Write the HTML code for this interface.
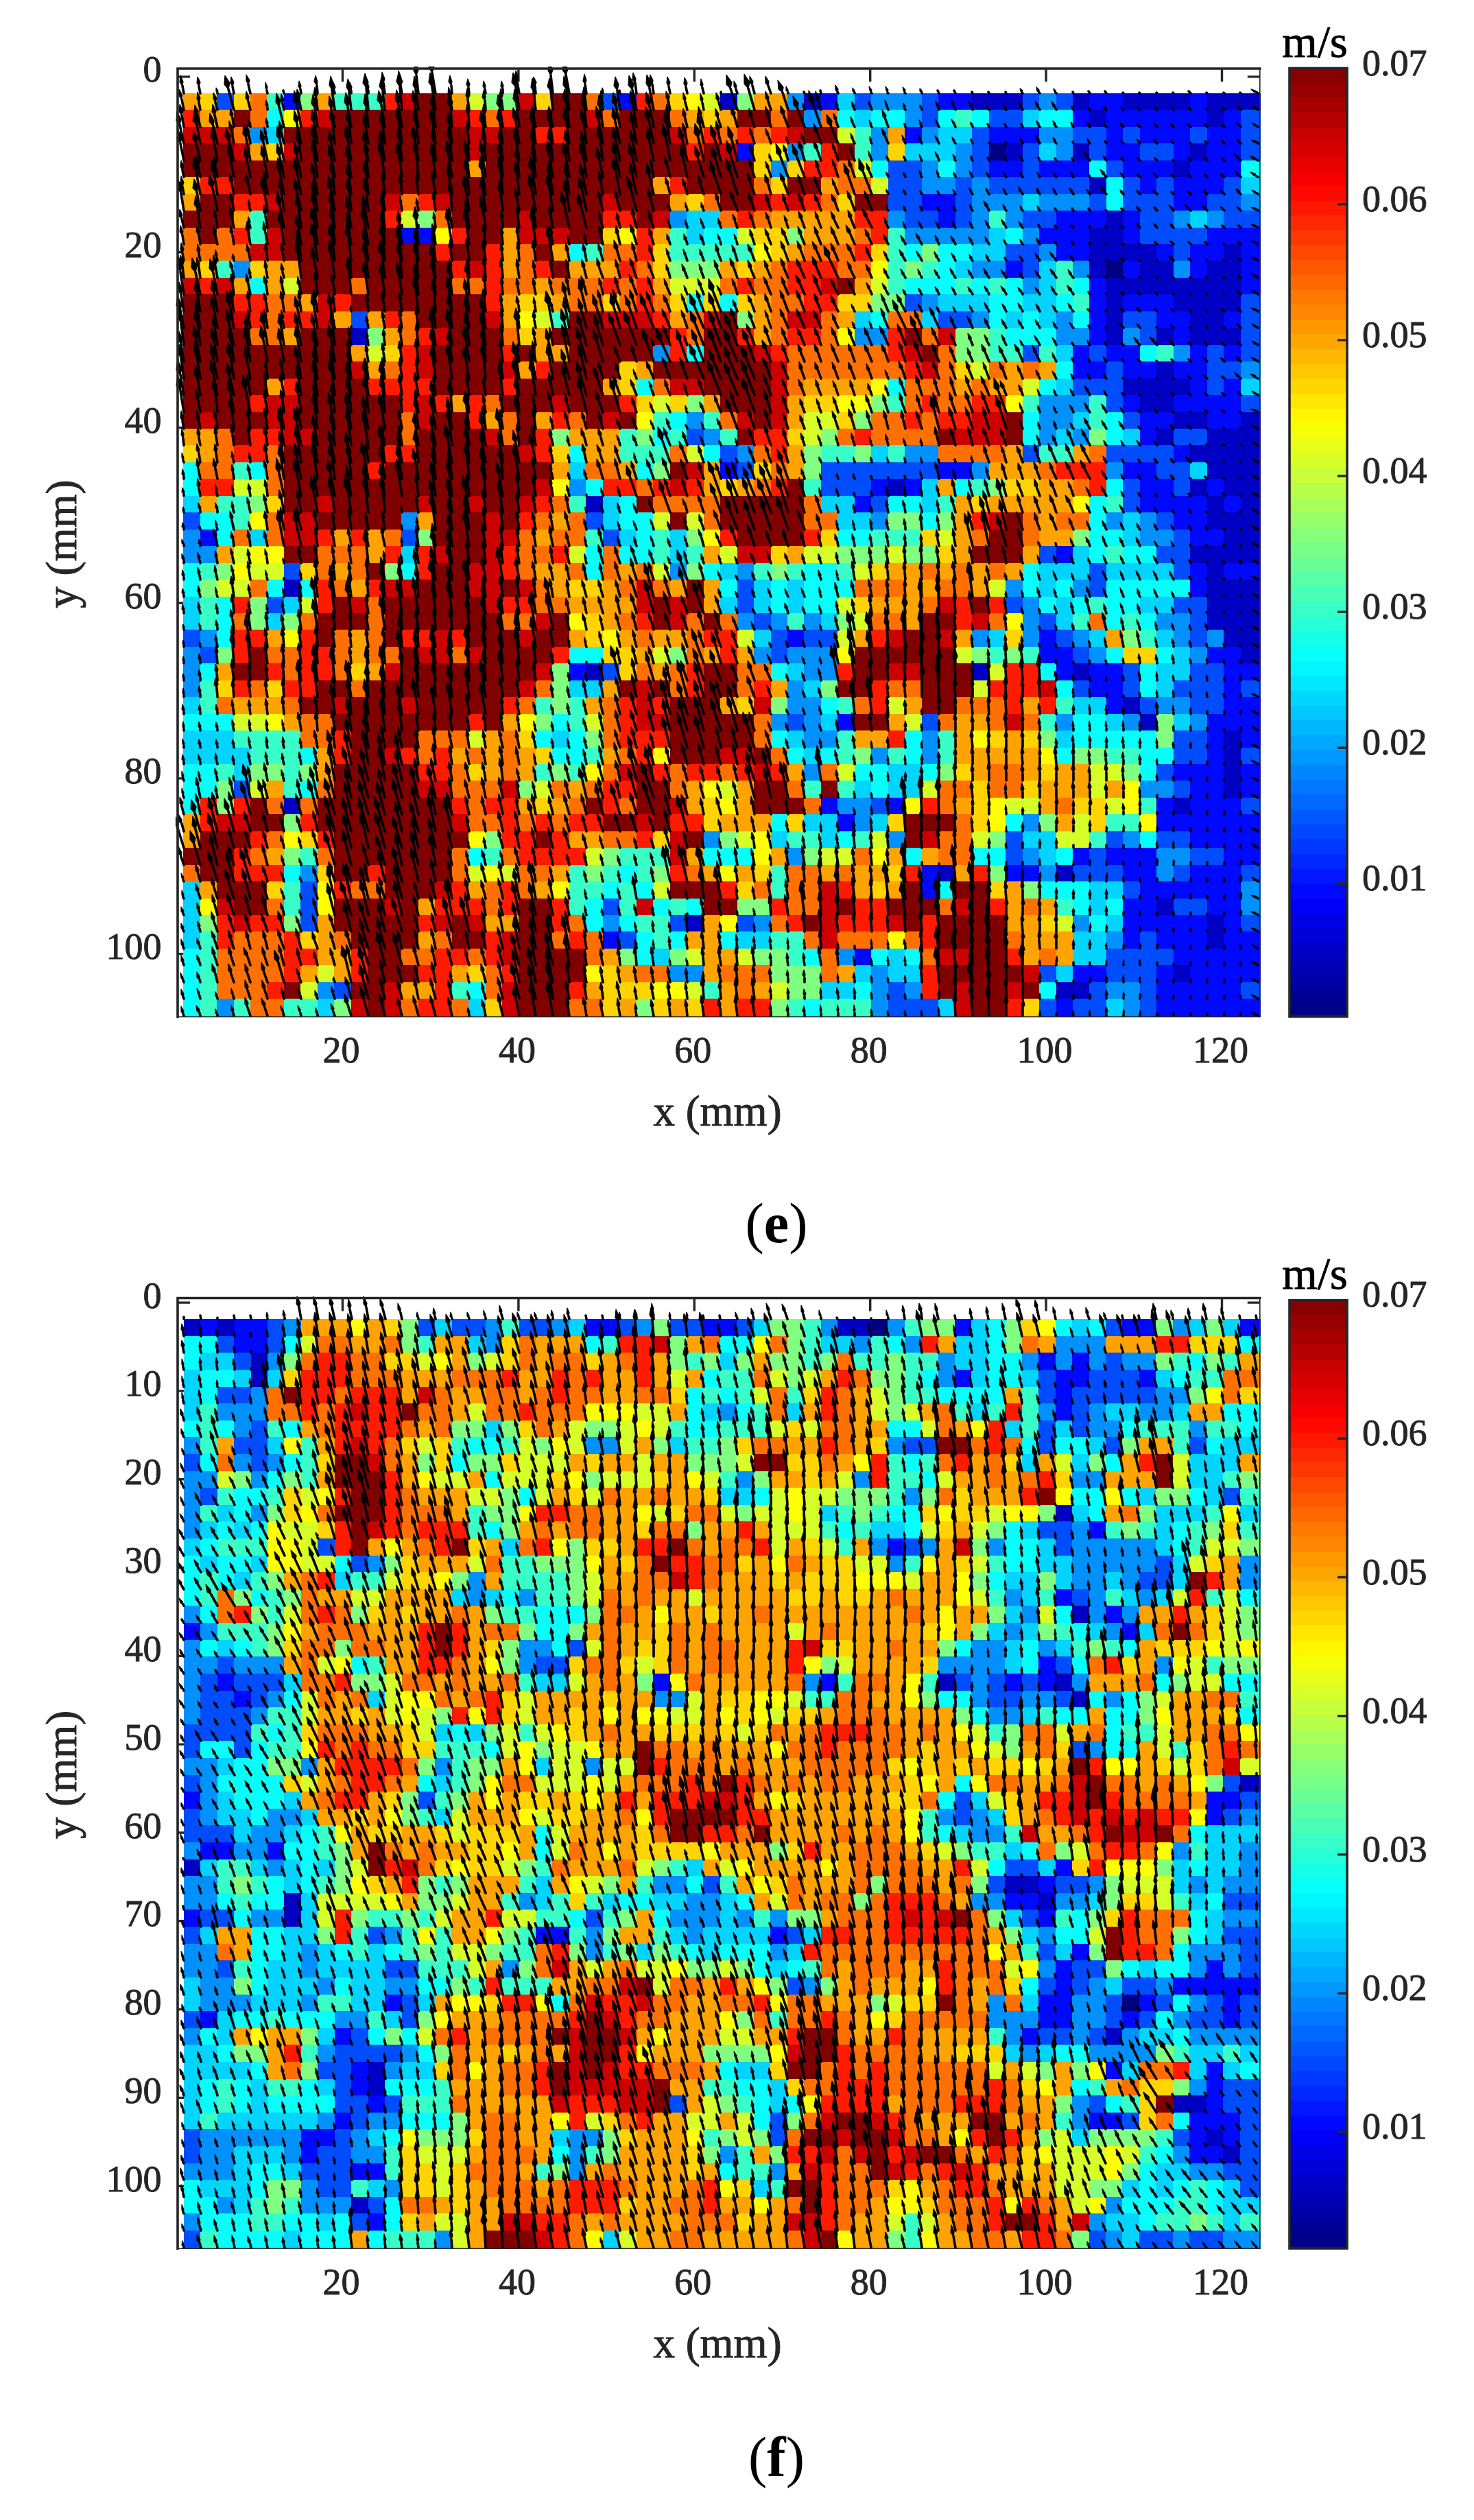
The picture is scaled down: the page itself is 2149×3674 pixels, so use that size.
<!DOCTYPE html>
<html><head><meta charset="utf-8"><title>Figure e f</title>
<style>
html,body{margin:0;padding:0;background:#fff}
svg{display:block}
text{font-family:"Liberation Serif","DejaVu Serif",serif;fill:#262626}
.t{font-size:54px;stroke:#262626;stroke-width:.9px}
.l{font-size:63px;stroke:#262626;stroke-width:.9px}
.m{font-size:66px;fill:#000;stroke:#000;stroke-width:.9px}
.c{font-size:82px;fill:#000}
</style></head><body>
<svg width="2149" height="3674" viewBox="0 0 2149 3674">
<defs><linearGradient id="jet" x1="0" y1="0" x2="0" y2="1"><stop offset="0.0000" stop-color="#870000"/><stop offset="0.0156" stop-color="#870000"/><stop offset="0.0156" stop-color="#970000"/><stop offset="0.0312" stop-color="#970000"/><stop offset="0.0312" stop-color="#a70000"/><stop offset="0.0469" stop-color="#a70000"/><stop offset="0.0469" stop-color="#b70000"/><stop offset="0.0625" stop-color="#b70000"/><stop offset="0.0625" stop-color="#c70000"/><stop offset="0.0781" stop-color="#c70000"/><stop offset="0.0781" stop-color="#d70000"/><stop offset="0.0938" stop-color="#d70000"/><stop offset="0.0938" stop-color="#e70000"/><stop offset="0.1094" stop-color="#e70000"/><stop offset="0.1094" stop-color="#f70000"/><stop offset="0.1250" stop-color="#f70000"/><stop offset="0.1250" stop-color="#ff0800"/><stop offset="0.1406" stop-color="#ff0800"/><stop offset="0.1406" stop-color="#ff1800"/><stop offset="0.1562" stop-color="#ff1800"/><stop offset="0.1562" stop-color="#ff2800"/><stop offset="0.1719" stop-color="#ff2800"/><stop offset="0.1719" stop-color="#ff3800"/><stop offset="0.1875" stop-color="#ff3800"/><stop offset="0.1875" stop-color="#ff4800"/><stop offset="0.2031" stop-color="#ff4800"/><stop offset="0.2031" stop-color="#ff5800"/><stop offset="0.2188" stop-color="#ff5800"/><stop offset="0.2188" stop-color="#ff6800"/><stop offset="0.2344" stop-color="#ff6800"/><stop offset="0.2344" stop-color="#ff7800"/><stop offset="0.2500" stop-color="#ff7800"/><stop offset="0.2500" stop-color="#ff8700"/><stop offset="0.2656" stop-color="#ff8700"/><stop offset="0.2656" stop-color="#ff9700"/><stop offset="0.2812" stop-color="#ff9700"/><stop offset="0.2812" stop-color="#ffa700"/><stop offset="0.2969" stop-color="#ffa700"/><stop offset="0.2969" stop-color="#ffb700"/><stop offset="0.3125" stop-color="#ffb700"/><stop offset="0.3125" stop-color="#ffc700"/><stop offset="0.3281" stop-color="#ffc700"/><stop offset="0.3281" stop-color="#ffd700"/><stop offset="0.3438" stop-color="#ffd700"/><stop offset="0.3438" stop-color="#ffe700"/><stop offset="0.3594" stop-color="#ffe700"/><stop offset="0.3594" stop-color="#fff700"/><stop offset="0.3750" stop-color="#fff700"/><stop offset="0.3750" stop-color="#f7ff08"/><stop offset="0.3906" stop-color="#f7ff08"/><stop offset="0.3906" stop-color="#e7ff18"/><stop offset="0.4062" stop-color="#e7ff18"/><stop offset="0.4062" stop-color="#d7ff28"/><stop offset="0.4219" stop-color="#d7ff28"/><stop offset="0.4219" stop-color="#c7ff38"/><stop offset="0.4375" stop-color="#c7ff38"/><stop offset="0.4375" stop-color="#b7ff48"/><stop offset="0.4531" stop-color="#b7ff48"/><stop offset="0.4531" stop-color="#a7ff58"/><stop offset="0.4688" stop-color="#a7ff58"/><stop offset="0.4688" stop-color="#97ff68"/><stop offset="0.4844" stop-color="#97ff68"/><stop offset="0.4844" stop-color="#87ff78"/><stop offset="0.5000" stop-color="#87ff78"/><stop offset="0.5000" stop-color="#78ff87"/><stop offset="0.5156" stop-color="#78ff87"/><stop offset="0.5156" stop-color="#68ff97"/><stop offset="0.5312" stop-color="#68ff97"/><stop offset="0.5312" stop-color="#58ffa7"/><stop offset="0.5469" stop-color="#58ffa7"/><stop offset="0.5469" stop-color="#48ffb7"/><stop offset="0.5625" stop-color="#48ffb7"/><stop offset="0.5625" stop-color="#38ffc7"/><stop offset="0.5781" stop-color="#38ffc7"/><stop offset="0.5781" stop-color="#28ffd7"/><stop offset="0.5938" stop-color="#28ffd7"/><stop offset="0.5938" stop-color="#18ffe7"/><stop offset="0.6094" stop-color="#18ffe7"/><stop offset="0.6094" stop-color="#08fff7"/><stop offset="0.6250" stop-color="#08fff7"/><stop offset="0.6250" stop-color="#00f7ff"/><stop offset="0.6406" stop-color="#00f7ff"/><stop offset="0.6406" stop-color="#00e7ff"/><stop offset="0.6562" stop-color="#00e7ff"/><stop offset="0.6562" stop-color="#00d7ff"/><stop offset="0.6719" stop-color="#00d7ff"/><stop offset="0.6719" stop-color="#00c7ff"/><stop offset="0.6875" stop-color="#00c7ff"/><stop offset="0.6875" stop-color="#00b7ff"/><stop offset="0.7031" stop-color="#00b7ff"/><stop offset="0.7031" stop-color="#00a7ff"/><stop offset="0.7188" stop-color="#00a7ff"/><stop offset="0.7188" stop-color="#0097ff"/><stop offset="0.7344" stop-color="#0097ff"/><stop offset="0.7344" stop-color="#0087ff"/><stop offset="0.7500" stop-color="#0087ff"/><stop offset="0.7500" stop-color="#0078ff"/><stop offset="0.7656" stop-color="#0078ff"/><stop offset="0.7656" stop-color="#0068ff"/><stop offset="0.7812" stop-color="#0068ff"/><stop offset="0.7812" stop-color="#0058ff"/><stop offset="0.7969" stop-color="#0058ff"/><stop offset="0.7969" stop-color="#0048ff"/><stop offset="0.8125" stop-color="#0048ff"/><stop offset="0.8125" stop-color="#0038ff"/><stop offset="0.8281" stop-color="#0038ff"/><stop offset="0.8281" stop-color="#0028ff"/><stop offset="0.8438" stop-color="#0028ff"/><stop offset="0.8438" stop-color="#0018ff"/><stop offset="0.8594" stop-color="#0018ff"/><stop offset="0.8594" stop-color="#0008ff"/><stop offset="0.8750" stop-color="#0008ff"/><stop offset="0.8750" stop-color="#0000f7"/><stop offset="0.8906" stop-color="#0000f7"/><stop offset="0.8906" stop-color="#0000e7"/><stop offset="0.9062" stop-color="#0000e7"/><stop offset="0.9062" stop-color="#0000d7"/><stop offset="0.9219" stop-color="#0000d7"/><stop offset="0.9219" stop-color="#0000c7"/><stop offset="0.9375" stop-color="#0000c7"/><stop offset="0.9375" stop-color="#0000b7"/><stop offset="0.9531" stop-color="#0000b7"/><stop offset="0.9531" stop-color="#0000a7"/><stop offset="0.9688" stop-color="#0000a7"/><stop offset="0.9688" stop-color="#000097"/><stop offset="0.9844" stop-color="#000097"/><stop offset="0.9844" stop-color="#000087"/><stop offset="1.0000" stop-color="#000087"/></linearGradient></defs>
<rect width="2149" height="3674" fill="#fff"/>
<path d="M499.5 100.0v19M499.5 1482.4v-19M755.9 100.0v19M755.9 1482.4v-19M1012.3 100.0v19M1012.3 1482.4v-19M1268.7 100.0v19M1268.7 1482.4v-19M1525.1 100.0v19M1525.1 1482.4v-19M1781.5 100.0v19M1781.5 1482.4v-19M259.0 111.9h18M1836.8 111.9h-18M259.0 367.7h18M1836.8 367.7h-18M259.0 623.4h18M1836.8 623.4h-18M259.0 879.2h18M1836.8 879.2h-18M259.0 1134.9h18M1836.8 1134.9h-18M259.0 1390.7h18M1836.8 1390.7h-18" stroke="#262626" stroke-width="3.4" fill="none"/>
<g shape-rendering="crispEdges">
<path fill="#000080" d="M1442 209h24v25h-24zM1613 380h24v25h-24z"/>
<path fill="#0000c4" d="M1050 136h25v24h-25zM1172 136h25v24h-25zM1417 136h74v24h-74zM1564 136h24v24h-24zM1637 136h98v24h-98zM1760 136h78v24h-78zM1588 160h25v25h-25zM1760 160h24v25h-24zM1466 209h25v25h-25zM1564 209h24v25h-24zM1735 209h25v25h-25zM1711 234h24v24h-24zM1588 258h25v25h-25zM1613 307h24v25h-24zM1588 332h49v24h-49zM1588 356h98v24h-98zM1784 356h25v24h-25zM1588 380h25v25h-25zM1662 380h49v25h-49zM1760 380h49v25h-49zM1613 405h196v24h-196zM1613 429h24v25h-24zM1711 429h98v25h-98zM1613 454h24v24h-24zM1735 454h49v24h-49zM512 478h24v25h-24zM1613 478h24v25h-24zM1686 478h25v25h-25zM1735 478h74v25h-74zM1686 527h25v25h-25zM1637 552h98v24h-98zM1662 576h49v25h-49zM1711 601h49v24h-49zM1809 601h29v24h-29zM1686 625h25v24h-25zM1760 625h78v24h-78zM1735 649h103v25h-103zM1760 674h78v24h-78zM1295 698h24v25h-24zM1735 698h25v25h-25zM1784 698h54v25h-54zM854 723h25v24h-25zM1760 723h24v24h-24zM1809 723h29v24h-29zM1760 747h78v25h-78zM1784 772h54v24h-54zM1735 796h103v25h-103zM1760 821h24v24h-24zM414 845h24v25h-24zM1760 845h78v25h-78zM1760 870h78v24h-78zM1760 894h78v24h-78zM1784 918h54v25h-54zM1809 943h29v24h-29zM854 967h25v25h-25zM1417 967h25v25h-25zM1564 967h24v25h-24zM1637 1016h25v25h-25zM1662 1041h24v24h-24zM1784 1065h25v25h-25zM1784 1090h25v24h-25zM1784 1114h25v24h-25zM1784 1138h25v25h-25zM414 1163h24v24h-24zM1711 1163h24v24h-24zM1368 1261h25v24h-25zM1540 1261h24v24h-24zM1686 1310h25v24h-25zM1001 1334h25v24h-25zM1760 1334h24v24h-24zM1760 1358h24v25h-24zM1711 1407h24v25h-24zM1540 1432h48v24h-48z"/>
<path fill="#0008ff" d="M414 136h24v24h-24zM903 136h25v24h-25zM1197 136h24v24h-24zM1368 136h49v24h-49zM1588 136h49v24h-49zM1735 136h25v24h-25zM1564 160h24v25h-24zM1613 160h147v25h-147zM1784 160h25v25h-25zM1319 185h25v24h-25zM1442 185h73v24h-73zM1613 185h24v24h-24zM1662 185h73v24h-73zM1760 185h49v24h-49zM1075 209h24v25h-24zM1613 209h49v25h-49zM1711 209h24v25h-24zM1760 209h49v25h-49zM1442 234h49v24h-49zM1515 234h73v24h-73zM1637 234h74v24h-74zM1735 234h74v24h-74zM1662 258h24v25h-24zM1711 258h73v25h-73zM1344 283h49v24h-49zM1711 283h49v24h-49zM1368 307h25v25h-25zM1540 307h73v25h-73zM1637 307h25v25h-25zM585 332h49v24h-49zM1515 332h73v24h-73zM1637 332h25v24h-25zM1760 332h78v24h-78zM1540 356h48v24h-48zM1686 356h25v24h-25zM1735 356h49v24h-49zM1809 356h29v24h-29zM1466 380h25v25h-25zM1637 380h25v25h-25zM1735 380h25v25h-25zM1809 380h29v25h-29zM1588 405h25v24h-25zM1809 405h29v24h-29zM1588 429h25v25h-25zM1637 429h74v25h-74zM1588 454h25v24h-25zM1686 454h49v24h-49zM1784 454h25v24h-25zM1588 478h25v25h-25zM1711 478h24v25h-24zM1564 503h24v24h-24zM1613 503h49v24h-49zM1735 503h25v24h-25zM1784 503h25v24h-25zM1564 527h49v25h-49zM1637 527h49v25h-49zM1711 527h49v25h-49zM1735 552h25v24h-25zM1784 552h25v24h-25zM1637 576h25v25h-25zM1711 576h98v25h-98zM1662 601h49v24h-49zM1760 601h49v24h-49zM1662 625h24v24h-24zM1711 649h24v25h-24zM1050 674h25v24h-25zM1368 674h49v24h-49zM1637 674h49v24h-49zM1270 698h25v25h-25zM1319 698h25v25h-25zM1662 698h49v25h-49zM1760 698h24v25h-24zM1246 723h24v24h-24zM1662 723h98v24h-98zM1784 723h25v24h-25zM1711 747h49v25h-49zM292 772h24v24h-24zM1735 772h49v24h-49zM1540 796h24v25h-24zM1735 821h25v24h-25zM1784 821h54v24h-54zM1735 845h25v25h-25zM1148 918h24v25h-24zM1515 918h25v25h-25zM1515 943h49v24h-49zM1760 943h49v24h-49zM830 967h24v25h-24zM1540 967h24v25h-24zM1588 967h49v25h-49zM1784 967h54v25h-54zM1588 992h49v24h-49zM1784 992h25v24h-25zM1613 1016h24v25h-24zM1784 1016h54v25h-54zM1221 1041h25v24h-25zM1760 1041h78v24h-78zM1760 1065h24v25h-24zM1809 1065h29v25h-29zM1760 1090h24v24h-24zM1711 1114h73v24h-73zM1809 1114h29v24h-29zM1735 1138h49v25h-49zM1809 1138h29v25h-29zM1197 1163h24v24h-24zM1295 1163h24v24h-24zM1686 1163h25v24h-25zM1735 1163h74v24h-74zM1221 1187h25v25h-25zM1686 1187h152v25h-152zM1735 1212h103v24h-103zM1564 1236h24v25h-24zM1613 1236h73v25h-73zM1784 1236h54v25h-54zM1344 1261h24v24h-24zM1466 1261h49v24h-49zM1637 1261h49v24h-49zM1735 1261h74v24h-74zM1344 1285h24v25h-24zM1662 1285h147v25h-147zM1637 1310h49v24h-49zM1760 1310h49v24h-49zM1637 1334h123v24h-123zM1784 1334h25v24h-25zM879 1358h24v25h-24zM1637 1358h25v25h-25zM1686 1358h74v25h-74zM1784 1358h54v25h-54zM1246 1383h24v24h-24zM1711 1383h127v24h-127zM1564 1407h49v25h-49zM1686 1407h25v25h-25zM1735 1407h103v25h-103zM1686 1432h123v24h-123zM1540 1456h24v27h-24zM1686 1456h152v27h-152z"/>
<path fill="#004dff" d="M316 136h25v24h-25zM879 136h24v24h-24zM1246 136h24v24h-24zM1344 136h24v24h-24zM1491 136h24v24h-24zM1540 136h24v24h-24zM1344 160h24v25h-24zM1442 160h49v25h-49zM1809 160h29v25h-29zM1417 185h25v24h-25zM1564 185h49v24h-49zM1637 185h25v24h-25zM1735 185h25v24h-25zM1809 185h29v24h-29zM1417 209h25v25h-25zM1491 209h24v25h-24zM1588 209h25v25h-25zM1662 209h49v25h-49zM1809 209h29v25h-29zM1295 234h49v24h-49zM1417 234h25v24h-25zM1491 234h24v24h-24zM1613 234h24v24h-24zM1295 258h49v25h-49zM1393 258h24v25h-24zM1442 258h146v25h-146zM1637 258h25v25h-25zM1686 258h25v25h-25zM1784 258h25v25h-25zM1295 283h49v24h-49zM1393 283h24v24h-24zM1588 283h25v24h-25zM1637 283h74v24h-74zM1760 283h49v24h-49zM1319 307h49v25h-49zM1393 307h24v25h-24zM1491 307h49v25h-49zM1662 307h49v25h-49zM1784 307h54v25h-54zM1662 332h98v24h-98zM1466 356h49v24h-49zM1711 356h24v24h-24zM1491 380h24v25h-24zM1319 429h25v25h-25zM1809 429h29v25h-29zM512 454h24v24h-24zM1368 454h49v24h-49zM1637 454h49v24h-49zM1809 454h29v24h-29zM1662 478h24v25h-24zM1809 478h29v25h-29zM1491 503h24v24h-24zM1588 503h25v24h-25zM1760 503h24v24h-24zM1809 503h29v24h-29zM1613 527h24v25h-24zM1760 527h49v25h-49zM1564 552h73v24h-73zM1760 552h24v24h-24zM1613 576h24v25h-24zM1809 576h29v25h-29zM1637 601h25v24h-25zM1001 625h25v24h-25zM1711 625h49v24h-49zM1050 649h25v25h-25zM1491 649h24v25h-24zM1613 649h98v25h-98zM1075 674h24v24h-24zM1197 674h171v24h-171zM1686 674h49v24h-49zM1197 698h73v25h-73zM1637 698h25v25h-25zM1711 698h24v25h-24zM1270 723h25v24h-25zM1637 723h25v24h-25zM267 747h25v25h-25zM854 747h25v25h-25zM1686 747h25v25h-25zM585 772h25v24h-25zM879 772h24v24h-24zM1711 772h24v24h-24zM1515 796h25v25h-25zM1686 796h49v25h-49zM414 821h24v24h-24zM1588 821h25v24h-25zM1711 821h24v24h-24zM1075 845h24v25h-24zM1588 845h25v25h-25zM389 870h25v24h-25zM1075 870h24v24h-24zM1466 870h25v24h-25zM1711 870h49v24h-49zM1099 894h25v24h-25zM1515 894h25v24h-25zM1735 894h25v24h-25zM267 918h25v25h-25zM1124 918h24v25h-24zM1172 918h49v25h-49zM1540 918h24v25h-24zM1735 918h25v25h-25zM292 943h24v24h-24zM1124 943h24v24h-24zM1564 943h24v24h-24zM879 967h24v25h-24zM1637 967h25v25h-25zM1735 967h49v25h-49zM1564 992h24v24h-24zM1637 992h25v24h-25zM1711 992h73v24h-73zM1809 992h29v24h-29zM1662 1016h24v25h-24zM1735 1016h49v25h-49zM1148 1041h24v24h-24zM1344 1041h24v24h-24zM1711 1065h49v25h-49zM1711 1090h49v24h-49zM1809 1090h29v24h-29zM1686 1114h25v24h-25zM341 1138h24v25h-24zM1711 1138h24v25h-24zM1270 1163h25v24h-25zM1809 1163h29v24h-29zM1466 1212h25v24h-25zM1613 1212h24v24h-24zM1686 1212h49v24h-49zM1466 1236h25v25h-25zM1588 1236h25v25h-25zM1735 1236h49v25h-49zM1564 1261h73v24h-73zM1711 1261h24v24h-24zM1809 1261h29v24h-29zM438 1285h25v25h-25zM1637 1285h25v25h-25zM438 1310h25v24h-25zM879 1310h24v24h-24zM1711 1310h49v24h-49zM438 1334h25v24h-25zM977 1334h24v24h-24zM1075 1334h24v24h-24zM1809 1334h29v24h-29zM903 1358h25v25h-25zM1662 1358h24v25h-24zM1613 1383h98v24h-98zM1515 1407h25v25h-25zM1613 1407h73v25h-73zM487 1432h25v24h-25zM1295 1432h24v24h-24zM1588 1432h25v24h-25zM1662 1432h24v24h-24zM1809 1432h29v24h-29zM1295 1456h73v27h-73zM1515 1456h25v27h-25zM1564 1456h49v27h-49zM1662 1456h24v27h-24z"/>
<path fill="#0091ff" d="M1148 136h24v24h-24zM1270 136h74v24h-74zM1515 136h25v24h-25zM1172 160h25v25h-25zM1319 160h25v25h-25zM365 185h24v24h-24zM1270 185h25v24h-25zM1344 185h24v24h-24zM1515 185h49v24h-49zM1148 209h24v25h-24zM1270 209h25v25h-25zM1393 209h24v25h-24zM1540 209h24v25h-24zM1124 234h24v24h-24zM1344 234h24v24h-24zM1393 234h24v24h-24zM1344 258h49v25h-49zM1417 258h25v25h-25zM1417 283h74v24h-74zM1515 283h73v24h-73zM1809 283h29v24h-29zM977 307h24v25h-24zM1295 307h24v25h-24zM1417 307h25v25h-25zM1466 307h25v25h-25zM1711 307h24v25h-24zM1760 307h24v25h-24zM1319 332h123v24h-123zM1491 332h24v24h-24zM1515 356h25v24h-25zM341 380h24v25h-24zM1417 380h49v25h-49zM1564 380h24v25h-24zM1711 380h24v25h-24zM1491 405h24v24h-24zM1344 429h24v25h-24zM1417 454h25v24h-25zM1540 454h24v24h-24zM1246 478h49v25h-49zM1540 478h48v25h-48zM1637 478h25v25h-25zM952 503h25v24h-25zM1711 503h24v24h-24zM1809 527h29v25h-29zM1515 576h73v25h-73zM1001 601h25v24h-25zM1515 601h49v24h-49zM1026 625h24v24h-24zM1515 625h25v24h-25zM1564 625h24v24h-24zM1075 649h24v25h-24zM1319 649h49v25h-49zM1417 674h25v24h-25zM1613 674h24v24h-24zM830 698h24v25h-24zM585 747h25v25h-25zM1270 747h25v25h-25zM1613 747h24v25h-24zM1662 747h24v25h-24zM267 772h25v24h-25zM1662 772h49v24h-49zM267 796h49v25h-49zM977 821h24v24h-24zM1075 821h24v24h-24zM1466 845h25v25h-25zM1564 845h24v25h-24zM1491 870h24v24h-24zM1075 894h24v24h-24zM1124 894h24v24h-24zM1172 894h25v24h-25zM1491 894h24v24h-24zM1686 894h49v24h-49zM292 918h24v25h-24zM1417 918h25v25h-25zM1491 918h24v25h-24zM1564 918h24v25h-24zM1711 918h24v25h-24zM1760 918h24v25h-24zM267 943h25v24h-25zM1099 943h25v24h-25zM1148 943h73v24h-73zM1588 943h25v24h-25zM1735 943h25v24h-25zM267 967h25v25h-25zM1172 967h49v25h-49zM267 992h25v24h-25zM1148 992h24v24h-24zM1148 1016h49v25h-49zM1686 1016h49v25h-49zM1124 1041h24v24h-24zM1172 1041h25v24h-25zM1540 1041h24v24h-24zM1637 1041h25v24h-25zM1735 1041h25v24h-25zM1172 1065h49v25h-49zM1344 1065h24v25h-24zM1270 1090h25v24h-25zM1344 1090h24v24h-24zM1172 1114h25v24h-25zM1662 1138h49v25h-49zM1221 1163h49v24h-49zM1246 1187h24v25h-24zM1491 1187h24v25h-24zM1026 1212h24v24h-24zM1295 1212h24v24h-24zM1637 1212h25v24h-25zM1148 1236h24v25h-24zM1491 1236h24v25h-24zM1686 1236h49v25h-49zM438 1261h25v24h-25zM1515 1261h25v24h-25zM1686 1261h25v24h-25zM1809 1285h29v25h-29zM1809 1310h29v24h-29zM879 1334h24v24h-24zM1099 1334h25v24h-25zM1564 1334h24v24h-24zM1613 1358h24v25h-24zM1221 1383h25v24h-25zM977 1407h49v25h-49zM1270 1407h25v25h-25zM463 1432h24v24h-24zM1270 1432h25v24h-25zM1319 1432h25v24h-25zM1613 1432h49v24h-49zM316 1456h25v27h-25zM1270 1456h25v27h-25zM1637 1456h25v27h-25z"/>
<path fill="#00d4ff" d="M1221 136h25v24h-25zM1246 160h24v25h-24zM1491 160h24v25h-24zM389 185h25v24h-25zM1368 185h49v24h-49zM1319 209h74v25h-74zM1515 209h25v25h-25zM1809 258h29v25h-29zM1491 283h24v24h-24zM1001 307h49v25h-49zM1735 307h25v25h-25zM1001 332h25v24h-25zM1442 332h24v24h-24zM1417 356h49v24h-49zM1393 380h24v25h-24zM1515 380h25v25h-25zM1515 405h25v24h-25zM1368 429h74v25h-74zM1491 429h49v25h-49zM1246 454h24v24h-24zM1344 454h24v24h-24zM1466 454h25v24h-25zM1515 454h25v24h-25zM1540 503h24v24h-24zM1540 552h24v24h-24zM1809 552h29v24h-29zM1564 601h24v24h-24zM1540 625h24v24h-24zM1637 625h25v24h-25zM1270 649h25v25h-25zM830 674h24v24h-24zM1735 674h25v24h-25zM1344 698h24v25h-24zM267 723h25v24h-25zM879 723h24v24h-24zM1197 723h49v24h-49zM1344 723h24v24h-24zM879 747h24v25h-24zM1221 747h49v25h-49zM1637 747h25v25h-25zM365 772h24v24h-24zM903 772h25v24h-25zM977 772h24v24h-24zM1637 772h25v24h-25zM585 796h25v25h-25zM977 796h24v25h-24zM1564 796h24v25h-24zM1050 821h25v24h-25zM1515 821h73v24h-73zM1613 821h98v24h-98zM1099 845h25v25h-25zM1148 845h24v25h-24zM1515 845h25v25h-25zM267 870h25v24h-25zM414 870h24v24h-24zM1050 870h25v24h-25zM1099 870h25v24h-25zM1148 870h24v24h-24zM1540 870h24v24h-24zM1662 870h49v24h-49zM267 894h25v24h-25zM389 894h25v24h-25zM1197 894h24v24h-24zM1540 894h24v24h-24zM1099 918h25v25h-25zM1442 918h24v25h-24zM1588 918h25v25h-25zM1686 918h25v25h-25zM1711 943h24v24h-24zM1148 967h24v25h-24zM1686 967h49v25h-49zM830 992h49v24h-49zM1172 992h25v24h-25zM1686 992h25v24h-25zM267 1016h25v25h-25zM1564 1016h49v25h-49zM1197 1041h24v24h-24zM1613 1041h24v24h-24zM1711 1041h24v24h-24zM267 1065h74v25h-74zM805 1065h25v25h-25zM1148 1065h24v25h-24zM1540 1065h24v25h-24zM267 1090h98v24h-98zM1172 1090h25v24h-25zM341 1114h24v24h-24zM1295 1114h49v24h-49zM1246 1138h24v25h-24zM1295 1138h49v25h-49zM1172 1187h49v25h-49zM1270 1187h25v25h-25zM1124 1212h24v24h-24zM1197 1212h24v24h-24zM1491 1212h49v24h-49zM1515 1236h25v25h-25zM267 1285h25v25h-25zM1588 1285h49v25h-49zM267 1310h25v24h-25zM1588 1310h25v24h-25zM267 1334h25v24h-25zM1613 1334h24v24h-24zM267 1358h25v25h-25zM1075 1358h49v25h-49zM1564 1358h49v25h-49zM952 1383h25v24h-25zM1295 1383h24v24h-24zM1564 1383h49v24h-49zM1246 1407h24v25h-24zM1295 1407h49v25h-49zM1540 1407h24v25h-24zM1197 1432h49v24h-49zM463 1456h24v27h-24zM683 1456h25v27h-25zM1368 1456h25v27h-25zM1613 1456h24v27h-24z"/>
<path fill="#05fffa" d="M389 160h25v25h-25zM1221 160h25v25h-25zM1270 160h49v25h-49zM1368 160h25v25h-25zM1417 160h25v25h-25zM1515 160h49v25h-49zM1270 234h25v24h-25zM1368 234h25v24h-25zM1588 234h25v24h-25zM1809 234h29v24h-29zM1613 258h24v25h-24zM1613 283h24v24h-24zM1026 332h49v24h-49zM1466 332h25v24h-25zM830 356h24v24h-24zM1319 356h25v24h-25zM1368 356h49v24h-49zM1368 380h25v25h-25zM365 405h24v24h-24zM1319 405h74v24h-74zM1417 405h25v24h-25zM1466 405h25v24h-25zM1564 405h24v24h-24zM1001 429h25v25h-25zM1050 429h25v25h-25zM1442 429h49v25h-49zM1540 429h24v25h-24zM1270 454h25v24h-25zM1442 454h24v24h-24zM1491 454h24v24h-24zM1564 454h24v24h-24zM1466 478h74v25h-74zM1001 503h25v24h-25zM1662 503h24v24h-24zM1540 527h24v25h-24zM928 552h24v24h-24zM1295 552h24v24h-24zM1515 552h25v24h-25zM977 601h24v24h-24zM1491 601h24v24h-24zM1613 601h24v24h-24zM952 625h25v24h-25zM1491 625h24v24h-24zM1613 625h24v24h-24zM830 649h24v25h-24zM1026 649h24v25h-24zM267 674h25v24h-25zM365 674h24v24h-24zM928 674h24v24h-24zM267 698h25v25h-25zM854 698h25v25h-25zM1393 698h24v25h-24zM1613 698h24v25h-24zM903 723h25v24h-25zM1295 723h49v24h-49zM1588 723h25v24h-25zM292 747h49v25h-49zM903 747h49v25h-49zM1344 747h24v25h-24zM1588 747h25v25h-25zM316 772h25v24h-25zM928 772h24v24h-24zM1221 772h49v24h-49zM1588 772h49v24h-49zM854 796h25v25h-25zM903 796h49v25h-49zM1588 796h25v25h-25zM1637 796h49v25h-49zM267 821h25v24h-25zM585 821h25v24h-25zM854 821h25v24h-25zM1026 821h24v24h-24zM1172 821h49v24h-49zM1491 821h24v24h-24zM267 845h25v25h-25zM389 845h25v25h-25zM438 845h25v25h-25zM1050 845h25v25h-25zM1124 845h24v25h-24zM1172 845h74v25h-74zM1491 845h24v25h-24zM1540 845h24v25h-24zM1613 845h122v25h-122zM316 870h25v24h-25zM1124 870h24v24h-24zM1172 870h49v24h-49zM1515 870h25v24h-25zM1564 870h24v24h-24zM1613 870h49v24h-49zM316 894h25v24h-25zM1613 894h24v24h-24zM1662 894h24v24h-24zM316 918h25v25h-25zM830 943h49v24h-49zM1613 943h24v24h-24zM1686 943h25v24h-25zM292 967h24v25h-24zM1124 967h24v25h-24zM1515 967h25v25h-25zM1662 967h24v25h-24zM1540 992h24v24h-24zM1662 992h24v24h-24zM1197 1016h24v25h-24zM267 1041h74v24h-74zM805 1041h25v24h-25zM1564 1041h49v24h-49zM781 1065h24v25h-24zM830 1065h24v25h-24zM1124 1065h24v25h-24zM1319 1065h25v25h-25zM1564 1065h122v25h-122zM438 1090h25v24h-25zM805 1090h49v24h-49zM1148 1090h24v24h-24zM1197 1090h24v24h-24zM1319 1090h25v24h-25zM1540 1090h24v24h-24zM1662 1090h49v24h-49zM267 1114h49v24h-49zM1246 1114h49v24h-49zM1344 1114h24v24h-24zM1662 1114h24v24h-24zM267 1138h49v25h-49zM438 1138h25v25h-25zM1270 1138h25v25h-25zM267 1163h25v24h-25zM1124 1187h24v25h-24zM1466 1187h25v25h-25zM1221 1212h25v24h-25zM1662 1212h24v24h-24zM683 1236h25v25h-25zM1026 1236h73v25h-73zM1319 1236h25v25h-25zM1417 1236h49v25h-49zM1540 1236h24v25h-24zM414 1261h24v24h-24zM903 1261h25v24h-25zM879 1285h24v25h-24zM928 1285h24v25h-24zM1368 1285h25v25h-25zM1515 1285h73v25h-73zM854 1310h25v24h-25zM952 1310h25v24h-25zM1001 1310h25v24h-25zM1564 1310h24v24h-24zM1613 1310h24v24h-24zM854 1334h25v24h-25zM903 1334h25v24h-25zM1588 1334h25v24h-25zM928 1358h24v25h-24zM977 1358h24v25h-24zM1050 1358h25v25h-25zM267 1383h25v24h-25zM928 1383h24v24h-24zM1172 1383h25v24h-25zM1270 1383h25v24h-25zM1319 1383h25v24h-25zM267 1407h25v25h-25zM267 1432h25v24h-25zM683 1432h25v24h-25zM1246 1432h24v24h-24zM1515 1432h25v24h-25zM267 1456h25v27h-25zM1172 1456h25v27h-25z"/>
<path fill="#38ffc7" d="M389 136h25v24h-25zM487 136h74v24h-74zM1393 160h24v25h-24zM1246 185h24v24h-24zM1172 209h25v25h-25zM1246 209h24v25h-24zM365 307h24v25h-24zM1442 307h24v25h-24zM365 332h24v24h-24zM977 332h24v24h-24zM1295 332h24v24h-24zM854 356h25v24h-25zM977 356h122v24h-122zM1295 356h24v24h-24zM316 380h25v25h-25zM1295 380h24v25h-24zM1344 380h24v25h-24zM1540 380h24v25h-24zM1295 405h24v24h-24zM1393 405h24v24h-24zM1442 405h24v24h-24zM1540 405h24v24h-24zM1564 429h24v25h-24zM805 454h25v24h-25zM1442 478h24v25h-24zM1442 503h49v24h-49zM1515 503h25v24h-25zM1686 503h25v24h-25zM1295 576h24v25h-24zM1491 576h24v25h-24zM1588 576h25v25h-25zM952 601h25v24h-25zM1026 601h24v24h-24zM1588 601h25v24h-25zM903 625h25v24h-25zM977 625h24v24h-24zM1050 625h25v24h-25zM903 649h74v25h-74zM1197 649h49v25h-49zM1295 649h24v25h-24zM1515 649h49v25h-49zM341 674h24v24h-24zM1172 698h25v25h-25zM1417 698h25v25h-25zM316 723h49v24h-49zM830 723h24v24h-24zM1368 723h25v24h-25zM1613 723h24v24h-24zM341 747h24v25h-24zM854 772h25v24h-25zM952 772h25v24h-25zM1270 772h74v24h-74zM952 796h25v25h-25zM1001 796h25v25h-25zM1613 796h24v25h-24zM292 821h24v24h-24zM1099 821h25v24h-25zM1148 821h24v24h-24zM1221 821h25v24h-25zM292 870h24v24h-24zM1588 870h25v24h-25zM292 894h24v24h-24zM1148 894h24v24h-24zM1564 894h24v24h-24zM1637 894h25v24h-25zM1662 918h24v25h-24zM1442 943h24v24h-24zM1491 943h24v24h-24zM292 992h24v24h-24zM292 1016h24v25h-24zM781 1016h24v25h-24zM830 1016h24v25h-24zM1221 1016h25v25h-25zM1540 1016h24v25h-24zM830 1041h24v24h-24zM1515 1041h25v24h-25zM341 1065h97v25h-97zM1221 1065h25v25h-25zM1368 1065h25v25h-25zM365 1090h73v24h-73zM854 1090h25v24h-25zM1221 1090h25v24h-25zM1295 1090h24v24h-24zM1368 1090h25v24h-25zM1613 1090h49v24h-49zM316 1114h25v24h-25zM414 1114h24v24h-24zM781 1114h24v24h-24zM830 1114h24v24h-24zM414 1138h24v25h-24zM1172 1138h25v25h-25zM1221 1138h25v25h-25zM1662 1163h24v24h-24zM1613 1187h49v25h-49zM1148 1212h49v24h-49zM1246 1212h24v24h-24zM1588 1212h25v24h-25zM438 1236h25v25h-25zM708 1236h24v25h-24zM903 1236h74v25h-74zM830 1261h24v24h-24zM879 1261h24v24h-24zM928 1261h24v24h-24zM1124 1261h24v24h-24zM414 1285h24v25h-24zM830 1285h49v25h-49zM903 1285h25v25h-25zM1124 1285h24v25h-24zM414 1310h24v24h-24zM830 1310h24v24h-24zM903 1310h25v24h-25zM977 1310h24v24h-24zM1540 1310h24v24h-24zM928 1334h49v24h-49zM292 1358h24v25h-24zM952 1358h25v25h-25zM1124 1358h48v25h-48zM292 1383h24v24h-24zM1148 1383h24v24h-24zM292 1407h24v25h-24zM292 1432h24v24h-24zM659 1432h24v24h-24zM1026 1432h24v24h-24zM292 1456h24v27h-24zM341 1456h24v27h-24zM414 1456h49v27h-49zM1148 1456h24v27h-24zM1197 1456h73v27h-73z"/>
<path fill="#80ff80" d="M438 136h25v24h-25zM708 136h48v24h-48zM1075 136h24v24h-24zM610 307h24v25h-24zM1148 332h24v24h-24zM1344 356h24v24h-24zM977 380h73v25h-73zM1319 380h25v25h-25zM1270 429h49v25h-49zM1075 454h24v24h-24zM536 478h25v25h-25zM1393 478h49v25h-49zM1393 503h49v24h-49zM1001 576h25v25h-25zM1270 576h25v25h-25zM1246 601h24v24h-24zM805 625h25v24h-25zM928 625h24v24h-24zM1197 625h24v24h-24zM1588 625h25v24h-25zM1172 649h25v25h-25zM1246 649h24v25h-24zM952 674h25v24h-25zM1172 674h25v24h-25zM1442 698h24v25h-24zM365 723h24v24h-24zM1295 747h49v25h-49zM1368 747h25v25h-25zM610 772h24v24h-24zM1001 772h25v24h-25zM1564 772h24v24h-24zM1221 796h74v25h-74zM1319 796h49v25h-49zM316 821h25v24h-25zM561 821h24v24h-24zM1001 821h25v24h-25zM1124 821h24v24h-24zM292 845h24v25h-24zM365 870h24v24h-24zM365 894h24v24h-24zM414 894h24v24h-24zM1221 894h25v24h-25zM1637 918h25v25h-25zM316 943h25v24h-25zM977 943h24v24h-24zM1417 943h25v24h-25zM1466 943h25v24h-25zM805 967h25v25h-25zM805 992h25v24h-25zM1197 992h24v24h-24zM805 1016h25v25h-25zM1124 1016h24v25h-24zM781 1041h24v24h-24zM1686 1041h25v24h-25zM854 1065h25v25h-25zM1515 1065h25v25h-25zM1686 1065h25v25h-25zM1246 1090h24v24h-24zM1564 1090h49v24h-49zM365 1114h49v24h-49zM438 1114h25v24h-25zM805 1114h25v24h-25zM1368 1114h25v24h-25zM1637 1114h25v24h-25zM316 1138h25v25h-25zM756 1138h25v25h-25zM316 1163h25v24h-25zM414 1187h24v25h-24zM1515 1187h25v25h-25zM708 1212h24v24h-24zM1050 1212h25v24h-25zM1442 1212h24v24h-24zM414 1236h24v25h-24zM879 1236h24v25h-24zM1172 1236h25v25h-25zM854 1261h25v24h-25zM952 1261h25v24h-25zM1442 1261h24v24h-24zM1491 1285h24v25h-24zM1075 1310h49v24h-49zM292 1334h24v24h-24zM414 1334h24v24h-24zM903 1383h25v24h-25zM977 1383h24v24h-24zM1099 1383h49v24h-49zM1124 1407h73v25h-73zM1148 1432h49v24h-49zM487 1456h25v27h-25zM928 1456h24v27h-24zM1124 1456h24v27h-24z"/>
<path fill="#d6ff29" d="M683 136h25v24h-25zM1026 136h24v24h-24zM1221 185h25v24h-25zM1246 234h24v24h-24zM1270 258h25v25h-25zM585 307h25v25h-25zM1075 332h24v24h-24zM414 405h24v24h-24zM977 405h73v24h-73zM1270 405h25v24h-25zM781 454h24v24h-24zM536 503h25v24h-25zM1417 527h25v25h-25zM1491 552h24v24h-24zM952 576h25v25h-25zM1172 601h49v24h-49zM1172 625h25v24h-25zM1001 649h25v25h-25zM341 698h48v25h-48zM952 747h25v25h-25zM1001 747h25v25h-25zM1368 772h25v24h-25zM341 796h24v25h-24zM830 796h24v25h-24zM1050 796h25v25h-25zM1172 796h49v25h-49zM1295 796h24v25h-24zM365 821h49v24h-49zM952 821h25v24h-25zM1246 821h24v24h-24zM316 845h49v25h-49zM1442 845h24v25h-24zM438 870h25v24h-25zM1221 870h25v24h-25zM1246 894h24v24h-24zM1075 918h24v25h-24zM1221 918h25v25h-25zM952 943h25v24h-25zM1393 943h24v24h-24zM1442 967h24v25h-24zM1417 992h25v24h-25zM1295 1016h24v25h-24zM341 1041h48v24h-48zM854 1041h25v24h-25zM1319 1041h25v24h-25zM683 1065h25v25h-25zM1221 1114h25v24h-25zM1588 1114h49v24h-49zM365 1138h24v25h-24zM781 1138h24v25h-24zM1050 1138h25v25h-25zM1344 1138h24v25h-24zM1588 1138h25v25h-25zM1466 1163h49v24h-49zM1613 1163h24v24h-24zM1564 1187h24v25h-24zM1075 1212h24v24h-24zM1270 1212h25v24h-25zM1417 1212h25v24h-25zM1540 1212h48v24h-48zM854 1236h25v25h-25zM1197 1236h49v25h-49zM683 1261h25v24h-25zM732 1261h24v24h-24zM952 1285h25v25h-25zM1540 1334h24v24h-24zM1001 1383h25v24h-25zM1075 1383h24v24h-24zM463 1407h24v25h-24zM438 1432h25v24h-25zM1001 1432h25v24h-25zM1124 1432h24v24h-24z"/>
<path fill="#ffff00" d="M1001 136h25v24h-25zM414 160h24v25h-24zM1124 209h24v25h-24zM634 332h25v24h-25zM903 332h25v24h-25zM1099 356h25v24h-25zM1270 380h25v25h-25zM756 454h25v24h-25zM1221 478h25v25h-25zM1270 552h25v24h-25zM1221 576h49v25h-49zM1466 576h25v25h-25zM928 601h24v24h-24zM805 698h25v25h-25zM1564 723h24v24h-24zM365 747h24v25h-24zM1026 772h24v24h-24zM365 796h49v25h-49zM341 821h24v24h-24zM830 894h24v24h-24zM1466 894h25v24h-25zM414 918h24v25h-24zM879 918h24v25h-24zM1221 943h25v24h-25zM389 1041h25v24h-25zM756 1041h25v24h-25zM1417 1065h25v25h-25zM952 1090h25v24h-25zM1515 1090h25v24h-25zM854 1114h25v24h-25zM1026 1138h24v25h-24zM1637 1138h25v25h-25zM1050 1163h25v24h-25zM1319 1163h25v24h-25zM1442 1163h24v24h-24zM1637 1163h25v24h-25zM1442 1187h24v25h-24zM1662 1187h24v25h-24zM414 1212h24v24h-24zM683 1212h25v24h-25zM1099 1212h25v24h-25zM1099 1236h25v25h-25zM1270 1236h25v25h-25zM708 1261h24v24h-24zM1050 1261h25v24h-25zM463 1285h24v25h-24zM805 1285h25v25h-25zM292 1310h24v24h-24zM463 1310h24v24h-24zM1050 1334h25v24h-25zM1295 1358h24v25h-24zM854 1407h25v25h-25zM952 1432h49v24h-49z"/>
<path fill="#ffd400" d="M292 136h24v24h-24zM341 136h24v24h-24zM781 136h24v24h-24zM977 136h24v24h-24zM1026 160h24v25h-24zM389 209h25v25h-25zM1099 209h25v25h-25zM1295 209h24v25h-24zM1099 234h25v24h-25zM1148 234h24v24h-24zM267 258h25v25h-25zM1124 258h24v25h-24zM1001 283h25v24h-25zM1221 283h25v24h-25zM879 332h24v24h-24zM1099 332h49v24h-49zM952 356h25v24h-25zM1124 356h24v24h-24zM1270 356h25v24h-25zM292 380h24v25h-24zM365 380h24v25h-24zM952 380h25v25h-25zM1075 380h24v25h-24zM756 429h49v25h-49zM879 429h24v25h-24zM977 429h24v25h-24zM1026 429h24v25h-24zM1075 429h24v25h-24zM1221 429h49v25h-49zM756 478h25v25h-25zM561 503h24v24h-24zM903 527h25v25h-25zM1393 527h24v25h-24zM903 552h25v24h-25zM928 576h24v25h-24zM977 576h24v25h-24zM1172 576h49v25h-49zM1221 601h25v24h-25zM1148 625h24v24h-24zM267 649h25v25h-25zM805 649h25v25h-25zM1099 674h25v24h-25zM1050 698h25v25h-25zM1466 698h49v25h-49zM389 723h25v24h-25zM1417 723h25v24h-25zM1197 772h24v24h-24zM1344 772h24v24h-24zM1124 796h24v25h-24zM1368 796h25v25h-25zM438 821h25v24h-25zM1270 821h25v24h-25zM830 845h49v25h-49zM1246 870h24v24h-24zM854 894h25v24h-25zM854 918h25v25h-25zM1466 918h25v25h-25zM879 943h49v24h-49zM1637 943h49v24h-49zM512 967h24v25h-24zM903 967h25v25h-25zM316 992h25v24h-25zM389 992h25v24h-25zM1075 1016h24v25h-24zM756 1065h25v25h-25zM1442 1065h24v25h-24zM1491 1065h24v25h-24zM781 1090h24v24h-24zM683 1114h25v24h-25zM1393 1114h24v24h-24zM1515 1114h25v24h-25zM1417 1138h25v25h-25zM1491 1138h24v25h-24zM781 1163h24v24h-24zM1026 1163h24v24h-24zM1417 1163h25v24h-25zM1564 1163h49v24h-49zM1026 1187h24v25h-24zM1148 1187h24v25h-24zM1295 1187h24v25h-24zM1417 1187h25v25h-25zM1588 1187h25v25h-25zM438 1212h25v24h-25zM952 1212h25v24h-25zM463 1261h24v24h-24zM1099 1261h25v24h-25zM1295 1261h24v24h-24zM389 1285h25v25h-25zM1075 1285h24v25h-24zM1270 1285h25v25h-25zM1442 1285h24v25h-24zM1515 1334h25v24h-25zM438 1358h25v25h-25zM683 1407h25v25h-25zM879 1407h24v25h-24zM879 1432h73v24h-73zM708 1456h24v27h-24zM879 1456h24v27h-24zM952 1456h25v27h-25zM1001 1456h25v27h-25zM1491 1456h24v27h-24z"/>
<path fill="#ffa300" d="M267 136h25v24h-25zM463 136h24v24h-24zM659 136h24v24h-24zM1099 136h49v24h-49zM292 160h49v25h-49zM1001 160h25v25h-25zM1050 160h25v25h-25zM1295 185h24v24h-24zM365 209h24v25h-24zM683 234h25v24h-25zM952 258h25v25h-25zM1197 258h24v25h-24zM267 283h25v24h-25zM977 283h24v24h-24zM341 307h24v25h-24zM1124 307h122v25h-122zM732 332h24v24h-24zM952 332h25v24h-25zM1172 332h74v24h-74zM732 356h24v24h-24zM805 356h25v24h-25zM1148 356h24v24h-24zM267 380h25v25h-25zM389 380h49v25h-49zM732 380h24v25h-24zM830 380h73v25h-73zM1050 380h25v25h-25zM1099 380h25v25h-25zM341 405h24v24h-24zM389 405h25v24h-25zM781 405h24v24h-24zM952 405h25v24h-25zM1246 405h24v24h-24zM438 429h25v25h-25zM732 429h24v25h-24zM805 429h25v25h-25zM1099 429h25v25h-25zM487 454h25v24h-25zM536 454h25v24h-25zM732 454h24v24h-24zM977 454h24v24h-24zM1099 454h25v24h-25zM1221 454h25v24h-25zM414 478h24v25h-24zM561 478h24v25h-24zM781 478h24v25h-24zM1099 478h25v25h-25zM512 503h24v24h-24zM781 503h49v24h-49zM536 527h25v25h-25zM756 527h25v25h-25zM928 527h24v25h-24zM1466 527h25v25h-25zM1515 527h25v25h-25zM389 552h25v24h-25zM879 552h24v24h-24zM1172 552h98v24h-98zM1393 552h24v24h-24zM1442 552h49v24h-49zM659 576h24v25h-24zM1026 576h24v25h-24zM1148 576h24v25h-24zM708 601h24v24h-24zM781 601h24v24h-24zM1148 601h24v24h-24zM267 625h49v24h-49zM830 625h73v24h-73zM292 649h24v25h-24zM854 649h49v25h-49zM1148 649h24v25h-24zM1466 649h25v25h-25zM1564 649h24v25h-24zM805 674h25v24h-25zM903 674h25v24h-25zM1026 674h24v24h-24zM1148 674h24v24h-24zM1442 674h73v24h-73zM1026 698h24v25h-24zM1075 698h24v25h-24zM1368 698h25v25h-25zM1515 698h49v25h-49zM292 723h24v24h-24zM1393 723h24v24h-24zM1442 723h122v24h-122zM610 747h24v25h-24zM805 747h25v25h-25zM1393 747h24v25h-24zM1515 747h25v25h-25zM487 772h25v24h-25zM536 772h25v24h-25zM781 772h24v24h-24zM1393 772h24v24h-24zM1515 772h49v24h-49zM316 796h25v25h-25zM536 796h25v25h-25zM1026 796h24v25h-24zM1148 796h24v25h-24zM1393 796h24v25h-24zM1491 796h24v25h-24zM487 821h25v24h-25zM781 821h49v24h-49zM903 821h25v24h-25zM1295 821h49v24h-49zM1368 821h25v24h-25zM1417 821h25v24h-25zM1466 821h25v24h-25zM512 845h24v25h-24zM805 845h25v25h-25zM879 845h24v25h-24zM977 845h24v25h-24zM1026 845h24v25h-24zM1319 845h49v25h-49zM1417 845h25v25h-25zM830 870h98v24h-98zM1026 870h24v24h-24zM1270 870h74v24h-74zM879 894h24v24h-24zM1319 894h25v24h-25zM389 918h25v25h-25zM512 918h24v25h-24zM830 918h24v25h-24zM903 918h25v25h-25zM952 918h49v25h-49zM1246 918h24v25h-24zM1393 918h24v25h-24zM1613 918h24v25h-24zM512 943h24v24h-24zM928 943h24v24h-24zM1026 943h24v24h-24zM1075 943h24v24h-24zM316 967h25v25h-25zM536 967h25v25h-25zM952 967h25v25h-25zM879 992h24v24h-24zM1124 992h24v24h-24zM341 1016h73v25h-73zM854 1016h25v25h-25zM1050 1016h25v25h-25zM1319 1016h25v25h-25zM1491 1016h24v25h-24zM414 1041h24v24h-24zM732 1041h24v24h-24zM1295 1041h24v24h-24zM1393 1041h49v24h-49zM708 1065h24v25h-24zM1246 1065h49v25h-49zM1393 1065h24v25h-24zM1466 1065h25v25h-25zM463 1090h24v24h-24zM659 1090h24v24h-24zM708 1090h24v24h-24zM756 1090h25v24h-25zM879 1090h24v24h-24zM1393 1090h122v24h-122zM463 1114h24v24h-24zM708 1114h24v24h-24zM756 1114h25v24h-25zM1148 1114h24v24h-24zM1417 1114h25v24h-25zM1491 1114h24v24h-24zM1540 1114h48v24h-48zM389 1138h25v25h-25zM830 1138h24v25h-24zM1001 1138h25v25h-25zM1075 1138h24v25h-24zM1515 1138h73v25h-73zM1613 1138h24v25h-24zM756 1163h25v24h-25zM805 1163h25v24h-25zM1001 1163h25v24h-25zM1075 1163h24v24h-24zM1393 1163h24v24h-24zM1515 1163h25v24h-25zM267 1187h25v25h-25zM1050 1187h74v25h-74zM1540 1187h24v25h-24zM267 1212h25v24h-25zM830 1212h49v24h-49zM389 1236h25v25h-25zM1001 1236h25v25h-25zM1124 1236h24v25h-24zM1295 1236h24v25h-24zM1344 1236h24v25h-24zM805 1261h25v24h-25zM1026 1261h24v24h-24zM1075 1261h24v24h-24zM1197 1261h24v24h-24zM1246 1261h49v24h-49zM1393 1261h24v24h-24zM292 1285h24v25h-24zM683 1285h25v25h-25zM781 1285h24v25h-24zM1246 1285h24v25h-24zM1295 1285h24v25h-24zM1466 1285h25v25h-25zM610 1310h24v24h-24zM1466 1310h25v24h-25zM1515 1310h25v24h-25zM463 1334h24v24h-24zM708 1334h48v24h-48zM1026 1334h24v24h-24zM1466 1334h49v24h-49zM463 1358h24v25h-24zM610 1358h24v25h-24zM1001 1358h49v25h-49zM1491 1358h73v25h-73zM463 1383h49v24h-49zM879 1383h24v24h-24zM1026 1383h49v24h-49zM1491 1383h24v24h-24zM1540 1383h24v24h-24zM438 1407h25v25h-25zM487 1407h25v25h-25zM659 1407h24v25h-24zM903 1407h25v25h-25zM1026 1407h24v25h-24zM1221 1407h25v25h-25zM585 1432h49v24h-49zM854 1432h25v24h-25zM1050 1432h25v24h-25zM1099 1432h25v24h-25zM903 1456h25v27h-25zM977 1456h24v27h-24zM1050 1456h25v27h-25z"/>
<path fill="#ff7000" d="M365 136h24v24h-24zM854 136h25v24h-25zM952 136h25v24h-25zM365 160h24v25h-24zM708 160h24v25h-24zM879 160h24v25h-24zM977 160h24v25h-24zM1124 160h24v25h-24zM1197 160h24v25h-24zM341 185h24v24h-24zM1001 185h25v24h-25zM1050 185h25v24h-25zM1099 185h25v24h-25zM1221 234h25v24h-25zM1099 258h25v25h-25zM1221 258h49v25h-49zM585 283h25v24h-25zM1026 283h24v24h-24zM1197 283h24v24h-24zM634 307h25v25h-25zM1050 307h25v25h-25zM1099 307h25v25h-25zM267 332h25v24h-25zM316 332h25v24h-25zM1246 332h24v24h-24zM267 356h98v24h-98zM756 356h25v24h-25zM879 356h49v24h-49zM1172 356h74v24h-74zM756 380h25v25h-25zM928 380h24v25h-24zM1124 380h24v25h-24zM1221 380h49v25h-49zM512 405h24v24h-24zM659 405h49v24h-49zM732 405h49v24h-49zM805 405h74v24h-74zM903 405h25v24h-25zM1050 405h25v24h-25zM1099 405h49v24h-49zM389 429h49v25h-49zM830 429h49v25h-49zM903 429h25v25h-25zM952 429h25v25h-25zM1124 429h48v25h-48zM389 454h25v24h-25zM585 454h25v24h-25zM1001 454h25v24h-25zM1124 454h24v24h-24zM1197 454h24v24h-24zM1295 454h49v24h-49zM365 478h49v25h-49zM585 478h25v25h-25zM732 478h24v25h-24zM1001 478h25v25h-25zM1124 478h24v25h-24zM1197 478h24v25h-24zM1344 478h24v25h-24zM1148 503h147v24h-147zM1368 503h25v24h-25zM561 527h24v25h-24zM1148 527h171v25h-171zM1368 527h25v25h-25zM1442 527h24v25h-24zM1491 527h24v25h-24zM952 552h25v24h-25zM1148 552h24v24h-24zM1319 552h74v24h-74zM1417 552h25v24h-25zM708 576h24v25h-24zM1319 576h25v25h-25zM1368 576h49v25h-49zM585 601h25v24h-25zM732 601h24v24h-24zM830 601h24v24h-24zM1050 601h25v24h-25zM1270 601h49v24h-49zM1344 601h24v24h-24zM316 625h25v24h-25zM585 625h25v24h-25zM732 625h24v24h-24zM1221 625h25v24h-25zM1270 625h98v24h-98zM316 649h25v25h-25zM389 649h25v25h-25zM977 649h24v25h-24zM1099 649h25v25h-25zM1368 649h98v25h-98zM1588 649h25v25h-25zM292 674h49v24h-49zM389 674h25v24h-25zM854 674h49v24h-49zM1124 674h24v24h-24zM1515 674h25v24h-25zM389 698h25v25h-25zM928 698h24v25h-24zM1099 698h25v25h-25zM1564 698h24v25h-24zM805 723h25v24h-25zM952 723h98v24h-98zM1172 723h25v24h-25zM389 747h25v25h-25zM781 747h24v25h-24zM830 747h24v25h-24zM1026 747h24v25h-24zM1172 747h49v25h-49zM1491 747h24v25h-24zM1540 747h48v25h-48zM341 772h24v24h-24zM389 772h25v24h-25zM561 772h24v24h-24zM756 772h25v24h-25zM805 772h49v24h-49zM1417 772h25v24h-25zM1491 772h24v24h-24zM463 796h73v25h-73zM756 796h49v25h-49zM879 796h24v25h-24zM463 821h24v24h-24zM512 821h24v24h-24zM756 821h25v24h-25zM830 821h24v24h-24zM879 821h24v24h-24zM928 821h24v24h-24zM1344 821h24v24h-24zM1393 821h24v24h-24zM1442 821h24v24h-24zM365 845h24v25h-24zM487 845h25v25h-25zM781 845h24v25h-24zM903 845h25v25h-25zM952 845h25v25h-25zM1246 845h73v25h-73zM1368 845h49v25h-49zM536 870h25v24h-25zM781 870h49v24h-49zM1344 870h24v24h-24zM341 894h24v24h-24zM438 894h25v24h-25zM536 894h25v24h-25zM732 894h49v24h-49zM903 894h25v24h-25zM1001 894h25v24h-25zM1050 894h25v24h-25zM1270 894h49v24h-49zM1442 894h24v24h-24zM1588 894h25v24h-25zM487 918h25v25h-25zM536 918h25v25h-25zM928 918h24v25h-24zM1001 918h25v25h-25zM389 943h49v24h-49zM487 943h25v24h-25zM536 943h49v24h-49zM659 943h24v24h-24zM1001 943h25v24h-25zM414 967h24v25h-24zM487 967h25v25h-25zM928 967h24v25h-24zM977 967h24v25h-24zM1075 967h49v25h-49zM365 992h24v24h-24zM512 992h24v24h-24zM781 992h24v24h-24zM977 992h24v24h-24zM1075 992h24v24h-24zM1295 992h49v24h-49zM316 1016h25v25h-25zM414 1016h24v25h-24zM756 1016h25v25h-25zM879 1016h24v25h-24zM1246 1016h24v25h-24zM1393 1016h73v25h-73zM438 1041h49v24h-49zM879 1041h24v24h-24zM1099 1041h25v24h-25zM1368 1041h25v24h-25zM1442 1041h24v24h-24zM1491 1041h24v24h-24zM438 1065h49v25h-49zM610 1065h73v25h-73zM732 1065h24v25h-24zM879 1065h24v25h-24zM1099 1065h25v25h-25zM610 1090h24v24h-24zM683 1090h25v24h-25zM732 1090h24v24h-24zM903 1090h25v24h-25zM1124 1090h24v24h-24zM659 1114h24v24h-24zM732 1114h24v24h-24zM879 1114h24v24h-24zM977 1114h24v24h-24zM1050 1114h25v24h-25zM1197 1114h24v24h-24zM1442 1114h49v24h-49zM463 1138h24v25h-24zM659 1138h73v25h-73zM805 1138h25v25h-25zM854 1138h25v25h-25zM977 1138h24v25h-24zM1148 1138h24v25h-24zM1368 1138h49v25h-49zM1442 1138h49v25h-49zM389 1163h25v24h-25zM438 1163h25v24h-25zM683 1163h25v24h-25zM830 1163h24v24h-24zM903 1163h25v24h-25zM1172 1163h25v24h-25zM1368 1163h25v24h-25zM1540 1163h24v24h-24zM683 1187h49v25h-49zM756 1187h25v25h-25zM805 1187h25v25h-25zM1393 1187h24v25h-24zM389 1212h25v24h-25zM879 1212h49v24h-49zM1368 1212h49v24h-49zM365 1236h24v25h-24zM463 1236h24v25h-24zM659 1236h24v25h-24zM732 1236h24v25h-24zM1246 1236h24v25h-24zM1368 1236h49v25h-49zM267 1261h25v24h-25zM659 1261h24v24h-24zM756 1261h49v24h-49zM1001 1261h25v24h-25zM1148 1261h49v24h-49zM1221 1261h25v24h-25zM512 1285h49v25h-49zM708 1285h24v25h-24zM756 1285h25v25h-25zM1099 1285h25v25h-25zM1148 1285h49v25h-49zM389 1310h25v24h-25zM708 1310h24v24h-24zM1148 1310h49v24h-49zM1368 1310h25v24h-25zM1491 1310h24v24h-24zM830 1334h24v24h-24zM1124 1334h24v24h-24zM341 1358h73v25h-73zM487 1358h25v25h-25zM634 1358h25v25h-25zM805 1358h25v25h-25zM854 1358h25v25h-25zM1172 1358h25v25h-25zM1221 1358h74v25h-74zM1319 1358h25v25h-25zM1466 1358h25v25h-25zM316 1383h98v24h-98zM585 1383h49v24h-49zM683 1383h25v24h-25zM854 1383h25v24h-25zM1197 1383h24v24h-24zM1344 1383h24v24h-24zM1515 1383h25v24h-25zM316 1407h98v25h-98zM708 1407h24v25h-24zM928 1407h49v25h-49zM1050 1407h74v25h-74zM1197 1407h24v25h-24zM316 1432h73v24h-73zM708 1432h24v24h-24zM1075 1432h24v24h-24zM365 1456h49v27h-49zM585 1456h25v27h-25zM659 1456h24v27h-24zM830 1456h49v27h-49z"/>
<path fill="#ff1a00" d="M561 136h24v24h-24zM928 136h24v24h-24zM267 160h25v25h-25zM438 160h25v25h-25zM683 160h25v25h-25zM732 160h24v25h-24zM781 185h49v24h-49zM1026 185h24v24h-24zM1075 185h24v24h-24zM1124 185h24v24h-24zM1001 209h25v25h-25zM1197 209h24v25h-24zM1172 234h49v24h-49zM292 258h49v25h-49zM977 258h24v25h-24zM341 283h48v24h-48zM610 283h24v24h-24zM1124 283h24v24h-24zM1172 283h25v24h-25zM561 307h24v25h-24zM879 307h49v25h-49zM1075 307h24v25h-24zM1246 307h49v25h-49zM341 332h24v24h-24zM659 332h24v24h-24zM928 332h24v24h-24zM1270 332h25v24h-25zM634 356h25v24h-25zM708 356h24v24h-24zM928 356h24v24h-24zM1246 356h24v24h-24zM659 380h24v25h-24zM708 380h24v25h-24zM781 380h24v25h-24zM903 380h25v25h-25zM1148 380h73v25h-73zM292 405h24v24h-24zM708 405h24v24h-24zM879 405h24v24h-24zM928 405h24v24h-24zM1075 405h24v24h-24zM1148 405h49v24h-49zM341 429h48v25h-48zM487 429h25v25h-25zM708 429h24v25h-24zM928 429h24v25h-24zM1172 429h49v25h-49zM365 454h24v24h-24zM414 454h49v24h-49zM561 454h24v24h-24zM952 454h25v24h-25zM610 478h24v25h-24zM977 478h24v25h-24zM1075 478h24v25h-24zM1148 478h49v25h-49zM1295 478h24v25h-24zM585 503h25v24h-25zM732 503h24v24h-24zM977 503h24v24h-24zM1124 503h24v24h-24zM1295 503h24v24h-24zM585 527h25v25h-25zM781 527h24v25h-24zM1319 527h25v25h-25zM414 552h24v24h-24zM536 552h98v24h-98zM732 552h24v24h-24zM365 576h24v25h-24zM585 576h25v25h-25zM634 576h25v25h-25zM683 576h25v25h-25zM903 576h25v25h-25zM1344 576h24v25h-24zM1417 576h49v25h-49zM683 601h25v24h-25zM805 601h25v24h-25zM1319 601h25v24h-25zM1368 601h49v24h-49zM365 625h49v24h-49zM781 625h24v24h-24zM1099 625h49v24h-49zM1246 625h24v24h-24zM341 649h48v25h-48zM561 649h49v25h-49zM781 649h24v25h-24zM1124 649h24v25h-24zM536 674h25v24h-25zM1540 674h73v24h-73zM292 698h49v25h-49zM879 698h49v25h-49zM952 698h25v25h-25zM1001 698h25v25h-25zM1124 698h24v25h-24zM1588 698h25v25h-25zM781 723h24v24h-24zM756 747h25v25h-25zM1417 747h25v25h-25zM463 772h24v24h-24zM512 772h24v24h-24zM1050 772h25v24h-25zM1172 772h25v24h-25zM561 796h24v25h-24zM610 796h24v25h-24zM732 796h24v25h-24zM805 796h25v25h-25zM610 821h24v24h-24zM732 821h24v24h-24zM463 845h24v25h-24zM536 845h25v25h-25zM341 870h24v24h-24zM463 870h24v24h-24zM732 870h49v24h-49zM1393 870h24v24h-24zM1442 870h24v24h-24zM928 894h24v24h-24zM1393 894h24v24h-24zM341 918h48v25h-48zM438 918h25v25h-25zM585 918h49v25h-49zM659 918h24v25h-24zM1026 918h49v25h-49zM1270 918h25v25h-25zM341 943h24v24h-24zM438 943h49v24h-49zM805 943h25v24h-25zM1050 943h25v24h-25zM389 967h25v25h-25zM438 967h49v25h-49zM1001 967h25v25h-25zM1221 967h25v25h-25zM1466 967h49v25h-49zM341 992h24v24h-24zM414 992h49v24h-49zM1001 992h25v24h-25zM1099 992h25v24h-25zM1270 992h25v24h-25zM1442 992h73v24h-73zM732 1016h24v25h-24zM903 1016h25v25h-25zM952 1016h25v25h-25zM1270 1016h25v25h-25zM1466 1016h25v25h-25zM1515 1016h25v25h-25zM683 1041h25v24h-25zM903 1041h25v24h-25zM487 1065h25v25h-25zM903 1065h74v25h-74zM1295 1065h24v25h-24zM487 1090h25v24h-25zM585 1090h25v24h-25zM634 1090h25v24h-25zM928 1090h24v24h-24zM610 1114h49v24h-49zM952 1114h25v24h-25zM1001 1114h49v24h-49zM1075 1114h24v24h-24zM1124 1114h24v24h-24zM879 1138h49v25h-49zM292 1163h24v24h-24zM341 1163h24v24h-24zM659 1163h24v24h-24zM708 1163h48v24h-48zM879 1163h24v24h-24zM1344 1163h24v24h-24zM292 1187h24v25h-24zM438 1187h25v25h-25zM732 1187h24v25h-24zM781 1187h24v25h-24zM830 1187h49v25h-49zM977 1187h49v25h-49zM365 1212h24v24h-24zM463 1212h24v24h-24zM732 1212h49v24h-49zM805 1212h25v24h-25zM928 1212h24v24h-24zM341 1236h24v25h-24zM756 1236h98v25h-98zM341 1261h73v24h-73zM536 1261h25v24h-25zM977 1261h24v24h-24zM1319 1261h25v24h-25zM1417 1261h25v24h-25zM487 1285h25v25h-25zM659 1285h24v25h-24zM732 1285h24v25h-24zM1050 1285h25v25h-25zM1221 1285h25v25h-25zM634 1310h74v24h-74zM732 1310h24v24h-24zM805 1310h25v24h-25zM1124 1310h24v24h-24zM1246 1310h49v24h-49zM1442 1310h24v24h-24zM316 1334h25v24h-25zM365 1334h49v24h-49zM610 1334h24v24h-24zM805 1334h25v24h-25zM1148 1334h24v24h-24zM1221 1334h74v24h-74zM1344 1334h24v24h-24zM316 1358h25v25h-25zM414 1358h24v25h-24zM708 1358h24v25h-24zM830 1358h24v25h-24zM1344 1358h24v25h-24zM414 1383h49v24h-49zM512 1383h24v24h-24zM634 1383h49v24h-49zM708 1383h24v24h-24zM1466 1383h25v24h-25zM414 1407h24v25h-24zM512 1407h24v25h-24zM610 1407h49v25h-49zM732 1407h24v25h-24zM1344 1407h24v25h-24zM389 1432h25v24h-25zM634 1432h25v24h-25zM830 1432h24v24h-24zM1344 1432h24v24h-24zM610 1456h49v27h-49zM1026 1456h24v27h-24zM1075 1456h49v27h-49zM1466 1456h25v27h-25z"/>
<path fill="#cc0000" d="M585 136h25v24h-25zM756 136h25v24h-25zM463 160h24v25h-24zM659 160h24v25h-24zM854 160h25v25h-25zM267 185h74v24h-74zM683 185h49v24h-49zM977 185h24v24h-24zM1148 185h24v24h-24zM341 209h24v25h-24zM414 209h24v25h-24zM683 209h25v25h-25zM1050 209h25v25h-25zM389 283h25v24h-25zM561 283h24v24h-24zM634 283h25v24h-25zM879 283h24v24h-24zM1099 283h25v24h-25zM1148 283h24v24h-24zM756 307h25v25h-25zM952 307h25v25h-25zM389 332h25v24h-25zM756 332h74v24h-74zM365 356h49v24h-49zM683 380h25v25h-25zM267 405h25v24h-25zM316 405h25v24h-25zM1197 405h24v24h-24zM463 429h24v25h-24zM341 454h24v24h-24zM463 454h24v24h-24zM708 454h24v24h-24zM879 454h73v24h-73zM1026 454h24v24h-24zM1148 454h49v24h-49zM634 478h25v25h-25zM1368 478h25v25h-25zM610 503h24v24h-24zM1099 503h25v24h-25zM1319 503h25v24h-25zM512 527h24v25h-24zM610 527h24v25h-24zM732 527h24v25h-24zM1124 527h24v25h-24zM1344 527h24v25h-24zM977 552h49v24h-49zM1124 552h24v24h-24zM389 576h49v25h-49zM610 576h24v25h-24zM805 576h25v25h-25zM1124 576h24v25h-24zM292 601h24v24h-24zM389 601h49v24h-49zM610 601h24v24h-24zM879 601h24v24h-24zM1075 601h24v24h-24zM1124 601h24v24h-24zM1417 601h49v24h-49zM414 625h49v24h-49zM708 625h24v24h-24zM1393 625h73v24h-73zM756 649h25v25h-25zM1001 674h25v24h-25zM781 698h24v25h-24zM977 698h24v25h-24zM463 723h24v24h-24zM610 723h24v24h-24zM683 723h25v24h-25zM756 723h25v24h-25zM414 747h49v25h-49zM708 747h24v25h-24zM1442 747h24v25h-24zM414 772h49v24h-49zM708 772h48v24h-48zM634 796h25v25h-25zM708 796h24v25h-24zM1075 796h49v25h-49zM683 821h49v24h-49zM561 845h49v25h-49zM683 845h49v25h-49zM756 845h25v25h-25zM928 845h24v25h-24zM512 870h24v24h-24zM708 870h24v24h-24zM928 870h24v24h-24zM977 870h24v24h-24zM1368 870h25v24h-25zM781 894h24v24h-24zM977 894h24v24h-24zM1417 894h25v24h-25zM634 918h25v25h-25zM756 918h25v25h-25zM1295 918h24v25h-24zM1368 918h25v25h-25zM610 943h49v24h-49zM683 943h25v24h-25zM561 967h24v25h-24zM781 967h24v25h-24zM1295 967h49v25h-49zM756 992h25v24h-25zM928 992h24v24h-24zM1515 992h25v24h-25zM487 1016h25v25h-25zM585 1016h25v25h-25zM928 1016h24v25h-24zM1099 1016h25v25h-25zM928 1041h49v24h-49zM1466 1041h25v24h-25zM561 1090h24v24h-24zM1050 1090h49v24h-49zM903 1114h25v24h-25zM1099 1114h25v24h-25zM610 1138h49v25h-49zM732 1138h24v25h-24zM977 1163h24v24h-24zM316 1187h49v25h-49zM659 1187h24v25h-24zM928 1187h24v25h-24zM977 1212h24v24h-24zM1344 1212h24v24h-24zM977 1236h24v25h-24zM634 1285h25v25h-25zM1197 1285h24v25h-24zM316 1310h25v24h-25zM561 1310h24v24h-24zM928 1310h24v24h-24zM1197 1310h24v24h-24zM1393 1310h24v24h-24zM341 1334h24v24h-24zM634 1334h25v24h-25zM683 1334h25v24h-25zM1197 1334h24v24h-24zM1295 1334h24v24h-24zM732 1358h24v25h-24zM1197 1358h24v25h-24zM732 1383h24v24h-24zM1368 1383h49v24h-49zM1491 1407h24v25h-24zM561 1432h24v24h-24zM732 1432h24v24h-24zM1393 1432h24v24h-24zM1466 1432h25v24h-25zM512 1456h24v27h-24zM561 1456h24v27h-24zM732 1456h24v27h-24zM1393 1456h24v27h-24z"/>
<path fill="#800000" d="M610 136h49v24h-49zM805 136h49v24h-49zM341 160h24v25h-24zM487 160h172v25h-172zM756 160h98v25h-98zM903 160h74v25h-74zM1075 160h49v25h-49zM1148 160h24v25h-24zM414 185h269v24h-269zM732 185h49v24h-49zM830 185h147v24h-147zM1172 185h49v24h-49zM267 209h74v25h-74zM438 209h245v25h-245zM708 209h293v25h-293zM1026 209h24v25h-24zM1221 209h25v25h-25zM267 234h416v24h-416zM708 234h391v24h-391zM341 258h611v25h-611zM1001 258h98v25h-98zM1148 258h49v25h-49zM292 283h49v24h-49zM414 283h147v24h-147zM659 283h220v24h-220zM903 283h74v24h-74zM1050 283h49v24h-49zM1246 283h49v24h-49zM267 307h74v25h-74zM389 307h172v25h-172zM659 307h97v25h-97zM781 307h98v25h-98zM928 307h24v25h-24zM292 332h24v24h-24zM414 332h171v24h-171zM683 332h49v24h-49zM830 332h49v24h-49zM414 356h220v24h-220zM659 356h49v24h-49zM781 356h24v24h-24zM438 380h221v25h-221zM805 380h25v25h-25zM438 405h74v24h-74zM536 405h123v24h-123zM1221 405h25v24h-25zM267 429h74v25h-74zM512 429h196v25h-196zM267 454h74v24h-74zM610 454h98v24h-98zM830 454h49v24h-49zM1050 454h25v24h-25zM267 478h98v25h-98zM438 478h74v25h-74zM659 478h73v25h-73zM805 478h172v25h-172zM1026 478h49v25h-49zM1319 478h25v25h-25zM267 503h245v24h-245zM634 503h98v24h-98zM756 503h25v24h-25zM830 503h122v24h-122zM1026 503h73v24h-73zM1344 503h24v24h-24zM267 527h245v25h-245zM634 527h98v25h-98zM805 527h98v25h-98zM952 527h172v25h-172zM267 552h122v24h-122zM438 552h98v24h-98zM634 552h98v24h-98zM756 552h123v24h-123zM1026 552h98v24h-98zM267 576h98v25h-98zM438 576h147v25h-147zM732 576h73v25h-73zM830 576h73v25h-73zM1050 576h74v25h-74zM267 601h25v24h-25zM316 601h73v24h-73zM438 601h147v24h-147zM634 601h49v24h-49zM756 601h25v24h-25zM854 601h25v24h-25zM903 601h25v24h-25zM1099 601h25v24h-25zM1466 601h25v24h-25zM341 625h24v24h-24zM463 625h122v24h-122zM610 625h98v24h-98zM756 625h25v24h-25zM1075 625h24v24h-24zM1368 625h25v24h-25zM1466 625h25v24h-25zM414 649h147v25h-147zM610 649h146v25h-146zM414 674h122v24h-122zM561 674h244v24h-244zM977 674h24v24h-24zM414 698h367v25h-367zM1148 698h24v25h-24zM414 723h49v24h-49zM487 723h123v24h-123zM634 723h49v24h-49zM708 723h48v24h-48zM928 723h24v24h-24zM1050 723h122v24h-122zM463 747h122v25h-122zM634 747h74v25h-74zM732 747h24v25h-24zM977 747h24v25h-24zM1050 747h122v25h-122zM1466 747h25v25h-25zM634 772h74v24h-74zM1075 772h97v24h-97zM1442 772h49v24h-49zM414 796h49v25h-49zM659 796h49v25h-49zM1417 796h74v25h-74zM536 821h25v24h-25zM634 821h49v24h-49zM610 845h73v25h-73zM732 845h24v25h-24zM1001 845h25v25h-25zM487 870h25v24h-25zM561 870h147v24h-147zM952 870h25v24h-25zM1001 870h25v24h-25zM1417 870h25v24h-25zM463 894h73v24h-73zM561 894h171v24h-171zM805 894h25v24h-25zM952 894h25v24h-25zM1026 894h24v24h-24zM1344 894h49v24h-49zM463 918h24v25h-24zM561 918h24v25h-24zM683 918h73v25h-73zM781 918h49v25h-49zM1319 918h49v25h-49zM365 943h24v24h-24zM585 943h25v24h-25zM708 943h97v24h-97zM1246 943h147v24h-147zM341 967h48v25h-48zM585 967h196v25h-196zM1026 967h49v25h-49zM1246 967h49v25h-49zM1344 967h73v25h-73zM463 992h49v24h-49zM536 992h220v24h-220zM903 992h25v24h-25zM952 992h25v24h-25zM1026 992h49v24h-49zM1221 992h49v24h-49zM1344 992h73v24h-73zM438 1016h49v25h-49zM512 1016h73v25h-73zM610 1016h122v25h-122zM977 1016h73v25h-73zM1344 1016h49v25h-49zM487 1041h196v24h-196zM708 1041h24v24h-24zM977 1041h122v24h-122zM1246 1041h49v24h-49zM512 1065h98v25h-98zM977 1065h122v25h-122zM512 1090h49v24h-49zM977 1090h73v24h-73zM1099 1090h25v24h-25zM487 1114h123v24h-123zM928 1114h24v24h-24zM487 1138h123v25h-123zM928 1138h49v25h-49zM1099 1138h49v25h-49zM1197 1138h24v25h-24zM365 1163h24v24h-24zM463 1163h196v24h-196zM854 1163h25v24h-25zM928 1163h49v24h-49zM1099 1163h73v24h-73zM365 1187h49v25h-49zM463 1187h196v25h-196zM879 1187h49v25h-49zM952 1187h25v25h-25zM1319 1187h74v25h-74zM292 1212h73v24h-73zM487 1212h196v24h-196zM781 1212h24v24h-24zM1001 1212h25v24h-25zM1319 1212h25v24h-25zM267 1236h74v25h-74zM487 1236h172v25h-172zM292 1261h49v24h-49zM487 1261h49v24h-49zM561 1261h98v24h-98zM316 1285h73v25h-73zM561 1285h73v25h-73zM977 1285h73v25h-73zM1319 1285h25v25h-25zM1393 1285h49v25h-49zM341 1310h48v24h-48zM487 1310h74v24h-74zM585 1310h25v24h-25zM756 1310h49v24h-49zM1026 1310h49v24h-49zM1221 1310h25v24h-25zM1295 1310h73v24h-73zM1417 1310h25v24h-25zM487 1334h123v24h-123zM659 1334h24v24h-24zM756 1334h49v24h-49zM1172 1334h25v24h-25zM1319 1334h25v24h-25zM1368 1334h98v24h-98zM512 1358h98v25h-98zM659 1358h49v25h-49zM756 1358h49v25h-49zM1368 1358h98v25h-98zM536 1383h49v24h-49zM756 1383h98v24h-98zM1417 1383h49v24h-49zM536 1407h74v25h-74zM756 1407h98v25h-98zM1368 1407h123v25h-123zM414 1432h24v24h-24zM512 1432h49v24h-49zM756 1432h74v24h-74zM1368 1432h25v24h-25zM1417 1432h49v24h-49zM1491 1432h24v24h-24zM536 1456h25v27h-25zM756 1456h74v27h-74zM1417 1456h49v27h-49z"/>
</g>
<clipPath id="cpe"><rect x="256.0" y="97.0" width="1581.8" height="1386.4"/></clipPath>
<g clip-path="url(#cpe)"><path d="M268 136l-2 -11M292 136l-2 -10M317 136l0 -1M341 136l-2 -10M365 136l-3 -13M390 136l-1 -4M439 136l-1 -6M463 136l-1 -11M488 136l-1 -4M512 136l0 -4M537 136l0 -4M561 136l-2 -15M586 136l-3 -17M610 136l-3 -26M635 136l-5 -30M659 136l-1 -11M684 136l-1 -8M708 136l-1 -6M733 136l0 -6M757 136l-3 -17M781 136l-1 -10M806 136l-3 -26M830 136l-5 -27M855 136l-2 -13M879 136l0 -1M928 136l-2 -15M953 136l-2 -13M977 136l-2 -10M1002 136l-2 -9M1026 136l-2 -8M1075 136l-2 -6M1100 136l-3 -11M1124 136l-4 -11M1149 136l0 -1M1222 136l-1 -2M1246 136l0 -1M1271 136l-1 -1M1295 136l-1 -1M1320 136l-1 -1M1344 136l0 -1M1491 136l-1 -1M1516 136l-1 -1M1540 136l-1 -1M1834 136l-1 -1M268 160l-3 -15M292 160l-2 -11M317 160l-3 -11M341 160l-8 -30M365 160l-3 -12M390 160l0 -3M414 160l-2 -9M439 160l-3 -15M463 160l-2 -17M488 160l-4 -29M512 160l-3 -26M537 160l-3 -32M561 160l-3 -27M586 160l-3 -33M610 160l-4 -29M635 160l-5 -33M659 160l-3 -17M684 160l-2 -15M708 160l-1 -13M733 160l-2 -15M757 160l-5 -33M781 160l-3 -26M806 160l-3 -27M830 160l-4 -29M855 160l-2 -17M879 160l-1 -13M904 160l-4 -28M928 160l-6 -29M953 160l-6 -31M977 160l-3 -13M1002 160l-3 -11M1026 160l-2 -10M1051 160l-3 -11M1075 160l-10 -31M1100 160l-9 -31M1124 160l-4 -12M1149 160l-8 -25M1173 160l0 -1M1197 160l-4 -12M1222 160l-1 -3M1246 160l-1 -2M1271 160l-1 -3M1295 160l-1 -3M1320 160l-1 -1M1344 160l0 -1M1369 160l-1 -3M1393 160l-2 -4M1418 160l-1 -3M1442 160l-1 -1M1467 160l-1 -1M1491 160l-1 -2M1516 160l-1 -2M1540 160l-1 -2M1809 160l-1 -1M1834 160l-1 -1M268 185l-3 -17M292 185l-4 -17M317 185l-4 -17M341 185l-2 -13M365 185l0 -2M390 185l0 -2M414 185l-7 -29M439 185l-6 -32M463 185l-4 -27M488 185l-5 -26M512 185l-5 -29M537 185l-3 -28M561 185l-5 -32M586 185l-5 -32M610 185l-5 -32M635 185l-3 -27M659 185l-2 -28M684 185l-1 -17M708 185l-2 -17M733 185l-4 -27M757 185l-4 -33M781 185l-3 -15M806 185l-3 -15M830 185l-4 -33M855 185l-3 -27M879 185l-4 -27M904 185l-6 -30M928 185l-5 -32M953 185l-6 -30M977 185l-3 -17M1002 185l-3 -12M1026 185l-4 -15M1051 185l-4 -12M1075 185l-4 -14M1100 185l-4 -12M1124 185l-4 -14M1149 185l-6 -16M1173 185l-10 -26M1197 185l-11 -32M1222 185l-3 -8M1246 185l-2 -4M1271 185l-1 -1M1295 185l-4 -11M1344 185l-1 -1M1369 185l-1 -2M1393 185l-1 -2M1418 185l0 -1M1516 185l-1 -1M1540 185l-1 -1M1565 185l-1 -1M1589 185l-1 -1M1638 185l-1 -1M1736 185l-1 -1M1809 185l-1 -1M1834 185l-1 -1M268 209l-6 -27M292 209l-5 -27M317 209l-6 -25M341 209l-3 -17M365 209l-2 -11M390 209l-2 -10M414 209l-4 -17M439 209l-6 -28M463 209l-5 -29M488 209l-3 -30M512 209l-3 -29M537 209l-4 -25M561 209l-3 -26M586 209l-4 -31M610 209l-3 -28M635 209l-4 -30M659 209l-3 -26M684 209l-2 -17M708 209l-4 -27M733 209l-4 -29M757 209l-5 -31M781 209l-4 -29M806 209l-4 -29M830 209l-4 -31M855 209l-4 -29M879 209l-6 -33M904 209l-7 -32M928 209l-5 -27M953 209l-7 -33M977 209l-4 -26M1002 209l-3 -15M1026 209l-5 -25M1051 209l-4 -17M1100 209l-3 -10M1124 209l-3 -9M1149 209l0 -1M1173 209l-1 -4M1197 209l-5 -14M1222 209l-10 -24M1246 209l-2 -4M1271 209l-1 -1M1295 209l-4 -9M1320 209l-1 -2M1344 209l-1 -2M1369 209l-1 -2M1393 209l-1 -1M1418 209l0 -1M1491 209l-1 -1M1516 209l-1 -2M1540 209l-1 -1M1589 209l-1 -1M1662 209l-1 -1M1687 209l-1 -1M1809 209l-1 -1M1834 209l-1 -1M268 234l-5 -25M292 234l-6 -25M317 234l-5 -27M341 234l-7 -28M365 234l-6 -32M390 234l-6 -26M414 234l-6 -30M439 234l-3 -26M463 234l-5 -31M488 234l-5 -25M512 234l-5 -30M537 234l-4 -25M561 234l-4 -25M586 234l-3 -29M610 234l-5 -30M635 234l-2 -27M659 234l-3 -30M684 234l-1 -11M708 234l-2 -26M733 234l-3 -27M757 234l-4 -27M781 234l-4 -27M806 234l-3 -26M830 234l-3 -25M855 234l-4 -25M879 234l-4 -30M904 234l-6 -29M928 234l-5 -25M953 234l-6 -28M977 234l-6 -32M1002 234l-7 -29M1026 234l-8 -33M1051 234l-9 -31M1075 234l-8 -30M1100 234l-3 -10M1124 234l0 -1M1149 234l-3 -10M1173 234l-4 -14M1197 234l-5 -14M1222 234l-4 -12M1246 234l-3 -8M1271 234l-1 -3M1295 234l0 -1M1320 234l0 -1M1344 234l-1 -1M1369 234l-1 -3M1393 234l-1 -1M1418 234l-1 -1M1491 234l-1 -1M1589 234l-2 -2M1613 234l-1 -1M1809 234l-2 -2M1834 234l-2 -1M268 258l-2 -10M292 258l-3 -15M317 258l-3 -15M341 258l-5 -28M365 258l-5 -25M390 258l-5 -27M414 258l-6 -29M439 258l-6 -30M463 258l-5 -33M488 258l-5 -27M512 258l-4 -26M537 258l-3 -31M561 258l-5 -32M586 258l-4 -30M610 258l-3 -32M635 258l-4 -29M659 258l-5 -32M684 258l-4 -32M708 258l-5 -33M733 258l-3 -31M757 258l-2 -25M781 258l-3 -28M806 258l-5 -32M830 258l-5 -30M855 258l-5 -31M879 258l-5 -24M904 258l-6 -31M928 258l-6 -29M953 258l-2 -11M977 258l-4 -15M1002 258l-6 -27M1026 258l-8 -26M1051 258l-8 -26M1075 258l-10 -32M1100 258l-4 -12M1124 258l-3 -10M1149 258l-11 -29M1173 258l-11 -29M1197 258l-4 -11M1222 258l-4 -12M1246 258l-4 -12M1271 258l-3 -7M1295 258l0 -1M1320 258l0 -1M1344 258l-1 -1M1369 258l-1 -1M1393 258l0 -1M1418 258l-1 -1M1442 258l-1 -1M1467 258l-1 -1M1491 258l-1 -1M1516 258l-1 -1M1540 258l-1 -1M1565 258l-1 -1M1613 258l-2 -2M1638 258l-1 -1M1687 258l-1 -1M1785 258l-1 -1M1809 258l-1 -1M1834 258l-2 -1M268 283l-2 -11M292 283l-6 -33M317 283l-5 -30M341 283l-3 -15M365 283l-3 -15M390 283l-3 -17M414 283l-6 -32M439 283l-6 -32M463 283l-5 -27M488 283l-3 -29M512 283l-3 -25M537 283l-3 -29M561 283l-2 -17M586 283l-1 -13M610 283l-2 -15M635 283l-3 -17M659 283l-4 -25M684 283l-3 -32M708 283l-5 -33M733 283l-3 -33M757 283l-3 -28M781 283l-5 -34M806 283l-4 -28M830 283l-4 -27M855 283l-5 -25M879 283l-3 -17M904 283l-6 -33M928 283l-6 -27M953 283l-6 -26M977 283l-3 -11M1002 283l-3 -10M1026 283l-4 -12M1051 283l-10 -29M1075 283l-10 -32M1100 283l-6 -16M1124 283l-4 -14M1149 283l-6 -16M1173 283l-5 -14M1197 283l-5 -12M1222 283l-4 -10M1246 283l-9 -26M1271 283l-12 -31M1295 283l0 -1M1320 283l0 -1M1393 283l-1 -1M1418 283l-1 -1M1442 283l-1 -1M1467 283l-1 -1M1491 283l-1 -2M1516 283l-1 -1M1540 283l-1 -1M1565 283l-1 -1M1589 283l-1 -1M1613 283l-2 -2M1638 283l-1 -1M1662 283l-1 -1M1687 283l-1 -1M1760 283l-1 -1M1785 283l-1 -1M1809 283l-1 -1M1834 283l-1 -1M268 307l-4 -25M292 307l-5 -27M317 307l-7 -32M341 307l-2 -11M365 307l-1 -4M390 307l-5 -29M414 307l-4 -28M439 307l-6 -27M463 307l-4 -26M488 307l-5 -30M512 307l-3 -27M537 307l-3 -27M561 307l-2 -15M586 307l-1 -8M610 307l-1 -6M635 307l-2 -13M659 307l-2 -25M684 307l-5 -31M708 307l-4 -29M733 307l-3 -25M757 307l-3 -17M781 307l-6 -32M806 307l-5 -33M830 307l-4 -26M855 307l-6 -29M879 307l-4 -15M904 307l-4 -15M928 307l-8 -30M953 307l-4 -16M977 307l0 -1M1002 307l0 -2M1026 307l-1 -2M1051 307l-4 -12M1075 307l-5 -14M1100 307l-4 -12M1124 307l-4 -11M1149 307l-4 -11M1173 307l-4 -11M1197 307l-4 -11M1222 307l-4 -11M1246 307l-5 -14M1271 307l-5 -14M1295 307l-1 -1M1320 307l-1 -1M1344 307l0 -1M1393 307l-1 -1M1418 307l-1 -1M1442 307l-2 -4M1467 307l-1 -1M1491 307l-1 -1M1516 307l-1 -1M1662 307l-1 -1M1687 307l-1 -1M1711 307l-1 -1M1736 307l-1 -1M1760 307l-1 -1M1785 307l-1 -1M1809 307l-1 -1M1834 307l-1 -1M268 332l-3 -13M292 332l-4 -27M317 332l-2 -13M341 332l-3 -15M365 332l-1 -4M390 332l-3 -17M414 332l-6 -32M439 332l-4 -29M463 332l-5 -33M488 332l-4 -32M512 332l-4 -27M537 332l-5 -27M561 332l-3 -29M635 332l-1 -9M659 332l-2 -15M684 332l-3 -26M708 332l-4 -27M733 332l-1 -11M757 332l-2 -17M781 332l-2 -17M806 332l-3 -17M830 332l-7 -32M855 332l-8 -31M879 332l-3 -10M904 332l-2 -9M928 332l-4 -15M953 332l-4 -11M977 332l-1 -4M1002 332l0 -2M1026 332l-1 -3M1051 332l-1 -3M1075 332l-3 -8M1100 332l-3 -10M1124 332l-3 -10M1149 332l-2 -6M1173 332l-4 -11M1197 332l-4 -11M1222 332l-5 -10M1246 332l-5 -12M1271 332l-7 -14M1295 332l-2 -4M1320 332l-1 -1M1344 332l-1 -1M1369 332l-1 -1M1393 332l-1 -1M1418 332l-1 -1M1442 332l-1 -2M1467 332l-1 -2M1491 332l-1 -1M1662 332l-1 -1M1687 332l-1 -1M1711 332l-1 -1M1736 332l-1 -1M1834 332l-1 -1M268 356l-2 -13M292 356l-2 -13M317 356l-3 -13M341 356l-2 -13M365 356l-3 -17M390 356l-3 -17M414 356l-4 -28M439 356l-4 -25M463 356l-5 -33M488 356l-3 -33M512 356l-4 -27M537 356l-6 -33M561 356l-3 -28M586 356l-4 -29M610 356l-3 -33M635 356l-2 -15M659 356l-5 -31M684 356l-4 -32M708 356l-2 -15M733 356l-1 -11M757 356l-2 -13M781 356l-4 -32M806 356l-2 -11M830 356l-1 -3M855 356l-1 -4M879 356l-3 -13M904 356l-3 -13M928 356l-4 -14M953 356l-3 -10M977 356l-1 -4M1002 356l-1 -4M1026 356l-1 -4M1051 356l-1 -4M1075 356l-1 -4M1100 356l-3 -9M1124 356l-4 -10M1149 356l-4 -11M1173 356l-5 -12M1197 356l-5 -12M1222 356l-5 -12M1246 356l-6 -14M1271 356l-4 -9M1295 356l-2 -4M1320 356l-1 -2M1344 356l-3 -5M1369 356l-1 -2M1393 356l-1 -2M1418 356l-1 -2M1442 356l-1 -2M1467 356l-1 -1M1491 356l-1 -1M1516 356l-1 -1M1711 356l-1 -1M1834 356l-1 -1M268 380l-2 -11M292 380l-2 -10M317 380l-1 -4M341 380l0 -2M365 380l-2 -10M390 380l-1 -11M414 380l-2 -11M439 380l-3 -26M463 380l-5 -33M488 380l-4 -33M512 380l-4 -33M537 380l-4 -27M561 380l-3 -33M586 380l-4 -30M610 380l-3 -27M635 380l-3 -26M659 380l-2 -15M684 380l-2 -17M708 380l-2 -15M733 380l-1 -11M757 380l-1 -13M781 380l-2 -15M806 380l-5 -31M830 380l-2 -11M855 380l-2 -11M879 380l-3 -11M904 380l-4 -14M928 380l-3 -12M953 380l-3 -10M977 380l-2 -6M1002 380l-2 -6M1026 380l-2 -6M1051 380l-4 -11M1075 380l-3 -10M1100 380l-4 -11M1124 380l-5 -12M1149 380l-5 -14M1173 380l-5 -14M1197 380l-6 -14M1222 380l-5 -12M1246 380l-5 -12M1271 380l-4 -8M1295 380l-2 -4M1320 380l-3 -5M1344 380l-2 -4M1369 380l-1 -2M1393 380l-1 -2M1418 380l-1 -1M1442 380l-1 -1M1491 380l-1 -1M1516 380l-1 -2M1540 380l-2 -3M1565 380l-1 -1M1711 380l-1 -1M1834 380l-1 -1M268 405l-2 -17M292 405l-2 -15M317 405l-3 -17M341 405l-2 -11M365 405l0 -3M390 405l-2 -11M414 405l-2 -8M439 405l-4 -33M463 405l-5 -26M488 405l-5 -33M512 405l-1 -13M537 405l-4 -33M561 405l-4 -33M586 405l-3 -32M610 405l-3 -32M635 405l-4 -28M659 405l-2 -13M684 405l-1 -13M708 405l-1 -15M733 405l-1 -13M757 405l-2 -13M781 405l-2 -11M806 405l-2 -13M830 405l-2 -13M855 405l-3 -12M879 405l-5 -14M904 405l-3 -12M928 405l-5 -14M953 405l-4 -11M977 405l-2 -8M1002 405l-3 -8M1026 405l-3 -8M1051 405l-5 -12M1075 405l-5 -14M1100 405l-5 -12M1124 405l-5 -12M1149 405l-6 -14M1173 405l-6 -14M1197 405l-7 -16M1222 405l-13 -28M1246 405l-5 -10M1271 405l-3 -7M1295 405l-2 -4M1320 405l-1 -2M1344 405l-1 -2M1369 405l-1 -2M1393 405l-2 -3M1418 405l-1 -2M1442 405l-2 -3M1467 405l-1 -2M1491 405l-1 -1M1516 405l-1 -2M1540 405l-2 -3M1565 405l-2 -2M1834 405l-1 -1M268 429l-5 -33M292 429l-7 -32M317 429l-6 -31M341 429l-2 -15M365 429l-3 -15M390 429l-2 -13M414 429l-3 -13M439 429l-2 -11M463 429l-2 -17M488 429l-2 -15M512 429l-3 -33M537 429l-4 -28M561 429l-4 -26M586 429l-4 -27M610 429l-3 -26M635 429l-3 -33M659 429l-3 -27M684 429l-2 -28M708 429l-1 -15M733 429l-1 -11M757 429l-2 -10M781 429l-2 -10M806 429l-3 -11M830 429l-2 -13M855 429l-3 -12M879 429l-2 -10M904 429l-4 -12M928 429l-5 -14M953 429l-4 -12M977 429l-4 -9M1002 429l-1 -3M1026 429l-4 -10M1051 429l-1 -3M1075 429l-3 -10M1100 429l-5 -11M1124 429l-5 -12M1149 429l-5 -12M1173 429l-6 -14M1197 429l-6 -14M1222 429l-5 -9M1246 429l-4 -9M1271 429l-2 -5M1295 429l-3 -5M1320 429l-1 -1M1344 429l-1 -1M1369 429l-1 -2M1393 429l-1 -2M1418 429l-1 -2M1442 429l-1 -2M1467 429l-1 -2M1491 429l-1 -2M1516 429l-1 -2M1540 429l-2 -2M1565 429l-2 -3M1809 429l-1 -1M1834 429l-1 -1M268 454l-4 -25M292 454l-4 -26M317 454l-5 -27M341 454l-3 -17M365 454l-2 -15M390 454l-2 -13M414 454l-2 -15M439 454l-2 -15M463 454l-3 -17M488 454l-1 -11M512 454l0 -1M537 454l-1 -11M561 454l-2 -15M586 454l-2 -13M610 454l-4 -32M635 454l-2 -27M659 454l-4 -31M684 454l-4 -28M708 454l-2 -17M733 454l-2 -11M757 454l-1 -9M781 454l-1 -8M806 454l-1 -4M830 454l-6 -25M855 454l-7 -28M879 454l-4 -17M904 454l-6 -16M928 454l-5 -16M953 454l-5 -14M977 454l-4 -11M1002 454l-4 -12M1026 454l-6 -16M1051 454l-11 -28M1075 454l-2 -5M1100 454l-4 -11M1124 454l-4 -12M1149 454l-6 -16M1173 454l-6 -16M1197 454l-5 -12M1222 454l-5 -10M1246 454l-1 -2M1271 454l-1 -2M1295 454l-5 -12M1320 454l-6 -11M1344 454l-1 -2M1369 454l-1 -1M1393 454l-1 -1M1418 454l-1 -1M1442 454l-1 -2M1467 454l-1 -2M1491 454l-1 -2M1516 454l-1 -2M1540 454l-1 -1M1565 454l-2 -2M1638 454l-1 -1M1662 454l-1 -1M1809 454l-1 -1M1834 454l-1 -1M268 478l-5 -26M292 478l-4 -25M317 478l-5 -27M341 478l-6 -33M365 478l-2 -13M390 478l-2 -13M414 478l-2 -11M439 478l-5 -27M463 478l-5 -30M488 478l-6 -30M537 478l-1 -6M561 478l-2 -11M586 478l-2 -13M610 478l-2 -15M635 478l-2 -17M659 478l-3 -30M684 478l-4 -27M708 478l-4 -25M733 478l-1 -13M757 478l-1 -10M781 478l-2 -11M806 478l-6 -33M830 478l-5 -26M855 478l-7 -24M879 478l-9 -29M904 478l-9 -30M928 478l-10 -29M953 478l-12 -30M977 478l-6 -14M1002 478l-4 -12M1026 478l-13 -30M1051 478l-11 -32M1075 478l-5 -14M1100 478l-4 -11M1124 478l-4 -12M1149 478l-6 -14M1173 478l-6 -14M1197 478l-5 -12M1222 478l-4 -8M1246 478l-1 -1M1271 478l-1 -1M1295 478l-6 -14M1320 478l-11 -23M1344 478l-5 -12M1369 478l-7 -15M1393 478l-3 -5M1418 478l-2 -5M1442 478l-2 -4M1467 478l-1 -2M1491 478l-1 -2M1516 478l-1 -2M1540 478l-1 -1M1565 478l-1 -1M1638 478l-1 -1M1662 478l-1 -1M1809 478l-1 -1M1834 478l-1 -1M268 503l-4 -32M292 503l-4 -32M317 503l-4 -25M341 503l-7 -31M365 503l-4 -25M390 503l-5 -29M414 503l-4 -26M439 503l-5 -28M463 503l-5 -27M488 503l-3 -27M512 503l-2 -11M537 503l-1 -8M561 503l-1 -10M586 503l-2 -15M610 503l-2 -17M635 503l-5 -32M659 503l-4 -32M684 503l-3 -28M708 503l-4 -28M733 503l-1 -15M757 503l-3 -33M781 503l-2 -11M806 503l-2 -11M830 503l-7 -32M855 503l-8 -27M879 503l-8 -26M904 503l-10 -28M928 503l-11 -30M953 503l-1 -1M977 503l-5 -14M1002 503l-1 -3M1026 503l-12 -30M1051 503l-11 -30M1075 503l-11 -27M1100 503l-6 -16M1124 503l-5 -14M1149 503l-5 -12M1173 503l-5 -12M1197 503l-4 -12M1222 503l-4 -12M1246 503l-5 -12M1271 503l-5 -12M1295 503l-6 -14M1320 503l-6 -16M1344 503l-10 -25M1369 503l-5 -12M1393 503l-2 -5M1418 503l-2 -5M1442 503l-2 -4M1467 503l-2 -4M1491 503l-1 -1M1516 503l-2 -4M1540 503l-1 -2M1589 503l-1 -1M1662 503l-2 -2M1687 503l-3 -3M1711 503l-1 -1M1760 503l-1 -1M1809 503l-1 -1M1834 503l-1 -1M268 527l-4 -25M292 527l-6 -32M317 527l-5 -29M341 527l-4 -29M365 527l-5 -30M390 527l-6 -31M414 527l-5 -28M439 527l-5 -31M463 527l-4 -27M488 527l-5 -32M512 527l-3 -17M537 527l-2 -11M561 527l-2 -13M586 527l-2 -15M610 527l-2 -17M635 527l-4 -28M659 527l-3 -26M684 527l-5 -32M708 527l-3 -31M733 527l-2 -17M757 527l-2 -11M781 527l-3 -15M806 527l-6 -28M830 527l-7 -33M855 527l-9 -30M879 527l-8 -27M904 527l-4 -10M928 527l-4 -11M953 527l-10 -28M977 527l-13 -29M1002 527l-10 -28M1026 527l-11 -28M1051 527l-11 -29M1075 527l-12 -28M1100 527l-10 -28M1124 527l-7 -16M1149 527l-4 -12M1173 527l-5 -12M1197 527l-4 -12M1222 527l-5 -12M1246 527l-4 -12M1271 527l-5 -12M1295 527l-4 -12M1320 527l-5 -14M1344 527l-6 -16M1369 527l-5 -12M1393 527l-4 -10M1418 527l-3 -7M1442 527l-5 -12M1467 527l-5 -10M1491 527l-5 -12M1516 527l-5 -10M1540 527l-1 -2M1613 527l-1 -1M1760 527l-1 -1M1785 527l-1 -1M1809 527l-1 -1M1834 527l-1 -1M268 552l-4 -30M292 552l-5 -33M317 552l-6 -30M341 552l-5 -32M365 552l-5 -27M390 552l-1 -11M414 552l-3 -15M439 552l-5 -28M463 552l-4 -27M488 552l-4 -27M512 552l-3 -27M537 552l-2 -15M561 552l-2 -15M586 552l-2 -15M610 552l-2 -15M635 552l-4 -29M659 552l-4 -30M684 552l-5 -28M708 552l-3 -33M733 552l-2 -15M757 552l-5 -33M781 552l-5 -26M806 552l-5 -30M830 552l-7 -24M855 552l-7 -30M879 552l-3 -11M904 552l-3 -10M928 552l-1 -3M953 552l-5 -12M977 552l-6 -16M1002 552l-6 -16M1026 552l-13 -31M1051 552l-10 -24M1075 552l-12 -28M1100 552l-12 -29M1124 552l-6 -16M1149 552l-5 -12M1173 552l-4 -11M1197 552l-4 -11M1222 552l-4 -11M1246 552l-4 -11M1271 552l-3 -9M1295 552l-1 -3M1320 552l-4 -12M1344 552l-4 -12M1369 552l-4 -12M1393 552l-4 -11M1418 552l-5 -12M1442 552l-4 -11M1467 552l-4 -11M1491 552l-3 -8M1516 552l-1 -2M1540 552l-1 -2M1565 552l-1 -1M1589 552l-1 -1M1613 552l-1 -1M1760 552l-1 -1M1809 552l-1 -1M1834 552l-2 -1M268 576l-5 -30M292 576l-4 -25M317 576l-6 -31M341 576l-6 -27M365 576l-2 -15M390 576l-3 -17M414 576l-3 -17M439 576l-4 -25M463 576l-4 -30M488 576l-4 -32M512 576l-4 -29M537 576l-4 -32M561 576l-4 -29M586 576l-2 -15M610 576l-3 -17M635 576l-2 -15M659 576l-2 -11M684 576l-2 -15M708 576l-2 -13M733 576l-3 -27M757 576l-5 -33M781 576l-5 -32M806 576l-3 -17M830 576l-7 -27M855 576l-9 -29M879 576l-8 -24M904 576l-5 -14M928 576l-4 -10M953 576l-3 -8M977 576l-4 -10M1002 576l-2 -6M1026 576l-4 -11M1051 576l-12 -31M1075 576l-12 -29M1100 576l-12 -31M1124 576l-6 -16M1149 576l-4 -11M1173 576l-4 -10M1197 576l-4 -10M1222 576l-3 -9M1246 576l-3 -9M1271 576l-2 -6M1295 576l-1 -4M1320 576l-4 -12M1344 576l-4 -14M1369 576l-4 -12M1393 576l-4 -12M1418 576l-6 -14M1442 576l-6 -14M1467 576l-3 -8M1491 576l-1 -4M1516 576l-1 -1M1540 576l-1 -1M1565 576l-1 -1M1589 576l-2 -4M1613 576l-1 -1M1809 576l-1 -1M1834 576l-1 -1M268 601l-5 -32M292 601l-3 -17M317 601l-3 -29M341 601l-5 -28M365 601l-7 -33M390 601l-3 -17M414 601l-2 -17M439 601l-4 -26M463 601l-3 -27M488 601l-3 -25M512 601l-3 -31M537 601l-3 -34M561 601l-3 -33M586 601l-1 -13M610 601l-3 -17M635 601l-4 -27M659 601l-2 -27M684 601l-2 -15M708 601l-2 -11M733 601l-2 -13M757 601l-3 -31M781 601l-2 -11M806 601l-3 -15M830 601l-3 -12M855 601l-8 -32M879 601l-6 -16M904 601l-9 -30M928 601l-3 -9M953 601l-2 -4M977 601l-1 -3M1002 601l-1 -1M1026 601l-1 -4M1051 601l-5 -12M1075 601l-6 -16M1100 601l-11 -31M1124 601l-5 -16M1149 601l-4 -11M1173 601l-3 -8M1197 601l-3 -8M1222 601l-3 -10M1246 601l-2 -6M1271 601l-4 -12M1295 601l-4 -12M1320 601l-5 -14M1344 601l-4 -12M1369 601l-4 -14M1393 601l-5 -14M1418 601l-6 -16M1442 601l-6 -16M1467 601l-11 -30M1491 601l-1 -3M1516 601l0 -1M1540 601l-1 -1M1565 601l-1 -2M1589 601l-2 -3M1613 601l-1 -2M1638 601l-1 -1M1834 601l-1 -1M268 625l-2 -11M292 625l-2 -11M317 625l-2 -13M341 625l-3 -27M365 625l-2 -15M390 625l-2 -15M414 625l-3 -17M439 625l-3 -17M463 625l-4 -33M488 625l-6 -32M512 625l-5 -32M537 625l-5 -27M561 625l-5 -32M586 625l-2 -13M610 625l-3 -28M635 625l-5 -30M659 625l-4 -26M684 625l-4 -33M708 625l-2 -17M733 625l-2 -13M757 625l-3 -29M781 625l-2 -15M806 625l-1 -6M830 625l-3 -11M855 625l-3 -11M879 625l-3 -11M904 625l-1 -4M928 625l-2 -5M953 625l-1 -3M977 625l-2 -4M1002 625l0 -1M1026 625l-1 -1M1051 625l-1 -4M1075 625l-10 -27M1100 625l-5 -14M1124 625l-5 -14M1149 625l-3 -10M1173 625l-3 -8M1197 625l-2 -6M1222 625l-4 -12M1246 625l-4 -14M1271 625l-4 -12M1295 625l-3 -12M1320 625l-3 -12M1344 625l-4 -12M1369 625l-7 -27M1393 625l-5 -16M1418 625l-5 -16M1442 625l-5 -16M1467 625l-9 -29M1491 625l-1 -3M1516 625l0 -1M1540 625l-1 -2M1565 625l-1 -1M1589 625l-3 -5M1613 625l-1 -2M1638 625l-1 -2M1711 625l-1 -1M1736 625l-1 -1M1834 625l-1 -1M268 649l-1 -10M292 649l-2 -11M317 649l-2 -13M341 649l-2 -15M365 649l-2 -15M390 649l-2 -13M414 649l-5 -32M439 649l-6 -33M463 649l-4 -25M488 649l-3 -28M512 649l-4 -33M537 649l-5 -30M561 649l-3 -15M586 649l-2 -15M610 649l-4 -28M635 649l-5 -26M659 649l-4 -34M684 649l-3 -25M708 649l-5 -28M733 649l-5 -33M757 649l-2 -17M781 649l-3 -15M806 649l-2 -10M830 649l-1 -3M855 649l-3 -11M879 649l-3 -11M904 649l-1 -4M928 649l-1 -4M953 649l-2 -4M977 649l-5 -12M1002 649l-3 -8M1026 649l-1 -3M1051 649l0 -1M1075 649l0 -1M1100 649l-4 -12M1124 649l-5 -14M1149 649l-4 -11M1173 649l-2 -6M1197 649l-1 -4M1222 649l-1 -4M1246 649l-2 -6M1271 649l-1 -2M1295 649l-1 -4M1320 649l0 -1M1344 649l0 -2M1369 649l-3 -13M1393 649l-4 -12M1418 649l-3 -12M1442 649l-4 -12M1467 649l-4 -11M1491 649l0 -1M1516 649l-1 -4M1540 649l-1 -4M1565 649l-4 -11M1589 649l-6 -11M1613 649l-1 -1M1638 649l-1 -1M1662 649l-1 -1M1687 649l-1 -1M1834 649l-1 -1M268 674l-1 -3M292 674l-2 -13M317 674l-2 -13M341 674l-1 -4M365 674l0 -3M390 674l-2 -13M414 674l-4 -26M439 674l-5 -32M463 674l-4 -26M488 674l-5 -27M512 674l-5 -26M537 674l-2 -15M561 674l-5 -33M586 674l-4 -27M610 674l-3 -27M635 674l-3 -27M659 674l-6 -33M684 674l-3 -33M708 674l-5 -27M733 674l-4 -25M757 674l-5 -27M781 674l-5 -25M806 674l-2 -11M830 674l0 -2M855 674l-3 -13M879 674l-4 -12M904 674l-4 -11M928 674l-1 -3M953 674l-2 -6M977 674l-11 -31M1002 674l-6 -16M1026 674l-4 -11M1075 674l0 -1M1100 674l-4 -10M1124 674l-4 -12M1149 674l-3 -11M1173 674l-2 -6M1197 674l0 -1M1222 674l0 -1M1246 674l0 -1M1271 674l0 -1M1295 674l0 -1M1320 674l0 -1M1344 674l0 -1M1418 674l0 -2M1442 674l-4 -11M1467 674l-3 -11M1491 674l-4 -11M1516 674l-4 -12M1540 674l-6 -14M1565 674l-6 -14M1589 674l-7 -13M1613 674l-1 -1M1687 674l-1 -1M1711 674l-1 -1M1736 674l-1 -1M1834 674l-1 -1M268 698l0 -3M292 698l-3 -15M317 698l-3 -15M341 698l-1 -8M365 698l-1 -8M390 698l-2 -13M414 698l-4 -29M439 698l-6 -31M463 698l-5 -32M488 698l-4 -31M512 698l-3 -32M537 698l-6 -32M561 698l-4 -29M586 698l-4 -29M610 698l-4 -25M635 698l-3 -27M659 698l-3 -26M684 698l-3 -32M708 698l-4 -26M733 698l-2 -27M757 698l-5 -30M781 698l-3 -17M806 698l-2 -9M830 698l0 -2M855 698l-1 -3M879 698l-4 -14M904 698l-4 -15M928 698l-4 -12M953 698l-5 -14M977 698l-6 -16M1002 698l-5 -14M1026 698l-4 -11M1051 698l-3 -10M1075 698l-4 -11M1100 698l-4 -12M1124 698l-6 -14M1149 698l-9 -25M1173 698l-1 -4M1197 698l0 -1M1222 698l0 -1M1246 698l0 -1M1344 698l0 -2M1369 698l-2 -11M1393 698l-1 -3M1418 698l-1 -4M1442 698l-2 -6M1467 698l-3 -10M1491 698l-3 -10M1516 698l-4 -11M1540 698l-5 -11M1565 698l-5 -12M1589 698l-7 -13M1613 698l-1 -2M1638 698l-1 -1M1711 698l-1 -1M1834 698l-1 -1M268 723l0 -2M292 723l-2 -11M317 723l-1 -4M341 723l-1 -4M365 723l-1 -6M390 723l-1 -10M414 723l-7 -33M439 723l-6 -33M463 723l-3 -17M488 723l-6 -32M512 723l-4 -25M537 723l-4 -27M561 723l-4 -27M586 723l-5 -33M610 723l-2 -17M635 723l-4 -29M659 723l-4 -33M684 723l-2 -17M708 723l-3 -31M733 723l-5 -30M757 723l-2 -17M781 723l-2 -15M806 723l-2 -13M830 723l-1 -4M879 723l0 -2M904 723l-1 -3M928 723l-9 -26M953 723l-4 -12M977 723l-4 -12M1002 723l-4 -12M1026 723l-4 -12M1051 723l-11 -31M1075 723l-11 -28M1100 723l-10 -25M1124 723l-10 -27M1149 723l-10 -29M1173 723l-4 -12M1197 723l-1 -2M1222 723l0 -2M1271 723l0 -1M1295 723l-1 -3M1320 723l0 -3M1344 723l0 -2M1369 723l-1 -4M1393 723l-2 -11M1418 723l-3 -10M1442 723l-3 -11M1467 723l-3 -11M1491 723l-4 -11M1516 723l-4 -11M1540 723l-4 -11M1565 723l-3 -9M1589 723l-1 -3M1613 723l-2 -4M1638 723l-1 -1M1834 723l-1 -1M268 747l0 -1M292 747l0 -3M317 747l0 -3M341 747l-1 -4M365 747l-2 -9M390 747l-3 -13M414 747l-3 -17M439 747l-3 -17M463 747l-6 -31M488 747l-5 -31M512 747l-5 -32M537 747l-4 -33M561 747l-3 -33M586 747l0 -2M610 747l-2 -11M635 747l-5 -29M659 747l-4 -30M684 747l-5 -32M708 747l-2 -17M733 747l-4 -28M757 747l-2 -15M781 747l-2 -13M806 747l-2 -11M830 747l-3 -13M855 747l0 -1M879 747l0 -2M904 747l-1 -3M928 747l-1 -3M953 747l-3 -8M977 747l-10 -28M1002 747l-2 -8M1026 747l-4 -12M1051 747l-9 -25M1075 747l-9 -29M1100 747l-11 -31M1124 747l-12 -30M1149 747l-10 -32M1173 747l-4 -12M1197 747l-4 -12M1222 747l0 -2M1246 747l0 -2M1271 747l0 -2M1295 747l-1 -6M1320 747l-1 -6M1344 747l0 -3M1369 747l-1 -6M1393 747l-3 -11M1418 747l-4 -15M1442 747l-4 -16M1467 747l-9 -30M1491 747l-4 -12M1516 747l-4 -11M1540 747l-4 -12M1565 747l-5 -12M1589 747l-1 -2M1613 747l-1 -1M1638 747l-1 -2M1662 747l-1 -1M1687 747l-1 -1M1834 747l-1 -1M268 772l0 -2M317 772l-1 -3M341 772l-3 -13M365 772l0 -2M390 772l-2 -13M414 772l-3 -17M439 772l-4 -17M463 772l-3 -15M488 772l-2 -11M512 772l-2 -15M537 772l-2 -11M561 772l-2 -13M586 772l0 -1M610 772l-1 -6M635 772l-4 -33M659 772l-3 -26M684 772l-4 -29M708 772l-2 -17M733 772l-2 -17M757 772l-2 -13M781 772l-2 -11M806 772l-2 -13M830 772l-3 -12M855 772l-1 -4M879 772l0 -1M904 772l-1 -2M928 772l-1 -3M953 772l-1 -4M977 772l-1 -2M1002 772l-2 -6M1026 772l-3 -9M1051 772l-5 -14M1075 772l-11 -28M1100 772l-9 -25M1124 772l-10 -28M1149 772l-10 -29M1173 772l-5 -14M1197 772l-3 -10M1222 772l-1 -3M1246 772l-1 -3M1271 772l-1 -4M1295 772l-1 -4M1320 772l0 -4M1344 772l-1 -10M1369 772l-1 -8M1393 772l-2 -11M1418 772l-3 -12M1442 772l-8 -29M1467 772l-6 -25M1491 772l-4 -12M1516 772l-4 -11M1540 772l-4 -11M1565 772l-2 -5M1589 772l-1 -3M1613 772l-1 -2M1638 772l-1 -2M1662 772l-1 -1M1687 772l-1 -1M1711 772l-1 -1M1834 772l-1 -1M268 796l0 -2M292 796l0 -2M317 796l-2 -11M341 796l-1 -8M365 796l-1 -9M390 796l-2 -9M414 796l-6 -32M439 796l-7 -32M463 796l-2 -13M488 796l-2 -13M512 796l-2 -13M537 796l-2 -11M561 796l-3 -15M586 796l0 -2M610 796l-2 -15M635 796l-3 -17M659 796l-3 -27M684 796l-5 -33M708 796l-3 -17M733 796l-2 -15M757 796l-2 -13M781 796l-2 -13M806 796l-3 -15M830 796l-2 -8M855 796l-1 -3M879 796l-3 -12M904 796l-1 -3M928 796l-1 -3M953 796l-1 -4M977 796l-1 -2M1002 796l-1 -4M1026 796l-3 -11M1051 796l-3 -8M1075 796l-5 -16M1100 796l-5 -16M1124 796l-3 -10M1149 796l-4 -11M1173 796l-2 -8M1197 796l-2 -8M1222 796l-1 -6M1246 796l-1 -6M1271 796l-1 -6M1295 796l-1 -8M1320 796l0 -6M1344 796l-1 -6M1369 796l-2 -10M1393 796l-2 -11M1418 796l-7 -28M1442 796l-7 -32M1467 796l-8 -27M1491 796l-3 -11M1516 796l0 -1M1565 796l-1 -2M1589 796l-1 -3M1613 796l-2 -4M1638 796l-1 -2M1662 796l-1 -2M1687 796l-1 -1M1711 796l-1 -1M1834 796l-1 -1M268 821l0 -3M292 821l-1 -4M317 821l-1 -6M341 821l-2 -9M365 821l-2 -8M390 821l-1 -8M414 821l0 -1M439 821l-2 -10M463 821l-2 -13M488 821l-2 -11M512 821l-2 -13M537 821l-3 -28M561 821l-1 -6M586 821l0 -3M610 821l-2 -15M635 821l-3 -31M659 821l-4 -30M684 821l-2 -17M708 821l-2 -17M733 821l-2 -15M757 821l-2 -13M781 821l-2 -11M806 821l-2 -11M830 821l-3 -12M855 821l-1 -3M879 821l-3 -12M904 821l-4 -11M928 821l-4 -12M953 821l-3 -8M977 821l-1 -1M1002 821l-2 -6M1026 821l-1 -3M1051 821l-1 -2M1075 821l-1 -1M1100 821l-1 -4M1124 821l-2 -6M1149 821l-1 -4M1173 821l-1 -3M1197 821l-1 -3M1222 821l-1 -4M1246 821l-2 -8M1271 821l-2 -10M1295 821l-2 -11M1320 821l-1 -11M1344 821l-1 -13M1369 821l-2 -11M1393 821l-2 -13M1418 821l-2 -11M1442 821l-2 -13M1467 821l-2 -11M1491 821l-1 -3M1516 821l-1 -2M1540 821l-1 -2M1565 821l-1 -2M1589 821l0 -1M1613 821l-1 -2M1638 821l-1 -2M1662 821l-1 -2M1687 821l-1 -2M1711 821l-1 -1M1834 821l-1 -1M268 845l0 -3M292 845l-1 -6M317 845l-2 -8M341 845l-1 -8M365 845l-2 -13M390 845l-1 -3M439 845l0 -3M463 845l-2 -15M488 845l-1 -13M512 845l-2 -11M537 845l-2 -15M561 845l-3 -17M586 845l-3 -17M610 845l-4 -25M635 845l-4 -28M659 845l-4 -32M684 845l-2 -17M708 845l-3 -17M733 845l-5 -28M757 845l-3 -17M781 845l-2 -13M806 845l-2 -11M830 845l-2 -10M855 845l-2 -10M879 845l-2 -11M904 845l-4 -12M928 845l-5 -16M953 845l-4 -12M977 845l-4 -11M1002 845l-9 -25M1026 845l-3 -11M1051 845l-1 -3M1075 845l0 -1M1100 845l-1 -2M1124 845l-1 -3M1149 845l-1 -2M1173 845l-1 -3M1197 845l-1 -3M1222 845l-1 -3M1246 845l-2 -13M1271 845l-2 -13M1295 845l-1 -13M1320 845l-1 -11M1344 845l-1 -11M1369 845l-1 -13M1393 845l-2 -13M1418 845l-2 -11M1442 845l-1 -8M1467 845l0 -2M1491 845l-1 -3M1516 845l-1 -2M1540 845l-1 -3M1565 845l0 -1M1589 845l0 -1M1613 845l-1 -3M1638 845l-1 -3M1662 845l-1 -3M1687 845l-1 -3M1711 845l-1 -2M1834 845l-1 -1M268 870l0 -2M292 870l-1 -4M317 870l-1 -3M341 870l-2 -15M365 870l-1 -6M390 870l0 -1M414 870l0 -2M439 870l-1 -8M463 870l-2 -15M488 870l-4 -26M512 870l-2 -17M537 870l-1 -13M561 870l-3 -28M586 870l-3 -28M610 870l-2 -26M635 870l-5 -34M659 870l-4 -25M684 870l-5 -34M708 870l-2 -17M733 870l-2 -15M757 870l-2 -15M781 870l-2 -13M806 870l-2 -13M830 870l-2 -11M855 870l-3 -11M879 870l-3 -11M904 870l-3 -11M928 870l-5 -16M953 870l-8 -30M977 870l-5 -16M1002 870l-7 -25M1026 870l-4 -11M1051 870l-1 -2M1075 870l0 -1M1100 870l-1 -2M1124 870l-1 -3M1149 870l-1 -2M1173 870l-1 -3M1197 870l-1 -3M1222 870l-2 -8M1246 870l-2 -10M1271 870l-2 -11M1295 870l-1 -11M1320 870l-1 -12M1344 870l-1 -13M1369 870l-1 -17M1393 870l-2 -15M1418 870l-4 -30M1442 870l-3 -15M1467 870l0 -1M1491 870l0 -2M1516 870l-1 -3M1540 870l-1 -2M1565 870l-1 -3M1589 870l-1 -4M1613 870l-1 -3M1638 870l-1 -3M1662 870l-1 -2M1687 870l-1 -2M1711 870l0 -1M1736 870l0 -1M1834 870l-1 -1M268 894l0 -2M292 894l-1 -4M317 894l0 -3M341 894l-1 -13M365 894l-1 -6M390 894l0 -2M414 894l-1 -6M439 894l-1 -13M463 894l-5 -32M488 894l-4 -32M512 894l-4 -27M537 894l-2 -13M561 894l-3 -29M586 894l-4 -29M610 894l-5 -32M635 894l-3 -26M659 894l-4 -29M684 894l-3 -28M708 894l-3 -26M733 894l-2 -13M757 894l-2 -13M781 894l-3 -17M806 894l-7 -32M830 894l-2 -9M855 894l-2 -10M879 894l-3 -11M904 894l-3 -13M928 894l-4 -14M953 894l-8 -29M977 894l-5 -16M1002 894l-4 -12M1026 894l-10 -28M1051 894l-4 -12M1075 894l0 -1M1100 894l0 -1M1124 894l0 -1M1149 894l-1 -4M1173 894l0 -1M1197 894l0 -2M1222 894l-1 -6M1246 894l-2 -8M1271 894l-2 -13M1295 894l-1 -13M1320 894l-1 -11M1344 894l-2 -30M1369 894l-1 -29M1393 894l-1 -15M1418 894l-3 -17M1442 894l-2 -13M1467 894l-1 -9M1491 894l0 -2M1516 894l0 -1M1540 894l0 -2M1565 894l-1 -4M1589 894l-3 -12M1613 894l-1 -3M1638 894l-1 -4M1662 894l-1 -3M1687 894l0 -1M1711 894l0 -1M1736 894l0 -1M1834 894l-1 -1M268 918l0 -1M292 918l0 -2M317 918l0 -3M341 918l-2 -15M365 918l-2 -15M390 918l-1 -11M414 918l-2 -9M439 918l-2 -15M463 918l-4 -26M488 918l-1 -13M512 918l-1 -11M537 918l-2 -13M561 918l-4 -30M586 918l-1 -15M610 918l-2 -15M635 918l-1 -17M659 918l-1 -15M684 918l-2 -28M708 918l-3 -30M733 918l-4 -27M757 918l-2 -17M781 918l-6 -33M806 918l-6 -32M830 918l-3 -11M855 918l-2 -10M879 918l-2 -9M904 918l-3 -11M928 918l-3 -12M953 918l-3 -11M977 918l-3 -11M1002 918l-4 -12M1026 918l-4 -14M1051 918l-5 -14M1075 918l-3 -8M1100 918l-1 -2M1124 918l0 -1M1173 918l0 -1M1197 918l0 -1M1222 918l-2 -8M1246 918l-2 -11M1271 918l-2 -15M1295 918l-2 -17M1320 918l-1 -31M1344 918l-1 -27M1369 918l-2 -17M1393 918l-1 -11M1418 918l0 -2M1442 918l0 -2M1467 918l-1 -10M1491 918l0 -2M1540 918l0 -1M1565 918l0 -2M1589 918l0 -2M1613 918l-3 -11M1638 918l-1 -6M1662 918l-1 -4M1687 918l-1 -2M1711 918l0 -1M1736 918l0 -1M1760 918l0 -1M1834 918l-1 -1M268 943l0 -2M292 943l0 -1M317 943l-1 -6M341 943l-1 -15M365 943l-4 -26M390 943l-2 -13M414 943l-1 -13M439 943l-2 -15M463 943l-1 -15M488 943l-2 -13M512 943l-1 -11M537 943l-2 -13M561 943l-1 -13M586 943l-2 -26M610 943l-1 -17M635 943l-3 -17M659 943l-2 -13M684 943l-1 -17M708 943l-3 -26M733 943l-4 -29M757 943l-4 -28M781 943l-4 -25M806 943l-2 -15M830 943l0 -3M855 943l-1 -3M879 943l-3 -10M904 943l-2 -10M928 943l-3 -11M953 943l-2 -8M977 943l-2 -6M1002 943l-4 -12M1026 943l-4 -11M1051 943l-5 -14M1075 943l-4 -11M1100 943l-1 -1M1124 943l0 -1M1149 943l-1 -1M1173 943l0 -1M1197 943l0 -1M1222 943l-2 -9M1246 943l-7 -32M1271 943l-4 -30M1295 943l-2 -28M1320 943l-3 -32M1344 943l-2 -33M1369 943l-2 -28M1393 943l-1 -8M1418 943l-1 -6M1442 943l0 -4M1467 943l-1 -6M1491 943l-1 -4M1565 943l0 -1M1589 943l0 -2M1613 943l-1 -3M1638 943l-2 -10M1662 943l-2 -10M1687 943l-1 -3M1711 943l0 -2M1736 943l0 -2M1834 943l-1 -1M268 967l0 -2M292 967l0 -3M317 967l-1 -11M341 967l-2 -26M365 967l-3 -28M390 967l-2 -15M414 967l-1 -13M439 967l-2 -15M463 967l-1 -15M488 967l-2 -13M512 967l-1 -10M537 967l-1 -11M561 967l-1 -17M586 967l-4 -30M610 967l-4 -28M635 967l-4 -29M659 967l-3 -25M684 967l-3 -33M708 967l-2 -27M733 967l-3 -26M757 967l-3 -31M781 967l-2 -17M806 967l-1 -6M879 967l0 -1M904 967l-2 -10M928 967l-3 -12M953 967l-3 -11M977 967l-4 -12M1002 967l-4 -15M1026 967l-11 -30M1051 967l-8 -27M1075 967l-4 -12M1100 967l-4 -12M1124 967l-1 -3M1149 967l-1 -2M1173 967l-1 -1M1197 967l0 -2M1222 967l-3 -15M1246 967l-6 -31M1271 967l-4 -28M1295 967l-1 -17M1320 967l0 -17M1344 967l0 -29M1369 967l-1 -31M1393 967l-2 -29M1442 967l-1 -8M1467 967l-1 -15M1491 967l-2 -15M1516 967l0 -3M1638 967l0 -1M1662 967l0 -3M1687 967l0 -2M1711 967l0 -2M1736 967l0 -1M1760 967l0 -1M1834 967l-1 -1M268 992l0 -2M292 992l0 -4M317 992l-1 -10M341 992l-2 -15M365 992l-1 -13M390 992l-1 -10M414 992l-1 -15M439 992l-2 -15M463 992l-4 -32M488 992l-3 -28M512 992l-2 -13M537 992l-2 -29M561 992l-4 -29M586 992l-1 -26M610 992l-3 -29M635 992l-3 -32M659 992l-3 -34M684 992l-2 -32M708 992l-2 -25M733 992l-3 -25M757 992l-2 -17M781 992l-2 -13M806 992l-1 -6M830 992l0 -2M855 992l0 -2M879 992l-2 -11M904 992l-8 -31M928 992l-4 -17M953 992l-7 -24M977 992l-3 -12M1002 992l-5 -14M1026 992l-9 -28M1051 992l-10 -26M1075 992l-4 -12M1100 992l-5 -14M1124 992l-5 -11M1149 992l0 -1M1173 992l-1 -2M1197 992l-1 -6M1222 992l-6 -30M1246 992l-4 -32M1271 992l-2 -15M1295 992l-1 -13M1320 992l-1 -13M1344 992l-1 -33M1369 992l0 -27M1393 992l-1 -27M1418 992l0 -8M1442 992l-1 -15M1467 992l-1 -15M1491 992l-1 -15M1516 992l-1 -17M1540 992l0 -3M1565 992l0 -1M1638 992l0 -1M1662 992l0 -3M1687 992l0 -2M1711 992l0 -1M1736 992l0 -1M1760 992l0 -1M1809 992l0 -1M1834 992l-1 -1M268 1016l0 -2M292 1016l0 -4M317 1016l-1 -13M341 1016l-1 -11M365 1016l-1 -11M390 1016l-2 -11M414 1016l-1 -13M439 1016l-3 -33M463 1016l-4 -32M488 1016l-1 -17M512 1016l-5 -32M537 1016l-2 -28M561 1016l-4 -26M586 1016l-1 -17M610 1016l-3 -33M635 1016l-2 -32M659 1016l-3 -26M684 1016l-3 -26M708 1016l-5 -33M733 1016l-2 -15M757 1016l-2 -13M781 1016l0 -4M806 1016l-1 -6M830 1016l-1 -4M855 1016l-2 -11M879 1016l-2 -13M904 1016l-3 -15M928 1016l-4 -17M953 1016l-4 -15M977 1016l-6 -25M1002 1016l-9 -33M1026 1016l-9 -32M1051 1016l-4 -11M1075 1016l-3 -10M1100 1016l-6 -16M1124 1016l-2 -6M1149 1016l-1 -1M1173 1016l0 -1M1197 1016l-1 -3M1222 1016l-1 -4M1246 1016l-2 -13M1271 1016l-2 -15M1295 1016l-1 -8M1320 1016l-1 -11M1344 1016l0 -28M1369 1016l-2 -34M1393 1016l-1 -13M1418 1016l0 -13M1442 1016l0 -13M1467 1016l-1 -15M1491 1016l0 -12M1516 1016l-1 -15M1540 1016l0 -4M1565 1016l0 -2M1589 1016l0 -2M1662 1016l0 -1M1687 1016l0 -2M1711 1016l0 -2M1736 1016l0 -1M1760 1016l0 -1M1834 1016l-1 -1M268 1041l0 -3M292 1041l0 -3M317 1041l0 -3M341 1041l-1 -8M365 1041l-1 -8M390 1041l-1 -9M414 1041l-1 -11M439 1041l-1 -13M463 1041l-2 -13M488 1041l-3 -25M512 1041l-3 -33M537 1041l-3 -30M561 1041l-3 -27M586 1041l-4 -26M610 1041l-5 -32M635 1041l-4 -25M659 1041l-4 -28M684 1041l-2 -15M708 1041l-5 -27M733 1041l-1 -11M757 1041l-2 -9M781 1041l-1 -6M806 1041l0 -3M830 1041l-1 -4M855 1041l-2 -8M879 1041l-3 -13M904 1041l-4 -15M928 1041l-5 -16M953 1041l-4 -16M977 1041l-8 -30M1002 1041l-9 -28M1026 1041l-9 -30M1051 1041l-9 -29M1075 1041l-9 -26M1100 1041l-4 -12M1124 1041l-1 -1M1149 1041l0 -1M1173 1041l0 -1M1197 1041l0 -2M1246 1041l-3 -27M1271 1041l-4 -33M1295 1041l-1 -11M1320 1041l0 -8M1344 1041l0 -1M1369 1041l0 -13M1393 1041l0 -12M1418 1041l-1 -11M1442 1041l-1 -13M1467 1041l-1 -17M1491 1041l-1 -13M1516 1041l0 -4M1540 1041l0 -2M1565 1041l0 -3M1589 1041l0 -3M1613 1041l0 -2M1638 1041l0 -2M1687 1041l0 -6M1711 1041l0 -2M1736 1041l0 -2M1834 1041l-1 -1M268 1065l0 -2M292 1065l0 -2M317 1065l0 -2M341 1065l-1 -4M365 1065l-1 -4M390 1065l-1 -4M414 1065l-1 -4M439 1065l-2 -13M463 1065l-1 -13M488 1065l-2 -15M512 1065l-4 -28M537 1065l-4 -27M561 1065l-4 -28M586 1065l-3 -25M610 1065l-2 -13M635 1065l-1 -13M659 1065l-2 -13M684 1065l-1 -8M708 1065l-1 -11M733 1065l-2 -13M757 1065l-1 -10M781 1065l-1 -3M806 1065l0 -2M830 1065l-1 -3M855 1065l-1 -6M879 1065l-3 -13M904 1065l-4 -15M928 1065l-4 -14M953 1065l-4 -14M977 1065l-7 -28M1002 1065l-8 -28M1026 1065l-8 -30M1051 1065l-9 -27M1075 1065l-9 -31M1100 1065l-4 -12M1124 1065l-1 -3M1149 1065l-1 -2M1173 1065l0 -2M1197 1065l0 -1M1222 1065l-1 -4M1246 1065l-2 -11M1271 1065l-2 -11M1295 1065l-1 -15M1320 1065l0 -3M1344 1065l0 -2M1369 1065l0 -4M1393 1065l0 -12M1418 1065l0 -9M1442 1065l-1 -10M1467 1065l-1 -11M1491 1065l0 -10M1516 1065l0 -6M1540 1065l0 -2M1565 1065l0 -3M1589 1065l0 -3M1613 1065l0 -3M1638 1065l0 -3M1662 1065l0 -3M1687 1065l0 -6M1711 1065l0 -1M1736 1065l0 -1M1834 1065l-1 -1M268 1090l0 -2M292 1090l0 -2M317 1090l0 -2M341 1090l0 -2M365 1090l-1 -4M390 1090l-1 -4M414 1090l-1 -4M439 1090l0 -3M463 1090l-2 -11M488 1090l-2 -15M512 1090l-5 -25M537 1090l-4 -30M561 1090l-3 -17M586 1090l-3 -15M610 1090l-2 -13M635 1090l-2 -15M659 1090l-2 -11M684 1090l-2 -13M708 1090l-2 -11M733 1090l-3 -13M757 1090l-2 -11M781 1090l-2 -10M806 1090l0 -3M830 1090l-1 -3M855 1090l-1 -4M879 1090l-2 -11M904 1090l-4 -12M928 1090l-4 -15M953 1090l-2 -9M977 1090l-7 -27M1002 1090l-9 -31M1026 1090l-8 -28M1051 1090l-4 -17M1075 1090l-5 -16M1100 1090l-10 -31M1124 1090l-4 -12M1149 1090l-1 -3M1173 1090l0 -2M1197 1090l0 -3M1222 1090l-1 -4M1246 1090l-1 -6M1271 1090l0 -2M1295 1090l0 -4M1320 1090l0 -3M1344 1090l0 -2M1369 1090l0 -4M1393 1090l0 -12M1418 1090l-1 -11M1442 1090l-1 -12M1467 1090l0 -12M1491 1090l0 -12M1516 1090l0 -9M1540 1090l0 -3M1565 1090l0 -6M1589 1090l0 -6M1613 1090l0 -4M1638 1090l0 -4M1662 1090l0 -3M1687 1090l0 -3M1711 1090l0 -1M1736 1090l0 -1M1809 1090l0 -1M1834 1090l-1 -1M268 1114l0 -3M292 1114l0 -3M317 1114l-1 -4M341 1114l0 -2M365 1114l-1 -6M390 1114l-1 -6M414 1114l-1 -4M439 1114l-1 -6M463 1114l-3 -11M488 1114l-6 -29M512 1114l-6 -29M537 1114l-5 -31M561 1114l-6 -26M586 1114l-6 -26M610 1114l-2 -15M635 1114l-2 -15M659 1114l-2 -13M684 1114l-2 -10M708 1114l-2 -11M733 1114l-2 -13M757 1114l-2 -11M781 1114l-1 -4M806 1114l-1 -6M830 1114l-1 -4M855 1114l-2 -9M879 1114l-3 -13M904 1114l-5 -16M928 1114l-8 -24M953 1114l-4 -15M977 1114l-3 -12M1002 1114l-4 -14M1026 1114l-4 -15M1051 1114l-4 -12M1075 1114l-4 -15M1100 1114l-5 -16M1124 1114l-4 -15M1149 1114l-3 -11M1173 1114l0 -2M1197 1114l-3 -13M1222 1114l-2 -8M1246 1114l0 -3M1271 1114l0 -3M1295 1114l0 -2M1320 1114l0 -2M1344 1114l0 -3M1369 1114l0 -6M1393 1114l0 -10M1418 1114l0 -12M1442 1114l-1 -13M1467 1114l0 -13M1491 1114l-1 -12M1516 1114l0 -10M1540 1114l-1 -11M1565 1114l0 -12M1589 1114l-1 -8M1613 1114l-1 -8M1638 1114l0 -6M1662 1114l0 -3M1687 1114l0 -1M1834 1114l-1 -1M268 1138l-1 -3M292 1138l-1 -3M317 1138l-1 -6M341 1138l0 -1M365 1138l-1 -8M390 1138l-2 -11M414 1138l-1 -4M439 1138l-1 -3M463 1138l-2 -13M488 1138l-6 -33M512 1138l-7 -29M537 1138l-7 -27M561 1138l-5 -30M586 1138l-6 -27M610 1138l-3 -17M635 1138l-4 -17M659 1138l-2 -13M684 1138l-3 -13M708 1138l-2 -13M733 1138l-2 -17M757 1138l-1 -6M781 1138l-1 -8M806 1138l-3 -13M830 1138l-3 -11M855 1138l-3 -12M879 1138l-4 -15M904 1138l-3 -15M928 1138l-7 -29M953 1138l-8 -30M977 1138l-4 -12M1002 1138l-3 -11M1026 1138l-2 -9M1051 1138l-2 -8M1075 1138l-3 -11M1100 1138l-8 -25M1124 1138l-8 -27M1149 1138l-3 -12M1173 1138l-1 -4M1197 1138l-4 -26M1222 1138l-1 -4M1246 1138l0 -2M1271 1138l0 -3M1295 1138l0 -2M1320 1138l0 -2M1344 1138l0 -8M1369 1138l0 -13M1393 1138l-1 -13M1418 1138l0 -10M1442 1138l0 -13M1467 1138l0 -13M1491 1138l0 -10M1516 1138l0 -12M1540 1138l0 -12M1565 1138l0 -12M1589 1138l0 -8M1613 1138l0 -12M1638 1138l-1 -9M1662 1138l0 -2M1687 1138l0 -2M1711 1138l0 -1M1834 1138l-1 -1M268 1163l-1 -3M292 1163l-3 -15M317 1163l-1 -6M341 1163l-3 -15M365 1163l-6 -29M390 1163l-3 -12M439 1163l-3 -12M463 1163l-6 -26M488 1163l-8 -31M512 1163l-5 -25M537 1163l-8 -29M561 1163l-6 -25M586 1163l-8 -30M610 1163l-7 -27M635 1163l-7 -28M659 1163l-2 -15M684 1163l-3 -12M708 1163l-3 -15M733 1163l-3 -15M757 1163l-2 -11M781 1163l-2 -10M806 1163l-3 -11M830 1163l-3 -12M855 1163l-6 -26M879 1163l-4 -15M904 1163l-3 -12M928 1163l-7 -26M953 1163l-11 -32M977 1163l-5 -16M1002 1163l-3 -11M1026 1163l-3 -10M1051 1163l-2 -9M1075 1163l-3 -11M1100 1163l-8 -31M1124 1163l-6 -26M1149 1163l-7 -32M1173 1163l-2 -13M1222 1163l0 -2M1246 1163l0 -2M1271 1163l0 -1M1320 1163l-1 -9M1344 1163l-1 -15M1369 1163l-1 -13M1393 1163l-1 -11M1418 1163l-1 -10M1442 1163l-1 -9M1467 1163l-1 -8M1491 1163l0 -8M1516 1163l0 -12M1540 1163l0 -13M1565 1163l0 -10M1589 1163l0 -10M1613 1163l0 -8M1638 1163l0 -9M1662 1163l0 -4M1809 1163l0 -1M1834 1163l-1 -1M268 1187l-3 -11M292 1187l-3 -15M317 1187l-4 -17M341 1187l-4 -17M365 1187l-8 -28M390 1187l-8 -30M414 1187l-1 -6M439 1187l-4 -14M463 1187l-8 -31M488 1187l-9 -32M512 1187l-6 -28M537 1187l-9 -30M561 1187l-7 -27M586 1187l-9 -31M610 1187l-6 -24M635 1187l-5 -25M659 1187l-4 -16M684 1187l-3 -13M708 1187l-3 -13M733 1187l-3 -15M757 1187l-3 -13M781 1187l-3 -15M806 1187l-3 -13M830 1187l-4 -14M855 1187l-4 -15M879 1187l-7 -27M904 1187l-8 -26M928 1187l-5 -16M953 1187l-10 -29M977 1187l-4 -15M1002 1187l-4 -14M1026 1187l-2 -10M1051 1187l-3 -11M1075 1187l-2 -11M1100 1187l-2 -11M1124 1187l-1 -3M1149 1187l-2 -10M1173 1187l0 -2M1197 1187l0 -2M1246 1187l0 -2M1271 1187l0 -2M1295 1187l-1 -10M1320 1187l-3 -33M1344 1187l-2 -34M1369 1187l-1 -32M1393 1187l-1 -13M1418 1187l0 -10M1442 1187l0 -9M1467 1187l0 -3M1491 1187l0 -2M1516 1187l0 -6M1540 1187l0 -12M1565 1187l0 -8M1589 1187l0 -10M1613 1187l0 -4M1638 1187l0 -4M1662 1187l0 -9M1834 1187l-1 -1M268 1212l-3 -11M292 1212l-8 -27M317 1212l-8 -30M341 1212l-8 -29M365 1212l-4 -14M390 1212l-3 -12M414 1212l-2 -9M439 1212l-3 -10M463 1212l-3 -15M488 1212l-9 -31M512 1212l-8 -29M537 1212l-9 -30M561 1212l-9 -30M586 1212l-6 -25M610 1212l-7 -25M635 1212l-7 -32M659 1212l-7 -29M684 1212l-2 -9M708 1212l-1 -6M733 1212l-3 -15M757 1212l-3 -15M781 1212l-7 -27M806 1212l-3 -15M830 1212l-3 -11M855 1212l-3 -11M879 1212l-4 -12M904 1212l-4 -12M928 1212l-5 -14M953 1212l-3 -10M977 1212l-5 -16M1002 1212l-9 -32M1026 1212l0 -1M1051 1212l-1 -6M1075 1212l-1 -8M1100 1212l-2 -9M1124 1212l0 -2M1149 1212l-1 -4M1173 1212l-1 -4M1197 1212l0 -2M1222 1212l0 -3M1246 1212l-1 -4M1271 1212l-1 -8M1295 1212l0 -2M1320 1212l-2 -26M1344 1212l-1 -17M1369 1212l-1 -13M1393 1212l-1 -13M1418 1212l-1 -8M1442 1212l0 -6M1467 1212l0 -1M1491 1212l0 -2M1516 1212l0 -2M1540 1212l0 -8M1565 1212l0 -8M1589 1212l0 -4M1613 1212l0 -1M1638 1212l0 -2M1662 1212l0 -3M1687 1212l0 -1M1711 1212l0 -1M1834 1212l-1 -1M268 1236l-9 -29M292 1236l-7 -27M317 1236l-8 -31M341 1236l-4 -14M365 1236l-4 -12M390 1236l-3 -11M414 1236l-1 -6M439 1236l-1 -4M463 1236l-4 -12M488 1236l-7 -29M512 1236l-7 -30M537 1236l-7 -31M561 1236l-8 -31M586 1236l-8 -27M610 1236l-6 -27M635 1236l-6 -25M659 1236l-3 -12M684 1236l-1 -3M708 1236l-1 -4M733 1236l-3 -12M757 1236l-3 -15M781 1236l-3 -15M806 1236l-4 -15M830 1236l-4 -14M855 1236l-2 -8M879 1236l-2 -6M904 1236l-1 -4M928 1236l-1 -4M953 1236l-1 -4M977 1236l-5 -16M1002 1236l-3 -11M1026 1236l-1 -3M1051 1236l-1 -3M1075 1236l0 -3M1100 1236l-1 -9M1124 1236l-2 -11M1149 1236l0 -2M1173 1236l-1 -6M1197 1236l-1 -8M1222 1236l-1 -8M1246 1236l-1 -13M1271 1236l-1 -9M1295 1236l-1 -11M1320 1236l0 -3M1344 1236l-1 -11M1369 1236l-1 -13M1393 1236l-1 -13M1418 1236l0 -3M1442 1236l0 -3M1467 1236l0 -1M1491 1236l0 -2M1516 1236l0 -2M1540 1236l0 -3M1589 1236l0 -1M1687 1236l0 -2M1711 1236l0 -2M1736 1236l0 -1M1760 1236l0 -1M1834 1236l-1 -1M268 1261l-4 -12M292 1261l-9 -30M317 1261l-7 -27M341 1261l-4 -14M365 1261l-5 -14M390 1261l-4 -15M414 1261l-1 -3M439 1261l0 -2M463 1261l-2 -10M488 1261l-9 -30M512 1261l-8 -31M537 1261l-4 -14M561 1261l-7 -25M586 1261l-6 -27M610 1261l-7 -30M635 1261l-5 -27M659 1261l-3 -13M684 1261l-2 -8M708 1261l-2 -9M733 1261l-1 -8M757 1261l-3 -12M781 1261l-2 -13M806 1261l-2 -11M830 1261l-1 -4M855 1261l-1 -6M879 1261l-1 -4M904 1261l-1 -3M928 1261l-1 -4M953 1261l-2 -6M977 1261l-3 -15M1002 1261l-3 -12M1026 1261l-3 -11M1051 1261l-2 -9M1075 1261l-2 -11M1100 1261l-2 -10M1124 1261l0 -4M1149 1261l-2 -13M1173 1261l-2 -13M1197 1261l-1 -11M1222 1261l-2 -13M1246 1261l-2 -11M1271 1261l-1 -11M1295 1261l-1 -10M1320 1261l-1 -15M1393 1261l-1 -11M1418 1261l-1 -15M1442 1261l0 -6M1516 1261l0 -2M1565 1261l0 -1M1589 1261l0 -1M1613 1261l0 -1M1687 1261l0 -2M1711 1261l0 -1M1809 1261l0 -1M1834 1261l-1 -1M268 1285l-1 -2M292 1285l-3 -11M317 1285l-8 -26M341 1285l-7 -26M365 1285l-9 -29M390 1285l-3 -10M414 1285l-1 -4M439 1285l0 -1M463 1285l-3 -9M488 1285l-4 -14M512 1285l-4 -12M537 1285l-3 -13M561 1285l-6 -26M586 1285l-9 -32M610 1285l-7 -30M635 1285l-4 -17M659 1285l-3 -15M684 1285l-3 -11M708 1285l-3 -12M733 1285l-3 -15M757 1285l-2 -13M781 1285l-2 -11M806 1285l-2 -9M830 1285l-1 -4M855 1285l-1 -4M879 1285l-1 -3M904 1285l-1 -4M928 1285l-1 -3M953 1285l-2 -8M977 1285l-7 -31M1002 1285l-8 -33M1026 1285l-6 -32M1051 1285l-3 -15M1075 1285l-1 -10M1100 1285l-2 -13M1124 1285l-1 -4M1149 1285l-2 -13M1173 1285l-1 -13M1197 1285l-2 -17M1222 1285l-1 -15M1246 1285l-2 -11M1271 1285l-1 -10M1295 1285l-2 -11M1320 1285l-3 -34M1369 1285l0 -3M1393 1285l-3 -32M1418 1285l0 -26M1442 1285l0 -10M1467 1285l0 -12M1491 1285l0 -6M1516 1285l0 -3M1540 1285l0 -3M1565 1285l0 -3M1589 1285l0 -2M1613 1285l0 -2M1638 1285l0 -1M1809 1285l0 -2M1834 1285l-1 -1M268 1310l-1 -2M292 1310l-3 -9M317 1310l-5 -16M341 1310l-8 -25M365 1310l-7 -25M390 1310l-4 -12M414 1310l-1 -4M439 1310l0 -1M463 1310l-3 -9M488 1310l-7 -28M512 1310l-7 -31M537 1310l-7 -28M561 1310l-5 -16M586 1310l-7 -31M610 1310l-3 -11M635 1310l-4 -15M659 1310l-3 -15M684 1310l-3 -15M708 1310l-3 -12M733 1310l-3 -15M757 1310l-5 -25M781 1310l-6 -33M806 1310l-3 -15M830 1310l-1 -4M855 1310l-1 -3M879 1310l0 -1M904 1310l-1 -4M928 1310l-3 -17M953 1310l0 -3M977 1310l-1 -4M1002 1310l-1 -3M1026 1310l-3 -25M1051 1310l-5 -27M1075 1310l-1 -6M1100 1310l-1 -6M1124 1310l-3 -15M1149 1310l-2 -13M1173 1310l-2 -13M1197 1310l-2 -17M1222 1310l-2 -26M1246 1310l-2 -15M1271 1310l-1 -15M1295 1310l-4 -34M1320 1310l-3 -27M1344 1310l-2 -26M1369 1310l0 -13M1393 1310l-1 -17M1418 1310l-3 -33M1442 1310l0 -15M1467 1310l-1 -11M1491 1310l0 -13M1516 1310l0 -12M1540 1310l0 -4M1565 1310l0 -3M1589 1310l0 -2M1613 1310l0 -3M1711 1310l0 -1M1736 1310l0 -1M1809 1310l0 -2M1834 1310l-1 -1M268 1334l-1 -2M292 1334l-2 -6M317 1334l-4 -15M341 1334l-5 -16M365 1334l-4 -15M390 1334l-4 -14M414 1334l-1 -6M439 1334l0 -1M463 1334l-3 -11M488 1334l-7 -27M512 1334l-9 -30M537 1334l-7 -32M561 1334l-7 -27M586 1334l-7 -31M610 1334l-4 -15M635 1334l-5 -16M659 1334l-6 -31M684 1334l-3 -17M708 1334l-2 -11M733 1334l-3 -11M757 1334l-6 -30M781 1334l-6 -29M806 1334l-3 -15M830 1334l-3 -13M855 1334l-1 -3M879 1334l0 -2M904 1334l-1 -3M928 1334l-1 -4M953 1334l-1 -4M977 1334l0 -1M1026 1334l-2 -11M1051 1334l-2 -9M1075 1334l0 -1M1100 1334l0 -2M1124 1334l-1 -13M1149 1334l-2 -15M1173 1334l-4 -29M1197 1334l-1 -17M1222 1334l-1 -15M1246 1334l-1 -15M1271 1334l-1 -15M1295 1334l-1 -17M1320 1334l-4 -29M1344 1334l-1 -15M1369 1334l-3 -33M1393 1334l-3 -32M1418 1334l-1 -32M1442 1334l-1 -27M1467 1334l0 -12M1491 1334l0 -12M1516 1334l0 -10M1540 1334l0 -8M1565 1334l0 -2M1589 1334l0 -3M1613 1334l0 -2M1809 1334l0 -1M1834 1334l-1 -1M268 1358l-1 -2M292 1358l-1 -4M317 1358l-5 -14M341 1358l-4 -12M365 1358l-4 -12M390 1358l-4 -12M414 1358l-4 -14M439 1358l-3 -10M463 1358l-3 -11M488 1358l-4 -12M512 1358l-6 -25M537 1358l-8 -26M561 1358l-6 -24M586 1358l-9 -30M610 1358l-2 -11M635 1358l-3 -12M659 1358l-8 -30M684 1358l-8 -31M708 1358l-3 -15M733 1358l-3 -17M757 1358l-6 -25M781 1358l-5 -26M806 1358l-3 -12M830 1358l-3 -15M855 1358l-3 -13M904 1358l0 -1M928 1358l-1 -3M953 1358l-1 -4M977 1358l0 -3M1002 1358l-1 -11M1026 1358l-1 -11M1051 1358l0 -3M1075 1358l0 -2M1100 1358l0 -2M1124 1358l0 -4M1149 1358l-1 -4M1173 1358l-1 -13M1197 1358l-1 -17M1222 1358l-2 -13M1246 1358l-1 -13M1271 1358l-1 -13M1295 1358l-1 -9M1320 1358l-1 -13M1344 1358l-1 -15M1369 1358l-3 -29M1393 1358l-3 -26M1418 1358l-2 -28M1442 1358l-2 -25M1467 1358l0 -13M1491 1358l-1 -12M1516 1358l0 -12M1540 1358l0 -12M1565 1358l0 -2M1589 1358l0 -2M1613 1358l0 -2M1662 1358l0 -1M1834 1358l-1 -1M268 1383l-1 -3M292 1383l-1 -4M317 1383l-4 -12M341 1383l-4 -12M365 1383l-3 -12M390 1383l-3 -12M414 1383l-5 -14M439 1383l-4 -15M463 1383l-4 -11M488 1383l-3 -11M512 1383l-4 -14M537 1383l-8 -25M561 1383l-7 -26M586 1383l-3 -12M610 1383l-3 -13M635 1383l-3 -15M659 1383l-4 -15M684 1383l-3 -13M708 1383l-3 -15M733 1383l-4 -17M757 1383l-5 -27M781 1383l-5 -26M806 1383l-6 -28M830 1383l-6 -29M855 1383l-2 -13M879 1383l-2 -11M904 1383l-1 -6M928 1383l0 -3M953 1383l0 -2M977 1383l-1 -6M1002 1383l-1 -8M1026 1383l-1 -11M1051 1383l-2 -11M1075 1383l-1 -8M1100 1383l0 -6M1124 1383l-1 -6M1149 1383l0 -4M1173 1383l0 -3M1197 1383l-1 -13M1222 1383l0 -2M1271 1383l0 -3M1295 1383l0 -2M1320 1383l0 -3M1344 1383l-1 -13M1369 1383l-1 -17M1393 1383l-1 -17M1418 1383l-2 -32M1442 1383l-3 -33M1467 1383l-1 -15M1491 1383l0 -12M1516 1383l-1 -13M1540 1383l0 -12M1565 1383l0 -2M1589 1383l0 -2M1613 1383l0 -1M1638 1383l0 -1M1662 1383l0 -1M1687 1383l0 -1M1834 1383l-1 -1M268 1407l-1 -3M292 1407l-1 -4M317 1407l-4 -12M341 1407l-4 -12M365 1407l-4 -12M390 1407l-4 -12M414 1407l-4 -15M439 1407l-3 -11M463 1407l-2 -8M488 1407l-3 -11M512 1407l-3 -15M537 1407l-8 -28M561 1407l-7 -29M586 1407l-8 -28M610 1407l-4 -15M635 1407l-3 -15M659 1407l-3 -11M684 1407l-3 -10M708 1407l-3 -12M733 1407l-4 -15M757 1407l-7 -27M781 1407l-5 -26M806 1407l-7 -30M830 1407l-4 -25M855 1407l-1 -9M879 1407l-2 -10M904 1407l-1 -11M928 1407l-1 -13M953 1407l-2 -13M977 1407l0 -2M1002 1407l0 -2M1026 1407l-1 -11M1051 1407l-2 -13M1075 1407l-1 -13M1100 1407l-2 -13M1124 1407l0 -6M1149 1407l-1 -6M1173 1407l-1 -6M1197 1407l-2 -13M1222 1407l-1 -11M1246 1407l0 -2M1271 1407l0 -2M1295 1407l0 -2M1320 1407l0 -2M1344 1407l-1 -15M1369 1407l-2 -34M1393 1407l-3 -27M1418 1407l-1 -28M1442 1407l-1 -28M1467 1407l0 -25M1491 1407l0 -17M1516 1407l0 -1M1540 1407l0 -2M1613 1407l0 -1M1638 1407l0 -1M1662 1407l0 -1M1834 1407l-1 -1M268 1432l-1 -3M292 1432l-1 -4M317 1432l-3 -12M341 1432l-4 -12M365 1432l-4 -12M390 1432l-5 -14M414 1432l-8 -28M439 1432l-3 -8M463 1432l0 -1M488 1432l0 -1M512 1432l-8 -33M537 1432l-9 -32M561 1432l-4 -17M586 1432l-3 -11M610 1432l-2 -11M635 1432l-3 -15M659 1432l-1 -4M684 1432l-1 -3M708 1432l-3 -12M733 1432l-4 -17M757 1432l-6 -28M781 1432l-7 -32M806 1432l-6 -30M830 1432l-2 -15M855 1432l-2 -11M879 1432l-2 -10M904 1432l-2 -10M928 1432l-2 -10M953 1432l-2 -9M977 1432l-2 -9M1002 1432l-1 -8M1026 1432l0 -4M1051 1432l-2 -11M1075 1432l-1 -13M1100 1432l-1 -11M1124 1432l-1 -8M1149 1432l0 -6M1173 1432l0 -6M1197 1432l0 -2M1222 1432l0 -2M1246 1432l0 -3M1271 1432l0 -2M1295 1432l0 -1M1320 1432l0 -2M1344 1432l-1 -15M1369 1432l-3 -31M1393 1432l0 -17M1418 1432l-2 -29M1442 1432l-2 -31M1467 1432l0 -17M1491 1432l-1 -34M1516 1432l0 -3M1589 1432l0 -1M1613 1432l0 -2M1638 1432l0 -2M1662 1432l0 -1M1809 1432l0 -1M1834 1432l-1 -1M268 1456l-1 -3M292 1456l-1 -4M317 1456l0 -1M341 1456l-1 -4M365 1456l-4 -12M390 1456l-4 -12M414 1456l-1 -4M439 1456l-1 -4M463 1456l-1 -2M488 1456l-2 -6M512 1456l-4 -16M537 1456l-8 -30M561 1456l-4 -17M586 1456l-3 -12M610 1456l-3 -15M635 1456l-4 -15M659 1456l-3 -13M684 1456l0 -2M708 1456l-3 -10M733 1456l-4 -17M757 1456l-7 -32M781 1456l-7 -30M806 1456l-5 -33M830 1456l-3 -13M855 1456l-2 -13M879 1456l-1 -10M904 1456l-2 -11M928 1456l-1 -6M953 1456l-2 -10M977 1456l-2 -11M1002 1456l-1 -10M1026 1456l-1 -15M1051 1456l-1 -11M1075 1456l-2 -15M1100 1456l-2 -15M1124 1456l0 -6M1149 1456l0 -4M1173 1456l0 -3M1197 1456l0 -4M1222 1456l0 -4M1246 1456l0 -4M1271 1456l0 -2M1295 1456l0 -1M1320 1456l0 -1M1344 1456l0 -1M1369 1456l0 -2M1393 1456l0 -17M1418 1456l-3 -33M1442 1456l-1 -26M1467 1456l0 -15M1491 1456l0 -10M1516 1456l0 -1M1565 1456l0 -1M1589 1456l0 -1M1613 1456l0 -2M1638 1456l0 -2M1662 1456l0 -1M1834 1456l-1 -1M268 1481l-1 -3M292 1481l-1 -4M317 1481l0 -1M341 1481l-1 -4M365 1481l-4 -12M390 1481l-4 -12M414 1481l-1 -4M439 1481l-1 -4M463 1481l0 -2M488 1481l-2 -6M512 1481l-5 -16M537 1481l-7 -25M561 1481l-4 -17M586 1481l-3 -12M610 1481l-4 -15M635 1481l-4 -15M659 1481l-3 -13M684 1481l0 -2M708 1481l-2 -10M733 1481l-4 -17M757 1481l-5 -26M781 1481l-5 -30M806 1481l-5 -30M830 1481l-2 -13M855 1481l-2 -13M879 1481l-2 -10M904 1481l-2 -11M928 1481l-1 -6M953 1481l-2 -10M977 1481l-1 -11M1002 1481l-1 -10M1026 1481l-2 -15M1051 1481l-1 -11M1075 1481l-2 -15M1100 1481l-2 -15M1124 1481l0 -6M1149 1481l0 -4M1173 1481l0 -3M1197 1481l0 -4M1222 1481l0 -4M1246 1481l0 -4M1271 1481l0 -2M1295 1481l0 -1M1320 1481l0 -1M1344 1481l0 -1M1369 1481l0 -2M1393 1481l-1 -17M1418 1481l-2 -28M1442 1481l-1 -25M1467 1481l0 -15M1491 1481l0 -10M1516 1481l0 -1M1565 1481l0 -1M1589 1481l0 -1M1613 1481l0 -2M1638 1481l0 -2M1662 1481l0 -1M1834 1481l-1 -1" stroke="#000" stroke-width="3.6" stroke-linecap="round" fill="none"/><path d="M414 136l-1 -4M904 136l-1 -4M1051 136l-0 -2M1173 136l-1 -2M1197 136l-1 -4M1369 136l-2 -4M1393 136l-2 -4M1418 136l-1 -2M1442 136l-1 -2M1467 136l-1 -2M1565 136l-1 -2M1589 136l-2 -3M1613 136l-2 -3M1638 136l-1 -1M1662 136l-1 -1M1687 136l-1 -1M1711 136l-1 -1M1736 136l-3 -3M1760 136l-1 -1M1785 136l-1 -1M1809 136l-1 -1M1565 160l-2 -4M1589 160l-1 -2M1613 160l-3 -3M1638 160l-3 -3M1662 160l-3 -3M1687 160l-3 -3M1711 160l-3 -3M1736 160l-3 -3M1760 160l-1 -1M1785 160l-3 -3M1320 185l-1 -4M1442 185l-2 -4M1467 185l-2 -4M1491 185l-2 -4M1613 185l-3 -3M1662 185l-3 -3M1687 185l-3 -3M1711 185l-3 -3M1760 185l-3 -3M1785 185l-3 -3M1075 209l-1 -4M1442 209l-0 -1M1467 209l-1 -2M1565 209l-1 -2M1613 209l-2 -3M1638 209l-3 -3M1711 209l-3 -3M1736 209l-1 -1M1760 209l-3 -3M1785 209l-3 -3M1442 234l-2 -4M1467 234l-2 -4M1516 234l-2 -4M1540 234l-2 -3M1565 234l-2 -3M1638 234l-3 -3M1662 234l-3 -3M1687 234l-3 -3M1711 234l-1 -1M1736 234l-3 -3M1760 234l-3 -3M1785 234l-3 -3M1589 258l-1 -2M1662 258l-3 -3M1711 258l-3 -3M1736 258l-3 -3M1760 258l-3 -3M1344 283l-2 -4M1369 283l-2 -4M1711 283l-3 -3M1736 283l-3 -3M1369 307l-2 -4M1540 307l-2 -3M1565 307l-2 -3M1589 307l-2 -3M1613 307l-1 -1M1638 307l-3 -3M586 332l-0 -4M610 332l-0 -4M1516 332l-2 -4M1540 332l-2 -3M1565 332l-3 -3M1589 332l-1 -2M1613 332l-1 -1M1638 332l-3 -3M1760 332l-3 -3M1785 332l-3 -3M1809 332l-3 -3M1540 356l-2 -3M1565 356l-2 -3M1589 356l-1 -2M1613 356l-1 -1M1638 356l-1 -1M1662 356l-1 -1M1687 356l-3 -3M1736 356l-3 -3M1760 356l-3 -3M1785 356l-1 -1M1809 356l-3 -3M1467 380l-2 -4M1589 380l-1 -1M1613 380l-1 -1M1638 380l-3 -3M1662 380l-1 -1M1687 380l-1 -1M1736 380l-3 -3M1760 380l-1 -1M1785 380l-1 -1M1809 380l-3 -3M1589 405l-3 -3M1613 405l-1 -1M1638 405l-1 -1M1662 405l-1 -1M1687 405l-1 -1M1711 405l-1 -1M1736 405l-1 -1M1760 405l-1 -1M1785 405l-1 -1M1809 405l-3 -3M1589 429l-2 -3M1613 429l-1 -1M1638 429l-3 -3M1662 429l-3 -3M1687 429l-3 -3M1711 429l-1 -1M1736 429l-1 -1M1760 429l-1 -1M1785 429l-1 -1M1589 454l-3 -3M1613 454l-1 -1M1687 454l-3 -3M1711 454l-3 -3M1736 454l-1 -1M1760 454l-1 -1M1785 454l-3 -3M512 478l-0 -2M1589 478l-2 -3M1613 478l-1 -1M1687 478l-1 -1M1711 478l-3 -3M1736 478l-1 -1M1760 478l-1 -1M1785 478l-1 -1M1565 503l-2 -3M1613 503l-2 -3M1638 503l-3 -3M1736 503l-3 -3M1785 503l-3 -3M1565 527l-2 -4M1589 527l-2 -3M1638 527l-2 -3M1662 527l-3 -3M1687 527l-1 -1M1711 527l-3 -3M1736 527l-3 -3M1638 552l-1 -1M1662 552l-1 -1M1687 552l-1 -1M1711 552l-1 -1M1736 552l-3 -3M1785 552l-3 -3M1638 576l-2 -3M1662 576l-1 -1M1687 576l-1 -1M1711 576l-3 -3M1736 576l-3 -3M1760 576l-3 -3M1785 576l-3 -3M1662 601l-3 -3M1687 601l-3 -3M1711 601l-1 -1M1736 601l-1 -1M1760 601l-3 -3M1785 601l-3 -3M1809 601l-1 -1M1662 625l-2 -3M1687 625l-1 -1M1760 625l-1 -1M1785 625l-1 -1M1809 625l-1 -1M1711 649l-3 -3M1736 649l-1 -1M1760 649l-1 -1M1785 649l-1 -1M1809 649l-1 -1M1051 674l-1 -4M1369 674l-1 -4M1393 674l-1 -4M1638 674l-2 -4M1662 674l-2 -4M1760 674l-1 -1M1785 674l-1 -1M1809 674l-1 -1M1271 698l-1 -4M1295 698l-0 -2M1320 698l-1 -4M1662 698l-2 -4M1687 698l-2 -3M1736 698l-1 -1M1760 698l-3 -3M1785 698l-1 -1M1809 698l-1 -1M855 723l-0 -2M1246 723l-1 -4M1662 723l-2 -4M1687 723l-2 -3M1711 723l-2 -3M1736 723l-3 -3M1760 723l-1 -2M1785 723l-2 -3M1809 723l-1 -1M1711 747l-2 -3M1736 747l-2 -3M1760 747l-1 -1M1785 747l-1 -1M1809 747l-1 -2M292 772l-1 -4M1736 772l-2 -4M1760 772l-2 -4M1785 772l-1 -2M1809 772l-1 -2M1540 796l-1 -4M1736 796l-1 -2M1760 796l-1 -2M1785 796l-1 -2M1809 796l-1 -2M1736 821l-2 -4M1760 821l-1 -2M1785 821l-2 -4M1809 821l-2 -4M414 845l-0 -2M1736 845l-2 -4M1760 845l-1 -2M1785 845l-1 -2M1809 845l-1 -2M1760 870l-1 -2M1785 870l-1 -2M1809 870l-1 -2M1760 894l-1 -2M1785 894l-1 -2M1809 894l-1 -2M1149 918l-1 -4M1516 918l-1 -4M1785 918l-0 -2M1809 918l-0 -2M1516 943l-1 -4M1540 943l-1 -4M1760 943l-1 -4M1785 943l-1 -4M1809 943l-0 -2M830 967l-1 -4M855 967l-0 -2M1418 967l-0 -2M1540 967l-1 -4M1565 967l-0 -2M1589 967l-1 -4M1613 967l-1 -4M1785 967l-1 -4M1809 967l-1 -4M1589 992l-0 -4M1613 992l-0 -4M1785 992l-0 -4M1613 1016l-0 -4M1638 1016l-0 -2M1785 1016l-1 -4M1809 1016l-0 -4M1222 1041l-1 -4M1662 1041l-0 -2M1760 1041l-0 -4M1785 1041l-0 -4M1809 1041l-0 -4M1760 1065l-0 -4M1785 1065l-0 -2M1809 1065l-0 -4M1760 1090l-0 -4M1785 1090l-0 -2M1711 1114l-0 -4M1736 1114l-0 -4M1760 1114l-0 -4M1785 1114l-0 -2M1809 1114l-0 -4M1736 1138l-0 -4M1760 1138l-0 -4M1785 1138l-0 -2M1809 1138l-0 -4M414 1163l-0 -2M1197 1163l-1 -4M1295 1163l-0 -4M1687 1163l-0 -4M1711 1163l-0 -2M1736 1163l0 -4M1760 1163l-0 -4M1785 1163l-0 -4M1222 1187l-1 -4M1687 1187l0 -4M1711 1187l-0 -4M1736 1187l-0 -4M1760 1187l-0 -4M1785 1187l0 -4M1809 1187l-0 -4M1736 1212l0 -4M1760 1212l0 -4M1785 1212l-0 -4M1809 1212l0 -4M1565 1236l-0 -4M1613 1236l-0 -4M1638 1236l-0 -4M1662 1236l-0 -4M1785 1236l-0 -4M1809 1236l-0 -4M1344 1261l-0 -4M1369 1261l-0 -2M1467 1261l-0 -4M1491 1261l-0 -4M1540 1261l0 -2M1638 1261l-0 -4M1662 1261l-0 -4M1736 1261l0 -4M1760 1261l0 -4M1785 1261l0 -4M1344 1285l-0 -4M1662 1285l-0 -4M1687 1285l0 -4M1711 1285l0 -4M1736 1285l-0 -4M1760 1285l-0 -4M1785 1285l0 -4M1638 1310l0 -4M1662 1310l0 -4M1687 1310l-0 -2M1760 1310l0 -4M1785 1310l-0 -4M1002 1334l-0 -2M1638 1334l-0 -4M1662 1334l-0 -4M1687 1334l-0 -4M1711 1334l0 -4M1736 1334l-0 -4M1760 1334l0 -2M1785 1334l-0 -4M879 1358l-1 -4M1638 1358l-0 -4M1687 1358l-0 -4M1711 1358l-0 -4M1736 1358l-0 -4M1760 1358l0 -2M1785 1358l0 -4M1809 1358l0 -4M1246 1383l-0 -4M1711 1383l-0 -4M1736 1383l0 -4M1760 1383l-0 -4M1785 1383l0 -4M1809 1383l0 -4M1565 1407l-0 -4M1589 1407l0 -4M1687 1407l0 -4M1711 1407l0 -2M1736 1407l0 -4M1760 1407l-0 -4M1785 1407l0 -4M1809 1407l0 -4M1540 1432l0 -2M1565 1432l-0 -2M1687 1432l0 -4M1711 1432l-0 -4M1736 1432l0 -4M1760 1432l-0 -4M1785 1432l-0 -4M1540 1456l0 -4M1687 1456l-0 -4M1711 1456l-0 -4M1736 1456l0 -4M1760 1456l-0 -4M1785 1456l-0 -4M1809 1456l0 -4M1540 1481l0 -4M1687 1481l-0 -4M1711 1481l-0 -4M1736 1481l0 -4M1760 1481l-0 -4M1785 1481l-0 -4M1809 1481l-0 -4" stroke="#000" stroke-width="3.5" stroke-linecap="round" fill="none"/>
<path d="M263 110l4 9 -1 6 -4 -5zM288 112l4 8 -2 6 -3 -5zM315 128l3 4 -1 3 -2 -2zM337 112l4 8 -2 6 -3 -5zM359 109l5 8 -2 6 -3 -5zM387 120l3 7 -1 5 -2 -4zM436 118l3 7 -1 5 -3 -4zM460 110l3 9 -1 6 -4 -6zM486 120l3 7 -2 5 -2 -4zM510 120l3 7 -1 5 -3 -4zM536 120l2 7 -1 5 -3 -4zM557 105l4 10 -2 6 -3 -6zM581 103l4 10 -2 6 -3 -6zM606 91l4 11 -3 8 -4 -7zM627 85l6 12 -3 9 -5 -7zM656 110l3 9 -1 6 -4 -6zM682 115l3 8 -2 5 -3 -5zM705 118l3 7 -1 5 -3 -4zM731 118l3 7 -1 5 -3 -4zM752 103l4 10 -2 6 -4 -5zM778 112l4 8 -2 6 -3 -5zM801 91l5 11 -3 8 -4 -7zM822 89l6 12 -3 8 -5 -7zM852 108l3 9 -2 6 -3 -5zM878 128l2 4 -1 3 -2 -2zM923 106l4 9 -1 6 -4 -5zM948 109l4 8 -1 6 -4 -5zM973 112l4 8 -2 6 -3 -5zM998 113l4 8 -2 6 -3 -5zM1022 115l3 8 -1 5 -3 -4zM1070 118l4 7 -1 5 -3 -4zM1093 111l5 8 -1 6 -4 -5zM1116 111l5 8 -1 6 -4 -4zM1146 126l3 5 0 4 -3 -3zM1218 124l4 6 -1 4 -3 -3zM1243 128l3 4 0 3 -3 -2zM1267 126l4 5 -1 4 -2 -3zM1291 126l4 5 -1 4 -2 -3zM1316 127l4 4 -1 4 -2 -3zM1341 129l3 3 0 3 -3 -2zM1487 129l4 3 -1 3 -2 -2zM1511 127l4 4 0 4 -3 -2zM1536 129l3 3 0 3 -2 -2zM1824 130l6 2 3 3 -4 0zM261 130l5 9 -1 6 -4 -5zM288 134l4 9 -2 6 -3 -5zM311 135l5 8 -2 6 -3 -5zM328 110l7 11 -2 9 -6 -7zM359 133l4 8 -1 7 -4 -5zM388 146l3 7 -1 4 -3 -4zM410 137l4 8 -2 6 -3 -5zM433 130l5 9 -2 6 -4 -5zM459 127l4 10 -2 6 -4 -6zM482 111l5 12 -3 8 -4 -7zM507 115l5 11 -3 8 -4 -7zM532 107l5 13 -3 8 -5 -7zM556 113l5 12 -3 8 -5 -7zM581 106l6 13 -4 8 -5 -8zM604 111l5 12 -3 8 -4 -7zM627 106l6 13 -3 8 -5 -7zM654 127l4 10 -2 6 -3 -6zM681 129l4 10 -3 6 -3 -6zM705 132l3 9 -1 6 -4 -5zM730 129l3 10 -2 6 -3 -6zM748 106l6 13 -2 8 -6 -7zM776 114l5 12 -3 8 -4 -7zM801 114l5 11 -3 8 -5 -7zM822 111l6 12 -2 8 -5 -7zM851 127l4 10 -2 6 -4 -6zM876 132l3 9 -1 6 -4 -5zM897 112l5 11 -2 9 -5 -7zM917 110l7 12 -2 9 -6 -7zM943 109l7 12 -3 8 -5 -7zM971 133l5 8 -2 6 -3 -5zM996 135l4 8 -1 6 -3 -5zM1021 136l4 8 -1 6 -3 -5zM1044 135l5 8 -1 6 -4 -5zM1059 109l8 11 -2 9 -6 -6zM1085 108l8 12 -2 9 -6 -7zM1116 133l5 9 -1 6 -4 -5zM1134 117l8 10 -1 8 -6 -5zM1170 150l3 5 0 4 -3 -3zM1189 133l5 9 -1 6 -4 -5zM1218 146l4 7 -1 4 -3 -3zM1242 148l4 6 -1 4 -3 -3zM1266 147l4 6 0 4 -3 -3zM1290 146l4 7 0 4 -3 -3zM1317 150l3 5 -1 4 -2 -3zM1341 153l3 3 0 3 -3 -2zM1364 147l4 6 0 4 -3 -3zM1387 145l4 6 0 5 -3 -3zM1412 147l5 6 0 4 -3 -3zM1438 153l3 3 0 3 -2 -2zM1463 153l4 3 -1 3 -2 -2zM1485 149l5 5 0 4 -3 -3zM1509 147l5 6 1 5 -4 -3zM1533 148l5 5 1 5 -4 -3zM1803 155l4 1 1 3 -3 -1zM1825 154l5 2 3 3 -4 0zM262 152l5 10 -2 6 -4 -5zM284 153l5 9 -1 6 -5 -5zM310 152l5 10 -2 6 -4 -5zM336 158l4 8 -1 6 -4 -5zM363 175l3 5 -1 3 -3 -2zM388 172l3 7 -1 4 -3 -4zM403 136l6 11 -2 9 -5 -7zM429 132l6 12 -2 9 -6 -7zM456 138l6 12 -3 8 -5 -7zM480 140l6 11 -3 8 -4 -7zM504 135l6 12 -3 9 -5 -7zM532 137l5 12 -3 8 -4 -7zM552 132l6 12 -2 9 -6 -7zM578 131l6 13 -3 9 -5 -8zM602 132l6 12 -3 9 -5 -8zM629 139l5 11 -2 8 -5 -7zM655 137l5 12 -3 8 -5 -7zM681 152l4 10 -2 6 -4 -6zM705 152l4 10 -3 6 -3 -6zM726 138l6 12 -3 8 -5 -7zM750 130l6 13 -3 9 -5 -8zM776 155l4 9 -2 6 -3 -5zM800 155l5 9 -2 6 -4 -5zM823 130l6 13 -3 9 -6 -8zM849 139l5 11 -2 8 -5 -7zM873 139l5 12 -3 7 -4 -6zM894 135l6 11 -2 9 -6 -7zM919 132l6 12 -2 9 -6 -7zM942 134l7 12 -2 9 -6 -7zM972 152l4 10 -2 6 -4 -5zM996 158l4 8 -1 7 -4 -5zM1018 155l5 9 -1 6 -4 -5zM1043 158l5 8 -1 7 -4 -5zM1066 156l6 8 -1 7 -5 -5zM1092 158l5 9 -1 6 -4 -5zM1116 155l5 9 -1 7 -4 -5zM1138 154l6 8 -1 7 -5 -5zM1156 140l8 10 -1 9 -6 -6zM1179 132l8 12 -1 9 -7 -6zM1215 165l5 7 -1 5 -3 -4zM1240 170l4 6 0 5 -3 -3zM1267 175l4 5 -1 4 -2 -3zM1286 160l6 8 -1 6 -4 -4zM1340 175l4 5 -1 4 -2 -3zM1364 174l4 5 0 4 -3 -3zM1387 174l5 5 0 4 -3 -3zM1415 178l3 3 0 3 -3 -2zM1511 176l4 4 0 4 -3 -3zM1535 176l4 4 0 4 -3 -2zM1561 178l3 3 0 3 -2 -1zM1585 178l3 3 0 3 -2 -1zM1633 179l4 2 0 3 -3 -1zM1730 180l4 1 1 3 -3 -1zM1803 179l4 2 1 3 -3 -1zM1825 179l5 2 3 3 -4 0zM258 163l6 11 -2 8 -5 -6zM283 163l6 11 -2 8 -6 -6zM306 165l6 11 -1 8 -6 -7zM334 176l5 10 -1 6 -4 -5zM360 183l4 9 -1 6 -4 -5zM385 185l4 8 -1 6 -3 -5zM407 176l5 10 -2 6 -4 -5zM429 161l6 12 -2 8 -5 -7zM455 160l6 12 -3 8 -5 -7zM483 159l5 12 -3 8 -5 -7zM507 160l5 12 -3 8 -5 -7zM530 165l6 12 -3 7 -4 -6zM555 163l6 12 -3 8 -5 -7zM579 157l6 12 -3 9 -5 -8zM604 161l5 12 -2 8 -5 -7zM628 159l5 12 -2 8 -5 -7zM653 164l5 12 -2 7 -5 -7zM681 176l4 10 -3 6 -3 -6zM701 162l6 12 -3 8 -5 -7zM727 159l5 12 -3 9 -5 -8zM748 157l7 12 -3 9 -5 -8zM774 160l6 12 -3 8 -5 -7zM799 159l6 12 -3 9 -5 -7zM823 157l5 13 -2 8 -6 -7zM847 159l6 12 -2 9 -5 -8zM869 155l7 12 -3 9 -5 -7zM893 156l7 12 -3 9 -5 -7zM920 163l6 11 -3 8 -5 -7zM941 155l7 12 -2 9 -6 -7zM969 164l6 11 -2 8 -5 -7zM995 179l5 9 -1 6 -4 -5zM1017 165l6 11 -2 8 -5 -6zM1044 176l5 10 -2 6 -4 -5zM1093 186l4 7 0 6 -4 -4zM1116 187l5 8 0 5 -4 -4zM1146 199l3 5 0 4 -3 -3zM1168 194l4 6 0 5 -4 -3zM1186 180l6 8 0 7 -5 -5zM1205 167l8 9 -1 9 -6 -6zM1240 194l4 6 0 5 -3 -3zM1268 199l3 5 -1 4 -2 -3zM1285 187l6 7 0 6 -4 -4zM1315 197l4 6 0 4 -3 -3zM1339 197l4 6 0 4 -3 -3zM1363 198l5 5 0 4 -3 -3zM1388 200l4 4 0 4 -3 -3zM1415 202l3 3 0 3 -3 -2zM1487 202l4 3 -1 3 -2 -2zM1510 198l5 5 0 4 -3 -2zM1535 200l4 4 0 4 -3 -2zM1585 202l3 3 0 3 -2 -1zM1657 203l4 2 0 3 -2 -1zM1682 203l4 2 0 3 -3 -1zM1803 203l4 2 1 3 -3 -1zM1824 204l6 1 3 3 -4 0zM260 190l5 11 -2 8 -5 -7zM282 191l6 10 -2 8 -5 -6zM309 187l6 12 -3 8 -5 -7zM329 186l7 12 -2 8 -6 -7zM355 181l7 12 -3 9 -5 -7zM380 189l6 11 -2 8 -5 -6zM404 184l6 12 -2 8 -5 -6zM433 189l5 12 -2 7 -5 -6zM455 182l6 13 -3 8 -5 -7zM480 190l5 11 -2 8 -5 -7zM504 183l6 12 -3 9 -5 -7zM530 190l5 11 -2 8 -5 -7zM554 190l6 11 -3 8 -5 -7zM581 185l5 12 -3 8 -5 -7zM602 184l6 12 -3 8 -5 -7zM631 187l5 12 -3 8 -5 -7zM654 184l5 12 -3 8 -5 -7zM682 208l3 9 -2 6 -3 -6zM704 188l5 12 -3 8 -4 -7zM728 188l5 12 -3 7 -4 -7zM750 187l5 12 -2 8 -5 -7zM775 187l5 12 -3 8 -4 -7zM800 188l5 12 -2 8 -5 -7zM824 190l5 11 -2 8 -5 -7zM847 191l6 11 -2 7 -5 -6zM872 184l6 12 -3 8 -5 -7zM894 185l6 12 -2 8 -6 -6zM919 190l6 11 -2 8 -5 -7zM944 186l6 11 -3 9 -5 -7zM966 181l7 12 -2 9 -6 -7zM990 185l7 12 -2 8 -6 -6zM1013 180l8 12 -3 9 -6 -7zM1036 182l8 12 -2 9 -6 -7zM1061 184l8 12 -2 8 -6 -6zM1093 211l5 7 -1 6 -4 -4zM1121 224l3 5 0 4 -3 -3zM1142 211l5 7 -1 6 -4 -4zM1164 205l6 8 -1 7 -5 -5zM1186 205l6 8 0 7 -5 -5zM1213 208l5 8 0 6 -4 -5zM1239 214l5 7 -1 5 -3 -4zM1266 220l4 7 0 4 -3 -3zM1292 227l3 3 0 3 -3 -2zM1317 227l3 3 0 3 -3 -2zM1340 225l3 4 0 4 -2 -3zM1363 221l5 6 0 4 -3 -3zM1389 225l4 4 -1 4 -2 -3zM1415 227l3 3 -1 3 -2 -2zM1487 227l3 3 0 3 -2 -2zM1581 222l5 5 1 5 -4 -3zM1608 227l4 3 0 3 -2 -1zM1799 224l6 4 2 4 -4 -2zM1822 227l7 2 3 4 -5 -1zM264 234l4 8 -2 6 -3 -5zM286 228l5 9 -2 6 -4 -5zM312 228l4 9 -2 6 -3 -5zM333 210l6 12 -3 8 -5 -7zM357 214l6 11 -3 8 -4 -6zM381 212l6 11 -2 8 -5 -6zM404 209l6 11 -2 9 -5 -7zM429 207l7 12 -3 9 -5 -7zM455 204l6 13 -3 8 -5 -7zM479 211l6 11 -2 9 -5 -7zM505 213l5 11 -2 8 -5 -7zM532 206l6 13 -4 8 -4 -7zM553 205l6 12 -3 9 -5 -8zM579 207l5 12 -2 9 -5 -8zM605 204l5 13 -3 9 -5 -8zM629 208l5 12 -3 9 -4 -8zM651 205l6 12 -3 9 -5 -8zM677 205l6 12 -3 9 -5 -8zM700 204l6 13 -3 8 -5 -7zM728 206l5 13 -3 8 -5 -8zM753 214l4 11 -2 8 -5 -7zM776 210l5 12 -3 8 -4 -7zM798 205l6 12 -3 9 -5 -8zM821 207l6 12 -2 9 -5 -7zM846 207l6 12 -2 8 -6 -7zM870 215l6 11 -2 8 -5 -7zM894 206l6 12 -2 9 -6 -7zM917 209l7 11 -2 9 -6 -7zM948 232l4 9 -1 6 -3 -5zM969 228l5 9 -1 6 -4 -5zM992 212l6 11 -2 8 -5 -6zM1013 213l7 10 -2 9 -5 -7zM1037 214l8 10 -2 8 -6 -6zM1059 205l8 11 -2 10 -6 -7zM1092 231l5 9 -1 6 -4 -5zM1116 235l5 7 0 6 -4 -4zM1131 209l8 11 -1 9 -6 -6zM1155 210l8 11 -1 8 -6 -6zM1189 233l5 8 -1 6 -4 -4zM1213 232l5 8 0 6 -4 -5zM1237 232l5 8 0 6 -5 -5zM1263 238l5 7 0 6 -4 -4zM1292 251l3 3 0 3 -3 -2zM1317 251l3 3 0 3 -3 -2zM1340 248l4 5 -1 4 -2 -3zM1365 248l4 5 -1 4 -2 -3zM1390 251l3 3 0 3 -3 -2zM1413 249l4 4 0 4 -3 -3zM1438 251l3 3 0 3 -2 -2zM1463 251l3 3 0 3 -2 -2zM1487 251l3 3 0 3 -2 -2zM1512 251l3 3 0 3 -2 -2zM1536 251l3 3 0 3 -2 -1zM1561 251l3 3 0 3 -2 -1zM1604 247l6 4 1 5 -4 -2zM1633 252l4 2 0 3 -2 -1zM1681 252l4 2 1 3 -3 -1zM1779 253l4 1 1 3 -3 0zM1800 249l6 4 2 4 -4 -2zM1823 251l7 2 2 4 -4 -1zM264 257l4 9 -2 6 -3 -5zM282 228l7 13 -3 9 -5 -7zM309 233l6 12 -3 8 -5 -7zM335 253l5 9 -2 6 -4 -5zM358 253l5 9 -1 6 -5 -5zM385 250l4 10 -2 6 -3 -6zM405 230l6 12 -3 9 -5 -7zM429 229l7 13 -3 9 -6 -8zM454 237l6 11 -2 8 -5 -6zM483 233l5 13 -3 8 -5 -8zM506 239l5 12 -2 7 -5 -6zM532 234l5 12 -3 8 -5 -7zM558 250l4 10 -3 6 -3 -6zM583 255l4 9 -2 6 -4 -5zM607 252l4 10 -3 6 -3 -6zM630 250l4 10 -2 6 -3 -6zM653 239l5 12 -3 7 -4 -6zM679 229l5 13 -3 9 -5 -8zM700 228l6 13 -3 9 -5 -8zM727 228l6 13 -3 9 -5 -8zM751 235l5 12 -2 8 -5 -7zM773 228l6 12 -3 9 -6 -7zM799 235l5 12 -2 8 -5 -7zM824 236l5 12 -3 8 -4 -7zM846 239l6 11 -2 8 -6 -7zM873 250l5 10 -2 6 -4 -5zM894 229l6 12 -2 9 -6 -7zM918 237l6 11 -2 8 -5 -6zM943 238l6 11 -2 8 -5 -6zM970 258l5 8 -1 6 -4 -5zM995 260l5 7 -1 6 -4 -4zM1018 256l5 9 -1 6 -4 -5zM1035 234l7 11 -1 9 -6 -6zM1058 230l8 12 -1 9 -7 -7zM1089 251l6 9 -1 7 -4 -5zM1115 254l6 8 -1 7 -5 -5zM1137 252l7 8 -1 7 -5 -5zM1163 254l5 8 0 7 -5 -5zM1187 257l6 8 -1 6 -4 -4zM1213 260l5 8 0 5 -4 -4zM1230 238l8 11 -1 8 -6 -6zM1252 231l8 12 -1 9 -7 -6zM1292 276l3 3 0 3 -3 -2zM1317 276l3 3 0 3 -3 -2zM1389 276l3 3 0 3 -2 -2zM1413 274l4 4 0 4 -3 -3zM1437 274l4 4 0 4 -3 -3zM1462 274l4 4 0 4 -3 -3zM1485 272l4 5 1 4 -4 -2zM1511 274l4 4 0 4 -3 -2zM1535 274l4 4 0 4 -3 -2zM1559 274l5 4 0 4 -3 -2zM1584 276l4 3 0 3 -2 -1zM1604 272l6 4 1 5 -4 -2zM1633 277l4 2 0 3 -3 -1zM1657 277l4 2 0 3 -3 -1zM1681 277l4 2 1 3 -3 -1zM1755 277l3 2 1 3 -3 -1zM1779 277l4 2 1 3 -3 -1zM1802 275l5 3 1 4 -4 -1zM1825 277l5 2 3 3 -4 0zM260 263l6 11 -2 8 -5 -7zM283 261l6 11 -2 8 -6 -6zM305 254l7 12 -2 9 -6 -7zM336 281l4 9 -1 6 -4 -5zM362 291l3 7 -1 5 -2 -4zM381 257l7 12 -3 9 -5 -7zM408 259l5 12 -3 8 -4 -7zM429 261l7 11 -3 8 -5 -7zM456 262l5 11 -2 8 -5 -7zM479 256l6 12 -2 9 -6 -7zM507 261l5 11 -3 8 -5 -7zM531 260l6 12 -3 8 -5 -7zM557 276l4 10 -2 6 -3 -6zM583 286l3 8 -1 5 -3 -5zM607 289l3 7 -1 5 -3 -4zM631 280l4 8 -2 6 -3 -5zM655 263l5 11 -3 8 -4 -7zM676 255l6 12 -3 9 -5 -7zM702 258l5 12 -3 8 -5 -7zM728 263l5 12 -3 7 -4 -7zM751 274l5 10 -2 6 -4 -5zM771 254l7 12 -3 9 -5 -7zM798 252l6 13 -3 9 -5 -8zM823 262l6 12 -3 7 -5 -6zM844 258l7 11 -2 9 -6 -7zM871 277l6 9 -2 6 -4 -5zM897 277l5 9 -2 6 -4 -5zM914 257l8 12 -2 8 -6 -6zM945 275l5 9 -1 7 -5 -6zM974 297l3 5 0 4 -3 -3zM999 295l3 6 0 4 -3 -3zM1022 295l4 6 -1 4 -3 -3zM1043 280l5 8 -1 7 -4 -5zM1064 278l6 8 0 7 -5 -5zM1091 281l5 8 0 6 -5 -5zM1116 282l5 8 -1 6 -4 -4zM1141 282l5 8 -1 6 -4 -4zM1164 282l6 8 -1 6 -4 -4zM1187 283l6 7 0 6 -5 -4zM1212 283l6 7 0 6 -5 -4zM1235 278l6 8 0 7 -5 -5zM1260 278l6 8 0 7 -5 -5zM1291 298l3 4 0 4 -2 -3zM1317 300l3 3 -1 3 -2 -2zM1341 300l3 3 0 3 -3 -2zM1389 300l4 3 -1 3 -2 -2zM1414 298l3 4 0 4 -3 -3zM1434 293l6 5 0 5 -4 -3zM1462 298l4 4 0 4 -3 -2zM1487 300l3 3 0 3 -2 -1zM1512 300l3 3 0 3 -2 -1zM1657 301l4 2 0 3 -3 -1zM1682 301l4 2 0 3 -3 -1zM1704 299l5 3 1 4 -3 -2zM1727 298l6 4 2 4 -4 -2zM1753 300l5 2 1 4 -4 -1zM1779 301l4 2 1 3 -3 -1zM1803 301l4 2 1 3 -3 -1zM1824 302l6 1 3 3 -4 0zM262 305l4 8 -1 6 -4 -4zM285 286l6 11 -3 8 -5 -7zM312 305l4 8 -1 6 -4 -5zM335 302l5 9 -2 6 -4 -5zM362 316l3 7 -1 5 -3 -4zM385 299l4 10 -2 6 -3 -6zM404 279l6 13 -2 8 -6 -7zM432 282l6 12 -3 9 -5 -7zM455 277l7 13 -4 9 -5 -8zM482 279l5 12 -3 9 -5 -8zM505 286l5 11 -2 8 -5 -6zM529 285l6 12 -3 8 -5 -7zM556 282l5 13 -3 8 -4 -8zM632 309l3 8 -1 6 -3 -5zM654 302l4 9 -1 6 -4 -5zM679 287l5 11 -3 8 -4 -7zM700 286l6 11 -2 8 -5 -6zM731 306l3 9 -2 6 -3 -6zM754 299l4 10 -3 6 -3 -6zM777 299l4 10 -2 6 -4 -6zM801 299l4 10 -2 6 -4 -5zM818 279l7 12 -2 9 -6 -7zM842 281l7 12 -2 8 -6 -6zM873 308l4 8 -1 6 -3 -4zM899 310l4 7 -1 6 -4 -4zM921 302l5 9 -2 6 -4 -5zM945 307l5 8 -1 6 -4 -4zM972 317l4 6 0 5 -3 -4zM999 320l3 6 0 4 -3 -3zM1021 318l4 7 0 4 -3 -3zM1047 318l4 7 -1 4 -3 -3zM1068 312l5 7 -1 5 -3 -4zM1092 309l5 7 0 6 -4 -4zM1116 309l5 7 0 6 -4 -4zM1143 314l5 7 -1 5 -3 -4zM1164 308l6 7 -1 6 -4 -4zM1188 308l5 7 0 6 -4 -4zM1211 308l6 7 0 7 -4 -4zM1236 306l6 8 -1 6 -4 -4zM1257 304l7 8 0 6 -5 -4zM1289 317l4 6 0 5 -3 -3zM1316 323l3 4 0 4 -2 -3zM1339 323l4 4 0 4 -3 -3zM1364 323l4 4 0 4 -3 -3zM1388 323l4 4 0 4 -3 -3zM1413 323l4 4 0 4 -3 -3zM1436 321l5 5 0 4 -3 -2zM1460 320l5 5 1 5 -4 -3zM1485 323l5 4 0 4 -3 -2zM1657 326l4 2 0 3 -3 -1zM1682 326l4 2 0 3 -3 -1zM1706 326l4 2 0 3 -3 -1zM1731 326l4 2 0 3 -3 -1zM1824 327l6 1 3 3 -4 0zM263 329l4 8 -1 6 -4 -5zM287 329l5 8 -2 6 -4 -5zM311 329l4 8 -1 6 -4 -4zM336 329l4 8 -1 6 -4 -5zM360 323l4 10 -2 6 -4 -5zM384 323l4 10 -1 6 -4 -5zM407 309l6 11 -3 8 -5 -7zM431 313l6 11 -2 7 -5 -6zM454 302l6 12 -2 9 -6 -7zM482 301l6 13 -3 9 -5 -8zM506 310l5 11 -3 8 -4 -7zM528 301l6 13 -3 9 -5 -8zM556 308l5 12 -3 8 -4 -8zM580 307l5 12 -3 8 -4 -7zM605 301l5 13 -3 9 -5 -8zM630 326l5 9 -2 6 -4 -5zM651 304l6 12 -3 9 -5 -8zM677 303l6 13 -3 8 -5 -7zM705 325l4 10 -3 6 -3 -6zM730 330l4 9 -2 6 -3 -6zM754 328l3 9 -2 6 -3 -5zM775 303l5 13 -3 8 -5 -7zM802 330l4 9 -2 6 -3 -5zM827 342l3 7 -1 4 -2 -4zM852 340l3 7 -1 5 -3 -4zM873 329l5 8 -2 6 -3 -5zM898 329l4 8 -1 6 -4 -4zM919 327l6 8 -1 7 -5 -5zM946 333l5 7 -1 6 -4 -4zM972 341l4 6 0 5 -4 -3zM997 341l4 6 0 5 -4 -3zM1020 341l5 6 0 5 -4 -3zM1046 341l4 6 0 5 -3 -4zM1070 341l4 6 0 5 -3 -4zM1093 334l5 8 -1 5 -4 -4zM1115 333l6 8 -1 5 -4 -4zM1139 332l6 7 0 6 -5 -4zM1163 330l6 8 -1 6 -4 -4zM1187 330l6 8 -1 6 -4 -4zM1211 330l6 8 0 6 -5 -4zM1233 328l7 8 0 6 -5 -4zM1261 334l6 7 0 6 -5 -4zM1288 342l5 5 0 5 -4 -3zM1313 343l5 6 1 5 -4 -3zM1335 340l6 6 0 5 -4 -4zM1363 343l5 6 0 5 -4 -4zM1386 344l5 5 1 5 -4 -3zM1412 345l5 5 0 4 -3 -2zM1436 345l4 5 1 4 -4 -2zM1463 349l3 3 0 3 -2 -2zM1487 349l3 3 0 3 -2 -1zM1511 347l4 4 0 4 -3 -2zM1705 351l4 1 1 3 -3 -1zM1824 351l6 1 3 3 -4 0zM264 354l4 9 -2 6 -3 -5zM288 356l4 8 -2 6 -3 -5zM314 364l3 7 -1 5 -3 -4zM339 370l3 5 -1 3 -3 -2zM360 356l4 8 -1 6 -4 -5zM387 354l3 9 -1 6 -4 -6zM410 354l4 9 -2 6 -3 -5zM433 335l5 11 -2 8 -5 -7zM454 325l7 13 -3 9 -6 -8zM481 325l6 13 -3 9 -6 -8zM505 326l6 13 -3 8 -5 -7zM530 333l5 12 -2 8 -5 -7zM556 325l6 13 -4 9 -5 -8zM579 329l6 13 -3 8 -5 -7zM605 334l5 11 -3 8 -4 -7zM631 335l4 11 -3 8 -4 -7zM656 349l4 10 -3 6 -3 -6zM680 347l4 10 -2 6 -4 -6zM704 350l4 9 -2 6 -4 -5zM730 354l4 9 -2 6 -3 -6zM754 352l4 9 -2 6 -3 -5zM777 350l4 9 -2 6 -4 -5zM798 328l6 13 -3 8 -5 -7zM825 354l4 9 -1 6 -4 -5zM850 355l4 8 -1 6 -4 -5zM872 355l5 8 -1 6 -4 -5zM895 350l6 9 -1 7 -5 -5zM921 353l5 8 -1 7 -4 -5zM946 357l5 7 -1 6 -4 -4zM971 362l5 7 -1 5 -3 -3zM996 363l4 6 0 5 -3 -3zM1020 363l4 6 0 5 -4 -3zM1043 355l5 8 -1 6 -4 -4zM1067 357l5 7 0 6 -4 -4zM1090 356l6 7 0 6 -5 -4zM1114 354l6 8 -1 6 -4 -4zM1138 351l6 8 0 7 -5 -5zM1162 351l6 8 0 7 -5 -5zM1184 352l7 8 0 6 -5 -4zM1211 354l6 8 0 6 -5 -4zM1234 355l7 7 0 6 -5 -4zM1262 359l5 7 0 6 -4 -4zM1288 366l5 5 0 5 -3 -3zM1311 364l6 6 0 5 -4 -3zM1336 366l5 6 1 4 -4 -3zM1362 367l5 6 1 5 -4 -3zM1387 369l5 5 0 4 -3 -3zM1413 371l4 4 0 4 -3 -2zM1437 371l4 4 0 4 -3 -2zM1486 373l4 3 0 3 -2 -1zM1509 369l5 5 1 4 -4 -2zM1530 367l6 5 2 5 -5 -3zM1559 372l4 3 1 4 -3 -2zM1704 373l5 2 1 4 -4 -1zM1824 375l6 1 3 3 -4 0zM263 372l5 10 -2 6 -4 -6zM287 375l4 9 -1 6 -4 -5zM311 372l5 10 -2 6 -4 -5zM335 380l5 8 -1 6 -4 -5zM363 391l3 7 -1 4 -3 -4zM386 379l4 9 -2 6 -3 -5zM410 384l4 8 -2 5 -3 -5zM432 350l6 13 -3 9 -5 -8zM455 360l5 11 -2 8 -5 -6zM480 350l6 13 -3 9 -5 -8zM509 377l4 9 -2 6 -3 -5zM531 350l5 13 -3 9 -5 -8zM554 351l6 12 -3 9 -6 -7zM581 351l5 13 -3 9 -5 -8zM605 352l5 13 -3 8 -5 -8zM628 357l5 12 -2 8 -5 -7zM655 378l4 8 -2 6 -3 -5zM681 377l4 9 -2 6 -3 -5zM705 374l4 10 -2 6 -4 -6zM730 377l3 9 -1 6 -4 -5zM753 377l4 9 -2 6 -3 -5zM777 379l4 9 -2 6 -3 -5zM802 378l4 8 -2 6 -3 -5zM825 378l4 8 -1 6 -4 -5zM848 378l5 8 -1 7 -4 -5zM870 376l5 8 -1 7 -4 -5zM897 378l5 8 -1 7 -4 -5zM918 376l6 8 -1 7 -4 -5zM944 381l5 7 0 6 -4 -4zM971 385l4 7 0 5 -4 -4zM994 385l5 7 0 5 -4 -3zM1019 385l5 7 -1 5 -3 -4zM1041 379l6 8 -1 6 -4 -4zM1064 376l6 8 0 7 -5 -5zM1090 379l6 8 -1 6 -4 -4zM1114 379l6 8 -1 6 -4 -4zM1138 376l6 8 -1 7 -4 -5zM1161 377l6 8 0 6 -5 -4zM1184 374l7 8 -1 7 -5 -4zM1201 358l9 10 -1 9 -7 -6zM1235 381l6 7 0 7 -4 -4zM1262 385l6 7 0 6 -4 -4zM1288 391l5 5 0 5 -4 -3zM1313 392l5 6 1 5 -4 -3zM1338 392l4 6 1 5 -4 -4zM1362 393l5 5 1 5 -4 -3zM1385 391l5 6 1 5 -4 -3zM1411 393l5 5 1 5 -4 -3zM1434 391l5 6 1 5 -4 -3zM1459 393l6 5 1 5 -4 -3zM1486 396l4 4 0 4 -3 -2zM1509 394l5 5 1 4 -4 -2zM1531 392l6 5 1 5 -5 -3zM1557 393l5 5 1 5 -4 -3zM1825 399l5 2 3 3 -4 0zM260 374l6 13 -3 9 -5 -8zM280 376l7 12 -2 9 -6 -7zM306 377l7 12 -2 9 -6 -7zM337 399l4 9 -2 6 -4 -5zM359 399l4 9 -1 6 -4 -5zM385 402l5 8 -2 6 -4 -5zM409 402l4 8 -2 6 -3 -5zM434 403l4 9 -1 6 -4 -5zM459 396l4 10 -2 6 -4 -6zM483 399l4 9 -1 6 -4 -5zM507 374l5 13 -3 9 -5 -8zM530 381l5 12 -2 8 -5 -7zM554 384l5 11 -2 8 -5 -7zM579 382l5 12 -2 8 -5 -7zM604 384l5 11 -2 8 -5 -7zM630 374l5 13 -3 9 -5 -8zM653 382l5 12 -2 8 -5 -7zM680 381l5 12 -3 8 -5 -7zM705 398l4 10 -2 6 -4 -6zM731 403l3 9 -2 6 -3 -6zM753 405l4 8 -2 6 -3 -5zM777 405l4 8 -2 6 -3 -5zM800 404l5 8 -2 6 -3 -5zM825 402l4 8 -1 6 -4 -5zM847 402l5 8 0 7 -5 -5zM873 405l5 8 -1 6 -4 -5zM896 403l5 8 -1 6 -4 -5zM917 400l6 8 0 7 -5 -5zM944 403l5 8 0 6 -5 -5zM968 406l5 8 0 6 -4 -5zM997 416l4 6 0 4 -3 -3zM1017 406l6 8 -1 5 -4 -4zM1045 416l5 6 0 4 -3 -3zM1067 406l5 7 0 6 -4 -4zM1089 405l6 7 0 6 -4 -4zM1113 403l6 8 0 6 -4 -4zM1139 403l6 8 -1 6 -4 -4zM1160 401l7 8 0 6 -5 -4zM1185 401l7 7 -1 7 -5 -4zM1211 407l6 7 0 6 -4 -4zM1236 407l6 7 0 6 -5 -4zM1263 412l5 6 1 6 -4 -4zM1286 413l6 6 0 5 -4 -4zM1316 422l4 3 -1 3 -2 -2zM1339 420l4 4 0 4 -3 -3zM1363 418l5 5 0 4 -3 -2zM1387 418l5 5 0 4 -3 -3zM1411 418l5 5 1 4 -4 -2zM1435 417l5 5 1 5 -4 -3zM1459 417l6 5 1 5 -4 -3zM1484 419l5 4 1 4 -4 -2zM1509 419l5 4 1 4 -4 -2zM1532 417l5 5 1 5 -4 -3zM1556 416l6 5 1 5 -5 -3zM1803 423l4 2 1 3 -3 -1zM1825 423l5 2 3 3 -4 0zM261 411l5 11 -2 7 -5 -6zM285 409l5 12 -2 7 -5 -6zM309 408l6 11 -3 8 -5 -6zM335 421l5 10 -2 6 -4 -5zM361 424l4 9 -2 6 -4 -5zM385 427l4 8 -1 6 -4 -5zM409 424l5 9 -2 6 -4 -5zM435 423l4 10 -2 6 -3 -6zM457 421l5 10 -2 6 -4 -5zM485 428l3 9 -1 6 -3 -6zM511 446l2 4 -1 3 -2 -3zM535 428l3 9 -2 6 -3 -6zM557 424l4 9 -2 6 -4 -5zM582 427l4 8 -2 6 -3 -5zM604 401l5 13 -3 8 -5 -7zM631 407l5 12 -3 8 -5 -7zM652 403l6 12 -3 8 -5 -7zM677 406l6 12 -3 8 -5 -7zM704 421l4 10 -2 6 -4 -6zM729 428l4 9 -2 6 -3 -5zM753 431l4 8 -1 6 -4 -5zM778 433l3 8 -1 5 -3 -5zM802 438l4 7 -1 5 -3 -4zM820 411l6 10 -2 8 -5 -6zM844 406l6 12 -2 8 -5 -6zM871 422l5 9 -1 6 -4 -5zM893 422l6 9 -1 7 -4 -5zM918 422l6 9 -1 7 -5 -5zM942 425l6 8 0 7 -5 -5zM967 430l6 7 0 6 -5 -4zM993 428l5 8 0 6 -4 -5zM1015 423l6 8 -1 7 -4 -5zM1033 406l8 11 -1 9 -7 -6zM1068 437l5 6 0 6 -4 -4zM1090 430l6 7 0 6 -5 -4zM1115 428l5 8 0 6 -5 -5zM1137 423l6 8 0 7 -5 -5zM1161 423l6 8 0 7 -5 -5zM1187 428l6 8 -1 6 -4 -4zM1211 430l6 8 0 6 -5 -4zM1241 443l4 5 0 4 -3 -3zM1265 441l5 6 0 5 -4 -4zM1284 428l6 8 0 6 -4 -4zM1307 429l7 7 0 7 -5 -4zM1338 443l5 5 0 4 -3 -3zM1365 447l4 3 -1 3 -2 -2zM1389 447l3 3 0 3 -2 -2zM1413 445l4 4 0 4 -3 -3zM1435 441l5 6 1 5 -4 -3zM1461 443l5 5 0 4 -3 -2zM1484 442l5 5 1 5 -4 -3zM1510 443l5 5 0 4 -3 -2zM1534 445l5 4 0 4 -3 -2zM1557 442l5 5 1 5 -4 -3zM1633 448l4 2 0 3 -3 -1zM1657 448l4 2 0 3 -3 -1zM1803 448l4 2 1 3 -3 -1zM1824 449l6 1 3 3 -4 0zM259 432l6 12 -2 8 -6 -7zM285 434l6 11 -3 8 -4 -6zM308 432l6 11 -2 8 -5 -6zM331 424l6 12 -2 9 -6 -7zM361 451l4 8 -2 6 -3 -5zM385 451l4 8 -1 6 -4 -5zM410 452l4 9 -2 6 -3 -6zM430 432l6 11 -2 8 -5 -6zM455 427l6 12 -3 9 -5 -7zM479 427l6 12 -3 9 -5 -8zM534 460l3 7 -1 5 -3 -4zM557 452l4 9 -2 6 -3 -5zM582 451l4 8 -2 6 -3 -5zM606 447l4 10 -2 6 -3 -6zM630 445l5 10 -2 6 -4 -6zM654 427l5 13 -3 8 -5 -7zM678 432l5 11 -3 8 -4 -7zM701 434l5 11 -2 8 -5 -7zM730 450l4 9 -2 6 -3 -5zM755 454l3 8 -2 6 -3 -5zM778 452l3 9 -2 6 -3 -6zM796 424l7 12 -3 9 -6 -7zM822 433l5 11 -2 8 -5 -6zM843 435l7 11 -2 8 -5 -6zM864 429l7 11 -1 9 -6 -7zM890 427l7 12 -2 9 -6 -7zM911 430l8 11 -1 8 -6 -6zM933 428l8 11 0 9 -7 -6zM965 450l6 8 0 6 -5 -4zM993 452l6 8 -1 6 -4 -5zM1005 428l9 11 -1 9 -7 -6zM1033 426l8 11 -1 9 -7 -6zM1065 449l6 8 -1 7 -5 -5zM1091 453l6 8 -1 6 -4 -4zM1115 452l5 8 0 6 -4 -5zM1137 450l6 8 0 6 -5 -4zM1161 450l6 8 0 6 -5 -4zM1186 452l6 8 0 6 -5 -4zM1213 457l5 7 0 6 -4 -4zM1242 469l4 4 -1 4 -2 -3zM1267 468l4 5 -1 4 -2 -3zM1284 449l6 8 -1 7 -4 -5zM1301 437l8 9 0 9 -6 -5zM1333 452l6 8 0 6 -5 -4zM1355 448l7 8 0 7 -5 -5zM1385 461l5 6 0 6 -4 -4zM1410 461l5 6 1 6 -4 -4zM1435 464l5 5 0 5 -4 -3zM1460 465l5 6 1 5 -4 -3zM1484 466l5 5 1 5 -4 -3zM1509 466l5 5 1 5 -4 -3zM1535 469l4 4 0 4 -3 -2zM1559 470l4 3 1 4 -3 -2zM1631 470l5 3 1 4 -3 -2zM1657 472l4 2 0 3 -2 -1zM1803 472l4 2 1 3 -3 -1zM1825 472l5 2 3 3 -4 0zM261 449l6 13 -3 9 -5 -8zM285 450l6 12 -3 9 -6 -8zM311 459l5 12 -3 7 -4 -6zM330 451l7 12 -3 9 -5 -7zM358 460l5 11 -2 7 -5 -6zM381 454l6 12 -2 8 -6 -7zM407 457l5 12 -2 8 -5 -7zM430 456l6 11 -2 8 -5 -6zM454 457l6 11 -2 8 -5 -7zM482 456l6 12 -3 8 -5 -7zM508 477l4 9 -2 6 -3 -5zM534 482l3 8 -1 5 -3 -5zM559 479l3 8 -2 6 -3 -5zM582 473l4 9 -2 6 -4 -5zM607 470l4 10 -3 6 -3 -6zM627 450l6 13 -3 8 -5 -7zM652 450l6 13 -3 8 -6 -7zM678 455l6 12 -3 8 -5 -7zM700 455l6 12 -2 8 -5 -7zM730 472l4 10 -2 6 -4 -6zM752 449l5 13 -3 8 -5 -8zM777 477l4 9 -2 6 -3 -6zM801 477l4 9 -1 6 -3 -5zM818 450l7 12 -2 9 -6 -7zM841 457l7 10 -1 9 -6 -6zM866 458l7 11 -2 8 -5 -6zM887 456l8 10 -1 9 -6 -6zM909 453l9 11 -1 9 -7 -6zM949 493l4 5 -1 4 -2 -3zM966 474l6 8 0 7 -5 -5zM997 489l4 7 0 4 -3 -3zM1006 453l9 11 -1 9 -7 -6zM1033 453l9 11 -2 9 -6 -6zM1056 457l9 11 -1 8 -7 -5zM1088 472l6 8 0 7 -5 -5zM1114 474l6 8 -1 7 -5 -5zM1139 477l6 8 -1 6 -4 -4zM1162 478l6 7 0 6 -5 -4zM1187 477l6 8 0 6 -5 -4zM1212 477l6 8 0 6 -5 -4zM1236 477l6 8 -1 6 -4 -4zM1260 477l6 8 0 6 -5 -4zM1282 475l7 8 0 6 -5 -4zM1308 472l6 8 0 7 -5 -5zM1327 460l8 10 -1 8 -6 -5zM1358 477l6 8 0 6 -5 -4zM1385 486l5 6 1 6 -4 -4zM1411 486l5 6 0 6 -4 -4zM1435 488l5 6 0 5 -3 -3zM1460 488l5 6 0 5 -3 -3zM1487 496l3 3 0 3 -2 -2zM1508 489l5 6 1 4 -4 -3zM1534 492l5 5 0 4 -3 -3zM1585 496l3 3 0 3 -2 -1zM1653 492l6 4 1 5 -4 -2zM1676 491l7 4 1 5 -4 -2zM1704 496l5 2 1 4 -4 -1zM1754 497l4 2 1 3 -3 -1zM1803 497l4 2 1 3 -3 -1zM1825 497l5 2 3 3 -4 0zM261 483l5 11 -2 8 -5 -7zM282 474l7 13 -3 8 -5 -7zM308 478l6 12 -2 8 -5 -7zM334 478l6 12 -3 8 -5 -7zM357 476l6 13 -3 8 -5 -7zM380 475l6 12 -2 9 -6 -7zM406 478l6 12 -3 9 -5 -7zM431 475l6 12 -3 9 -5 -8zM455 481l6 11 -2 8 -5 -6zM479 473l6 13 -2 9 -6 -8zM507 494l4 10 -2 6 -4 -6zM533 501l4 9 -2 6 -3 -5zM557 500l4 8 -2 6 -3 -5zM582 497l4 9 -2 6 -4 -5zM606 494l4 10 -2 6 -4 -6zM628 480l6 11 -3 8 -5 -7zM654 482l5 12 -3 7 -5 -7zM676 474l6 13 -3 8 -5 -7zM703 476l5 12 -3 8 -5 -7zM729 494l4 10 -2 6 -4 -6zM754 501l3 9 -2 6 -3 -6zM776 497l4 9 -2 6 -3 -5zM796 479l6 12 -2 8 -5 -7zM819 473l7 12 -3 9 -5 -7zM840 477l8 12 -2 8 -6 -6zM865 480l7 11 -1 9 -6 -7zM895 504l6 8 -1 5 -4 -4zM920 502l5 8 -1 6 -4 -4zM936 479l8 11 -1 9 -6 -6zM956 478l9 11 -1 9 -7 -6zM986 480l7 10 -1 9 -6 -6zM1008 480l8 10 -1 9 -6 -6zM1032 478l9 11 -1 9 -7 -6zM1055 479l9 11 -1 9 -7 -6zM1082 480l9 10 -1 9 -7 -6zM1111 496l7 8 -1 7 -5 -4zM1140 501l5 8 0 6 -5 -5zM1163 501l6 8 -1 6 -4 -4zM1187 501l6 8 0 6 -5 -4zM1211 501l6 8 0 6 -4 -4zM1237 501l5 8 0 6 -5 -5zM1260 502l6 7 0 6 -5 -4zM1285 501l6 8 0 6 -5 -4zM1310 498l6 8 -1 7 -4 -5zM1332 496l7 8 -1 7 -5 -5zM1359 501l6 8 -1 6 -4 -4zM1384 504l6 8 -1 5 -4 -4zM1410 507l5 7 0 6 -4 -4zM1431 502l6 7 0 6 -5 -4zM1456 504l6 7 0 6 -5 -4zM1479 502l7 7 0 6 -5 -4zM1505 503l6 8 0 6 -4 -4zM1534 514l4 6 1 5 -4 -4zM1608 520l4 3 0 3 -2 -1zM1754 521l4 2 1 3 -3 -1zM1779 521l4 2 1 3 -3 -1zM1802 520l5 2 1 4 -4 -1zM1824 521l6 2 3 3 -4 0zM261 502l6 12 -3 8 -5 -7zM284 497l6 13 -3 9 -5 -8zM307 501l7 12 -3 9 -5 -7zM332 499l7 12 -3 9 -6 -7zM357 505l6 12 -3 8 -4 -7zM387 526l3 9 -1 6 -4 -6zM408 522l5 9 -2 6 -4 -5zM430 505l6 11 -2 8 -5 -7zM457 505l5 12 -3 8 -4 -7zM482 505l5 12 -3 8 -4 -7zM508 506l4 12 -3 7 -4 -7zM532 522l4 9 -1 6 -4 -5zM557 521l4 10 -2 6 -3 -6zM583 521l3 10 -2 6 -3 -6zM607 521l3 10 -2 6 -3 -6zM629 503l5 12 -3 8 -4 -7zM652 501l6 12 -3 9 -5 -8zM676 504l6 12 -3 8 -5 -7zM703 498l6 13 -4 8 -5 -7zM728 522l5 9 -2 6 -4 -5zM748 498l6 12 -2 9 -6 -7zM772 507l6 11 -2 8 -5 -6zM798 501l6 12 -3 9 -5 -8zM818 509l7 11 -2 8 -5 -6zM843 502l7 11 -2 9 -6 -7zM872 527l5 8 -1 6 -4 -5zM897 529l5 7 -1 6 -4 -4zM923 538l4 7 0 4 -3 -3zM942 526l6 8 0 6 -5 -4zM965 521l7 8 -1 7 -5 -5zM991 521l6 8 -1 7 -4 -5zM1005 501l9 11 -1 9 -7 -6zM1033 510l8 9 0 9 -7 -6zM1056 505l8 10 -1 9 -6 -6zM1080 504l9 10 -1 9 -7 -5zM1111 521l7 8 0 7 -5 -4zM1138 526l6 8 0 6 -4 -4zM1165 527l5 8 -1 6 -4 -4zM1188 528l5 7 0 6 -5 -4zM1213 528l5 7 0 6 -4 -4zM1237 528l5 7 0 6 -5 -4zM1263 530l5 8 0 5 -4 -4zM1290 539l4 6 0 4 -3 -3zM1310 526l6 8 0 6 -5 -4zM1335 526l5 8 0 6 -4 -5zM1360 526l5 8 0 6 -5 -5zM1384 527l6 8 -1 6 -4 -4zM1408 526l6 8 -1 6 -4 -4zM1433 528l5 7 0 6 -4 -4zM1457 528l6 7 0 6 -5 -4zM1483 532l5 7 0 5 -4 -3zM1510 539l5 6 0 5 -4 -4zM1534 541l5 5 0 4 -3 -3zM1561 545l3 3 0 3 -2 -2zM1585 545l3 3 0 3 -2 -1zM1609 545l3 3 0 3 -2 -1zM1754 546l4 2 1 3 -3 -1zM1800 543l6 4 2 4 -5 -2zM1823 545l7 2 2 4 -4 -1zM259 525l6 12 -2 9 -6 -7zM285 532l5 11 -2 8 -5 -6zM307 525l6 12 -2 8 -6 -7zM331 529l7 11 -3 9 -5 -7zM360 546l4 9 -1 6 -4 -5zM385 543l4 10 -2 6 -3 -6zM408 543l5 10 -2 6 -4 -5zM432 532l5 11 -2 8 -5 -6zM456 525l6 12 -3 9 -5 -8zM481 522l6 13 -3 9 -6 -8zM505 527l6 12 -3 8 -5 -7zM531 523l6 13 -4 8 -5 -7zM555 527l5 12 -3 8 -5 -7zM582 546l4 9 -2 6 -4 -5zM605 543l4 10 -2 6 -4 -5zM632 545l3 10 -2 6 -3 -6zM655 550l4 9 -2 6 -3 -5zM680 545l4 10 -2 6 -3 -6zM705 548l3 9 -2 6 -3 -5zM727 529l5 12 -2 8 -5 -7zM749 521l6 13 -3 9 -6 -8zM773 523l6 13 -3 8 -5 -7zM800 543l5 10 -2 6 -4 -5zM819 530l6 11 -2 8 -5 -6zM840 527l8 11 -2 9 -6 -7zM865 534l7 10 -1 8 -6 -6zM893 547l6 8 0 7 -5 -5zM919 553l6 8 -1 5 -4 -4zM946 556l5 7 -1 5 -3 -4zM969 553l5 8 -1 5 -4 -4zM996 558l5 7 -1 5 -3 -3zM1017 551l6 8 -1 6 -4 -4zM1031 525l9 11 -1 9 -7 -6zM1055 528l9 10 -1 9 -6 -5zM1080 525l9 11 -1 9 -7 -6zM1112 545l6 8 0 7 -5 -5zM1140 552l5 7 0 6 -4 -4zM1164 553l6 8 -1 5 -4 -4zM1189 553l5 8 -1 5 -4 -4zM1214 555l5 7 0 5 -4 -4zM1239 554l5 8 -1 5 -4 -4zM1265 559l4 6 0 5 -4 -3zM1290 561l4 6 0 5 -4 -4zM1311 550l5 8 0 6 -5 -5zM1335 547l6 8 -1 7 -5 -5zM1361 550l5 8 -1 6 -4 -5zM1385 549l5 9 -1 6 -4 -5zM1407 547l6 8 -1 7 -4 -5zM1430 548l6 8 0 6 -5 -4zM1458 555l6 7 0 6 -5 -4zM1485 561l5 6 0 5 -4 -3zM1512 567l3 4 0 4 -2 -3zM1536 567l3 4 0 4 -3 -3zM1560 567l4 4 0 4 -3 -3zM1581 562l6 6 0 4 -4 -3zM1609 569l3 3 0 3 -2 -1zM1804 570l4 2 0 3 -3 -1zM1825 570l5 2 3 3 -4 0zM259 548l6 12 -2 9 -6 -7zM286 568l4 10 -1 6 -4 -5zM311 552l6 12 -3 8 -5 -7zM333 553l6 12 -3 8 -5 -7zM354 547l7 12 -3 9 -5 -7zM385 568l4 10 -2 6 -3 -6zM409 568l5 10 -2 6 -4 -6zM432 556l5 12 -2 7 -5 -6zM458 555l5 11 -3 8 -5 -7zM484 557l4 11 -3 8 -4 -7zM506 549l6 13 -3 8 -5 -7zM531 546l6 13 -3 8 -6 -7zM555 547l6 13 -3 8 -5 -7zM583 573l4 9 -2 6 -3 -5zM605 568l4 10 -2 6 -3 -6zM628 555l5 11 -2 8 -5 -7zM655 555l5 12 -3 7 -5 -7zM679 571l5 9 -2 6 -4 -5zM704 575l4 9 -2 6 -3 -5zM729 574l4 8 -2 6 -3 -5zM752 549l5 12 -3 9 -5 -8zM776 575l4 9 -1 6 -4 -5zM799 571l5 9 -1 6 -4 -5zM824 574l4 8 -1 7 -4 -5zM842 547l7 13 -2 9 -6 -7zM868 570l6 8 -1 7 -5 -5zM889 551l8 11 -2 9 -6 -7zM921 579l5 8 -1 5 -4 -4zM947 586l4 6 0 5 -3 -3zM971 588l5 6 0 4 -3 -3zM999 591l3 5 -1 4 -2 -3zM1020 586l5 6 0 5 -4 -3zM1041 575l5 8 0 6 -4 -4zM1064 569l6 9 -1 7 -4 -5zM1081 550l9 11 -1 9 -7 -6zM1114 569l6 9 -1 7 -5 -5zM1140 576l6 8 -1 6 -4 -4zM1166 581l5 7 -1 5 -4 -4zM1190 581l5 7 -1 5 -3 -4zM1214 578l5 7 0 6 -4 -4zM1241 583l4 7 -1 5 -3 -4zM1262 575l5 8 0 6 -5 -5zM1287 574l5 9 -1 6 -4 -5zM1311 572l5 8 -1 7 -4 -5zM1336 575l5 8 -1 6 -4 -5zM1360 572l5 8 0 7 -5 -5zM1384 572l5 8 -1 7 -4 -5zM1407 570l6 8 -1 7 -5 -5zM1430 570l6 8 0 7 -5 -5zM1449 551l8 11 -1 9 -7 -6zM1486 587l4 7 0 4 -3 -3zM1513 591l3 5 0 4 -3 -3zM1536 592l3 4 0 4 -3 -3zM1559 590l5 5 0 4 -3 -3zM1581 587l5 6 1 5 -4 -3zM1606 589l5 5 1 5 -4 -3zM1633 594l4 3 0 3 -2 -1zM1824 596l6 1 3 3 -4 0zM264 599l4 9 -2 6 -3 -5zM287 599l4 9 -1 6 -4 -5zM312 598l4 8 -1 6 -4 -5zM335 578l6 12 -3 8 -5 -7zM361 595l4 9 -2 6 -4 -5zM385 595l5 9 -2 6 -4 -5zM409 592l4 10 -2 6 -4 -5zM433 592l5 10 -2 6 -4 -5zM457 571l6 13 -4 8 -5 -8zM479 572l6 12 -3 9 -5 -7zM504 571l6 13 -3 9 -5 -8zM529 578l6 12 -3 8 -5 -7zM553 572l6 12 -3 9 -5 -7zM581 598l4 8 -1 6 -4 -5zM605 577l5 12 -3 8 -4 -7zM627 575l6 12 -3 8 -5 -7zM652 579l5 12 -2 8 -5 -7zM678 570l6 13 -4 9 -5 -8zM703 592l5 10 -2 6 -4 -6zM729 597l4 9 -2 6 -3 -5zM751 576l6 12 -3 8 -5 -7zM776 595l5 9 -2 6 -4 -5zM802 607l4 7 -1 5 -3 -4zM823 600l5 8 -1 6 -4 -5zM848 600l5 8 -1 6 -4 -5zM872 600l5 8 -1 6 -4 -5zM898 610l5 6 0 5 -4 -3zM921 608l5 6 0 6 -4 -4zM948 612l4 6 0 4 -3 -3zM971 610l5 6 -1 5 -3 -3zM999 618l3 3 0 3 -3 -2zM1022 615l4 5 -1 4 -2 -3zM1045 610l5 6 0 5 -4 -3zM1057 579l8 10 0 9 -7 -6zM1090 596l6 8 -1 7 -4 -5zM1114 596l6 8 -1 7 -4 -5zM1141 602l5 7 0 6 -4 -4zM1166 605l5 7 -1 5 -4 -4zM1191 607l5 7 -1 5 -3 -4zM1213 599l6 8 -1 6 -4 -5zM1237 596l6 8 -1 7 -5 -5zM1263 598l5 9 -1 6 -4 -5zM1288 598l5 8 -1 7 -4 -5zM1314 598l4 8 -1 7 -4 -5zM1335 599l6 8 -1 6 -4 -5zM1357 578l7 11 -2 9 -6 -7zM1383 593l6 9 -1 7 -5 -5zM1407 593l6 9 0 7 -5 -5zM1433 593l5 9 -1 7 -4 -5zM1451 576l8 11 -1 9 -6 -6zM1486 611l4 7 0 4 -3 -3zM1513 615l3 5 0 4 -3 -3zM1536 613l4 6 -1 4 -3 -3zM1560 616l4 4 0 4 -3 -3zM1580 609l6 6 0 5 -4 -3zM1606 613l5 5 1 5 -4 -3zM1631 614l5 5 1 4 -4 -2zM1706 619l4 2 0 3 -3 -1zM1730 619l4 2 1 3 -3 -1zM1825 619l5 2 3 3 -4 0zM265 625l3 8 -1 6 -3 -5zM288 623l4 9 -2 6 -3 -6zM313 621l4 9 -2 6 -3 -5zM337 619l4 9 -2 6 -3 -5zM361 618l4 10 -2 6 -3 -6zM385 622l5 8 -2 6 -4 -5zM406 595l6 13 -3 9 -5 -8zM429 595l6 12 -2 9 -6 -7zM456 605l5 11 -2 8 -5 -7zM482 601l6 12 -3 8 -5 -8zM505 594l6 13 -3 9 -5 -8zM529 599l6 12 -3 8 -5 -7zM556 619l4 9 -2 6 -3 -5zM581 619l5 9 -2 6 -4 -5zM604 601l5 12 -3 8 -5 -7zM627 604l6 11 -3 8 -4 -7zM653 593l6 14 -4 8 -5 -8zM679 605l5 11 -3 8 -4 -7zM700 601l6 12 -3 8 -5 -7zM724 595l7 12 -3 9 -6 -7zM754 616l4 10 -3 6 -3 -6zM775 619l5 9 -2 6 -4 -5zM801 625l4 8 -1 6 -4 -5zM827 635l3 7 -1 4 -3 -3zM847 624l5 8 0 6 -5 -4zM872 624l5 8 -1 6 -4 -5zM899 634l4 6 0 5 -3 -4zM922 634l5 6 0 5 -4 -3zM947 634l4 6 0 5 -3 -3zM967 623l6 8 -1 6 -4 -4zM995 629l5 7 -1 5 -4 -4zM1021 636l4 6 0 4 -3 -3zM1048 642l3 3 0 3 -3 -2zM1072 639l3 5 0 4 -3 -3zM1091 623l5 8 0 6 -5 -5zM1114 620l6 8 -1 7 -4 -5zM1141 624l5 8 -1 6 -4 -4zM1167 631l5 7 -1 5 -3 -3zM1192 634l4 6 0 5 -3 -4zM1218 634l3 6 0 5 -3 -4zM1241 631l4 7 -1 5 -3 -4zM1267 637l4 6 -1 4 -2 -3zM1291 633l4 7 -1 5 -3 -4zM1317 639l3 5 0 4 -3 -3zM1342 639l2 5 0 3 -3 -2zM1363 622l4 8 -1 6 -4 -4zM1384 623l6 8 -1 6 -4 -5zM1411 622l5 8 -1 7 -4 -5zM1433 623l5 8 0 6 -5 -5zM1458 625l6 7 -1 6 -4 -4zM1488 642l3 3 0 3 -3 -2zM1511 634l4 6 0 5 -3 -4zM1534 634l5 6 0 5 -4 -3zM1555 625l6 7 0 6 -5 -4zM1576 625l6 7 1 6 -5 -4zM1609 642l3 3 0 3 -2 -1zM1634 642l3 3 0 3 -2 -1zM1657 642l4 3 0 3 -2 -1zM1682 643l4 2 0 3 -2 -1zM1825 643l5 2 3 3 -4 0zM265 660l3 7 -1 4 -2 -4zM287 647l4 8 -1 6 -4 -5zM313 647l4 8 -2 6 -3 -5zM338 658l3 7 -1 5 -3 -4zM363 660l3 7 -1 4 -3 -4zM386 647l4 8 -2 6 -4 -5zM407 629l6 11 -3 8 -4 -7zM431 620l6 13 -3 9 -5 -8zM456 629l5 11 -2 8 -5 -7zM479 627l6 11 -2 9 -5 -7zM504 629l5 12 -2 7 -5 -6zM534 643l4 10 -3 6 -3 -6zM553 620l6 13 -3 8 -5 -7zM580 628l5 11 -3 8 -4 -7zM605 627l5 12 -3 8 -5 -7zM629 628l5 12 -2 7 -5 -7zM649 619l7 13 -3 9 -6 -8zM679 619l5 13 -3 9 -5 -8zM700 627l6 12 -3 8 -4 -7zM726 630l6 11 -3 8 -4 -7zM748 627l6 12 -2 8 -5 -7zM772 631l6 11 -2 7 -5 -6zM801 648l4 9 -1 6 -4 -5zM828 662l3 6 -1 4 -3 -4zM849 647l5 8 -2 6 -4 -5zM870 648l6 8 -1 6 -4 -5zM896 649l5 8 -1 6 -4 -4zM924 660l3 7 0 4 -3 -3zM947 657l4 6 0 5 -4 -3zM959 622l8 11 -1 10 -7 -7zM990 643l6 8 0 7 -5 -5zM1018 649l5 8 -1 6 -4 -4zM1072 667l3 3 0 3 -3 -2zM1091 651l6 8 -1 5 -4 -4zM1115 648l6 8 -1 6 -4 -5zM1141 649l5 8 0 6 -4 -4zM1168 656l4 7 -1 5 -3 -4zM1194 666l3 4 0 3 -3 -2zM1220 666l2 4 0 3 -2 -2zM1244 666l2 4 0 3 -2 -2zM1269 666l3 4 -1 3 -2 -2zM1293 666l2 4 0 3 -2 -2zM1318 666l3 4 -1 3 -2 -2zM1342 666l2 4 0 3 -2 -2zM1416 664l2 5 0 3 -3 -2zM1434 649l5 8 -1 6 -4 -4zM1459 649l5 8 0 6 -4 -5zM1482 650l6 7 -1 6 -4 -4zM1508 647l5 9 -1 6 -4 -5zM1528 646l6 8 0 6 -5 -4zM1553 646l6 8 0 6 -5 -4zM1575 647l7 7 0 7 -5 -4zM1608 665l4 4 0 4 -3 -2zM1682 668l4 2 0 3 -3 -1zM1706 668l4 2 0 3 -3 -1zM1728 665l5 3 2 5 -4 -2zM1825 668l5 2 3 3 -4 0zM266 684l3 7 -1 4 -3 -4zM287 668l4 9 -2 6 -3 -5zM311 668l5 9 -2 6 -4 -5zM338 677l3 8 -1 5 -3 -5zM361 677l4 8 -1 5 -4 -5zM385 671l4 8 -1 6 -4 -5zM407 648l6 12 -3 9 -5 -8zM429 646l7 12 -3 9 -5 -7zM455 644l6 13 -3 9 -5 -8zM481 646l5 12 -2 9 -6 -7zM506 645l6 13 -3 8 -5 -7zM527 644l7 13 -3 9 -6 -8zM554 649l6 12 -3 8 -5 -7zM579 648l6 12 -3 9 -5 -8zM602 654l6 11 -2 8 -5 -6zM630 652l5 11 -3 8 -4 -7zM654 653l5 12 -3 7 -4 -7zM679 644l5 13 -3 9 -5 -8zM701 653l6 12 -3 7 -5 -6zM729 652l5 12 -3 7 -5 -7zM749 647l6 13 -3 8 -5 -7zM775 665l5 10 -2 6 -4 -5zM801 676l4 7 -1 6 -3 -5zM828 688l3 5 -1 3 -3 -2zM851 684l4 7 -1 4 -3 -3zM870 669l5 8 0 7 -5 -5zM896 668l5 9 -1 6 -4 -5zM920 672l5 8 -1 6 -4 -5zM942 669l6 8 0 7 -5 -5zM965 667l7 8 -1 7 -5 -5zM992 669l6 8 -1 7 -4 -5zM1018 673l5 8 -1 6 -4 -4zM1043 675l5 7 0 6 -5 -4zM1067 673l5 8 -1 6 -4 -4zM1090 672l6 8 0 6 -5 -4zM1113 669l6 8 -1 7 -4 -4zM1133 655l8 10 -1 8 -6 -5zM1168 683l4 6 0 5 -4 -3zM1195 690l2 4 0 3 -2 -2zM1220 690l2 4 0 3 -3 -2zM1244 690l2 4 0 3 -3 -2zM1341 686l3 6 0 4 -3 -4zM1363 673l5 8 -1 6 -4 -5zM1389 684l4 7 -1 4 -3 -3zM1413 683l4 6 0 5 -3 -4zM1437 680l4 7 -1 5 -3 -4zM1460 675l5 7 -1 6 -4 -4zM1484 675l5 7 -1 6 -4 -4zM1507 673l6 8 -1 6 -4 -4zM1530 674l5 7 0 6 -4 -4zM1553 673l7 7 0 6 -5 -4zM1575 671l7 7 0 7 -5 -4zM1606 686l5 5 1 5 -4 -3zM1634 691l3 3 0 3 -2 -1zM1706 692l4 2 0 3 -3 -1zM1825 692l5 2 3 3 -4 0zM266 711l3 6 -1 4 -3 -4zM288 697l4 9 -2 6 -3 -5zM314 707l3 7 -1 5 -2 -4zM338 707l3 7 -1 5 -2 -4zM362 705l4 7 -2 5 -3 -4zM386 699l4 8 -1 6 -4 -5zM403 668l7 13 -3 9 -5 -7zM429 669l7 12 -3 9 -6 -7zM457 690l5 10 -2 6 -4 -5zM478 669l6 13 -2 9 -6 -8zM505 679l5 11 -2 8 -5 -7zM530 676l5 12 -2 8 -5 -7zM554 676l6 12 -3 8 -5 -7zM578 669l6 12 -3 9 -5 -8zM606 690l4 10 -2 6 -4 -6zM628 673l6 12 -3 9 -5 -8zM653 668l5 13 -3 9 -5 -8zM680 690l4 10 -2 6 -4 -6zM703 671l5 13 -3 8 -5 -7zM724 673l6 12 -2 8 -5 -7zM752 690l5 10 -2 6 -4 -6zM776 693l5 9 -2 6 -4 -5zM801 696l4 8 -1 6 -4 -5zM826 707l4 7 -1 5 -3 -4zM876 711l3 6 0 4 -3 -3zM900 709l4 7 -1 4 -3 -3zM913 678l7 10 -1 9 -6 -6zM944 697l6 8 -1 6 -4 -5zM968 697l6 8 -1 6 -4 -5zM994 697l5 8 -1 6 -4 -5zM1016 697l6 8 0 6 -5 -4zM1032 672l9 11 -1 9 -7 -6zM1057 675l8 11 -1 9 -6 -6zM1083 680l8 10 -1 8 -6 -6zM1107 677l8 10 -1 9 -6 -6zM1132 675l8 10 -1 9 -6 -6zM1165 696l5 9 -1 6 -4 -5zM1194 711l3 6 -1 4 -2 -3zM1219 711l3 6 0 4 -3 -3zM1269 715l3 4 -1 3 -2 -2zM1292 709l3 7 -1 4 -2 -4zM1318 709l3 7 -1 4 -3 -4zM1342 711l3 6 -1 4 -3 -4zM1365 707l4 7 -1 5 -3 -4zM1388 698l4 8 -1 6 -4 -5zM1412 699l4 8 -1 6 -3 -5zM1435 698l5 8 -1 6 -4 -5zM1460 698l5 8 -1 6 -4 -5zM1482 699l5 7 0 6 -4 -4zM1508 698l5 8 -1 6 -4 -4zM1530 699l6 7 0 6 -5 -4zM1557 702l5 7 0 5 -4 -4zM1583 710l5 6 0 4 -3 -3zM1605 709l6 6 0 4 -4 -3zM1634 716l3 3 0 3 -2 -2zM1824 718l6 1 3 3 -4 0zM267 739l2 4 -1 3 -2 -2zM289 733l4 7 -1 4 -3 -4zM314 733l4 7 -1 4 -3 -4zM338 731l3 7 -1 5 -3 -4zM360 725l4 7 -1 6 -3 -5zM384 720l5 8 -2 6 -3 -5zM407 714l5 10 -1 6 -5 -5zM433 714l5 10 -2 6 -4 -5zM453 695l7 12 -3 9 -5 -7zM480 695l6 12 -3 9 -5 -8zM503 694l6 13 -2 8 -6 -7zM531 692l6 13 -4 9 -5 -8zM556 693l5 13 -3 8 -5 -7zM584 737l3 5 -1 3 -2 -3zM606 721l4 9 -2 6 -3 -5zM626 698l6 12 -2 8 -5 -7zM652 697l6 12 -3 8 -5 -7zM675 694l6 13 -2 8 -6 -7zM703 714l5 10 -2 6 -4 -6zM727 699l5 12 -3 8 -4 -7zM753 717l4 9 -2 6 -4 -5zM776 720l4 8 -1 6 -4 -5zM801 721l4 9 -1 6 -4 -5zM824 720l5 8 -2 6 -3 -5zM853 739l2 4 0 3 -2 -2zM876 735l3 6 0 4 -3 -3zM900 733l4 7 -1 4 -3 -3zM923 734l4 6 0 4 -3 -3zM945 727l5 7 0 5 -4 -4zM961 700l7 10 -1 9 -6 -6zM995 727l5 7 0 5 -4 -4zM1017 721l6 8 -1 6 -4 -5zM1035 704l8 10 -1 8 -6 -5zM1059 698l8 11 -1 9 -6 -6zM1082 695l8 11 -1 10 -6 -7zM1104 697l9 11 -1 9 -7 -6zM1132 694l8 12 -1 9 -7 -7zM1165 721l5 8 -1 6 -4 -5zM1188 721l6 8 -1 6 -4 -5zM1219 735l3 6 0 4 -3 -3zM1244 735l3 6 -1 4 -3 -4zM1269 737l3 5 -1 3 -3 -2zM1292 729l3 7 -1 5 -3 -4zM1316 729l4 7 -1 5 -3 -4zM1341 733l3 7 0 4 -3 -4zM1366 729l3 7 -1 5 -3 -4zM1386 722l5 8 -1 6 -4 -5zM1411 717l5 9 -2 6 -4 -5zM1433 715l6 9 -1 7 -5 -6zM1453 697l7 11 -2 9 -6 -7zM1483 720l5 9 -1 6 -4 -5zM1507 723l6 7 -1 6 -4 -4zM1530 721l6 8 0 6 -5 -4zM1553 722l7 7 0 6 -5 -4zM1583 734l5 6 0 5 -4 -4zM1608 738l4 4 0 4 -3 -3zM1632 736l5 5 0 4 -3 -3zM1657 738l4 4 0 4 -3 -2zM1683 740l3 3 0 3 -2 -1zM1825 741l5 2 3 3 -4 0zM266 762l3 5 -1 3 -3 -2zM314 758l3 7 -1 4 -2 -4zM335 745l5 8 -2 6 -3 -5zM362 760l3 6 0 4 -3 -3zM386 745l4 8 -2 6 -4 -5zM409 739l4 10 -2 6 -4 -5zM432 739l5 10 -2 6 -4 -5zM457 742l5 9 -2 6 -4 -5zM484 746l4 9 -2 6 -3 -5zM508 741l4 10 -2 6 -3 -6zM532 746l4 9 -1 6 -3 -5zM557 745l4 8 -2 6 -3 -5zM585 764l2 4 -1 3 -2 -2zM607 754l3 7 -1 5 -3 -4zM628 718l6 13 -3 8 -6 -7zM654 726l5 12 -3 8 -5 -7zM677 722l6 12 -3 9 -5 -8zM704 739l4 10 -2 6 -3 -6zM729 739l4 10 -2 6 -3 -6zM753 745l4 8 -2 6 -4 -5zM776 746l4 9 -1 6 -4 -5zM801 745l4 8 -1 6 -4 -5zM823 745l5 8 -1 7 -4 -5zM851 756l4 7 -1 5 -3 -4zM877 764l3 4 -1 3 -2 -2zM900 760l4 6 -1 4 -2 -3zM923 759l4 6 0 4 -3 -3zM948 757l4 6 0 5 -3 -4zM973 760l4 6 -1 4 -3 -3zM997 754l4 7 -1 5 -3 -4zM1019 750l5 8 -1 5 -4 -4zM1040 743l6 8 0 7 -5 -5zM1057 724l8 11 -1 9 -6 -6zM1084 728l8 11 -1 8 -6 -6zM1108 724l8 11 -2 9 -6 -7zM1132 723l8 11 -1 9 -7 -6zM1162 743l6 8 0 7 -5 -5zM1190 749l5 7 -1 6 -4 -4zM1219 758l3 7 -1 4 -2 -3zM1243 758l3 7 -1 4 -2 -4zM1268 756l4 7 -2 5 -2 -4zM1292 756l3 7 -1 5 -3 -4zM1318 756l3 7 -1 5 -3 -4zM1342 748l3 8 -2 6 -3 -5zM1366 751l3 8 -1 5 -3 -5zM1388 746l4 9 -1 6 -4 -5zM1411 745l5 8 -1 7 -4 -5zM1428 723l7 11 -1 9 -6 -7zM1457 728l6 11 -2 8 -5 -6zM1482 746l5 8 0 6 -4 -5zM1508 747l5 8 -1 6 -4 -4zM1530 748l6 7 0 6 -5 -4zM1558 755l5 6 0 6 -4 -4zM1584 759l4 6 0 4 -3 -3zM1607 759l5 6 0 5 -4 -4zM1633 761l4 5 0 4 -3 -3zM1657 763l4 4 0 4 -3 -2zM1682 763l4 4 0 4 -3 -2zM1707 765l3 3 0 3 -2 -1zM1824 767l6 1 3 3 -4 0zM265 786l3 5 0 3 -3 -2zM290 786l3 5 -1 3 -3 -2zM311 771l5 8 -1 6 -4 -5zM337 775l4 8 -1 5 -4 -5zM361 773l4 8 -1 6 -4 -5zM385 774l4 7 -1 6 -4 -4zM405 743l6 12 -3 9 -5 -8zM428 742l7 13 -3 9 -5 -8zM459 769l4 8 -2 6 -3 -5zM483 769l4 8 -1 6 -4 -5zM507 769l4 8 -1 6 -4 -5zM533 770l4 9 -2 6 -3 -5zM556 766l4 9 -2 6 -3 -5zM585 783l2 7 -1 4 -2 -4zM606 766l4 9 -2 6 -3 -5zM630 763l4 10 -2 6 -4 -5zM653 750l5 11 -2 8 -5 -7zM677 742l5 13 -3 8 -5 -7zM703 763l4 10 -2 6 -4 -5zM729 765l4 10 -2 6 -3 -6zM754 768l3 9 -2 6 -3 -5zM777 769l4 8 -2 6 -4 -5zM801 766l4 9 -2 6 -3 -5zM825 775l4 8 -1 5 -4 -4zM852 782l3 7 -1 4 -2 -4zM872 769l5 8 -1 7 -4 -5zM900 782l4 7 -1 4 -3 -3zM924 782l4 7 -1 4 -3 -3zM948 781l4 6 0 5 -3 -4zM973 784l4 6 -1 4 -3 -3zM997 781l4 6 0 5 -3 -4zM1018 771l5 8 0 6 -4 -5zM1043 776l5 7 0 5 -4 -4zM1064 764l6 9 0 7 -5 -5zM1089 764l6 9 0 7 -5 -5zM1116 773l5 7 0 6 -4 -4zM1141 771l5 8 -1 6 -4 -4zM1167 775l5 8 -1 5 -4 -4zM1192 775l4 8 -1 5 -3 -4zM1217 778l4 7 0 5 -4 -4zM1242 778l4 7 -1 5 -3 -4zM1268 778l3 7 -1 5 -3 -4zM1291 775l4 8 -1 5 -3 -5zM1319 778l2 7 -1 5 -3 -4zM1342 778l3 7 -2 5 -2 -4zM1365 772l4 8 -2 6 -3 -5zM1389 770l4 9 -2 6 -3 -5zM1406 748l7 11 -2 9 -5 -7zM1431 744l7 12 -3 8 -5 -7zM1453 750l7 11 -1 8 -6 -6zM1484 771l5 8 -1 6 -4 -5zM1513 789l3 3 0 3 -3 -2zM1560 784l4 6 0 4 -3 -3zM1583 783l5 6 0 4 -4 -3zM1607 781l4 6 0 5 -3 -3zM1632 783l5 6 0 5 -4 -4zM1656 783l5 6 0 5 -4 -4zM1683 789l3 3 0 3 -2 -2zM1707 789l3 3 0 3 -2 -2zM1824 791l6 1 3 3 -4 0zM265 807l4 7 -1 4 -3 -4zM288 805l4 7 -1 5 -3 -4zM314 803l3 7 -1 5 -3 -4zM336 799l4 7 -1 6 -3 -5zM361 800l4 8 -2 5 -3 -4zM386 800l4 8 -1 5 -3 -5zM412 813l3 4 -1 3 -2 -2zM435 797l4 8 -2 6 -3 -5zM458 794l4 8 -1 6 -4 -5zM484 795l4 9 -2 6 -3 -5zM508 793l4 9 -2 6 -3 -5zM532 773l5 12 -3 8 -5 -8zM559 803l3 7 -2 5 -2 -4zM584 807l3 7 -1 4 -3 -4zM606 790l4 10 -2 6 -3 -6zM630 769l5 13 -3 8 -5 -7zM653 771l5 12 -3 8 -5 -7zM679 788l5 10 -2 6 -4 -6zM704 788l4 10 -2 6 -4 -6zM730 790l4 10 -3 6 -3 -6zM753 793l4 9 -2 6 -3 -5zM777 795l4 9 -2 6 -3 -5zM802 795l4 9 -2 6 -3 -5zM824 794l4 8 -1 7 -4 -5zM852 807l3 7 -1 4 -2 -4zM872 794l5 8 -1 7 -4 -5zM896 796l5 8 -1 6 -4 -4zM919 795l6 8 -1 6 -4 -5zM946 801l5 7 -1 5 -4 -4zM973 811l4 5 -1 4 -2 -3zM997 803l4 7 -1 5 -3 -4zM1022 807l4 7 -1 4 -3 -3zM1047 809l4 6 -1 4 -2 -3zM1071 811l4 5 -1 4 -2 -3zM1094 806l5 6 0 5 -4 -3zM1118 804l4 6 0 5 -3 -3zM1144 806l4 6 0 5 -4 -4zM1169 807l4 7 -1 4 -3 -3zM1193 807l4 7 -1 4 -3 -3zM1219 805l3 7 -1 5 -3 -4zM1241 800l4 8 -1 5 -3 -4zM1267 797l4 8 -2 6 -3 -5zM1291 795l4 9 -2 6 -3 -5zM1318 795l3 9 -2 6 -3 -6zM1342 793l3 9 -2 6 -3 -5zM1365 795l4 9 -2 6 -3 -5zM1388 794l4 8 -1 6 -4 -5zM1413 796l4 8 -1 6 -4 -5zM1437 794l4 8 -1 6 -4 -5zM1461 796l5 8 -1 6 -4 -5zM1487 807l4 7 -1 4 -3 -3zM1512 809l4 6 -1 4 -2 -3zM1536 809l4 6 -1 4 -3 -3zM1561 809l4 6 -1 4 -3 -3zM1586 813l3 4 0 3 -3 -2zM1608 809l4 6 0 4 -3 -3zM1633 810l4 5 0 4 -3 -3zM1657 809l4 6 0 4 -3 -3zM1681 810l5 5 0 4 -3 -2zM1707 814l4 3 -1 3 -2 -2zM1825 815l5 2 3 3 -4 0zM266 831l3 7 -1 4 -3 -4zM288 827l4 7 -1 5 -3 -4zM313 824l3 8 -1 5 -3 -4zM337 824l4 8 -1 5 -3 -5zM361 818l4 8 -2 6 -3 -5zM387 831l3 7 -1 4 -2 -4zM437 831l3 7 -1 4 -3 -4zM459 815l4 9 -2 6 -4 -5zM485 817l3 9 -1 6 -4 -5zM508 819l4 9 -2 6 -3 -5zM534 814l3 10 -2 6 -3 -6zM555 812l5 10 -2 6 -4 -5zM581 812l4 10 -2 6 -3 -6zM603 800l6 12 -3 8 -4 -7zM628 797l5 12 -2 8 -5 -7zM653 791l5 13 -3 9 -5 -8zM681 812l4 10 -3 6 -3 -6zM702 812l5 10 -2 6 -4 -5zM725 797l5 11 -2 9 -5 -7zM752 812l4 10 -2 6 -4 -5zM776 818l4 8 -1 6 -4 -5zM800 820l5 8 -1 6 -4 -5zM825 821l4 8 -1 6 -4 -5zM850 821l4 8 -1 6 -4 -5zM874 820l4 8 -1 6 -4 -5zM896 818l5 9 -1 6 -4 -5zM919 813l5 9 -1 7 -4 -5zM945 819l5 8 -1 6 -4 -5zM968 821l6 7 -1 6 -4 -4zM987 802l7 10 -1 8 -6 -5zM1019 820l5 8 -1 6 -4 -5zM1046 832l4 6 0 4 -3 -3zM1072 838l3 3 0 3 -3 -2zM1096 833l4 6 -1 4 -3 -3zM1119 832l4 6 0 4 -3 -3zM1144 833l4 6 0 4 -3 -3zM1169 831l4 7 -1 4 -3 -3zM1193 831l4 7 -1 4 -3 -3zM1219 831l3 7 -1 4 -2 -4zM1242 818l4 8 -2 6 -3 -5zM1267 818l4 8 -2 6 -3 -5zM1292 817l3 9 -1 6 -4 -5zM1318 819l3 9 -2 6 -3 -6zM1342 819l3 9 -2 6 -3 -6zM1367 817l3 9 -2 6 -3 -5zM1389 818l4 8 -2 6 -4 -5zM1413 819l4 9 -1 6 -4 -5zM1438 824l4 8 -1 5 -4 -5zM1465 835l3 5 -1 3 -3 -2zM1487 831l4 7 -1 4 -3 -3zM1512 833l4 6 -1 4 -2 -3zM1535 832l4 6 0 4 -3 -3zM1562 835l3 5 0 4 -3 -3zM1586 837l3 4 0 3 -3 -2zM1607 832l5 6 0 4 -3 -3zM1633 832l4 6 0 4 -3 -3zM1656 832l5 6 0 4 -3 -3zM1681 832l5 6 0 4 -3 -3zM1705 832l4 6 1 5 -4 -4zM1824 840l6 1 3 3 -4 0zM266 858l3 6 -1 4 -3 -4zM289 854l3 7 -1 5 -3 -4zM314 856l3 7 -1 4 -2 -4zM337 840l4 9 -2 6 -4 -5zM362 852l3 7 -1 5 -3 -4zM389 862l2 4 -1 3 -2 -3zM412 857l3 7 -1 4 -2 -4zM437 849l3 8 -2 5 -3 -5zM459 839l4 10 -2 6 -3 -6zM481 824l5 12 -2 8 -5 -7zM508 837l4 10 -2 6 -4 -6zM534 842l4 9 -2 6 -3 -5zM555 822l5 12 -2 8 -5 -7zM581 822l5 12 -3 8 -4 -7zM606 825l5 12 -3 7 -4 -7zM627 815l6 13 -3 8 -6 -7zM652 825l6 12 -3 8 -4 -7zM676 815l6 13 -3 8 -5 -7zM705 837l4 10 -3 6 -3 -6zM729 840l4 9 -2 6 -4 -5zM753 840l4 9 -2 6 -4 -5zM777 842l4 9 -2 6 -3 -5zM801 843l4 8 -1 6 -4 -5zM826 844l4 9 -2 6 -3 -5zM848 845l5 8 -1 6 -4 -5zM872 845l5 8 -1 6 -4 -5zM897 845l5 8 -1 6 -4 -5zM917 838l6 9 0 7 -5 -5zM939 820l7 12 -1 8 -6 -6zM968 838l5 9 -1 7 -4 -5zM990 826l6 11 -1 8 -6 -6zM1017 846l6 7 -1 6 -4 -4zM1047 858l4 6 -1 4 -3 -3zM1072 862l3 4 0 3 -3 -2zM1096 858l4 6 -1 4 -3 -3zM1119 857l4 6 0 4 -3 -3zM1144 858l4 6 0 4 -3 -3zM1168 857l4 6 0 4 -3 -3zM1194 856l3 7 -1 4 -2 -3zM1217 849l4 8 -1 5 -3 -4zM1241 846l4 8 -1 6 -4 -5zM1266 844l5 9 -2 6 -3 -5zM1292 844l4 9 -2 6 -3 -6zM1319 844l3 9 -3 5 -2 -5zM1341 842l4 9 -2 6 -3 -5zM1366 837l4 10 -2 6 -4 -6zM1390 839l3 10 -2 6 -3 -6zM1411 820l6 12 -3 8 -5 -7zM1436 840l4 9 -1 6 -4 -5zM1466 862l2 4 -1 3 -2 -2zM1489 860l3 5 -1 3 -2 -3zM1512 856l4 7 -1 4 -3 -3zM1536 858l4 6 -1 4 -2 -3zM1561 856l4 7 -1 4 -3 -3zM1584 855l4 6 0 5 -4 -4zM1608 857l4 6 0 4 -3 -3zM1633 857l4 6 0 4 -3 -3zM1658 858l4 6 -1 4 -3 -3zM1682 858l4 6 0 4 -3 -3zM1708 862l3 4 0 3 -3 -2zM1733 863l3 3 0 3 -3 -2zM1825 864l5 2 3 3 -4 0zM266 881l3 7 -1 4 -3 -4zM289 878l3 7 -1 5 -3 -4zM315 880l3 7 -1 4 -3 -4zM338 866l3 9 -1 6 -4 -5zM362 876l3 7 -1 5 -3 -4zM388 881l3 7 -1 4 -2 -4zM411 876l3 7 -1 5 -3 -4zM436 866l4 9 -2 6 -3 -5zM454 841l6 12 -2 9 -6 -8zM481 841l6 13 -3 8 -5 -7zM505 847l6 12 -3 8 -5 -7zM534 866l3 9 -2 6 -3 -5zM556 845l5 12 -3 8 -5 -7zM579 845l6 12 -3 8 -5 -7zM602 841l6 12 -3 9 -5 -7zM630 848l5 12 -3 8 -4 -7zM653 845l5 12 -3 8 -5 -7zM679 846l5 12 -3 8 -4 -7zM703 849l5 12 -3 7 -4 -6zM729 866l4 9 -2 6 -3 -5zM752 867l4 8 -1 6 -4 -5zM774 861l5 10 -1 6 -4 -5zM794 841l7 12 -2 9 -6 -7zM825 872l4 7 -1 6 -4 -4zM850 870l4 8 -1 6 -4 -5zM872 869l5 8 -1 6 -4 -5zM898 867l5 8 -2 6 -4 -5zM919 865l6 8 -1 7 -5 -5zM939 845l8 11 -2 9 -6 -7zM967 862l6 9 -1 7 -5 -5zM993 868l5 8 0 6 -5 -5zM1010 847l8 11 -2 8 -6 -6zM1042 868l6 8 -1 6 -4 -5zM1072 884l3 5 0 4 -3 -3zM1097 887l3 3 0 3 -3 -2zM1121 884l3 5 0 4 -3 -3zM1144 879l4 6 0 5 -4 -4zM1170 884l3 5 0 4 -3 -3zM1194 882l3 6 0 4 -3 -3zM1219 876l3 7 -1 5 -3 -4zM1242 873l4 8 -2 5 -3 -4zM1267 866l4 9 -2 6 -3 -5zM1292 866l3 9 -1 6 -4 -5zM1318 868l3 9 -2 6 -3 -6zM1341 844l4 12 -3 8 -4 -7zM1367 845l4 13 -3 7 -5 -7zM1391 863l3 10 -2 6 -3 -6zM1413 861l4 10 -2 6 -4 -5zM1438 867l4 8 -2 6 -3 -5zM1464 871l3 8 -1 6 -3 -5zM1489 884l2 5 0 3 -3 -2zM1514 886l3 4 -1 3 -2 -2zM1537 882l3 6 0 4 -3 -4zM1561 878l4 7 -1 5 -3 -4zM1582 867l5 8 -1 7 -4 -5zM1609 880l4 7 -1 4 -3 -3zM1633 879l4 6 0 5 -3 -4zM1658 880l4 7 -1 4 -3 -3zM1684 884l3 5 0 4 -3 -3zM1708 884l3 5 0 4 -3 -3zM1733 886l3 4 0 3 -3 -2zM1825 888l5 2 3 3 -4 0zM267 910l2 4 -1 3 -2 -3zM290 908l3 5 -1 3 -2 -3zM315 904l3 7 -1 4 -3 -4zM336 888l4 9 -1 6 -4 -5zM360 888l4 9 -1 6 -4 -5zM387 892l4 9 -2 6 -3 -6zM410 895l4 8 -2 6 -3 -5zM435 888l4 9 -2 6 -4 -5zM456 873l6 12 -3 7 -5 -6zM485 890l4 9 -2 6 -4 -5zM510 892l3 9 -2 6 -3 -6zM533 891l4 8 -2 6 -3 -5zM554 868l6 12 -3 8 -5 -7zM583 887l4 10 -2 6 -3 -6zM606 888l4 9 -2 6 -4 -5zM632 885l4 10 -2 6 -4 -6zM656 887l4 10 -2 6 -4 -6zM680 870l5 12 -3 8 -5 -8zM703 867l5 13 -3 8 -5 -8zM726 871l6 12 -3 8 -5 -7zM753 885l4 10 -2 6 -4 -6zM772 864l6 13 -3 8 -5 -7zM796 864l7 13 -3 9 -5 -8zM824 893l5 8 -2 6 -3 -5zM849 894l5 8 -1 6 -4 -5zM874 896l4 7 -1 6 -3 -5zM897 893l5 8 -1 6 -4 -5zM921 891l5 8 -1 7 -4 -5zM945 893l5 8 0 6 -4 -5zM969 893l5 8 0 6 -5 -4zM993 892l5 8 0 6 -5 -5zM1017 888l6 9 -1 7 -5 -5zM1041 889l6 8 -1 7 -4 -5zM1067 898l5 7 0 5 -4 -4zM1095 906l4 6 0 4 -3 -3zM1121 911l3 3 0 3 -3 -2zM1171 910l2 4 0 3 -3 -2zM1195 910l3 4 -1 3 -2 -2zM1217 897l4 8 -1 5 -3 -4zM1241 893l4 8 -1 6 -4 -5zM1268 887l4 10 -3 6 -3 -6zM1290 885l5 10 -2 6 -4 -6zM1318 866l5 13 -4 8 -4 -8zM1342 872l4 12 -3 7 -4 -7zM1366 885l4 10 -3 6 -3 -6zM1390 892l4 9 -2 6 -3 -6zM1417 908l2 5 -1 3 -2 -3zM1441 905l2 7 -1 4 -2 -4zM1464 894l4 8 -2 6 -3 -5zM1489 908l3 5 -1 3 -3 -2zM1538 910l3 4 -1 3 -2 -2zM1563 908l3 5 -1 3 -3 -2zM1586 906l3 6 0 4 -3 -3zM1607 893l5 8 -2 6 -3 -5zM1634 900l4 7 -1 5 -3 -4zM1657 903l4 6 0 5 -3 -4zM1684 906l3 6 -1 4 -2 -3zM1708 908l3 5 0 4 -3 -3zM1734 910l2 4 0 3 -3 -2zM1757 908l3 5 0 4 -3 -3zM1825 912l5 2 3 3 -4 0zM267 933l2 5 -1 3 -2 -3zM291 935l2 4 -1 3 -2 -3zM314 925l3 7 -1 5 -3 -4zM338 912l4 10 -2 6 -4 -6zM358 897l5 12 -2 8 -5 -7zM386 915l4 9 -2 6 -3 -5zM411 915l4 9 -2 6 -4 -5zM436 912l3 10 -2 6 -3 -6zM460 912l4 10 -2 6 -4 -6zM484 915l4 9 -2 6 -3 -5zM509 917l4 9 -2 6 -3 -6zM533 915l4 9 -2 6 -3 -5zM558 915l3 9 -1 6 -4 -5zM582 898l5 12 -3 7 -5 -7zM607 910l4 10 -2 6 -4 -6zM630 910l4 10 -2 6 -3 -6zM656 915l3 9 -2 6 -3 -5zM681 910l4 10 -2 6 -4 -6zM703 897l5 12 -3 8 -4 -7zM726 894l6 12 -3 8 -5 -7zM751 895l5 12 -3 8 -4 -7zM774 899l5 12 -2 7 -5 -6zM801 913l4 9 -1 6 -4 -5zM828 929l3 7 -1 4 -3 -4zM852 929l3 7 -1 4 -2 -4zM873 920l4 7 -1 6 -3 -4zM899 919l4 8 -1 6 -3 -5zM922 918l5 8 -2 6 -3 -5zM947 922l4 8 0 5 -4 -4zM972 925l4 7 -1 5 -3 -4zM994 916l5 8 -1 7 -4 -5zM1018 918l5 8 -1 6 -4 -4zM1042 914l5 8 -1 7 -4 -5zM1066 919l6 7 -1 6 -4 -4zM1096 933l4 5 -1 4 -2 -3zM1121 936l3 3 0 3 -3 -2zM1145 933l4 5 -1 4 -2 -3zM1170 933l3 5 0 4 -3 -3zM1194 933l3 5 0 4 -3 -3zM1216 921l5 7 -1 6 -4 -4zM1235 890l7 12 -3 9 -5 -7zM1263 892l6 12 -2 9 -6 -8zM1291 895l5 12 -3 8 -4 -8zM1316 890l5 13 -4 8 -4 -8zM1341 888l5 13 -4 9 -4 -8zM1365 895l5 13 -3 7 -4 -7zM1391 922l3 8 -2 5 -2 -5zM1416 925l3 7 -2 5 -2 -4zM1440 927l3 7 -1 5 -3 -4zM1465 925l3 7 -2 5 -2 -4zM1489 927l3 7 -2 5 -2 -4zM1564 935l2 4 -1 3 -2 -2zM1587 933l3 5 -1 3 -2 -3zM1610 929l3 7 -1 4 -2 -3zM1633 919l4 8 -1 6 -3 -5zM1657 919l4 8 -1 6 -3 -5zM1684 929l3 7 -1 4 -2 -4zM1709 931l3 6 -1 4 -3 -4zM1734 933l3 5 -1 3 -3 -2zM1824 937l6 2 3 3 -4 0zM267 957l2 5 -1 3 -2 -3zM290 953l3 7 -1 4 -3 -4zM315 941l3 9 -2 6 -3 -6zM338 921l4 12 -3 8 -4 -8zM361 920l4 12 -3 7 -4 -7zM386 936l4 10 -2 6 -3 -5zM411 939l4 9 -2 6 -4 -5zM435 937l4 9 -2 6 -4 -5zM460 936l4 10 -2 6 -4 -6zM484 939l4 9 -2 6 -3 -5zM509 943l4 8 -2 6 -3 -5zM535 941l3 9 -2 6 -3 -6zM559 934l3 10 -2 6 -4 -6zM579 917l5 12 -2 8 -5 -7zM604 919l5 12 -3 8 -4 -7zM628 918l6 12 -3 8 -5 -7zM654 922l5 12 -3 8 -4 -7zM679 912l5 13 -3 9 -5 -8zM704 920l5 12 -3 8 -4 -7zM728 921l5 12 -3 8 -4 -7zM751 915l6 12 -3 9 -5 -8zM776 934l5 10 -2 6 -4 -6zM803 949l4 7 -2 5 -3 -4zM877 959l3 4 -1 3 -2 -2zM899 943l4 8 -1 6 -4 -5zM921 940l5 8 -1 7 -4 -5zM945 942l5 8 0 6 -5 -4zM969 940l5 9 -1 6 -4 -5zM994 937l5 9 -1 6 -4 -5zM1008 916l8 12 -1 9 -6 -7zM1037 921l7 11 -1 8 -6 -6zM1066 941l6 8 -1 6 -4 -5zM1090 941l6 8 0 6 -5 -4zM1118 954l5 6 0 4 -3 -3zM1144 955l4 6 0 4 -3 -3zM1169 957l4 5 -1 4 -2 -3zM1195 957l2 5 0 3 -3 -2zM1216 937l4 9 -1 6 -4 -5zM1236 915l7 12 -3 9 -5 -7zM1264 919l6 11 -3 9 -5 -7zM1293 934l3 10 -2 6 -4 -6zM1320 934l3 10 -3 6 -3 -6zM1345 918l3 13 -4 7 -3 -7zM1368 915l4 13 -4 8 -4 -7zM1390 917l5 13 -4 8 -4 -8zM1440 946l3 8 -2 5 -2 -5zM1465 936l4 10 -3 6 -3 -6zM1486 937l5 9 -2 6 -4 -5zM1514 953l3 7 -1 4 -3 -4zM1637 959l2 4 -1 3 -2 -3zM1660 953l3 7 -1 4 -3 -4zM1685 954l3 7 -1 4 -3 -4zM1709 954l3 7 -1 4 -3 -4zM1734 959l3 4 -1 3 -2 -2zM1759 959l2 4 -1 3 -2 -3zM1824 962l6 1 3 3 -4 0zM267 982l2 5 -1 3 -2 -3zM290 976l3 7 -1 5 -3 -4zM314 968l4 8 -2 6 -3 -5zM338 961l4 10 -3 6 -3 -6zM363 964l3 9 -2 6 -3 -5zM387 968l4 8 -2 6 -3 -5zM412 961l3 10 -2 6 -3 -6zM436 961l3 10 -2 6 -3 -6zM457 939l5 13 -3 8 -5 -7zM482 945l6 11 -3 8 -5 -7zM508 964l4 9 -2 6 -3 -5zM533 943l5 12 -3 8 -4 -7zM554 942l6 12 -3 9 -5 -8zM584 946l4 12 -3 8 -4 -7zM604 943l6 12 -3 8 -5 -7zM630 939l5 13 -3 8 -5 -8zM654 936l6 14 -4 8 -5 -8zM680 939l5 13 -3 8 -5 -7zM704 948l5 11 -3 8 -4 -7zM728 948l5 11 -3 8 -5 -7zM752 959l5 10 -2 6 -4 -6zM778 964l3 9 -2 6 -3 -5zM802 974l4 7 -1 5 -3 -4zM828 980l3 6 -1 4 -3 -4zM853 980l3 6 -1 4 -3 -4zM874 966l4 9 -1 6 -4 -5zM890 941l8 12 -2 8 -6 -6zM921 959l5 10 -2 6 -4 -5zM941 949l6 11 -1 8 -5 -6zM970 965l5 8 -1 7 -4 -5zM992 963l6 8 -1 7 -4 -5zM1010 945l8 10 -1 9 -6 -6zM1035 947l7 10 -1 9 -6 -6zM1066 966l5 8 0 6 -5 -5zM1090 963l6 8 -1 7 -5 -5zM1114 968l6 7 -1 6 -4 -4zM1146 982l3 5 0 4 -3 -3zM1169 980l4 6 -1 4 -3 -3zM1193 974l4 7 -1 5 -3 -4zM1211 941l7 12 -2 9 -6 -7zM1239 938l6 13 -3 9 -5 -8zM1267 962l4 9 -2 6 -3 -5zM1293 964l3 9 -2 6 -3 -5zM1318 964l3 9 -2 6 -3 -5zM1343 937l4 13 -4 9 -4 -9zM1369 945l4 12 -4 8 -4 -7zM1392 945l4 12 -4 8 -4 -8zM1417 971l3 8 -2 5 -3 -5zM1441 961l3 10 -3 6 -3 -6zM1464 961l4 10 -2 6 -4 -6zM1488 961l4 10 -2 6 -4 -6zM1513 959l4 10 -2 6 -4 -6zM1538 978l3 7 -1 4 -3 -4zM1564 984l2 4 -1 3 -2 -3zM1637 984l2 4 -1 3 -2 -3zM1660 978l3 7 -1 4 -3 -4zM1686 979l2 7 -1 4 -2 -4zM1710 984l2 4 -1 3 -2 -3zM1735 984l2 4 -1 3 -2 -3zM1759 984l2 4 -1 3 -2 -3zM1808 984l2 4 -1 3 -2 -3zM1824 987l6 1 3 3 -4 0zM267 1003l2 7 -1 4 -2 -4zM290 1000l3 7 -1 5 -3 -4zM314 988l4 9 -2 6 -4 -5zM339 990l3 9 -2 6 -3 -6zM362 990l4 9 -2 6 -3 -6zM387 990l3 9 -2 6 -3 -6zM412 988l3 9 -2 6 -3 -5zM434 962l6 13 -4 8 -5 -8zM456 963l6 13 -3 8 -5 -7zM486 983l3 10 -2 6 -4 -6zM504 962l6 13 -3 9 -5 -8zM534 969l5 12 -4 7 -4 -7zM555 971l5 11 -3 8 -4 -7zM584 983l4 10 -3 6 -3 -6zM606 961l5 13 -4 9 -4 -8zM631 963l5 13 -3 8 -5 -7zM653 970l5 12 -2 8 -5 -7zM679 971l5 12 -3 7 -4 -7zM700 962l6 12 -3 9 -5 -8zM728 986l4 9 -1 6 -4 -5zM752 989l4 8 -1 6 -4 -5zM779 1000l3 7 -1 5 -3 -4zM803 998l4 7 -2 5 -3 -4zM827 1000l3 7 -1 5 -3 -4zM850 991l4 8 -1 6 -4 -5zM874 989l4 8 -1 6 -4 -5zM897 986l5 9 -1 6 -4 -5zM921 983l5 10 -2 6 -4 -5zM945 986l5 9 -1 6 -4 -5zM967 972l6 11 -2 8 -5 -7zM987 962l8 12 -2 9 -6 -7zM1012 963l7 12 -2 9 -6 -7zM1043 991l5 8 -1 6 -4 -4zM1068 993l5 7 -1 6 -4 -4zM1089 985l6 8 -1 7 -5 -5zM1118 999l4 6 0 5 -3 -3zM1145 1006l4 5 -1 4 -2 -3zM1170 1006l3 5 0 4 -3 -3zM1193 1002l4 7 -1 4 -3 -3zM1219 1000l3 7 -1 5 -3 -4zM1242 988l4 9 -2 6 -3 -5zM1268 985l4 10 -3 6 -3 -6zM1293 995l3 8 -2 5 -2 -5zM1318 990l3 9 -2 6 -3 -6zM1345 968l3 12 -4 8 -3 -8zM1366 960l5 14 -4 8 -4 -8zM1392 988l3 9 -3 6 -3 -5zM1417 988l3 9 -2 6 -3 -5zM1441 988l3 9 -2 6 -3 -5zM1466 985l3 10 -3 6 -3 -6zM1490 990l3 9 -2 5 -3 -5zM1515 985l3 10 -3 6 -3 -6zM1539 1000l2 7 -1 5 -3 -4zM1564 1003l2 7 -1 4 -2 -4zM1588 1003l2 7 -1 4 -2 -4zM1661 1008l2 4 -1 3 -2 -3zM1686 1006l2 5 -1 3 -2 -3zM1710 1006l2 5 -1 3 -2 -3zM1735 1008l2 4 -1 3 -2 -3zM1759 1008l2 4 -1 3 -2 -3zM1824 1011l6 1 3 3 -4 0zM266 1027l3 7 -1 4 -3 -4zM291 1027l2 7 -1 4 -3 -4zM315 1027l3 7 -1 4 -3 -4zM338 1020l3 8 -1 5 -3 -5zM363 1020l3 8 -2 5 -3 -5zM387 1018l4 8 -2 6 -3 -5zM411 1015l4 9 -2 6 -3 -6zM437 1013l3 9 -2 6 -3 -5zM458 1014l5 8 -2 6 -4 -5zM482 997l5 12 -2 7 -5 -7zM507 986l5 13 -3 9 -5 -8zM531 990l6 12 -3 9 -5 -8zM557 994l4 12 -3 8 -4 -7zM579 996l5 11 -2 8 -5 -6zM601 988l7 13 -3 8 -6 -7zM629 997l5 11 -3 8 -4 -7zM652 994l6 11 -3 8 -5 -7zM680 1011l4 9 -2 6 -4 -5zM700 994l6 11 -3 9 -5 -7zM731 1015l3 9 -2 6 -3 -6zM753 1018l4 8 -2 6 -3 -5zM777 1023l4 7 -1 5 -3 -4zM803 1027l4 7 -1 4 -3 -4zM827 1025l3 7 -1 5 -3 -4zM850 1020l4 8 -1 5 -3 -4zM874 1014l4 8 -2 6 -3 -5zM896 1011l6 9 -2 6 -4 -5zM919 1009l6 9 -2 7 -4 -6zM945 1009l5 9 -1 7 -5 -6zM963 990l8 12 -2 9 -6 -7zM987 993l8 11 -2 9 -6 -7zM1012 991l7 11 -2 9 -6 -6zM1035 992l8 11 -1 9 -7 -7zM1060 997l7 10 -1 8 -6 -5zM1092 1015l5 8 -1 6 -4 -5zM1120 1031l4 5 -1 4 -2 -3zM1146 1033l3 4 0 3 -3 -2zM1170 1031l3 5 0 4 -3 -3zM1194 1029l3 6 0 4 -3 -3zM1240 995l5 11 -2 8 -5 -7zM1264 986l6 13 -3 9 -5 -8zM1293 1015l3 9 -2 6 -3 -6zM1319 1020l3 8 -2 5 -3 -5zM1344 1033l1 4 -1 3 -2 -3zM1369 1013l3 9 -3 6 -3 -5zM1393 1015l2 9 -2 5 -3 -5zM1416 1015l3 9 -2 6 -3 -6zM1441 1013l3 9 -3 6 -2 -5zM1465 1008l3 10 -2 6 -3 -6zM1489 1013l3 9 -2 6 -3 -5zM1514 1025l3 7 -1 5 -3 -4zM1539 1031l2 5 -1 3 -2 -3zM1565 1027l2 7 -2 4 -2 -4zM1588 1027l2 7 -1 4 -2 -4zM1612 1028l2 7 -1 4 -2 -4zM1637 1031l2 5 -1 3 -2 -3zM1686 1023l3 7 -2 5 -3 -5zM1710 1028l2 7 -1 4 -2 -4zM1736 1031l1 5 -1 3 -2 -3zM1824 1035l6 2 3 3 -4 0zM267 1052l2 7 -1 4 -2 -4zM290 1052l3 7 -1 4 -3 -4zM315 1053l3 6 -1 4 -3 -4zM338 1049l4 7 -2 5 -2 -4zM363 1049l3 7 -2 5 -2 -4zM388 1049l3 7 -2 5 -2 -4zM411 1049l3 7 -1 5 -2 -4zM434 1038l5 8 -2 6 -4 -5zM460 1037l4 9 -2 6 -4 -5zM483 1035l4 9 -1 6 -4 -5zM505 1017l6 12 -3 8 -5 -7zM531 1019l5 11 -3 8 -4 -7zM555 1017l5 12 -3 8 -4 -7zM581 1021l5 11 -3 8 -4 -7zM606 1038l4 8 -2 6 -3 -5zM632 1037l4 9 -2 6 -4 -5zM656 1037l3 9 -2 6 -3 -5zM680 1044l4 8 -1 5 -3 -5zM705 1039l3 9 -1 6 -4 -6zM729 1037l4 9 -2 6 -3 -5zM754 1041l3 8 -1 6 -3 -5zM778 1051l3 7 -1 4 -2 -4zM804 1052l3 7 -1 4 -3 -4zM827 1051l3 7 -1 4 -2 -4zM850 1047l4 7 0 5 -4 -4zM873 1038l5 8 -2 6 -3 -5zM897 1035l5 9 -2 6 -4 -5zM919 1035l6 9 -1 7 -5 -5zM945 1035l5 9 -1 7 -4 -5zM966 1018l6 11 -2 8 -5 -6zM989 1017l7 12 -2 8 -6 -6zM1012 1014l7 12 -1 9 -6 -7zM1036 1018l8 11 -2 9 -6 -6zM1060 1014l7 11 -1 9 -6 -7zM1092 1038l5 9 -1 6 -4 -5zM1119 1051l4 7 0 4 -3 -3zM1145 1053l4 6 -1 4 -3 -3zM1171 1055l2 5 0 3 -3 -2zM1194 1055l3 5 0 4 -3 -3zM1219 1049l3 7 -1 5 -3 -4zM1242 1039l4 9 -2 6 -3 -5zM1268 1039l3 9 -2 6 -3 -6zM1293 1034l3 10 -2 6 -3 -6zM1320 1051l2 7 -2 4 -2 -4zM1343 1055l2 5 -1 3 -2 -3zM1369 1049l2 7 -2 5 -2 -5zM1392 1039l3 9 -2 5 -3 -5zM1417 1042l3 9 -2 5 -3 -5zM1440 1041l3 8 -2 6 -3 -5zM1465 1039l3 9 -2 6 -3 -6zM1491 1041l2 8 -2 6 -3 -6zM1515 1047l2 7 -1 5 -3 -5zM1539 1052l2 7 -1 4 -2 -4zM1564 1051l2 7 -1 4 -2 -4zM1588 1051l2 7 -1 4 -2 -4zM1612 1051l2 7 -1 4 -2 -4zM1637 1051l2 7 -1 4 -2 -4zM1661 1051l2 7 -1 4 -2 -4zM1686 1047l2 7 -1 5 -3 -5zM1711 1057l1 4 -1 3 -2 -3zM1736 1057l1 4 -1 3 -2 -3zM1825 1059l5 2 3 3 -4 0zM266 1077l3 7 -1 4 -2 -4zM290 1078l3 6 -1 4 -3 -4zM315 1078l3 6 -1 4 -3 -4zM339 1078l3 6 -1 4 -3 -4zM362 1074l3 7 -1 5 -2 -4zM388 1074l3 7 -2 5 -2 -4zM412 1074l3 7 -2 5 -2 -4zM437 1076l3 7 -1 4 -3 -4zM458 1064l4 9 -1 6 -4 -5zM484 1060l4 9 -2 6 -3 -5zM504 1046l5 11 -2 8 -5 -7zM531 1040l5 12 -3 8 -5 -7zM555 1057l5 10 -2 6 -4 -5zM580 1060l5 9 -2 6 -4 -5zM606 1063l4 8 -2 6 -4 -5zM631 1059l4 10 -2 6 -3 -6zM654 1064l4 9 -1 6 -3 -5zM680 1063l4 8 -2 6 -3 -5zM704 1064l4 9 -2 6 -3 -5zM727 1063l5 8 -2 6 -3 -5zM752 1064l4 9 -1 6 -4 -5zM776 1066l4 8 -1 6 -4 -5zM804 1076l3 7 -1 4 -3 -4zM827 1076l3 7 -1 4 -2 -4zM851 1074l4 7 -1 5 -3 -4zM874 1064l4 9 -1 6 -4 -5zM896 1063l5 9 -1 6 -4 -5zM920 1060l6 9 -2 6 -4 -5zM947 1068l5 8 -1 5 -4 -4zM965 1044l7 11 -2 8 -6 -6zM987 1038l7 12 -1 9 -6 -7zM1012 1042l8 11 -2 9 -6 -7zM1043 1058l5 9 -1 6 -4 -5zM1066 1058l6 9 -2 7 -4 -6zM1083 1038l8 12 -1 9 -7 -7zM1115 1064l6 8 -1 6 -4 -5zM1145 1076l4 7 -1 4 -3 -3zM1170 1078l3 6 0 4 -3 -3zM1195 1076l3 7 -1 4 -3 -4zM1219 1074l3 7 -1 5 -2 -4zM1243 1072l4 7 -2 5 -3 -4zM1270 1080l2 5 -1 3 -2 -3zM1294 1074l2 7 -1 5 -3 -4zM1319 1076l2 7 -1 4 -2 -4zM1344 1080l1 5 -1 3 -2 -3zM1368 1074l2 7 -1 5 -2 -4zM1393 1064l2 9 -2 5 -3 -5zM1416 1064l3 9 -2 6 -3 -6zM1441 1064l3 9 -3 5 -2 -5zM1467 1064l2 9 -2 5 -3 -5zM1490 1064l3 9 -2 5 -3 -5zM1515 1067l3 9 -2 5 -3 -5zM1539 1076l3 7 -2 4 -2 -4zM1564 1072l2 7 -1 5 -3 -5zM1588 1072l3 7 -2 5 -2 -5zM1613 1074l2 7 -2 5 -2 -5zM1637 1074l2 7 -1 5 -3 -4zM1662 1076l2 7 -2 4 -2 -4zM1686 1076l2 7 -1 4 -2 -4zM1710 1082l2 4 -1 3 -2 -3zM1736 1082l1 4 -1 3 -2 -3zM1809 1082l1 4 -1 3 -2 -3zM1824 1085l6 1 3 3 -4 0zM266 1100l3 7 -1 4 -3 -4zM289 1100l4 7 -1 4 -3 -4zM314 1098l3 7 -1 5 -3 -4zM339 1101l3 7 -1 4 -3 -4zM361 1096l4 7 -1 5 -3 -4zM387 1096l3 7 -1 5 -3 -4zM411 1098l3 7 -1 5 -3 -4zM436 1096l3 7 -1 5 -3 -4zM457 1089l5 8 -2 6 -3 -5zM477 1064l7 12 -2 9 -6 -7zM502 1065l6 12 -2 8 -5 -7zM528 1063l6 12 -2 8 -5 -7zM551 1069l6 11 -2 8 -5 -7zM576 1069l6 11 -2 8 -5 -6zM605 1084l4 9 -1 6 -4 -5zM631 1084l4 9 -2 6 -4 -5zM655 1087l4 8 -2 6 -3 -5zM679 1090l4 8 -1 6 -3 -5zM702 1089l5 8 -1 6 -4 -5zM728 1087l5 8 -2 6 -4 -5zM752 1088l4 9 -1 6 -4 -5zM778 1098l3 7 -1 5 -2 -4zM802 1096l3 7 0 5 -4 -4zM826 1098l4 7 -1 5 -3 -4zM850 1092l4 7 -1 6 -3 -5zM873 1087l5 8 -2 6 -3 -5zM895 1082l5 9 -1 7 -4 -6zM915 1072l7 10 -2 8 -5 -6zM945 1084l5 9 -1 6 -4 -5zM970 1087l5 8 -1 7 -4 -5zM993 1084l6 9 -1 7 -5 -5zM1018 1084l5 9 -1 6 -4 -5zM1043 1087l5 8 -1 7 -4 -5zM1068 1084l5 9 -2 6 -4 -5zM1090 1082l6 9 -1 7 -5 -5zM1116 1084l5 9 -1 6 -4 -5zM1142 1089l5 8 -1 6 -4 -5zM1171 1104l3 5 -1 3 -3 -2zM1191 1087l4 8 -1 6 -4 -4zM1217 1093l4 8 -1 5 -3 -4zM1244 1100l3 7 -1 4 -3 -4zM1270 1100l2 7 -1 4 -2 -4zM1294 1101l2 7 -1 4 -2 -4zM1319 1101l2 7 -1 4 -2 -4zM1344 1100l2 7 -2 4 -2 -4zM1368 1096l3 7 -2 5 -3 -5zM1393 1090l2 8 -2 6 -3 -6zM1417 1088l3 9 -2 5 -3 -5zM1440 1086l3 9 -2 6 -3 -5zM1466 1086l3 9 -2 6 -3 -5zM1490 1088l3 9 -3 5 -2 -5zM1516 1090l2 8 -2 6 -2 -6zM1538 1088l3 9 -2 6 -3 -6zM1565 1088l2 9 -2 5 -3 -5zM1587 1093l3 8 -2 5 -2 -5zM1611 1093l3 8 -2 5 -2 -5zM1637 1096l2 7 -1 5 -3 -4zM1661 1100l3 7 -2 4 -2 -4zM1687 1106l1 4 -1 3 -2 -3zM1824 1108l6 2 3 3 -4 0zM265 1124l3 7 -1 4 -2 -3zM289 1124l3 7 -1 4 -2 -4zM313 1120l4 7 -1 5 -3 -4zM340 1130l2 4 -1 3 -2 -2zM361 1117l4 8 -1 5 -4 -5zM385 1112l4 9 -1 6 -4 -5zM410 1122l4 7 -1 5 -3 -4zM436 1124l3 7 -1 4 -2 -3zM458 1111l4 8 -1 6 -4 -5zM479 1084l6 12 -3 9 -5 -7zM499 1088l7 12 -1 9 -6 -7zM525 1091l7 11 -2 9 -5 -7zM552 1087l7 12 -3 9 -5 -8zM577 1091l6 11 -3 9 -5 -7zM604 1105l5 10 -2 6 -4 -5zM628 1105l5 10 -2 6 -4 -5zM654 1111l5 8 -2 6 -4 -5zM678 1111l5 8 -2 6 -4 -5zM703 1111l4 8 -1 6 -4 -5zM728 1105l5 10 -2 6 -4 -6zM753 1120l4 7 -1 5 -3 -4zM777 1117l4 8 -1 5 -3 -5zM800 1111l4 8 -1 6 -4 -4zM823 1113l5 8 -1 6 -4 -5zM848 1111l5 8 -1 7 -4 -5zM871 1108l5 9 -1 6 -4 -5zM897 1108l5 9 -1 6 -5 -5zM916 1089l7 12 -2 8 -6 -6zM940 1088l7 11 -2 9 -6 -6zM969 1111l5 9 -1 6 -4 -5zM995 1113l5 8 -1 6 -4 -5zM1020 1116l5 8 -1 5 -4 -4zM1045 1117l5 8 -1 5 -4 -4zM1069 1113l5 8 -2 6 -3 -5zM1087 1094l7 10 -2 9 -5 -6zM1111 1092l7 11 -2 8 -5 -6zM1142 1111l5 8 -1 7 -4 -5zM1170 1122l3 7 -1 5 -3 -4zM1190 1093l6 11 -3 8 -5 -7zM1219 1122l3 7 -1 5 -3 -4zM1245 1125l2 7 -1 4 -2 -4zM1269 1124l3 7 -1 4 -3 -4zM1294 1125l2 7 -1 4 -2 -4zM1320 1125l2 7 -2 4 -2 -4zM1343 1117l3 8 -2 5 -3 -5zM1368 1110l3 9 -2 6 -3 -5zM1392 1110l3 9 -3 6 -3 -5zM1417 1114l3 8 -2 6 -3 -5zM1441 1110l3 9 -2 6 -3 -5zM1467 1110l2 9 -2 6 -3 -5zM1490 1114l3 8 -2 6 -3 -6zM1516 1112l2 9 -2 5 -3 -5zM1540 1112l3 9 -3 5 -2 -5zM1565 1112l2 9 -2 5 -3 -5zM1588 1117l2 8 -1 5 -3 -5zM1612 1112l3 9 -2 5 -3 -5zM1637 1115l2 9 -2 5 -2 -5zM1662 1128l2 5 -2 3 -2 -3zM1686 1128l2 5 -1 3 -2 -3zM1711 1130l1 4 -1 3 -2 -3zM1824 1133l6 1 3 3 -4 0zM265 1149l3 7 -1 4 -2 -4zM286 1133l4 9 -1 6 -4 -5zM314 1145l3 7 -1 5 -3 -4zM334 1133l5 9 -1 6 -4 -5zM354 1114l7 12 -2 8 -6 -7zM383 1136l5 8 -1 7 -4 -5zM433 1136l4 8 -1 7 -4 -5zM452 1118l6 11 -1 8 -6 -7zM475 1111l7 12 -2 9 -6 -7zM503 1119l6 11 -2 8 -5 -6zM523 1114l8 11 -2 9 -6 -7zM551 1120l6 10 -2 8 -5 -6zM573 1112l7 12 -2 9 -6 -7zM598 1116l7 11 -2 9 -5 -7zM623 1115l7 11 -2 9 -6 -7zM654 1133l4 9 -1 6 -4 -5zM677 1136l5 8 -1 7 -4 -5zM702 1133l5 9 -2 6 -4 -5zM727 1133l5 9 -2 6 -4 -5zM753 1137l4 9 -2 6 -3 -5zM776 1139l4 8 -1 6 -3 -5zM800 1138l4 8 -1 6 -4 -5zM823 1136l5 8 -1 7 -4 -5zM844 1119l7 10 -2 8 -6 -6zM872 1133l5 9 -2 6 -4 -5zM897 1136l5 8 -1 7 -4 -5zM915 1118l7 11 -1 8 -6 -6zM934 1110l9 12 -1 9 -7 -6zM967 1131l6 9 -1 7 -5 -5zM995 1138l5 8 -1 6 -4 -5zM1020 1139l4 8 -1 6 -3 -4zM1045 1141l4 8 0 5 -4 -4zM1068 1138l5 8 -1 6 -4 -5zM1087 1112l7 11 -2 9 -6 -7zM1113 1118l7 11 -2 8 -5 -6zM1137 1110l7 12 -2 9 -6 -7zM1169 1136l4 8 -2 6 -3 -5zM1221 1153l2 5 -1 3 -2 -3zM1245 1153l2 5 -1 3 -2 -3zM1270 1155l2 4 -1 3 -2 -3zM1318 1140l3 8 -2 6 -3 -5zM1343 1132l3 10 -3 6 -3 -6zM1367 1135l3 9 -2 6 -3 -5zM1391 1137l3 9 -2 6 -3 -6zM1416 1139l3 8 -2 6 -3 -5zM1441 1140l2 9 -2 5 -2 -5zM1466 1142l2 8 -2 5 -2 -5zM1490 1142l3 8 -2 5 -3 -5zM1515 1137l3 9 -2 5 -3 -5zM1540 1135l2 9 -2 6 -3 -5zM1564 1139l3 8 -2 6 -3 -5zM1588 1139l3 8 -2 6 -3 -5zM1612 1142l3 8 -2 5 -3 -5zM1638 1140l2 9 -2 5 -2 -5zM1661 1147l2 7 -1 5 -2 -4zM1809 1155l1 4 -1 3 -1 -3zM1824 1158l6 1 3 3 -4 0zM262 1162l5 8 -2 6 -3 -5zM285 1157l5 9 -1 6 -4 -5zM309 1155l5 9 -1 6 -5 -5zM333 1154l6 10 -2 6 -4 -5zM351 1139l7 11 -1 9 -6 -7zM376 1137l7 11 -1 9 -6 -7zM410 1169l3 7 0 5 -4 -4zM431 1157l5 9 -1 7 -4 -5zM449 1135l7 12 -1 9 -7 -7zM473 1134l8 12 -2 9 -7 -7zM502 1139l6 12 -2 8 -5 -7zM523 1137l7 12 -2 8 -6 -6zM549 1140l7 12 -2 8 -6 -7zM572 1135l7 12 -2 9 -6 -7zM600 1144l6 11 -2 8 -5 -7zM626 1144l6 11 -2 7 -5 -6zM651 1155l5 9 -1 7 -5 -6zM678 1160l5 8 -2 6 -3 -5zM702 1160l4 8 -1 6 -4 -4zM727 1157l4 9 -1 6 -4 -5zM752 1160l4 8 -2 6 -3 -5zM775 1157l5 9 -2 6 -4 -5zM800 1160l4 8 -1 6 -4 -4zM821 1157l6 9 -1 7 -4 -5zM847 1157l5 9 -1 6 -4 -4zM868 1141l6 11 -2 8 -5 -6zM890 1142l7 11 -1 8 -6 -6zM918 1155l6 9 -1 7 -5 -5zM936 1138l8 11 -1 9 -6 -7zM969 1157l5 9 -1 6 -4 -5zM993 1158l6 8 -1 7 -5 -5zM1021 1163l4 8 -1 6 -4 -5zM1044 1162l5 8 -1 6 -4 -5zM1070 1161l4 9 -1 6 -4 -5zM1095 1161l4 9 -1 6 -4 -5zM1121 1173l3 7 -1 4 -2 -4zM1145 1163l4 8 -2 6 -3 -5zM1171 1174l3 7 -1 4 -3 -4zM1195 1175l3 6 -1 4 -3 -4zM1244 1177l3 5 -1 3 -2 -3zM1270 1174l2 7 -1 4 -2 -4zM1293 1163l3 8 -2 6 -3 -5zM1315 1132l5 13 -3 9 -5 -8zM1341 1131l5 14 -4 8 -4 -8zM1367 1133l5 13 -4 9 -5 -8zM1391 1159l3 9 -2 6 -3 -5zM1418 1163l2 8 -2 6 -2 -6zM1442 1164l2 9 -2 5 -2 -5zM1466 1173l2 7 -1 4 -2 -4zM1491 1177l2 5 -2 3 -2 -3zM1515 1169l3 7 -2 5 -2 -5zM1540 1161l3 9 -3 5 -2 -5zM1565 1166l2 8 -2 5 -2 -5zM1590 1163l2 8 -3 6 -2 -6zM1613 1171l2 7 -2 5 -2 -5zM1637 1171l3 7 -2 5 -2 -5zM1662 1164l2 9 -2 5 -2 -5zM1825 1181l5 2 3 3 -4 0zM260 1187l5 8 0 6 -5 -4zM279 1166l7 10 -2 9 -6 -6zM304 1162l7 12 -2 8 -6 -6zM327 1164l7 11 -1 8 -6 -6zM356 1183l5 8 0 7 -5 -5zM383 1185l5 8 -1 7 -4 -5zM408 1190l5 8 -1 5 -4 -4zM432 1189l5 7 -1 6 -4 -4zM456 1182l5 9 -1 6 -4 -5zM473 1160l8 12 -2 9 -6 -7zM499 1163l7 11 -2 9 -5 -7zM522 1161l7 12 -1 9 -7 -7zM546 1161l8 12 -2 9 -6 -7zM576 1169l6 10 -2 8 -5 -6zM597 1168l7 11 -1 8 -6 -6zM624 1158l7 13 -3 9 -6 -8zM647 1162l7 12 -2 9 -6 -7zM680 1190l4 7 -2 6 -3 -5zM704 1194l4 7 -1 5 -3 -4zM726 1182l5 9 -1 6 -5 -5zM750 1182l5 9 -1 6 -4 -5zM769 1166l7 11 -2 8 -5 -6zM799 1182l5 9 -1 6 -4 -5zM823 1187l5 8 -1 6 -4 -5zM848 1187l5 8 -1 6 -4 -5zM870 1186l6 8 -1 6 -4 -5zM896 1185l5 9 -1 6 -4 -5zM918 1183l6 8 -1 7 -4 -5zM946 1189l5 7 -1 6 -4 -4zM968 1180l6 9 -2 7 -4 -6zM987 1159l7 11 -1 10 -7 -7zM1023 1202l3 5 0 4 -3 -3zM1047 1194l4 7 -1 5 -3 -4zM1071 1191l4 8 -1 5 -4 -5zM1095 1190l4 7 -1 6 -3 -5zM1121 1200l3 6 0 4 -3 -4zM1146 1196l3 7 -1 5 -3 -4zM1171 1196l3 7 -2 5 -2 -4zM1196 1199l2 7 -1 4 -2 -4zM1220 1198l3 7 -1 4 -3 -4zM1244 1196l3 7 -2 5 -2 -4zM1269 1191l3 8 -2 5 -2 -5zM1294 1202l2 5 -1 3 -2 -3zM1317 1166l4 12 -3 8 -4 -8zM1343 1179l3 10 -3 6 -3 -6zM1368 1184l3 9 -3 6 -3 -5zM1392 1184l3 9 -3 6 -3 -5zM1416 1191l3 8 -2 5 -2 -5zM1441 1194l2 7 -1 5 -3 -4zM1467 1204l1 4 -1 3 -1 -3zM1491 1199l2 7 -2 4 -2 -4zM1515 1199l2 7 -1 4 -2 -4zM1541 1191l2 8 -3 5 -2 -5zM1565 1191l2 8 -2 5 -2 -5zM1589 1196l2 7 -2 5 -2 -5zM1613 1204l2 4 -2 3 -1 -3zM1638 1202l2 5 -2 3 -1 -3zM1662 1198l2 7 -2 4 -2 -4zM1687 1204l2 4 -2 3 -1 -3zM1711 1204l1 4 -1 3 -2 -3zM1824 1207l6 1 3 3 -4 0zM253 1187l8 11 -2 9 -6 -7zM281 1190l6 11 -2 8 -5 -6zM303 1185l7 11 -1 9 -7 -6zM333 1206l5 9 -1 7 -4 -5zM357 1209l5 9 -1 6 -4 -5zM383 1211l5 8 -1 6 -4 -5zM409 1218l4 7 0 5 -4 -4zM435 1220l4 7 -1 5 -3 -4zM455 1209l5 9 -1 6 -4 -5zM476 1187l7 12 -2 8 -6 -6zM500 1186l7 12 -2 8 -6 -7zM525 1184l7 12 -2 9 -6 -7zM547 1184l7 12 -1 9 -7 -7zM572 1190l7 11 -1 8 -6 -6zM600 1190l6 11 -2 8 -5 -6zM624 1192l7 11 -2 8 -5 -6zM652 1209l5 8 -1 7 -4 -5zM681 1222l3 7 -1 4 -2 -3zM705 1220l3 7 -1 5 -3 -4zM726 1209l5 8 -1 7 -4 -5zM751 1206l5 9 -2 6 -4 -5zM775 1206l4 9 -1 6 -4 -5zM799 1206l5 9 -2 6 -4 -5zM821 1206l6 9 -1 7 -5 -5zM849 1215l5 8 -1 5 -4 -4zM874 1218l4 7 -1 5 -3 -4zM899 1221l4 6 0 5 -3 -4zM924 1221l4 6 -1 5 -3 -4zM948 1221l4 6 0 5 -3 -4zM968 1204l5 9 -1 7 -4 -6zM996 1211l5 8 -2 6 -3 -5zM1023 1222l3 7 -1 4 -2 -4zM1048 1222l3 7 -1 4 -2 -3zM1072 1222l3 7 0 4 -3 -4zM1096 1213l4 8 -1 6 -4 -5zM1119 1210l4 9 -1 6 -4 -5zM1147 1226l3 5 -1 3 -2 -3zM1170 1218l3 7 -1 5 -3 -4zM1194 1215l3 8 -1 5 -3 -5zM1219 1215l3 8 -1 5 -3 -5zM1244 1208l3 9 -2 6 -3 -5zM1269 1213l3 8 -2 6 -3 -5zM1293 1210l3 9 -2 6 -3 -6zM1319 1222l2 7 -1 4 -2 -4zM1342 1210l3 9 -2 6 -3 -6zM1366 1208l4 9 -2 6 -3 -5zM1391 1208l3 9 -2 6 -3 -5zM1417 1222l2 7 -1 4 -2 -4zM1442 1222l2 7 -2 4 -2 -4zM1467 1228l1 4 -1 3 -2 -3zM1491 1226l2 5 -2 3 -2 -3zM1516 1223l2 7 -2 4 -2 -4zM1540 1222l2 7 -2 4 -2 -4zM1589 1228l2 4 -2 3 -1 -3zM1687 1226l1 5 -1 3 -2 -3zM1711 1226l1 5 -1 3 -2 -3zM1736 1228l1 4 -1 3 -2 -3zM1760 1228l1 4 -1 3 -2 -3zM1825 1230l5 2 3 3 -4 0zM260 1234l5 9 -1 6 -4 -5zM277 1211l8 11 -2 9 -6 -7zM306 1215l6 11 -2 8 -5 -6zM332 1232l6 8 -1 7 -5 -5zM356 1232l5 8 -1 7 -4 -5zM382 1231l5 9 -1 6 -4 -5zM410 1247l4 7 -1 4 -3 -3zM436 1251l3 5 0 3 -3 -2zM457 1237l5 8 -1 6 -4 -5zM472 1211l8 12 -1 8 -7 -6zM499 1209l7 12 -2 9 -6 -7zM528 1231l6 9 -1 7 -4 -5zM548 1218l7 10 -1 8 -6 -6zM576 1214l6 11 -2 9 -5 -7zM599 1211l7 11 -3 9 -5 -7zM626 1215l6 11 -2 8 -6 -7zM653 1234l4 8 -1 6 -4 -4zM679 1240l4 8 -1 5 -3 -4zM702 1239l5 7 -1 6 -4 -4zM729 1240l4 8 -1 5 -3 -5zM750 1234l5 8 -1 7 -4 -5zM776 1234l4 8 -1 6 -4 -5zM801 1235l4 9 -1 6 -4 -5zM826 1245l4 7 -1 5 -3 -4zM851 1243l4 7 -1 5 -3 -4zM875 1245l4 7 -1 5 -3 -4zM900 1247l4 7 -1 4 -3 -3zM924 1245l4 7 -1 5 -3 -4zM948 1243l4 7 -1 5 -3 -4zM970 1231l5 9 -1 6 -4 -5zM995 1234l5 8 -1 7 -4 -5zM1020 1236l4 8 -1 6 -3 -5zM1046 1239l4 7 -1 6 -3 -5zM1071 1235l4 9 -2 6 -3 -6zM1095 1237l4 8 -1 6 -3 -5zM1122 1245l3 7 -1 5 -3 -4zM1145 1234l4 8 -2 6 -3 -5zM1169 1233l4 9 -2 6 -3 -5zM1195 1235l3 9 -2 6 -3 -6zM1218 1233l4 9 -2 6 -3 -5zM1243 1235l3 9 -2 6 -3 -6zM1268 1235l4 9 -2 6 -3 -6zM1293 1237l3 8 -2 6 -3 -5zM1317 1230l4 10 -2 6 -4 -6zM1391 1235l3 9 -2 6 -3 -6zM1415 1230l4 10 -2 6 -4 -6zM1441 1243l2 7 -1 5 -3 -5zM1516 1251l1 5 -1 3 -2 -3zM1565 1253l1 4 -1 3 -1 -3zM1589 1253l2 4 -2 3 -1 -3zM1613 1253l1 4 -1 3 -1 -3zM1687 1251l2 5 -2 3 -2 -3zM1711 1253l2 4 -2 3 -1 -3zM1809 1253l2 4 -2 3 -1 -3zM1824 1256l6 1 3 3 -4 0zM264 1273l4 6 -1 4 -2 -3zM285 1260l5 8 -1 6 -4 -5zM303 1241l7 10 -1 8 -6 -6zM329 1240l7 11 -2 8 -5 -6zM350 1237l8 11 -2 8 -6 -6zM382 1262l5 7 0 6 -4 -4zM409 1270l4 6 0 5 -3 -4zM437 1277l2 4 0 3 -3 -2zM456 1263l5 8 -1 5 -4 -4zM479 1256l6 8 -1 7 -5 -5zM504 1258l5 9 -1 6 -4 -5zM531 1258l4 8 -1 6 -4 -4zM551 1240l6 11 -2 8 -5 -7zM571 1233l8 11 -2 9 -6 -6zM599 1235l6 11 -2 9 -5 -7zM628 1252l5 10 -2 6 -4 -5zM653 1255l4 9 -1 6 -4 -5zM678 1260l4 8 -1 6 -3 -5zM701 1258l5 8 -1 7 -4 -5zM727 1255l5 9 -2 6 -4 -5zM752 1258l4 8 -1 6 -4 -5zM776 1259l4 9 -1 6 -4 -5zM801 1263l4 7 -1 6 -3 -5zM826 1269l4 7 -1 5 -3 -4zM851 1269l4 7 -1 5 -3 -4zM876 1271l3 7 -1 4 -2 -4zM901 1269l3 7 -1 5 -3 -4zM925 1271l3 7 -1 4 -2 -4zM949 1264l4 8 -2 5 -3 -4zM966 1233l6 12 -2 9 -6 -7zM989 1231l7 12 -2 9 -6 -7zM1016 1232l6 13 -2 8 -6 -7zM1045 1255l4 9 -1 6 -4 -5zM1072 1261l3 8 -1 6 -4 -5zM1097 1257l3 9 -2 6 -3 -5zM1122 1269l3 7 -2 5 -2 -4zM1145 1257l4 9 -2 6 -3 -5zM1170 1257l4 9 -2 6 -3 -5zM1194 1252l4 10 -3 6 -3 -6zM1220 1254l3 10 -2 6 -3 -6zM1242 1259l4 9 -2 6 -3 -5zM1268 1261l4 8 -2 6 -3 -5zM1291 1259l4 9 -2 6 -3 -6zM1315 1229l6 14 -4 8 -5 -8zM1368 1271l2 7 -1 4 -2 -4zM1388 1231l5 13 -3 9 -5 -8zM1418 1239l3 12 -3 8 -4 -8zM1442 1261l2 8 -2 6 -3 -6zM1466 1259l3 9 -2 5 -3 -5zM1491 1267l2 7 -2 5 -2 -5zM1517 1271l1 7 -2 4 -2 -4zM1540 1271l2 7 -2 4 -2 -4zM1565 1271l2 7 -2 4 -2 -4zM1589 1272l2 7 -2 4 -2 -4zM1614 1272l1 7 -2 4 -1 -4zM1638 1277l1 4 -1 3 -2 -3zM1809 1275l2 5 -2 3 -2 -3zM1825 1279l5 2 3 3 -4 0zM265 1298l3 6 -1 4 -2 -3zM285 1288l5 8 -1 5 -4 -4zM308 1278l5 9 -1 7 -4 -6zM328 1267l7 10 -2 8 -5 -6zM353 1266l7 11 -2 8 -5 -6zM382 1283l5 8 -1 7 -4 -5zM409 1295l4 6 0 5 -3 -4zM437 1302l2 4 0 3 -2 -2zM456 1288l5 8 -1 5 -3 -4zM477 1262l6 11 -2 9 -5 -7zM500 1259l7 12 -2 8 -6 -7zM524 1262l7 11 -1 9 -6 -7zM552 1278l6 9 -2 7 -4 -6zM574 1259l7 12 -2 8 -6 -7zM603 1285l5 8 -1 6 -4 -5zM627 1280l5 9 -1 6 -4 -5zM652 1280l5 9 -1 6 -5 -5zM678 1280l5 9 -2 6 -4 -5zM701 1283l5 8 -1 7 -4 -5zM726 1280l5 9 -1 6 -4 -5zM749 1266l5 11 -2 8 -5 -7zM771 1255l6 13 -2 9 -6 -8zM800 1280l5 9 -2 6 -4 -5zM826 1294l4 7 -1 5 -3 -4zM852 1296l3 7 -1 4 -2 -3zM877 1302l3 4 -1 3 -2 -2zM900 1294l4 7 -1 5 -3 -4zM922 1277l5 10 -2 6 -4 -5zM951 1296l3 7 -1 4 -3 -4zM973 1294l4 7 -1 5 -3 -4zM999 1296l3 7 -1 4 -2 -4zM1020 1266l5 11 -2 8 -5 -7zM1042 1264l6 11 -2 8 -6 -6zM1073 1292l3 7 -2 5 -2 -4zM1097 1292l3 7 -1 5 -3 -4zM1119 1280l4 9 -2 6 -3 -5zM1145 1282l4 9 -2 6 -3 -5zM1169 1283l4 8 -2 6 -3 -5zM1194 1277l4 10 -3 6 -3 -6zM1219 1264l4 12 -3 8 -4 -7zM1242 1279l4 10 -2 6 -3 -6zM1269 1279l3 10 -2 6 -3 -6zM1289 1255l5 13 -3 8 -5 -7zM1315 1264l5 12 -3 7 -5 -6zM1340 1264l5 12 -3 8 -4 -7zM1368 1282l3 9 -2 6 -3 -5zM1390 1277l4 10 -2 6 -4 -6zM1413 1256l6 13 -4 8 -5 -8zM1442 1279l3 10 -3 6 -3 -6zM1465 1284l4 9 -3 6 -2 -6zM1490 1282l3 9 -2 6 -3 -5zM1515 1284l3 9 -2 5 -3 -5zM1540 1294l2 7 -2 5 -2 -5zM1565 1296l2 7 -2 4 -2 -4zM1589 1297l2 7 -2 4 -2 -4zM1613 1296l2 7 -2 4 -2 -4zM1711 1302l2 4 -2 3 -1 -3zM1736 1302l1 4 -1 3 -1 -3zM1809 1300l2 5 -2 3 -1 -3zM1824 1305l6 1 3 3 -4 0zM264 1322l4 6 -1 4 -3 -3zM287 1316l4 7 -1 5 -3 -4zM309 1304l5 9 -1 6 -4 -5zM331 1302l6 9 -1 7 -5 -5zM357 1304l5 9 -1 6 -4 -5zM381 1304l6 9 -1 7 -5 -5zM409 1316l4 7 0 5 -4 -4zM436 1326l3 4 0 3 -3 -2zM456 1309l5 8 -1 6 -4 -5zM477 1287l6 11 -2 9 -5 -7zM496 1284l8 11 -1 9 -7 -7zM525 1281l7 12 -2 9 -6 -7zM549 1287l7 11 -2 9 -5 -7zM574 1282l7 12 -2 9 -6 -7zM602 1304l5 9 -1 6 -4 -5zM626 1302l5 9 -1 7 -4 -6zM649 1282l6 12 -2 9 -6 -8zM678 1301l5 10 -2 6 -4 -5zM703 1308l4 9 -1 6 -4 -5zM727 1309l5 8 -2 6 -3 -5zM746 1284l7 12 -2 8 -6 -7zM771 1286l7 11 -3 8 -5 -6zM799 1304l5 9 -1 6 -4 -5zM824 1307l5 8 -2 6 -4 -5zM852 1320l3 7 -1 4 -2 -3zM877 1324l2 5 0 3 -3 -2zM901 1320l3 7 -1 4 -2 -4zM924 1318l4 7 -1 5 -3 -4zM950 1318l3 7 -1 5 -3 -4zM975 1326l3 4 -1 3 -2 -2zM1021 1308l5 9 -2 6 -3 -5zM1047 1311l4 8 -2 6 -3 -5zM1074 1326l2 4 -1 3 -2 -3zM1098 1324l3 5 -1 3 -2 -3zM1121 1306l4 9 -2 6 -3 -5zM1144 1304l5 9 -2 6 -4 -5zM1167 1285l5 12 -3 8 -4 -7zM1194 1301l4 10 -2 6 -4 -6zM1219 1303l4 10 -2 6 -4 -6zM1243 1303l4 10 -2 6 -4 -6zM1269 1303l3 10 -2 6 -3 -6zM1293 1301l4 10 -3 6 -3 -6zM1314 1285l5 12 -3 8 -5 -7zM1341 1303l4 10 -2 6 -4 -6zM1364 1279l5 13 -3 9 -5 -8zM1387 1280l6 13 -3 9 -5 -8zM1416 1281l5 13 -4 8 -4 -8zM1441 1287l4 12 -4 8 -4 -8zM1467 1308l3 9 -3 5 -2 -5zM1491 1308l3 9 -3 5 -2 -5zM1515 1310l3 8 -2 6 -3 -6zM1539 1313l3 8 -2 5 -3 -5zM1565 1324l2 5 -2 3 -2 -3zM1589 1320l2 7 -2 4 -2 -4zM1613 1321l2 7 -2 4 -2 -4zM1809 1326l2 4 -2 3 -1 -3zM1824 1329l6 1 3 3 -4 0zM264 1346l4 6 -1 4 -3 -3zM288 1343l4 6 -1 5 -3 -4zM308 1329l5 8 -1 7 -4 -5zM332 1332l6 8 -1 6 -4 -5zM357 1332l5 8 -1 6 -4 -5zM381 1332l5 8 0 6 -5 -5zM405 1328l6 9 -1 7 -5 -5zM431 1335l5 7 0 6 -4 -4zM455 1333l5 8 0 6 -4 -5zM479 1332l6 8 -1 6 -4 -5zM501 1314l6 11 -1 8 -6 -6zM523 1313l7 10 -1 9 -6 -6zM551 1315l6 11 -2 8 -5 -7zM571 1308l7 11 -1 9 -6 -7zM604 1333l5 8 -1 6 -4 -5zM629 1331l4 8 -1 7 -4 -5zM646 1307l7 12 -2 9 -6 -7zM671 1307l7 11 -2 9 -6 -7zM702 1328l5 9 -2 6 -4 -5zM727 1325l4 10 -1 6 -4 -5zM747 1315l6 11 -2 7 -5 -6zM773 1312l5 12 -2 8 -5 -7zM799 1331l5 8 -1 7 -4 -5zM824 1328l4 9 -1 6 -4 -5zM850 1331l4 8 -2 6 -3 -5zM903 1350l2 4 -1 3 -2 -2zM925 1344l3 7 -1 4 -2 -4zM951 1342l3 7 -2 5 -2 -4zM975 1344l3 7 -1 4 -3 -4zM999 1332l4 9 -2 6 -3 -6zM1023 1332l4 9 -2 6 -3 -6zM1049 1344l3 7 -1 4 -3 -4zM1074 1345l2 7 -1 4 -2 -4zM1099 1345l2 7 -1 4 -2 -4zM1122 1342l3 7 -1 5 -3 -4zM1147 1342l3 7 -2 5 -2 -4zM1170 1330l3 9 -1 6 -4 -5zM1194 1325l4 10 -2 6 -4 -6zM1219 1330l3 9 -2 6 -3 -5zM1244 1330l3 9 -2 6 -3 -5zM1269 1330l4 9 -3 6 -3 -5zM1293 1335l3 8 -2 6 -2 -5zM1318 1330l3 9 -2 6 -3 -5zM1341 1327l4 10 -2 6 -4 -6zM1365 1309l5 12 -4 8 -4 -7zM1389 1313l4 12 -3 7 -4 -7zM1414 1310l5 12 -3 8 -5 -7zM1439 1314l4 11 -3 8 -4 -7zM1467 1330l3 9 -3 6 -3 -6zM1490 1332l3 9 -3 5 -2 -5zM1515 1332l3 9 -2 5 -3 -5zM1540 1332l2 9 -2 5 -3 -5zM1565 1345l2 7 -2 4 -2 -4zM1590 1345l1 7 -2 4 -1 -4zM1613 1348l2 5 -2 3 -1 -3zM1662 1350l2 4 -2 3 -1 -3zM1824 1353l6 1 3 3 -4 0zM264 1369l4 7 -1 4 -3 -3zM287 1368l4 6 0 5 -4 -4zM308 1357l6 8 -1 6 -4 -5zM333 1356l5 9 -1 6 -4 -5zM358 1356l5 8 -1 7 -4 -5zM383 1356l5 8 -1 7 -4 -5zM404 1354l6 8 -1 7 -4 -5zM431 1353l5 9 -1 6 -4 -5zM455 1358l5 8 -1 6 -4 -4zM481 1358l5 8 -1 6 -4 -5zM503 1354l6 8 -1 7 -5 -5zM524 1339l7 11 -2 8 -5 -6zM550 1337l6 11 -2 9 -5 -7zM579 1356l5 8 -1 7 -4 -5zM604 1356l5 8 -2 6 -3 -5zM628 1353l5 9 -1 6 -4 -5zM651 1353l5 9 -1 6 -4 -5zM678 1356l5 8 -2 6 -3 -5zM702 1353l4 9 -1 6 -4 -5zM725 1351l5 9 -1 6 -4 -5zM749 1337l6 11 -3 8 -5 -6zM772 1337l6 11 -2 9 -5 -7zM796 1336l6 11 -2 8 -5 -6zM819 1334l7 12 -2 8 -6 -6zM851 1355l4 9 -2 6 -3 -5zM874 1357l4 9 -1 6 -4 -5zM900 1365l4 7 -1 5 -3 -4zM926 1369l3 7 -1 4 -3 -4zM952 1370l2 7 -1 4 -2 -4zM975 1365l3 7 -2 5 -2 -4zM1000 1362l3 8 -2 5 -3 -5zM1023 1357l3 9 -1 6 -4 -6zM1047 1357l4 9 -2 6 -3 -6zM1073 1362l3 8 -2 5 -2 -5zM1099 1365l2 7 -1 5 -3 -5zM1122 1365l3 7 -2 5 -2 -4zM1148 1367l2 7 -1 5 -2 -4zM1172 1369l2 7 -1 4 -2 -4zM1195 1355l3 9 -2 6 -3 -5zM1221 1373l2 5 -1 3 -2 -3zM1270 1369l2 7 -1 4 -2 -4zM1294 1370l2 7 -1 4 -2 -4zM1318 1369l3 7 -1 4 -3 -4zM1342 1355l3 9 -2 6 -3 -5zM1368 1350l3 10 -3 6 -3 -6zM1392 1350l3 10 -3 6 -3 -6zM1415 1330l5 13 -4 8 -4 -7zM1438 1329l5 13 -4 8 -4 -8zM1465 1352l4 10 -3 6 -3 -6zM1491 1357l3 9 -3 5 -2 -5zM1515 1355l3 9 -3 6 -2 -5zM1540 1357l2 9 -2 5 -3 -5zM1565 1370l2 7 -2 4 -2 -4zM1589 1370l2 7 -2 4 -2 -4zM1613 1375l1 4 -1 3 -2 -3zM1638 1375l2 4 -2 3 -1 -3zM1662 1375l2 4 -2 3 -1 -3zM1687 1375l2 4 -2 3 -1 -3zM1825 1377l5 2 3 3 -4 0zM264 1393l4 7 -1 4 -3 -3zM287 1392l4 6 0 5 -4 -4zM309 1380l5 9 -1 6 -4 -5zM333 1380l5 8 -1 7 -4 -5zM355 1381l6 8 0 6 -5 -4zM382 1380l5 9 -1 6 -4 -5zM406 1377l5 9 -1 6 -4 -5zM433 1382l4 8 -1 6 -4 -5zM457 1386l4 8 0 5 -4 -4zM481 1382l5 8 -1 6 -4 -5zM505 1377l5 9 -1 6 -5 -5zM523 1359l7 11 -1 9 -6 -6zM549 1358l7 11 -2 9 -6 -7zM573 1359l7 11 -2 9 -5 -7zM602 1377l5 9 -1 6 -4 -5zM629 1377l4 9 -1 6 -4 -5zM652 1382l5 8 -1 6 -4 -5zM678 1384l4 7 -1 6 -3 -4zM701 1380l5 8 -1 7 -4 -5zM726 1377l5 9 -2 6 -4 -5zM745 1360l7 11 -2 9 -5 -7zM773 1362l6 11 -3 8 -4 -7zM795 1357l6 12 -2 8 -5 -6zM823 1363l5 11 -2 8 -5 -7zM852 1384l3 8 -1 6 -3 -5zM875 1383l4 8 -2 6 -3 -5zM901 1381l3 9 -1 6 -4 -6zM925 1379l3 9 -1 6 -4 -5zM949 1380l4 8 -2 6 -3 -5zM976 1397l2 5 -1 3 -2 -3zM1000 1397l3 5 -1 3 -2 -3zM1023 1381l4 9 -2 6 -3 -6zM1048 1379l3 9 -2 6 -3 -5zM1073 1379l3 9 -2 6 -3 -5zM1096 1379l4 9 -2 6 -3 -5zM1123 1389l2 7 -1 5 -3 -5zM1147 1389l3 7 -2 5 -2 -4zM1171 1389l3 7 -2 5 -2 -4zM1193 1379l4 9 -2 6 -3 -5zM1220 1381l3 9 -2 6 -3 -6zM1244 1394l3 7 -1 4 -2 -4zM1270 1397l2 5 -1 3 -2 -3zM1294 1394l2 7 -1 4 -2 -4zM1319 1394l2 7 -1 4 -2 -4zM1342 1376l4 10 -3 6 -3 -6zM1365 1351l5 13 -3 9 -5 -8zM1388 1361l5 11 -3 8 -4 -7zM1416 1359l4 12 -3 8 -4 -7zM1439 1359l5 12 -3 8 -5 -7zM1466 1363l4 11 -3 8 -4 -7zM1491 1374l3 10 -3 6 -3 -6zM1516 1399l1 4 -1 3 -2 -3zM1541 1394l1 7 -2 4 -1 -4zM1613 1399l1 4 -1 3 -1 -3zM1638 1399l1 4 -1 3 -1 -3zM1662 1399l1 4 -1 3 -2 -3zM1824 1402l6 1 3 3 -4 0zM263 1418l4 7 0 4 -3 -3zM287 1417l4 6 0 5 -4 -3zM309 1405l5 8 0 7 -5 -5zM333 1405l5 9 -1 6 -4 -5zM357 1405l5 8 -1 7 -4 -5zM381 1403l5 8 -1 7 -4 -5zM400 1385l7 11 -1 8 -6 -6zM432 1412l5 7 -1 5 -3 -4zM460 1422l3 5 0 4 -3 -3zM486 1424l2 4 0 3 -3 -2zM498 1378l8 12 -2 9 -7 -7zM523 1379l7 12 -2 9 -6 -7zM554 1399l5 10 -2 6 -4 -5zM579 1407l5 8 -1 6 -4 -5zM605 1407l4 8 -1 6 -4 -5zM629 1402l5 9 -2 6 -4 -5zM656 1416l3 7 -1 5 -3 -4zM681 1418l3 7 -1 4 -2 -4zM701 1405l5 8 -1 7 -4 -5zM725 1400l5 9 -1 6 -4 -5zM747 1384l6 12 -2 8 -5 -7zM769 1379l7 12 -2 9 -6 -7zM796 1381l7 12 -3 9 -5 -7zM826 1402l4 9 -2 6 -4 -5zM851 1406l4 9 -2 6 -3 -5zM875 1408l4 8 -2 6 -3 -5zM900 1408l4 8 -2 6 -3 -5zM924 1408l4 8 -2 6 -3 -5zM949 1409l4 8 -2 6 -3 -5zM973 1409l4 8 -2 6 -3 -5zM1000 1411l3 8 -2 5 -3 -5zM1025 1416l2 7 -1 5 -3 -4zM1047 1406l4 9 -2 6 -3 -5zM1072 1404l4 9 -2 6 -4 -5zM1098 1406l3 9 -2 6 -3 -6zM1122 1411l3 8 -2 5 -3 -5zM1148 1414l2 7 -1 5 -3 -5zM1172 1414l2 7 -1 5 -3 -5zM1196 1419l2 7 -1 4 -2 -4zM1221 1419l2 7 -1 4 -2 -4zM1245 1418l2 7 -1 4 -3 -4zM1270 1422l2 5 -1 3 -2 -3zM1294 1424l2 4 -1 3 -2 -3zM1319 1422l2 5 -1 3 -2 -3zM1342 1401l3 10 -2 6 -3 -6zM1364 1380l5 13 -3 8 -5 -7zM1392 1399l4 10 -3 6 -3 -6zM1415 1382l4 13 -3 8 -4 -8zM1439 1380l5 12 -4 9 -4 -8zM1467 1399l3 10 -3 6 -3 -6zM1489 1377l4 13 -3 8 -5 -8zM1516 1418l2 7 -2 4 -2 -4zM1589 1424l2 4 -2 3 -1 -3zM1613 1422l2 5 -2 3 -2 -3zM1638 1422l1 5 -1 3 -2 -3zM1662 1424l1 4 -1 3 -2 -3zM1809 1424l2 4 -2 3 -1 -3zM1825 1426l5 2 3 3 -4 0zM264 1442l4 7 -1 4 -3 -3zM287 1441l4 6 0 5 -3 -4zM314 1446l3 5 0 4 -3 -3zM337 1441l3 6 0 5 -3 -4zM357 1429l5 9 -1 6 -4 -5zM382 1429l5 9 -1 6 -4 -5zM410 1440l4 7 -1 5 -3 -4zM434 1441l4 6 0 5 -3 -4zM459 1444l4 6 -1 4 -3 -3zM483 1438l4 7 -1 5 -3 -4zM503 1424l6 9 -1 7 -5 -6zM524 1405l7 12 -2 9 -6 -7zM553 1424l6 9 -2 6 -4 -5zM579 1429l5 8 -1 7 -4 -5zM604 1426l4 9 -1 6 -4 -5zM627 1426l5 9 -1 6 -4 -5zM653 1429l5 8 -2 6 -3 -5zM681 1444l3 6 0 4 -3 -3zM702 1432l4 8 -1 6 -3 -4zM725 1424l5 9 -1 6 -4 -5zM745 1403l7 12 -2 9 -6 -7zM770 1406l7 11 -3 9 -5 -7zM797 1401l6 13 -2 9 -6 -8zM824 1429l5 8 -2 6 -3 -5zM851 1429l4 8 -2 6 -3 -5zM876 1432l3 8 -1 6 -4 -5zM899 1430l4 9 -1 6 -4 -5zM925 1438l3 7 -1 5 -3 -4zM949 1432l4 8 -2 6 -3 -5zM973 1430l4 9 -2 6 -3 -5zM999 1432l3 8 -1 6 -3 -5zM1023 1425l4 10 -2 6 -4 -6zM1049 1430l3 9 -2 6 -3 -6zM1072 1425l4 10 -3 6 -3 -6zM1096 1425l4 10 -2 6 -3 -6zM1123 1438l2 7 -1 5 -3 -4zM1148 1440l3 7 -2 5 -2 -4zM1172 1442l3 7 -2 4 -2 -4zM1196 1440l2 7 -1 5 -2 -4zM1220 1440l3 7 -1 5 -3 -4zM1245 1440l3 7 -2 5 -2 -5zM1270 1446l2 5 -1 3 -2 -3zM1294 1448l2 4 -1 3 -2 -3zM1319 1448l2 4 -1 3 -2 -3zM1343 1448l2 4 -1 3 -2 -3zM1369 1443l2 7 -2 4 -2 -4zM1392 1423l3 10 -2 6 -4 -6zM1413 1401l5 13 -3 9 -5 -8zM1441 1410l4 12 -4 8 -3 -8zM1466 1425l3 10 -2 6 -3 -6zM1491 1432l2 8 -2 6 -2 -6zM1516 1448l1 4 -1 3 -1 -3zM1565 1448l2 4 -2 3 -1 -3zM1589 1448l2 4 -2 3 -1 -3zM1613 1443l2 7 -2 4 -2 -4zM1638 1446l2 5 -2 3 -1 -3zM1662 1448l2 4 -2 3 -1 -3zM1824 1450l6 2 3 3 -4 0zM264 1467l4 7 -1 4 -3 -3zM286 1466l5 6 0 5 -4 -3zM314 1471l3 5 0 4 -3 -3zM337 1466l4 6 -1 5 -3 -4zM357 1454l5 8 -1 7 -4 -5zM381 1455l6 8 -1 6 -4 -5zM409 1466l4 6 0 5 -3 -4zM434 1466l4 6 0 5 -3 -4zM460 1469l3 6 0 4 -3 -3zM482 1463l5 7 -1 5 -3 -4zM502 1449l6 9 -1 7 -5 -5zM525 1438l7 10 -2 8 -5 -6zM553 1449l6 9 -2 6 -4 -5zM579 1454l5 8 -1 7 -4 -5zM602 1451l5 9 -1 6 -4 -5zM627 1451l5 9 -1 6 -4 -5zM653 1454l5 8 -2 6 -3 -5zM682 1469l3 6 -1 4 -3 -4zM702 1457l5 8 -1 6 -4 -5zM726 1448l5 10 -2 6 -4 -5zM749 1436l6 11 -3 8 -5 -6zM773 1431l6 12 -3 8 -5 -7zM798 1430l6 12 -3 9 -5 -7zM826 1454l4 8 -2 6 -3 -5zM850 1454l5 8 -2 6 -4 -5zM875 1457l4 8 -2 6 -3 -5zM900 1455l4 9 -2 6 -3 -5zM926 1463l3 7 -2 5 -2 -4zM949 1457l4 8 -2 6 -3 -5zM974 1455l4 9 -2 6 -3 -6zM999 1457l4 8 -2 6 -3 -5zM1022 1451l4 9 -2 6 -3 -5zM1048 1455l3 9 -1 6 -4 -6zM1072 1450l3 10 -2 6 -3 -6zM1096 1451l4 9 -2 6 -4 -5zM1123 1463l2 7 -1 5 -3 -5zM1148 1465l2 7 -1 5 -3 -4zM1172 1467l2 7 -1 4 -3 -4zM1196 1465l2 7 -1 5 -2 -4zM1221 1465l2 7 -1 5 -2 -4zM1245 1465l2 7 -1 5 -2 -4zM1270 1471l2 5 -1 3 -2 -3zM1294 1473l2 4 -1 3 -2 -3zM1319 1473l2 4 -1 3 -2 -3zM1343 1473l2 4 -1 3 -2 -3zM1368 1468l2 7 -1 4 -2 -4zM1392 1448l3 10 -3 6 -3 -6zM1415 1433l4 12 -3 8 -4 -7zM1440 1436l4 12 -3 8 -4 -8zM1467 1450l3 10 -3 6 -3 -6zM1492 1457l2 8 -3 6 -2 -6zM1516 1473l1 4 -1 3 -1 -3zM1565 1473l1 4 -1 3 -2 -3zM1589 1473l1 4 -1 3 -2 -3zM1613 1468l2 7 -2 4 -2 -4zM1638 1471l2 5 -2 3 -1 -3zM1662 1473l2 4 -2 3 -1 -3zM1825 1475l5 2 3 3 -4 0z" fill="#000" stroke="#000" stroke-width="1.2" stroke-linejoin="round"/></g>
<path d="M259.0 1482.4V100.0H1836.8" stroke="#262626" stroke-width="3.6" fill="none" stroke-linecap="square"/>
<path d="M1836.8 100.0V1482.4H259.0" stroke="#262626" stroke-width="1.6" fill="none"/>
<text x="497.5" y="1548.9" text-anchor="middle" class="t">20</text>
<text x="753.9" y="1548.9" text-anchor="middle" class="t">40</text>
<text x="1010.3" y="1548.9" text-anchor="middle" class="t">60</text>
<text x="1266.7" y="1548.9" text-anchor="middle" class="t">80</text>
<text x="1523.1" y="1548.9" text-anchor="middle" class="t">100</text>
<text x="1779.5" y="1548.9" text-anchor="middle" class="t">120</text>
<text x="235.5" y="119.4" text-anchor="end" class="t">0</text>
<text x="235.5" y="375.2" text-anchor="end" class="t">20</text>
<text x="235.5" y="630.9" text-anchor="end" class="t">40</text>
<text x="235.5" y="886.7" text-anchor="end" class="t">60</text>
<text x="235.5" y="1142.4" text-anchor="end" class="t">80</text>
<text x="235.5" y="1398.2" text-anchor="end" class="t">100</text>
<text x="1046" y="1640.9" text-anchor="middle" class="l">x (mm)</text>
<text transform="translate(111 793.2) rotate(-90)" text-anchor="middle" class="l">y (mm)</text>
<rect x="1880.0" y="98.0" width="84.0" height="1385.0" fill="url(#jet)"/>
<text x="1986" y="1298.3" class="t">0.01</text>
<text x="1986" y="1100.2" class="t">0.02</text>
<text x="1986" y="902.1" class="t">0.03</text>
<text x="1986" y="704.0" class="t">0.04</text>
<text x="1986" y="505.9" class="t">0.05</text>
<text x="1986" y="307.8" class="t">0.06</text>
<text x="1986" y="109.7" class="t">0.07</text>
<path d="M1964.0 1288.3h-14M1964.0 1090.2h-14M1964.0 892.1h-14M1964.0 694.0h-14M1964.0 495.9h-14M1964.0 297.8h-14" stroke="#262626" stroke-width="3.4" fill="none"/>
<rect x="1880.0" y="99.5" width="84.0" height="1382.5" fill="none" stroke="#262626" stroke-width="3.6"/>
<text x="1917" y="82.5" text-anchor="middle" class="m">m/s</text>
<text x="1132" y="1810.9" text-anchor="middle" class="c">(<tspan font-weight="bold">e</tspan>)</text>
<path d="M499.5 1892.5v19M499.5 3278.3v-19M755.9 1892.5v19M755.9 3278.3v-19M1012.3 1892.5v19M1012.3 3278.3v-19M1268.7 1892.5v19M1268.7 3278.3v-19M1525.1 1892.5v19M1525.1 3278.3v-19M1781.5 1892.5v19M1781.5 3278.3v-19M259.0 1899.1h18M1836.8 1899.1h-18M259.0 2027.9h18M1836.8 2027.9h-18M259.0 2156.7h18M1836.8 2156.7h-18M259.0 2285.5h18M1836.8 2285.5h-18M259.0 2414.3h18M1836.8 2414.3h-18M259.0 2543.1h18M1836.8 2543.1h-18M259.0 2672.0h18M1836.8 2672.0h-18M259.0 2800.8h18M1836.8 2800.8h-18M259.0 2929.6h18M1836.8 2929.6h-18M259.0 3058.4h18M1836.8 3058.4h-18M259.0 3187.2h18M1836.8 3187.2h-18" stroke="#262626" stroke-width="3.4" fill="none"/>
<g shape-rendering="crispEdges">
<path fill="#000080" d="M1270 1923h24v25h-24zM1636 2908h25v24h-25z"/>
<path fill="#0000c4" d="M268 1923h24v25h-24zM317 1923h24v25h-24zM1221 1923h49v25h-49zM366 1972h24v25h-24zM366 1997h24v25h-24zM1539 2194h24v24h-24zM1563 2341h25v25h-25zM1368 2440h24v25h-24zM1539 2440h24v25h-24zM1563 2465h25v24h-25zM1808 2588h30v24h-30zM268 2711h24v24h-24zM1465 2735h49v25h-49zM414 2760h25v24h-25zM1514 2760h25v24h-25zM414 2784h25v25h-25zM1612 2957h24v24h-24zM537 3006h24v25h-24zM537 3031h24v24h-24zM1710 3055h49v25h-49zM1759 3104h24v25h-24zM1783 3129h25v25h-25zM512 3203h25v24h-25z"/>
<path fill="#0008ff" d="M292 1923h25v25h-25zM341 1923h49v25h-49zM854 1923h49v25h-49zM1025 1923h49v25h-49zM1392 1923h24v25h-24zM1636 1923h49v25h-49zM1808 1923h30v25h-30zM341 1948h49v24h-49zM1514 1972h25v25h-25zM1563 1972h25v25h-25zM1392 1997h24v25h-24zM1539 1997h49v25h-49zM1661 1997h24v25h-24zM1539 2022h24v24h-24zM1539 2046h24v25h-24zM1588 2218h24v25h-24zM1294 2243h25v25h-25zM1539 2317h24v24h-24zM1612 2341h24v25h-24zM268 2366h24v25h-24zM1636 2366h25v25h-25zM1514 2415h25v25h-25zM317 2440h24v25h-24zM952 2440h25v25h-25zM1197 2440h24v25h-24zM1465 2440h25v25h-25zM1514 2440h25v25h-25zM341 2465h25v24h-25zM268 2612h24v25h-24zM1759 2612h49v25h-49zM1759 2637h24v24h-24zM292 2686h49v25h-49zM390 2686h24v25h-24zM1539 2711h24v24h-24zM1514 2735h25v25h-25zM1465 2760h49v24h-49zM268 2784h24v25h-24zM1514 2784h25v25h-25zM781 2809h49v25h-49zM1123 2809h25v25h-25zM1563 2834h25v24h-25zM1539 2858h24v25h-24zM1759 2858h24v25h-24zM1539 2883h24v25h-24zM1710 2883h128v25h-128zM561 2908h25v24h-25zM1514 2908h49v24h-49zM1661 2908h24v24h-24zM1783 2908h25v24h-25zM292 2932h25v25h-25zM1514 2932h49v25h-49zM1636 2932h25v25h-25zM1783 2932h25v25h-25zM488 2957h24v24h-24zM1490 2957h24v24h-24zM512 3006h25v25h-25zM1612 3006h24v25h-24zM1759 3006h24v25h-24zM512 3031h25v24h-25zM1759 3031h24v24h-24zM537 3055h24v25h-24zM1759 3055h24v25h-24zM488 3080h24v24h-24zM1588 3080h48v24h-48zM1734 3080h74v24h-74zM439 3104h49v25h-49zM1734 3104h25v25h-25zM1783 3104h25v25h-25zM439 3129h24v25h-24zM1734 3129h49v25h-49zM512 3154h49v24h-49zM537 3227h24v25h-24z"/>
<path fill="#004dff" d="M390 1923h24v25h-24zM610 1923h24v25h-24zM659 1923h49v25h-49zM757 1923h48v25h-48zM903 1923h25v25h-25zM977 1923h48v25h-48zM1074 1923h25v25h-25zM1612 1923h24v25h-24zM317 1948h24v24h-24zM390 1948h24v24h-24zM341 1972h25v25h-25zM1612 1972h24v25h-24zM1514 1997h25v25h-25zM1588 1997h73v25h-73zM317 2022h49v24h-49zM1514 2022h25v24h-25zM1563 2022h122v24h-122zM1563 2046h25v25h-25zM366 2071h24v24h-24zM1514 2071h25v24h-25zM1563 2071h25v24h-25zM341 2095h49v25h-49zM1319 2095h49v25h-49zM1514 2095h25v25h-25zM1612 2095h24v25h-24zM1734 2095h25v25h-25zM268 2120h24v25h-24zM366 2120h24v25h-24zM292 2169h25v25h-25zM1783 2169h25v25h-25zM1514 2218h49v25h-49zM463 2243h25v25h-25zM1319 2243h24v25h-24zM1539 2243h24v25h-24zM512 2268h25v24h-25zM1685 2268h25v24h-25zM1661 2292h49v25h-49zM1563 2317h25v24h-25zM830 2391h24v24h-24zM317 2415h24v25h-24zM781 2415h49v25h-49zM1539 2415h24v25h-24zM292 2440h25v25h-25zM341 2440h73v25h-73zM1392 2440h24v25h-24zM1441 2440h24v25h-24zM1490 2440h24v25h-24zM292 2465h49v24h-49zM366 2465h24v24h-24zM1441 2465h49v24h-49zM1539 2465h24v24h-24zM292 2489h74v25h-74zM268 2514h98v24h-98zM268 2538h24v25h-24zM341 2538h25v25h-25zM1563 2538h25v25h-25zM268 2588h24v24h-24zM1783 2588h25v24h-25zM610 2612h24v25h-24zM1392 2612h24v25h-24zM1808 2612h30v25h-30zM268 2637h24v24h-24zM1392 2637h24v24h-24zM1783 2637h25v24h-25zM268 2661h73v25h-73zM1465 2711h49v24h-49zM1025 2735h25v25h-25zM1441 2735h24v25h-24zM1539 2735h49v25h-49zM1783 2760h55v24h-55zM292 2784h49v25h-49zM854 2784h25v25h-25zM1490 2784h24v25h-24zM268 2809h24v25h-24zM537 2809h24v25h-24zM1148 2809h24v25h-24zM1783 2809h55v25h-55zM1514 2834h25v24h-25zM1808 2834h30v24h-30zM317 2858h24v25h-24zM561 2858h49v25h-49zM1563 2858h49v25h-49zM1808 2858h30v25h-30zM1148 2883h24v25h-24zM1514 2883h25v25h-25zM1563 2883h25v25h-25zM1636 2883h49v25h-49zM586 2908h24v24h-24zM1612 2908h24v24h-24zM1685 2908h25v24h-25zM1759 2908h24v24h-24zM1808 2908h30v24h-30zM268 2932h24v25h-24zM586 2932h24v25h-24zM1612 2932h24v25h-24zM1661 2932h24v25h-24zM1734 2932h49v25h-49zM1808 2932h30v25h-30zM512 2957h25v24h-25zM1514 2957h49v24h-49zM1588 2957h24v24h-24zM488 2981h98v25h-98zM463 3006h49v25h-49zM488 3031h24v24h-24zM1783 3031h55v24h-55zM488 3055h49v25h-49zM561 3055h25v25h-25zM977 3055h24v25h-24zM1588 3055h24v25h-24zM1783 3055h55v25h-55zM512 3080h25v24h-25zM1123 3080h25v24h-25zM1636 3080h25v24h-25zM1808 3080h30v24h-30zM268 3104h24v25h-24zM488 3104h24v25h-24zM1123 3104h25v25h-25zM1710 3104h24v25h-24zM1808 3104h30v25h-30zM268 3129h24v25h-24zM463 3129h49v25h-49zM1808 3129h30v25h-30zM439 3154h73v24h-73zM1783 3154h55v24h-55zM463 3178h49v25h-49zM1808 3178h30v25h-30zM537 3203h24v24h-24zM512 3227h25v25h-25zM268 3252h24v27h-24zM1588 3252h24v27h-24zM1661 3252h49v27h-49zM1734 3252h49v27h-49z"/>
<path fill="#0091ff" d="M414 1923h25v25h-25zM708 1923h24v25h-24zM805 1923h25v25h-25zM928 1923h24v25h-24zM1197 1923h24v25h-24zM1294 1923h25v25h-25zM1710 1923h24v25h-24zM708 1948h24v24h-24zM1245 1948h25v24h-25zM1319 1948h24v24h-24zM1539 1948h73v24h-73zM390 1972h24v25h-24zM1368 1972h24v25h-24zM1490 1972h24v25h-24zM1539 1972h24v25h-24zM1588 1972h24v25h-24zM1636 1972h49v25h-49zM1368 1997h24v25h-24zM366 2022h24v24h-24zM1685 2022h49v24h-49zM317 2046h73v25h-73zM1050 2046h24v25h-24zM1514 2046h25v25h-25zM1588 2046h24v25h-24zM1661 2046h49v25h-49zM341 2071h25v24h-25zM1588 2071h48v24h-48zM1734 2071h25v24h-25zM268 2095h24v25h-24zM854 2095h49v25h-49zM1294 2095h25v25h-25zM341 2120h25v25h-25zM390 2120h24v25h-24zM268 2145h49v24h-49zM366 2145h24v24h-24zM1074 2145h25v24h-25zM1245 2145h25v24h-25zM1563 2145h49v24h-49zM268 2169h24v25h-24zM1319 2169h24v25h-24zM268 2194h24v24h-24zM366 2194h24v24h-24zM268 2218h24v25h-24zM1563 2218h25v25h-25zM1270 2243h24v25h-24zM1343 2243h25v25h-25zM1441 2243h24v25h-24zM1563 2243h122v25h-122zM537 2268h24v24h-24zM1294 2268h25v24h-25zM1563 2268h122v24h-122zM1808 2268h30v24h-30zM683 2292h25v25h-25zM1563 2292h49v25h-49zM1636 2292h25v25h-25zM1808 2292h30v25h-30zM683 2317h25v24h-25zM757 2317h24v24h-24zM1465 2317h25v24h-25zM1588 2317h24v24h-24zM1661 2317h24v24h-24zM268 2341h24v25h-24zM1490 2341h24v25h-24zM1588 2341h24v25h-24zM1636 2341h25v25h-25zM292 2366h25v25h-25zM1465 2366h25v25h-25zM1612 2366h24v25h-24zM268 2391h24v24h-24zM757 2391h48v24h-48zM1416 2391h49v24h-49zM1514 2391h25v24h-25zM268 2415h49v25h-49zM341 2415h73v25h-73zM757 2415h24v25h-24zM1368 2415h97v25h-97zM1685 2415h25v25h-25zM268 2440h24v25h-24zM1172 2440h25v25h-25zM1416 2440h25v25h-25zM1563 2440h25v25h-25zM268 2465h24v24h-24zM390 2465h24v24h-24zM952 2465h49v24h-49zM1416 2465h25v24h-25zM1490 2465h49v24h-49zM1612 2465h24v24h-24zM268 2489h24v25h-24zM366 2489h24v25h-24zM1441 2489h49v25h-49zM1588 2538h24v25h-24zM268 2563h49v25h-49zM439 2563h24v25h-24zM634 2563h25v25h-25zM854 2563h25v25h-25zM292 2588h25v24h-25zM292 2612h25v25h-25zM292 2637h25v24h-25zM390 2637h49v24h-49zM1368 2637h24v24h-24zM1416 2637h25v24h-25zM1808 2637h30v24h-30zM366 2661h48v25h-48zM1416 2661h49v25h-49zM268 2686h24v25h-24zM341 2686h49v25h-49zM1710 2686h24v25h-24zM1808 2686h30v25h-30zM390 2711h24v24h-24zM1808 2711h30v24h-30zM268 2735h49v25h-49zM952 2735h49v25h-49zM1588 2735h24v25h-24zM1734 2735h25v25h-25zM1783 2735h55v25h-55zM268 2760h49v24h-49zM757 2760h24v24h-24zM1001 2760h49v24h-49zM1416 2760h49v24h-49zM1539 2760h49v24h-49zM366 2784h48v25h-48zM977 2784h73v25h-73zM1074 2784h25v25h-25zM1123 2784h25v25h-25zM1783 2784h55v25h-55zM561 2809h25v25h-25zM854 2809h25v25h-25zM1001 2809h24v25h-24zM1514 2809h25v25h-25zM268 2834h49v24h-49zM439 2834h24v24h-24zM854 2834h25v24h-25zM1123 2834h25v24h-25zM1734 2834h74v24h-74zM268 2858h49v25h-49zM439 2858h24v25h-24zM732 2858h25v25h-25zM1514 2858h25v25h-25zM1734 2858h25v25h-25zM1783 2858h25v25h-25zM292 2883h49v25h-49zM463 2883h25v25h-25zM561 2883h49v25h-49zM1172 2883h25v25h-25zM1588 2883h24v25h-24zM1685 2883h25v25h-25zM292 2908h74v24h-74zM439 2908h24v24h-24zM1441 2908h24v24h-24zM1563 2908h49v24h-49zM1734 2908h25v24h-25zM488 2932h49v25h-49zM1441 2932h73v25h-73zM1563 2932h49v25h-49zM1710 2932h24v25h-24zM268 2957h24v24h-24zM1465 2957h25v24h-25zM1563 2957h25v24h-25zM1636 2957h25v24h-25zM1734 2957h104v24h-104zM463 2981h25v25h-25zM586 2981h24v25h-24zM1490 2981h24v25h-24zM1588 2981h97v25h-97zM561 3006h25v25h-25zM1734 3031h25v24h-25zM1563 3055h25v25h-25zM463 3080h25v24h-25zM537 3080h49v24h-49zM1563 3080h25v24h-25zM292 3104h147v25h-147zM512 3104h25v25h-25zM830 3104h49v25h-49zM292 3129h49v25h-49zM414 3129h25v25h-25zM512 3129h49v25h-49zM830 3129h24v25h-24zM1050 3129h24v25h-24zM1710 3129h24v25h-24zM268 3154h73v24h-73zM830 3154h24v24h-24zM1123 3154h25v24h-25zM1734 3154h49v24h-49zM439 3178h24v25h-24zM561 3178h25v25h-25zM317 3203h24v24h-24zM439 3203h73v24h-73zM1612 3203h24v24h-24zM268 3227h24v25h-24zM1588 3227h24v25h-24zM634 3252h25v27h-25zM1612 3252h24v27h-24zM1710 3252h24v27h-24zM1783 3252h55v27h-55z"/>
<path fill="#00d4ff" d="M634 1923h25v25h-25zM830 1923h24v25h-24zM1099 1923h24v25h-24zM1416 1923h25v25h-25zM1563 1923h25v25h-25zM1734 1923h25v25h-25zM1783 1923h25v25h-25zM683 1948h25v24h-25zM1197 1948h48v24h-48zM1392 1948h49v24h-49zM292 1972h49v25h-49zM1050 1972h24v25h-24zM1392 1972h49v25h-49zM268 1997h24v25h-24zM341 1997h25v25h-25zM390 1997h24v25h-24zM1416 1997h25v25h-25zM1490 1997h24v25h-24zM1685 1997h25v25h-25zM268 2022h24v24h-24zM268 2046h24v25h-24zM1025 2046h25v25h-25zM1148 2046h24v25h-24zM1416 2046h25v25h-25zM1612 2046h49v25h-49zM1710 2046h24v25h-24zM708 2071h24v24h-24zM1465 2071h25v24h-25zM1539 2071h24v24h-24zM390 2095h24v25h-24zM977 2095h24v25h-24zM1588 2095h24v25h-24zM1783 2095h55v25h-55zM1490 2120h24v25h-24zM1563 2120h25v25h-25zM1734 2120h74v25h-74zM1734 2145h49v24h-49zM1050 2169h49v25h-49zM1661 2169h24v25h-24zM1759 2169h24v25h-24zM317 2194h24v24h-24zM1197 2194h24v24h-24zM1563 2194h25v24h-25zM1685 2194h74v24h-74zM1808 2194h30v24h-30zM292 2218h25v25h-25zM341 2218h25v25h-25zM1270 2218h49v25h-49zM1490 2218h24v25h-24zM1685 2218h25v25h-25zM268 2243h24v25h-24zM732 2243h25v25h-25zM1514 2243h25v25h-25zM1685 2243h25v25h-25zM292 2268h25v24h-25zM366 2268h24v24h-24zM1514 2268h49v24h-49zM1710 2268h24v24h-24zM341 2292h25v25h-25zM488 2292h24v25h-24zM1465 2292h49v25h-49zM1539 2292h24v25h-24zM1612 2292h24v25h-24zM1710 2292h24v25h-24zM659 2317h24v24h-24zM708 2317h24v24h-24zM1490 2317h24v24h-24zM1636 2317h25v24h-25zM1685 2317h25v24h-25zM1465 2341h25v25h-25zM1441 2366h24v25h-24zM1490 2366h24v25h-24zM1588 2366h24v25h-24zM1661 2366h24v25h-24zM317 2391h24v24h-24zM1465 2391h25v24h-25zM1539 2391h24v24h-24zM1465 2415h25v25h-25zM414 2440h25v25h-25zM781 2440h49v25h-49zM537 2465h24v24h-24zM1490 2489h24v25h-24zM634 2514h25v24h-25zM683 2514h25v24h-25zM317 2563h24v25h-24zM781 2563h24v25h-24zM634 2588h25v24h-25zM317 2612h24v25h-24zM414 2612h25v25h-25zM1416 2612h25v25h-25zM317 2637h49v24h-49zM439 2637h24v24h-24zM634 2637h25v24h-25zM1441 2637h24v24h-24zM341 2661h25v25h-25zM414 2661h25v25h-25zM1392 2661h24v25h-24zM1759 2661h79v25h-79zM1465 2686h25v25h-25zM1759 2686h49v25h-49zM292 2711h25v24h-25zM366 2711h24v24h-24zM414 2711h25v24h-25zM463 2711h25v24h-25zM1001 2711h24v24h-24zM1514 2711h25v24h-25zM1710 2711h24v24h-24zM1759 2711h49v24h-49zM414 2735h25v25h-25zM781 2735h24v25h-24zM1710 2735h24v25h-24zM1759 2735h24v25h-24zM439 2760h24v24h-24zM781 2760h24v24h-24zM879 2760h24v24h-24zM952 2760h49v24h-49zM1050 2760h24v24h-24zM1588 2760h24v24h-24zM1734 2760h25v24h-25zM439 2784h24v25h-24zM1050 2784h24v25h-24zM1465 2784h25v25h-25zM1759 2784h24v25h-24zM292 2809h25v25h-25zM414 2809h49v25h-49zM977 2809h24v25h-24zM1025 2809h98v25h-98zM1172 2809h25v25h-25zM1490 2809h24v25h-24zM1759 2809h24v25h-24zM414 2834h25v24h-25zM463 2834h25v24h-25zM537 2834h24v24h-24zM928 2834h24v24h-24zM1025 2834h25v24h-25zM1148 2834h24v24h-24zM1539 2834h24v24h-24zM390 2858h49v25h-49zM463 2858h98v25h-98zM1123 2858h25v25h-25zM1661 2858h24v25h-24zM268 2883h24v25h-24zM390 2883h73v25h-73zM512 2883h49v25h-49zM1612 2883h24v25h-24zM268 2908h24v24h-24zM366 2908h73v24h-73zM512 2908h49v24h-49zM610 2908h24v24h-24zM1490 2908h24v24h-24zM317 2932h24v25h-24zM561 2932h25v25h-25zM317 2957h24v24h-24zM463 2957h25v24h-25zM1661 2957h49v24h-49zM268 2981h49v25h-49zM1465 2981h25v25h-25zM1514 2981h25v25h-25zM1734 2981h49v25h-49zM1808 2981h30v25h-30zM268 3006h98v25h-98zM586 3006h48v25h-48zM1074 3006h49v25h-49zM1636 3006h25v25h-25zM1734 3006h25v25h-25zM1783 3006h25v25h-25zM268 3031h24v24h-24zM366 3031h24v24h-24zM463 3031h25v24h-25zM1123 3031h25v24h-25zM268 3055h24v25h-24zM366 3055h24v25h-24zM1123 3055h25v25h-25zM268 3080h24v24h-24zM317 3080h146v24h-146zM537 3104h24v25h-24zM805 3104h25v25h-25zM1563 3104h25v25h-25zM341 3129h73v25h-73zM341 3154h25v24h-25zM414 3154h25v24h-25zM1685 3154h49v24h-49zM292 3178h74v25h-74zM537 3178h24v25h-24zM1099 3178h24v25h-24zM1636 3178h25v25h-25zM1685 3178h25v25h-25zM1783 3178h25v25h-25zM341 3203h25v24h-25zM1783 3203h55v24h-55zM463 3227h25v25h-25zM1612 3227h49v25h-49zM1783 3227h25v25h-25zM414 3252h25v27h-25zM879 3252h24v27h-24zM1636 3252h25v27h-25z"/>
<path fill="#05fffa" d="M1441 1923h24v25h-24zM1539 1923h24v25h-24zM1588 1923h24v25h-24zM268 1948h49v24h-49zM414 1948h25v24h-25zM854 1948h25v24h-25zM1050 1948h49v24h-49zM1294 1948h25v24h-25zM1441 1948h24v24h-24zM1808 1948h30v24h-30zM268 1972h24v25h-24zM1441 1972h49v25h-49zM1734 1972h25v25h-25zM292 1997h49v25h-49zM1025 1997h25v25h-25zM1343 1997h25v25h-25zM1441 1997h49v25h-49zM1710 1997h24v25h-24zM292 2022h25v24h-25zM1001 2022h24v24h-24zM1050 2022h24v24h-24zM1368 2022h97v24h-97zM1001 2046h24v25h-24zM1074 2046h25v25h-25zM1783 2046h55v25h-55zM268 2071h24v24h-24zM317 2071h24v24h-24zM414 2071h25v24h-25zM1001 2071h49v24h-49zM1294 2071h49v24h-49zM1636 2071h25v24h-25zM1808 2071h30v24h-30zM683 2095h49v25h-49zM1490 2095h24v25h-24zM1539 2095h49v25h-49zM1759 2095h24v25h-24zM292 2120h25v25h-25zM414 2120h25v25h-25zM659 2120h24v25h-24zM1319 2120h24v25h-24zM1612 2120h24v25h-24zM390 2145h24v24h-24zM708 2145h24v24h-24zM1343 2145h25v24h-25zM341 2169h49v25h-49zM757 2169h24v25h-24zM1099 2169h24v25h-24zM1563 2169h49v25h-49zM1636 2169h25v25h-25zM1734 2169h25v25h-25zM341 2194h25v24h-25zM1294 2194h49v24h-49zM1588 2194h24v24h-24zM317 2218h24v25h-24zM366 2218h24v25h-24zM708 2218h24v25h-24zM1221 2218h24v25h-24zM1319 2218h24v25h-24zM1465 2218h25v25h-25zM1710 2218h24v25h-24zM292 2243h25v25h-25zM1465 2243h49v25h-49zM1710 2243h24v25h-24zM268 2268h24v24h-24zM317 2268h49v24h-49zM488 2268h24v24h-24zM1465 2268h49v24h-49zM268 2292h24v25h-24zM317 2292h24v25h-24zM1441 2292h24v25h-24zM268 2317h24v24h-24zM366 2317h24v24h-24zM732 2317h25v24h-25zM1808 2317h30v24h-30zM292 2341h25v25h-25zM781 2341h73v25h-73zM1539 2341h24v25h-24zM781 2366h49v25h-49zM1563 2366h25v25h-25zM292 2391h25v24h-25zM341 2391h25v24h-25zM805 2391h25v24h-25zM1392 2391h24v24h-24zM1490 2391h24v24h-24zM1636 2391h25v24h-25zM512 2415h25v25h-25zM1490 2415h24v25h-24zM1563 2415h25v25h-25zM1685 2440h25v25h-25zM1783 2440h55v25h-55zM414 2465h25v24h-25zM1368 2465h48v24h-48zM1588 2465h24v24h-24zM1636 2465h25v24h-25zM1416 2489h25v25h-25zM1539 2489h49v25h-49zM1612 2489h49v25h-49zM1808 2489h30v25h-30zM390 2514h24v24h-24zM659 2514h24v24h-24zM1612 2514h24v24h-24zM292 2538h49v25h-49zM366 2538h24v25h-24zM708 2538h24v25h-24zM1612 2538h49v25h-49zM341 2563h49v25h-49zM317 2588h97v24h-97zM610 2588h24v24h-24zM1392 2588h24v24h-24zM341 2612h73v25h-73zM1368 2612h24v25h-24zM366 2637h24v24h-24zM439 2661h24v25h-24zM781 2661h24v25h-24zM1368 2661h24v25h-24zM1734 2661h25v25h-25zM414 2686h49v25h-49zM781 2686h24v25h-24zM1490 2686h24v25h-24zM439 2711h24v24h-24zM1441 2711h24v24h-24zM1734 2711h25v24h-25zM390 2735h24v25h-24zM439 2735h24v25h-24zM1001 2735h24v25h-24zM317 2760h24v24h-24zM366 2760h48v24h-48zM903 2760h49v24h-49zM1074 2760h25v24h-25zM1759 2760h24v24h-24zM341 2784h25v25h-25zM830 2784h24v25h-24zM952 2784h25v25h-25zM1563 2784h25v25h-25zM1734 2784h25v25h-25zM366 2809h48v25h-48zM1539 2809h49v25h-49zM1734 2809h25v25h-25zM366 2834h48v24h-48zM488 2834h24v24h-24zM561 2834h25v24h-25zM1001 2834h24v24h-24zM1050 2834h73v24h-73zM1710 2834h24v24h-24zM366 2858h24v25h-24zM1099 2858h24v25h-24zM1148 2858h24v25h-24zM1636 2858h25v25h-25zM1685 2858h49v25h-49zM366 2883h24v25h-24zM488 2883h24v25h-24zM610 2883h49v25h-49zM1490 2883h24v25h-24zM805 2908h25v24h-25zM1710 2908h24v24h-24zM341 2932h49v25h-49zM414 2932h74v25h-74zM1685 2932h25v25h-25zM292 2957h25v24h-25zM537 2957h24v24h-24zM586 2957h24v24h-24zM1710 2957h24v24h-24zM317 2981h24v25h-24zM610 2981h24v25h-24zM1539 2981h49v25h-49zM366 3006h24v25h-24zM1050 3006h24v25h-24zM1808 3006h30v25h-30zM292 3031h25v24h-25zM341 3031h25v24h-25zM439 3031h24v24h-24zM561 3031h73v24h-73zM1074 3031h49v24h-49zM1563 3031h25v24h-25zM292 3055h25v25h-25zM341 3055h25v25h-25zM390 3055h98v25h-98zM1099 3055h24v25h-24zM1148 3055h24v25h-24zM1612 3055h24v25h-24zM586 3080h73v24h-73zM1099 3080h24v24h-24zM1710 3080h24v24h-24zM561 3104h25v25h-25zM805 3129h25v25h-25zM1685 3129h25v25h-25zM366 3154h48v24h-48zM1050 3154h24v24h-24zM1661 3154h24v24h-24zM268 3178h24v25h-24zM366 3178h24v25h-24zM1661 3178h24v25h-24zM1710 3178h24v25h-24zM1759 3178h24v25h-24zM268 3203h49v24h-49zM561 3203h25v24h-25zM1636 3203h74v24h-74zM1759 3203h24v24h-24zM292 3227h74v25h-74zM414 3227h49v25h-49zM488 3227h24v25h-24zM561 3227h25v25h-25zM1661 3227h24v25h-24zM317 3252h97v27h-97zM439 3252h73v27h-73zM537 3252h24v27h-24z"/>
<path fill="#38ffc7" d="M732 1923h25v25h-25zM1172 1923h25v25h-25zM1319 1923h24v25h-24zM610 1948h24v24h-24zM879 1948h24v24h-24zM1172 1948h25v24h-25zM1270 1948h24v24h-24zM1001 1972h24v25h-24zM1172 1972h25v25h-25zM1245 1972h49v25h-49zM1319 1972h49v25h-49zM1710 1972h24v25h-24zM1783 1972h25v25h-25zM1050 1997h49v25h-49zM1319 1997h24v25h-24zM1734 1997h49v25h-49zM1025 2022h25v24h-25zM1074 2022h25v24h-25zM1148 2022h24v24h-24zM1319 2022h49v24h-49zM1490 2022h24v24h-24zM292 2046h25v25h-25zM1099 2046h24v25h-24zM1392 2046h24v25h-24zM1441 2046h24v25h-24zM1490 2046h24v25h-24zM292 2071h25v24h-25zM390 2071h24v24h-24zM977 2071h24v24h-24zM1050 2071h73v24h-73zM1490 2071h24v24h-24zM1661 2071h73v24h-73zM1759 2071h49v24h-49zM292 2095h25v25h-25zM439 2095h24v25h-24zM659 2095h24v25h-24zM732 2095h25v25h-25zM1001 2095h49v25h-49zM1710 2095h24v25h-24zM439 2120h24v25h-24zM1294 2120h25v25h-25zM1343 2120h25v25h-25zM439 2145h24v24h-24zM1050 2145h24v24h-24zM1294 2145h49v24h-49zM1783 2145h25v24h-25zM317 2169h24v25h-24zM390 2169h24v25h-24zM1294 2169h25v25h-25zM1808 2169h30v25h-30zM292 2194h25v24h-25zM683 2194h25v24h-25zM1221 2194h24v24h-24zM1270 2194h24v24h-24zM1759 2194h24v24h-24zM683 2218h25v25h-25zM1197 2218h24v25h-24zM1245 2218h25v25h-25zM1612 2218h24v25h-24zM1661 2218h24v25h-24zM1734 2218h25v25h-25zM1808 2218h30v25h-30zM317 2243h73v25h-73zM1221 2243h24v25h-24zM1734 2243h25v25h-25zM732 2268h49v24h-49zM1319 2268h24v24h-24zM1441 2268h24v24h-24zM292 2292h25v25h-25zM366 2292h24v25h-24zM512 2292h49v25h-49zM732 2292h98v25h-98zM292 2317h25v24h-25zM390 2317h24v24h-24zM781 2317h49v24h-49zM1441 2317h24v24h-24zM1514 2317h25v24h-25zM1612 2317h24v24h-24zM1759 2317h24v24h-24zM390 2341h24v25h-24zM732 2341h49v25h-49zM317 2366h73v25h-73zM1539 2366h24v25h-24zM366 2391h24v24h-24zM1563 2391h25v24h-25zM1612 2391h24v24h-24zM537 2415h24v25h-24zM1759 2415h24v25h-24zM757 2440h24v25h-24zM1221 2440h24v25h-24zM1343 2440h25v25h-25zM1172 2465h49v24h-49zM1808 2465h30v24h-30zM390 2489h49v25h-49zM1514 2489h25v25h-25zM366 2514h24v24h-24zM414 2514h25v24h-25zM757 2514h24v24h-24zM1441 2514h24v24h-24zM1636 2514h49v24h-49zM390 2538h49v25h-49zM634 2538h74v25h-74zM1710 2538h24v25h-24zM659 2563h24v25h-24zM659 2588h24v24h-24zM634 2612h25v25h-25zM610 2637h24v24h-24zM1343 2637h25v24h-25zM463 2661h25v25h-25zM1343 2661h25v25h-25zM1465 2661h25v25h-25zM463 2686h25v25h-25zM1416 2686h49v25h-49zM1734 2686h25v25h-25zM317 2711h49v24h-49zM781 2711h24v24h-24zM977 2711h24v24h-24zM317 2735h24v25h-24zM366 2735h24v25h-24zM463 2735h25v25h-25zM634 2735h25v25h-25zM757 2735h24v25h-24zM928 2735h24v25h-24zM1050 2735h24v25h-24zM341 2760h25v24h-25zM732 2760h25v24h-25zM805 2760h25v24h-25zM854 2760h25v24h-25zM1710 2760h24v24h-24zM537 2784h49v25h-49zM610 2784h24v25h-24zM781 2784h49v25h-49zM879 2784h24v25h-24zM1099 2784h24v25h-24zM1539 2784h24v25h-24zM512 2809h25v25h-25zM586 2809h24v25h-24zM634 2809h25v25h-25zM757 2809h24v25h-24zM830 2809h24v25h-24zM952 2809h25v25h-25zM512 2834h25v24h-25zM586 2834h24v24h-24zM634 2834h25v24h-25zM732 2834h49v24h-49zM879 2834h24v24h-24zM977 2834h24v24h-24zM1490 2834h24v24h-24zM341 2858h25v25h-25zM610 2858h73v25h-73zM1172 2858h25v25h-25zM683 2883h25v25h-25zM732 2883h73v25h-73zM463 2908h49v24h-49zM390 2932h24v25h-24zM537 2932h24v25h-24zM1123 2932h25v25h-25zM1441 2957h24v24h-24zM439 2981h24v25h-24zM1710 2981h24v25h-24zM1783 2981h25v25h-25zM317 3031h24v24h-24zM390 3031h49v24h-49zM634 3031h25v24h-25zM1025 3031h49v24h-49zM1588 3031h24v24h-24zM317 3055h24v25h-24zM586 3055h73v25h-73zM1074 3055h25v25h-25zM1636 3055h25v25h-25zM292 3080h25v24h-25zM1539 3080h24v24h-24zM1025 3104h25v25h-25zM1685 3104h25v25h-25zM561 3129h25v25h-25zM854 3129h25v25h-25zM1074 3129h25v25h-25zM1661 3129h24v25h-24zM561 3154h25v24h-25zM781 3154h24v24h-24zM1074 3154h49v24h-49zM512 3178h25v25h-25zM1123 3178h25v25h-25zM1734 3178h25v25h-25zM366 3203h24v24h-24zM414 3203h25v24h-25zM1710 3203h49v24h-49zM366 3227h48v25h-48zM1319 3227h24v25h-24zM1685 3227h49v25h-49zM1759 3227h24v25h-24zM1808 3227h30v25h-30zM292 3252h25v27h-25zM561 3252h73v27h-73zM1319 3252h24v27h-24z"/>
<path fill="#80ff80" d="M586 1923h24v25h-24zM952 1923h25v25h-25zM1123 1923h49v25h-49zM1343 1923h49v25h-49zM1465 1923h25v25h-25zM1685 1923h25v25h-25zM1759 1923h24v25h-24zM586 1948h24v24h-24zM977 1948h24v24h-24zM1148 1948h24v24h-24zM1465 1948h25v24h-25zM414 1972h25v25h-25zM683 1972h25v25h-25zM977 1972h24v25h-24zM1025 1972h25v25h-25zM1074 1972h25v25h-25zM1123 1972h49v25h-49zM1197 1972h24v25h-24zM1294 1972h25v25h-25zM1685 1972h25v25h-25zM1759 1972h24v25h-24zM1148 1997h24v25h-24zM1270 1997h49v25h-49zM1294 2022h25v24h-25zM1734 2022h25v24h-25zM1294 2046h25v25h-25zM659 2071h49v24h-49zM732 2071h25v24h-25zM854 2071h49v24h-49zM781 2095h24v25h-24zM952 2095h25v25h-25zM1050 2095h24v25h-24zM1636 2095h25v25h-25zM610 2120h24v25h-24zM683 2120h49v25h-49zM1001 2120h73v25h-73zM1588 2120h24v25h-24zM341 2145h25v24h-25zM414 2145h25v24h-25zM854 2145h25v24h-25zM1099 2145h24v24h-24zM1808 2145h30v24h-30zM732 2169h25v25h-25zM1221 2169h73v25h-73zM1343 2169h25v25h-25zM1685 2169h49v25h-49zM390 2194h24v24h-24zM708 2194h49v24h-49zM1074 2194h25v24h-25zM1245 2194h25v24h-25zM1514 2194h25v24h-25zM1661 2194h24v24h-24zM732 2218h25v25h-25zM1001 2218h24v25h-24zM1441 2218h24v25h-24zM1636 2218h25v25h-25zM1759 2218h24v25h-24zM830 2243h24v25h-24zM1416 2243h25v25h-25zM1808 2243h30v25h-30zM561 2268h25v24h-25zM781 2268h73v24h-73zM390 2292h24v25h-24zM659 2292h24v25h-24zM830 2292h24v25h-24zM1416 2292h25v25h-25zM1514 2292h25v25h-25zM341 2317h25v24h-25zM414 2317h25v24h-25zM830 2317h24v24h-24zM366 2341h24v25h-24zM512 2341h25v25h-25zM708 2341h24v25h-24zM854 2341h25v25h-25zM1441 2341h24v25h-24zM1808 2341h30v25h-30zM390 2366h24v25h-24zM757 2366h24v25h-24zM830 2366h24v25h-24zM1416 2366h25v25h-25zM1514 2366h25v25h-25zM1808 2366h30v25h-30zM390 2391h24v24h-24zM488 2391h24v24h-24zM732 2391h25v24h-25zM1368 2391h24v24h-24zM1588 2391h24v24h-24zM732 2415h25v25h-25zM1197 2415h24v25h-24zM1783 2415h55v25h-55zM512 2440h49v25h-49zM928 2440h24v25h-24zM1710 2440h24v25h-24zM1343 2465h25v24h-25zM1661 2465h24v24h-24zM634 2489h25v25h-25zM1392 2489h24v25h-24zM1661 2489h24v25h-24zM708 2514h24v24h-24zM1465 2514h25v24h-25zM781 2538h24v25h-24zM1465 2538h25v25h-25zM390 2563h49v25h-49zM610 2563h24v25h-24zM683 2563h49v25h-49zM683 2588h25v24h-25zM1759 2588h24v24h-24zM586 2612h24v25h-24zM659 2612h24v25h-24zM586 2637h24v24h-24zM488 2686h24v25h-24zM1123 2686h25v25h-25zM1392 2686h24v25h-24zM1539 2686h24v25h-24zM488 2711h24v24h-24zM757 2711h24v24h-24zM952 2711h25v24h-25zM1685 2711h25v24h-25zM341 2735h25v25h-25zM488 2735h24v25h-24zM610 2735h24v25h-24zM659 2735h24v25h-24zM879 2735h24v25h-24zM1270 2735h24v25h-24zM1416 2735h25v25h-25zM1612 2735h24v25h-24zM610 2760h49v24h-49zM1245 2760h25v24h-25zM1612 2760h24v24h-24zM512 2784h25v25h-25zM586 2784h24v25h-24zM903 2784h25v25h-25zM1148 2784h49v25h-49zM1441 2784h24v25h-24zM1588 2784h24v25h-24zM463 2809h25v25h-25zM732 2809h25v25h-25zM879 2809h24v25h-24zM1465 2809h25v25h-25zM1710 2809h24v25h-24zM610 2834h24v24h-24zM708 2834h24v24h-24zM830 2834h24v24h-24zM903 2834h25v24h-25zM952 2834h25v24h-25zM1588 2834h24v24h-24zM757 2858h24v25h-24zM1001 2858h49v25h-49zM1074 2858h25v25h-25zM1612 2858h24v25h-24zM341 2883h25v25h-25zM659 2883h24v25h-24zM1123 2883h25v25h-25zM1197 2883h24v25h-24zM1270 2908h24v24h-24zM610 2932h24v25h-24zM1074 2932h25v25h-25zM439 2957h24v24h-24zM561 2957h25v24h-25zM341 2981h49v25h-49zM634 2981h25v25h-25zM1025 2981h98v25h-98zM1685 2981h25v25h-25zM439 3006h24v25h-24zM1514 3006h25v25h-25zM1563 3006h25v25h-25zM1710 3031h24v24h-24zM1050 3055h24v25h-24zM1539 3055h24v25h-24zM659 3080h24v24h-24zM1148 3080h24v24h-24zM610 3104h73v25h-73zM879 3104h24v25h-24zM1050 3104h24v25h-24zM1099 3104h24v25h-24zM1514 3104h25v25h-25zM1588 3104h97v25h-97zM879 3129h24v25h-24zM1025 3129h25v25h-25zM1123 3129h25v25h-25zM805 3154h25v24h-25zM1636 3154h25v24h-25zM390 3178h49v25h-49zM1588 3178h48v25h-48zM390 3203h24v24h-24zM1734 3227h25v25h-25zM1294 3252h25v27h-25zM1563 3252h25v27h-25z"/>
<path fill="#d6ff29" d="M439 1948h24v24h-24zM610 1972h24v25h-24zM708 1972h24v25h-24zM977 1997h24v25h-24zM1123 1997h25v25h-25zM1172 1997h25v25h-25zM1099 2022h24v24h-24zM1270 2022h24v24h-24zM683 2046h25v25h-25zM928 2046h49v25h-49zM1270 2046h24v25h-24zM1319 2046h24v25h-24zM830 2071h24v24h-24zM903 2071h25v24h-25zM952 2071h25v24h-25zM1123 2071h25v24h-25zM1172 2071h25v24h-25zM1343 2071h25v24h-25zM610 2095h24v25h-24zM757 2095h24v25h-24zM830 2095h24v25h-24zM903 2095h25v25h-25zM757 2120h73v25h-73zM928 2120h24v25h-24zM1074 2120h25v25h-25zM1539 2120h24v25h-24zM1710 2120h24v25h-24zM317 2145h24v24h-24zM634 2145h49v24h-49zM732 2145h73v24h-73zM879 2145h73v24h-73zM1025 2145h25v24h-25zM1221 2145h24v24h-24zM1368 2145h24v24h-24zM1710 2145h24v24h-24zM439 2169h24v25h-24zM683 2169h49v25h-49zM781 2169h24v25h-24zM854 2169h25v25h-25zM1123 2169h25v25h-25zM1172 2169h49v25h-49zM952 2194h25v24h-25zM1050 2194h24v24h-24zM1099 2194h49v24h-49zM1172 2194h25v24h-25zM1441 2194h24v24h-24zM414 2218h49v25h-49zM1123 2218h74v25h-74zM1343 2218h25v25h-25zM1416 2218h25v25h-25zM439 2243h24v25h-24zM1123 2243h25v25h-25zM1197 2243h24v25h-24zM1759 2243h49v25h-49zM439 2268h49v24h-49zM683 2268h25v24h-25zM1245 2268h49v24h-49zM1416 2268h25v24h-25zM1734 2268h25v24h-25zM561 2292h25v25h-25zM854 2292h25v25h-25zM1319 2292h24v25h-24zM512 2317h49v24h-49zM854 2317h25v24h-25zM1001 2317h24v24h-24zM1416 2317h25v24h-25zM1710 2317h24v24h-24zM1783 2317h25v24h-25zM414 2341h25v25h-25zM1514 2341h25v25h-25zM1783 2341h25v25h-25zM1148 2366h24v25h-24zM1783 2366h25v25h-25zM854 2391h25v24h-25zM1783 2391h25v24h-25zM463 2415h25v25h-25zM928 2415h24v25h-24zM1221 2415h24v25h-24zM1734 2415h25v25h-25zM561 2440h25v25h-25zM830 2440h24v25h-24zM1734 2440h49v25h-49zM439 2465h24v24h-24zM561 2465h25v24h-25zM757 2465h24v24h-24zM1001 2465h24v24h-24zM1148 2465h24v24h-24zM1685 2465h25v24h-25zM439 2489h24v25h-24zM561 2489h25v25h-25zM610 2489h24v25h-24zM757 2489h24v25h-24zM977 2489h48v25h-48zM1123 2489h25v25h-25zM610 2514h24v24h-24zM732 2514h25v24h-25zM781 2514h24v24h-24zM1074 2514h25v24h-25zM1416 2514h25v24h-25zM1539 2514h24v24h-24zM1685 2514h25v24h-25zM732 2538h25v25h-25zM805 2538h49v25h-49zM1441 2538h24v25h-24zM1685 2538h25v25h-25zM805 2563h49v25h-49zM879 2563h49v25h-49zM1710 2563h24v25h-24zM1808 2563h30v25h-30zM439 2588h24v24h-24zM781 2588h73v24h-73zM879 2588h24v24h-24zM1441 2612h24v25h-24zM659 2637h24v24h-24zM781 2637h24v24h-24zM659 2661h24v25h-24zM805 2661h25v25h-25zM805 2686h25v25h-25zM1368 2686h24v25h-24zM1563 2686h25v25h-25zM512 2711h25v24h-25zM732 2711h25v24h-25zM928 2711h24v24h-24zM1050 2711h24v24h-24zM1416 2711h25v24h-25zM854 2735h25v25h-25zM1636 2735h74v25h-74zM463 2760h98v24h-98zM659 2760h24v24h-24zM1123 2760h25v24h-25zM1685 2760h25v24h-25zM463 2784h25v25h-25zM634 2784h25v25h-25zM732 2784h49v25h-49zM1588 2809h24v25h-24zM659 2834h49v24h-49zM683 2858h25v25h-25zM854 2858h25v25h-25zM928 2858h49v25h-49zM1050 2858h24v25h-24zM1465 2858h25v25h-25zM952 2883h25v25h-25zM1294 2908h25v24h-25zM610 2957h24v24h-24zM1050 2957h49v24h-49zM1441 3006h24v25h-24zM1490 3006h24v25h-24zM1025 3055h25v25h-25zM854 3080h25v24h-25zM1001 3080h49v24h-49zM1074 3080h25v24h-25zM1074 3104h25v25h-25zM1539 3104h24v25h-24zM610 3129h73v25h-73zM1539 3129h73v25h-73zM1636 3129h25v25h-25zM634 3154h25v24h-25zM1539 3154h73v24h-73zM634 3178h25v25h-25zM1539 3178h49v25h-49zM1563 3203h25v24h-25zM634 3227h49v25h-49zM1294 3227h25v25h-25zM1343 3227h25v25h-25zM659 3252h24v27h-24zM903 3252h25v27h-25z"/>
<path fill="#ffff00" d="M512 1923h25v25h-25zM1514 1923h25v25h-25zM1099 1948h24v24h-24zM634 1972h25v25h-25zM1759 2022h24v24h-24zM854 2046h74v25h-74zM928 2071h24v24h-24zM1416 2071h25v24h-25zM414 2095h25v25h-25zM805 2095h25v25h-25zM1245 2120h25v25h-25zM610 2145h24v24h-24zM830 2145h24v24h-24zM1001 2145h24v24h-24zM463 2169h25v25h-25zM1148 2169h24v25h-24zM1539 2169h24v25h-24zM1612 2169h24v25h-24zM439 2194h24v24h-24zM757 2194h24v24h-24zM928 2194h24v24h-24zM1148 2194h24v24h-24zM1368 2194h24v24h-24zM1465 2194h49v24h-49zM1783 2194h25v24h-25zM390 2218h24v25h-24zM390 2243h49v25h-49zM561 2243h25v25h-25zM805 2243h25v25h-25zM390 2268h49v24h-49zM854 2268h25v24h-25zM1123 2268h25v24h-25zM1343 2268h25v24h-25zM634 2292h25v25h-25zM1245 2292h74v25h-74zM1392 2292h24v25h-24zM1392 2317h24v24h-24zM952 2341h25v25h-25zM1368 2341h24v25h-24zM414 2366h25v25h-25zM1368 2366h24v25h-24zM1759 2391h24v24h-24zM1808 2391h30v24h-30zM488 2415h24v25h-24zM708 2415h24v25h-24zM1172 2415h25v25h-25zM1710 2415h24v25h-24zM977 2440h24v25h-24zM1319 2440h24v25h-24zM586 2465h48v24h-48zM1099 2465h49v24h-49zM1319 2465h24v24h-24zM586 2489h24v25h-24zM683 2489h25v25h-25zM879 2489h24v25h-24zM928 2489h49v25h-49zM1050 2489h24v25h-24zM1099 2489h24v25h-24zM1685 2489h25v25h-25zM805 2514h25v24h-25zM1392 2514h24v24h-24zM1808 2514h30v24h-30zM439 2538h24v25h-24zM757 2538h24v25h-24zM854 2538h25v25h-25zM1123 2538h25v25h-25zM1416 2538h25v25h-25zM757 2563h24v25h-24zM1319 2563h24v25h-24zM1490 2563h24v25h-24zM1612 2563h49v25h-49zM708 2588h24v24h-24zM854 2588h25v24h-25zM1343 2588h25v24h-25zM1416 2588h25v24h-25zM1734 2588h25v24h-25zM708 2612h24v25h-24zM854 2612h25v25h-25zM1123 2612h25v25h-25zM561 2637h25v24h-25zM757 2637h24v24h-24zM928 2637h24v24h-24zM1319 2637h24v24h-24zM1734 2637h25v24h-25zM488 2661h24v25h-24zM1319 2661h24v25h-24zM732 2686h25v25h-25zM879 2686h24v25h-24zM1025 2686h25v25h-25zM1685 2686h25v25h-25zM659 2711h24v24h-24zM1074 2711h25v24h-25zM1197 2711h24v24h-24zM1612 2711h73v24h-73zM512 2735h25v25h-25zM830 2735h24v25h-24zM1099 2735h24v25h-24zM561 2760h25v24h-25zM610 2809h24v25h-24zM708 2809h24v25h-24zM1441 2834h24v24h-24zM977 2858h24v25h-24zM1490 2858h24v25h-24zM1099 2883h24v25h-24zM1343 2883h25v25h-25zM659 2908h49v24h-49zM781 2908h24v24h-24zM1123 2908h25v24h-25zM634 2932h25v25h-25zM1050 2932h24v25h-24zM1270 2932h24v25h-24zM366 2957h24v24h-24zM952 2957h25v24h-25zM928 2981h24v25h-24zM1123 2981h25v25h-25zM683 3006h25v25h-25zM1588 3006h24v25h-24zM1514 3031h25v24h-25zM1172 3055h25v25h-25zM805 3080h25v24h-25zM586 3104h24v25h-24zM1001 3104h24v25h-24zM1392 3104h24v25h-24zM1514 3129h25v25h-25zM1612 3129h24v25h-24zM1612 3154h24v24h-24zM1050 3178h24v25h-24zM1319 3178h24v25h-24zM1099 3203h24v24h-24zM1294 3203h49v24h-49zM1465 3203h25v24h-25zM1588 3203h24v24h-24zM854 3252h25v27h-25zM1221 3252h24v27h-24zM1343 3252h25v27h-25z"/>
<path fill="#ffd400" d="M561 1923h25v25h-25zM1490 1923h24v25h-24zM732 1948h25v24h-25zM1734 1948h74v24h-74zM561 1972h49v25h-49zM732 1972h25v25h-25zM854 1972h25v25h-25zM414 1997h25v25h-25zM977 2022h24v24h-24zM1172 2022h25v24h-25zM1808 2022h30v24h-30zM757 2071h24v24h-24zM1148 2071h24v24h-24zM586 2095h24v25h-24zM634 2095h25v25h-25zM1074 2095h25v25h-25zM1270 2095h24v25h-24zM463 2120h25v25h-25zM634 2120h25v25h-25zM732 2120h25v25h-25zM854 2120h25v25h-25zM1148 2120h49v25h-49zM1465 2120h25v25h-25zM805 2145h25v24h-25zM952 2145h25v24h-25zM1172 2145h25v24h-25zM1539 2145h24v24h-24zM414 2169h25v25h-25zM830 2169h24v25h-24zM1025 2169h25v25h-25zM1392 2169h24v25h-24zM414 2194h25v24h-25zM977 2194h24v24h-24zM1343 2194h25v24h-25zM1392 2194h49v24h-49zM463 2218h25v25h-25zM928 2218h24v25h-24zM1368 2218h24v25h-24zM1783 2218h25v25h-25zM683 2243h25v25h-25zM854 2243h49v25h-49zM1172 2243h25v25h-25zM586 2268h24v24h-24zM903 2268h25v24h-25zM1074 2268h25v24h-25zM1197 2268h48v24h-48zM1392 2268h24v24h-24zM1759 2268h24v24h-24zM586 2292h48v25h-48zM1123 2292h25v25h-25zM1172 2292h73v25h-73zM1148 2317h49v24h-49zM1221 2317h49v24h-49zM537 2341h24v25h-24zM586 2341h24v25h-24zM1025 2341h25v25h-25zM1759 2341h24v25h-24zM952 2366h25v25h-25zM1343 2366h25v25h-25zM1759 2366h24v25h-24zM414 2391h25v24h-25zM708 2391h24v24h-24zM928 2391h49v24h-49zM1197 2391h48v24h-48zM1685 2391h74v24h-74zM830 2415h24v25h-24zM903 2415h25v25h-25zM952 2415h25v25h-25zM1343 2415h25v25h-25zM1636 2415h25v25h-25zM732 2465h25v24h-25zM879 2465h24v24h-24zM1050 2465h49v24h-49zM512 2489h25v25h-25zM732 2489h25v25h-25zM830 2489h24v25h-24zM1074 2489h25v25h-25zM1148 2489h49v25h-49zM1783 2489h25v25h-25zM439 2514h24v24h-24zM586 2514h24v24h-24zM830 2514h24v24h-24zM952 2514h73v24h-73zM1050 2514h24v24h-24zM1099 2514h24v24h-24zM586 2538h48v25h-48zM1343 2538h25v25h-25zM1539 2538h24v25h-24zM1734 2538h25v25h-25zM1294 2563h25v25h-25zM1343 2563h25v25h-25zM1392 2563h24v25h-24zM1441 2563h49v25h-49zM1514 2563h25v25h-25zM1685 2563h25v25h-25zM1734 2563h25v25h-25zM414 2588h25v24h-25zM1319 2588h24v24h-24zM561 2612h25v25h-25zM757 2612h48v25h-48zM830 2612h24v25h-24zM1148 2612h24v25h-24zM1294 2612h49v25h-49zM1465 2612h25v25h-25zM512 2637h25v24h-25zM805 2637h49v24h-49zM1465 2637h25v24h-25zM537 2661h49v25h-49zM634 2661h25v25h-25zM683 2661h74v25h-74zM928 2661h24v25h-24zM683 2686h49v25h-49zM928 2686h97v25h-97zM1148 2686h24v25h-24zM1343 2686h25v25h-25zM634 2711h25v24h-25zM683 2711h49v24h-49zM1563 2711h25v24h-25zM537 2735h24v25h-24zM1123 2735h25v25h-25zM830 2760h24v24h-24zM1636 2760h49v24h-49zM1612 2784h24v25h-24zM1465 2883h25v25h-25zM708 2908h24v24h-24zM1319 2908h49v24h-49zM1294 2932h25v25h-25zM732 2981h25v25h-25zM1392 2981h73v25h-73zM634 3006h25v25h-25zM1123 3006h25v25h-25zM1148 3031h24v24h-24zM1490 3031h24v24h-24zM1661 3031h49v24h-49zM1661 3055h24v25h-24zM879 3080h24v24h-24zM1661 3080h24v24h-24zM683 3104h25v25h-25zM903 3104h25v25h-25zM586 3129h24v25h-24zM1001 3129h24v25h-24zM1490 3129h24v25h-24zM586 3154h48v24h-48zM659 3154h24v24h-24zM1001 3154h24v24h-24zM1490 3154h24v24h-24zM586 3178h48v25h-48zM659 3178h24v25h-24zM1074 3178h25v25h-25zM1294 3178h25v25h-25zM659 3203h24v24h-24zM903 3203h25v24h-25zM1343 3203h25v24h-25zM586 3227h24v25h-24zM1074 3227h25v25h-25z"/>
<path fill="#ffa300" d="M439 1923h73v25h-73zM537 1923h24v25h-24zM512 1948h49v24h-49zM634 1948h49v24h-49zM781 1948h73v24h-73zM1001 1948h24v24h-24zM1368 1948h24v24h-24zM1514 1948h25v24h-25zM1612 1948h73v24h-73zM659 1972h24v25h-24zM781 1972h24v25h-24zM879 1972h24v25h-24zM952 1972h25v25h-25zM1099 1972h24v25h-24zM1808 1972h30v25h-30zM586 1997h73v25h-73zM757 1997h48v25h-48zM879 1997h49v25h-49zM952 1997h25v25h-25zM1001 1997h24v25h-24zM1197 1997h24v25h-24zM586 2022h24v24h-24zM659 2022h49v24h-49zM757 2022h24v24h-24zM879 2022h49v24h-49zM1245 2022h25v24h-25zM1465 2022h25v24h-25zM659 2046h24v25h-24zM977 2046h24v25h-24zM1172 2046h25v25h-25zM1245 2046h25v25h-25zM1343 2046h25v25h-25zM1734 2046h49v25h-49zM439 2071h24v24h-24zM610 2071h24v24h-24zM805 2071h25v24h-25zM1245 2071h49v24h-49zM1392 2071h24v24h-24zM317 2095h24v25h-24zM463 2095h25v25h-25zM928 2095h24v25h-24zM1148 2095h49v25h-49zM1245 2095h25v25h-25zM1661 2095h49v25h-49zM586 2120h24v25h-24zM830 2120h24v25h-24zM879 2120h49v25h-49zM952 2120h49v25h-49zM1221 2120h24v25h-24zM1416 2120h25v25h-25zM1514 2120h25v25h-25zM1636 2120h25v25h-25zM1808 2120h30v25h-30zM463 2145h25v24h-25zM586 2145h24v24h-24zM683 2145h25v24h-25zM977 2145h24v24h-24zM1123 2145h49v24h-49zM1197 2145h24v24h-24zM1392 2145h49v24h-49zM1465 2145h25v24h-25zM1612 2145h73v24h-73zM610 2169h73v25h-73zM805 2169h25v25h-25zM903 2169h49v25h-49zM977 2169h48v25h-48zM1416 2169h74v25h-74zM659 2194h24v24h-24zM879 2194h49v24h-49zM1612 2194h24v24h-24zM757 2218h24v25h-24zM805 2218h25v25h-25zM879 2218h49v25h-49zM1025 2218h49v25h-49zM1099 2218h24v25h-24zM1392 2218h24v25h-24zM537 2243h24v25h-24zM586 2243h24v25h-24zM708 2243h24v25h-24zM903 2243h25v25h-25zM1025 2243h25v25h-25zM1148 2243h24v25h-24zM1245 2243h25v25h-25zM1368 2243h24v25h-24zM610 2268h73v24h-73zM879 2268h24v24h-24zM1099 2268h24v24h-24zM1172 2268h25v24h-25zM1368 2268h24v24h-24zM1783 2268h25v24h-25zM414 2292h25v25h-25zM708 2292h24v25h-24zM879 2292h49v25h-49zM1050 2292h73v25h-73zM1148 2292h24v25h-24zM1343 2292h49v25h-49zM1783 2292h25v25h-25zM463 2317h49v24h-49zM561 2317h98v24h-98zM903 2317h25v24h-25zM952 2317h49v24h-49zM1025 2317h123v24h-123zM1197 2317h24v24h-24zM1270 2317h24v24h-24zM1319 2317h73v24h-73zM561 2341h25v25h-25zM610 2341h49v25h-49zM683 2341h25v25h-25zM928 2341h24v25h-24zM977 2341h48v25h-48zM1050 2341h49v25h-49zM1123 2341h196v25h-196zM1343 2341h25v25h-25zM1392 2341h49v25h-49zM1661 2341h49v25h-49zM1734 2341h25v25h-25zM439 2366h24v25h-24zM537 2366h73v25h-73zM683 2366h25v25h-25zM854 2366h25v25h-25zM903 2366h49v25h-49zM1001 2366h24v25h-24zM1050 2366h98v25h-98zM1172 2366h25v25h-25zM1221 2366h122v25h-122zM1392 2366h24v25h-24zM561 2391h49v24h-49zM683 2391h25v24h-25zM903 2391h25v24h-25zM1001 2391h24v24h-24zM1074 2391h74v24h-74zM1245 2391h49v24h-49zM1319 2391h49v24h-49zM1661 2391h24v24h-24zM414 2415h25v25h-25zM561 2415h49v25h-49zM683 2415h25v25h-25zM1001 2415h24v25h-24zM1074 2415h74v25h-74zM1245 2415h98v25h-98zM1661 2415h24v25h-24zM634 2440h25v25h-25zM683 2440h49v25h-49zM854 2440h25v25h-25zM903 2440h25v25h-25zM1025 2440h123v25h-123zM1294 2440h25v25h-25zM1588 2440h73v25h-73zM488 2465h24v24h-24zM659 2465h24v24h-24zM781 2465h98v24h-98zM903 2465h49v24h-49zM1025 2465h25v24h-25zM1270 2465h49v24h-49zM1710 2465h49v24h-49zM463 2489h49v25h-49zM537 2489h24v25h-24zM781 2489h49v25h-49zM854 2489h25v25h-25zM903 2489h25v25h-25zM1025 2489h25v25h-25zM1197 2489h24v25h-24zM1294 2489h98v25h-98zM1588 2489h24v25h-24zM1710 2489h73v25h-73zM537 2514h49v24h-49zM854 2514h25v24h-25zM903 2514h49v24h-49zM1025 2514h25v24h-25zM1148 2514h24v24h-24zM1319 2514h24v24h-24zM1368 2514h24v24h-24zM1563 2514h25v24h-25zM1710 2514h49v24h-49zM879 2538h49v25h-49zM1001 2538h24v25h-24zM1050 2538h73v25h-73zM1319 2538h24v25h-24zM1368 2538h48v25h-48zM1490 2538h24v25h-24zM1661 2538h24v25h-24zM463 2563h25v25h-25zM732 2563h25v25h-25zM1050 2563h24v25h-24zM1099 2563h73v25h-73zM1368 2563h24v25h-24zM1416 2563h25v25h-25zM1539 2563h24v25h-24zM1661 2563h24v25h-24zM463 2588h25v24h-25zM586 2588h24v24h-24zM903 2588h25v24h-25zM1123 2588h25v24h-25zM1172 2588h25v24h-25zM1245 2588h74v24h-74zM1368 2588h24v24h-24zM1490 2588h49v24h-49zM1661 2588h24v24h-24zM1710 2588h24v24h-24zM439 2612h24v25h-24zM537 2612h24v25h-24zM683 2612h25v25h-25zM732 2612h25v25h-25zM805 2612h25v25h-25zM879 2612h24v25h-24zM928 2612h24v25h-24zM1099 2612h24v25h-24zM1172 2612h122v25h-122zM1490 2612h24v25h-24zM1734 2612h25v25h-25zM463 2637h49v24h-49zM537 2637h24v24h-24zM683 2637h74v24h-74zM854 2637h49v24h-49zM1123 2637h196v24h-196zM1490 2637h24v24h-24zM512 2661h25v25h-25zM586 2661h48v25h-48zM757 2661h24v25h-24zM830 2661h98v25h-98zM1123 2661h98v25h-98zM1245 2661h25v25h-25zM1294 2661h25v25h-25zM1514 2661h49v25h-49zM512 2686h25v25h-25zM586 2686h24v25h-24zM634 2686h49v25h-49zM757 2686h24v25h-24zM854 2686h25v25h-25zM903 2686h25v25h-25zM1050 2686h73v25h-73zM1197 2686h48v25h-48zM1319 2686h24v25h-24zM830 2711h73v24h-73zM1025 2711h25v24h-25zM1099 2711h98v24h-98zM1221 2711h24v24h-24zM1343 2711h49v24h-49zM561 2735h25v25h-25zM683 2735h74v25h-74zM805 2735h25v25h-25zM903 2735h25v25h-25zM1074 2735h25v25h-25zM1172 2735h73v25h-73zM1368 2735h24v25h-24zM586 2760h24v24h-24zM683 2760h49v24h-49zM1099 2760h24v24h-24zM1172 2760h25v24h-25zM1392 2760h24v24h-24zM659 2784h49v25h-49zM928 2784h24v25h-24zM1197 2784h24v25h-24zM317 2809h49v25h-49zM659 2809h49v25h-49zM903 2809h49v25h-49zM1441 2809h24v25h-24zM341 2834h25v24h-25zM1465 2834h25v24h-25zM708 2858h24v25h-24zM830 2858h24v25h-24zM879 2858h24v25h-24zM1221 2858h24v25h-24zM1319 2858h49v25h-49zM805 2883h49v25h-49zM1025 2883h25v25h-25zM1074 2883h25v25h-25zM1221 2883h24v25h-24zM1270 2883h73v25h-73zM1416 2883h25v25h-25zM634 2908h25v24h-25zM1001 2908h49v24h-49zM1197 2908h73v24h-73zM1416 2908h25v24h-25zM659 2932h73v25h-73zM977 2932h73v25h-73zM1245 2932h25v25h-25zM341 2957h25v24h-25zM390 2957h49v24h-49zM683 2957h25v24h-25zM928 2957h24v24h-24zM977 2957h73v24h-73zM1099 2957h49v24h-49zM1245 2957h49v24h-49zM1343 2957h98v24h-98zM390 2981h24v25h-24zM683 2981h49v25h-49zM757 2981h24v25h-24zM805 2981h25v25h-25zM952 2981h73v25h-73zM1343 2981h49v25h-49zM390 3006h24v25h-24zM708 3006h24v25h-24zM1025 3006h25v25h-25zM1465 3006h25v25h-25zM1539 3006h24v25h-24zM659 3031h73v24h-73zM977 3031h48v24h-48zM1539 3031h24v24h-24zM1612 3031h24v24h-24zM683 3055h122v25h-122zM1001 3055h24v25h-24zM1294 3055h25v25h-25zM1490 3055h49v25h-49zM683 3080h25v24h-25zM757 3080h48v24h-48zM952 3080h49v24h-49zM1050 3080h24v24h-24zM1343 3080h73v24h-73zM1465 3080h25v24h-25zM1514 3080h25v24h-25zM757 3104h48v25h-48zM928 3104h73v25h-73zM1368 3104h24v25h-24zM1490 3104h24v25h-24zM683 3129h25v25h-25zM781 3129h24v25h-24zM903 3129h98v25h-98zM1099 3129h24v25h-24zM1416 3129h25v25h-25zM757 3154h24v24h-24zM854 3154h25v24h-25zM903 3154h98v24h-98zM1025 3154h25v24h-25zM1148 3154h24v24h-24zM1441 3154h49v24h-49zM1514 3154h25v24h-25zM683 3178h25v25h-25zM781 3178h24v25h-24zM928 3178h73v25h-73zM1343 3178h25v25h-25zM1465 3178h74v25h-74zM634 3203h25v24h-25zM683 3203h49v24h-49zM928 3203h49v24h-49zM1050 3203h49v24h-49zM1123 3203h25v24h-25zM1270 3203h24v24h-24zM1539 3203h24v24h-24zM610 3227h24v25h-24zM683 3227h49v25h-49zM854 3227h25v25h-25zM903 3227h98v25h-98zM1099 3227h49v25h-49zM1245 3227h49v25h-49zM1368 3227h24v25h-24zM1539 3227h24v25h-24zM512 3252h25v27h-25zM683 3252h25v27h-25zM928 3252h49v27h-49zM1025 3252h123v27h-123zM1245 3252h49v27h-49zM1368 3252h48v27h-48zM1465 3252h25v27h-25z"/>
<path fill="#ff7000" d="M463 1948h49v24h-49zM561 1948h25v24h-25zM757 1948h24v24h-24zM1025 1948h25v24h-25zM1123 1948h25v24h-25zM1490 1948h24v24h-24zM439 1972h24v25h-24zM512 1972h49v25h-49zM757 1972h24v25h-24zM805 1972h49v25h-49zM903 1972h25v25h-25zM1221 1972h24v25h-24zM512 1997h74v25h-74zM659 1997h73v25h-73zM830 1997h24v25h-24zM1099 1997h24v25h-24zM1245 1997h25v25h-25zM1783 1997h55v25h-55zM390 2022h24v24h-24zM488 2022h24v24h-24zM634 2022h25v24h-25zM708 2022h49v24h-49zM781 2022h24v24h-24zM830 2022h49v24h-49zM928 2022h49v24h-49zM1123 2022h25v24h-25zM1221 2022h24v24h-24zM1783 2022h25v24h-25zM390 2046h49v25h-49zM463 2046h25v25h-25zM610 2046h49v25h-49zM708 2046h49v25h-49zM781 2046h73v25h-73zM1123 2046h25v25h-25zM1221 2046h24v25h-24zM1368 2046h24v25h-24zM463 2071h25v24h-25zM586 2071h24v24h-24zM634 2071h25v24h-25zM781 2071h24v24h-24zM1197 2071h48v24h-48zM1368 2071h24v24h-24zM561 2095h25v25h-25zM1099 2095h49v25h-49zM1221 2095h24v25h-24zM1416 2095h25v25h-25zM1465 2095h25v25h-25zM317 2120h24v25h-24zM561 2120h25v25h-25zM1197 2120h24v25h-24zM1368 2120h24v25h-24zM1441 2120h24v25h-24zM1441 2145h24v24h-24zM1490 2145h24v24h-24zM586 2169h24v25h-24zM879 2169h24v25h-24zM952 2169h25v25h-25zM1368 2169h24v25h-24zM463 2194h25v24h-25zM586 2194h73v24h-73zM830 2194h49v24h-49zM1001 2194h49v24h-49zM1636 2194h25v24h-25zM586 2218h24v25h-24zM781 2218h24v25h-24zM830 2218h49v25h-49zM952 2218h49v25h-49zM610 2243h24v25h-24zM757 2243h24v25h-24zM1001 2243h24v25h-24zM1050 2243h49v25h-49zM708 2268h24v24h-24zM928 2268h24v24h-24zM1025 2268h49v24h-49zM1148 2268h24v24h-24zM439 2292h24v25h-24zM928 2292h49v25h-49zM1025 2292h25v25h-25zM317 2317h24v24h-24zM439 2317h24v24h-24zM879 2317h24v24h-24zM928 2317h24v24h-24zM1294 2317h25v24h-25zM317 2341h24v25h-24zM439 2341h24v25h-24zM488 2341h24v25h-24zM659 2341h24v25h-24zM879 2341h49v25h-49zM1099 2341h24v25h-24zM1319 2341h24v25h-24zM463 2366h74v25h-74zM708 2366h49v25h-49zM879 2366h24v25h-24zM977 2366h24v25h-24zM1025 2366h25v25h-25zM1197 2366h24v25h-24zM1685 2366h25v25h-25zM1734 2366h25v25h-25zM439 2391h49v24h-49zM512 2391h49v24h-49zM879 2391h24v24h-24zM977 2391h24v24h-24zM1025 2391h49v24h-49zM1294 2391h25v24h-25zM439 2415h24v25h-24zM659 2415h24v25h-24zM854 2415h49v25h-49zM977 2415h24v25h-24zM1025 2415h49v25h-49zM1588 2415h24v25h-24zM439 2440h49v25h-49zM586 2440h48v25h-48zM659 2440h24v25h-24zM732 2440h25v25h-25zM879 2440h24v25h-24zM1001 2440h24v25h-24zM1148 2440h24v25h-24zM1245 2440h49v25h-49zM1661 2440h24v25h-24zM463 2465h25v24h-25zM512 2465h25v24h-25zM634 2465h25v24h-25zM683 2465h25v24h-25zM1221 2465h49v24h-49zM1759 2465h49v24h-49zM1221 2489h73v25h-73zM463 2514h74v24h-74zM879 2514h24v24h-24zM1123 2514h25v24h-25zM1172 2514h25v24h-25zM1270 2514h49v24h-49zM1343 2514h25v24h-25zM1490 2514h49v24h-49zM1588 2514h24v24h-24zM1759 2514h49v24h-49zM488 2538h24v25h-24zM537 2538h49v25h-49zM952 2538h49v25h-49zM1025 2538h25v25h-25zM1148 2538h49v25h-49zM1221 2538h98v25h-98zM1514 2538h25v25h-25zM1759 2538h24v25h-24zM1808 2538h30v25h-30zM586 2563h24v25h-24zM977 2563h73v25h-73zM1074 2563h25v25h-25zM1172 2563h122v25h-122zM1759 2563h24v25h-24zM488 2588h24v24h-24zM561 2588h25v24h-25zM732 2588h49v24h-49zM928 2588h73v24h-73zM1025 2588h25v24h-25zM1099 2588h24v24h-24zM1148 2588h24v24h-24zM1197 2588h48v24h-48zM1441 2588h49v24h-49zM1539 2588h24v24h-24zM1612 2588h49v24h-49zM1685 2588h25v24h-25zM463 2612h25v25h-25zM1343 2612h25v25h-25zM1636 2612h98v25h-98zM903 2637h25v24h-25zM1514 2637h25v24h-25zM952 2661h25v25h-25zM1074 2661h25v25h-25zM1221 2661h24v25h-24zM1270 2661h24v25h-24zM1563 2661h25v25h-25zM1710 2661h24v25h-24zM561 2686h25v25h-25zM610 2686h24v25h-24zM830 2686h24v25h-24zM1245 2686h74v25h-74zM1514 2686h25v25h-25zM1588 2686h24v25h-24zM1661 2686h24v25h-24zM610 2711h24v24h-24zM805 2711h25v24h-25zM903 2711h25v24h-25zM1245 2711h98v24h-98zM1148 2735h24v25h-24zM1245 2735h25v25h-25zM1294 2735h74v25h-74zM1392 2735h24v25h-24zM1148 2760h24v24h-24zM1197 2760h48v24h-48zM1270 2760h24v24h-24zM1368 2760h24v24h-24zM1221 2784h73v25h-73zM1416 2784h25v25h-25zM1661 2784h73v25h-73zM1245 2809h49v25h-49zM1416 2809h25v25h-25zM1661 2809h49v25h-49zM317 2834h24v24h-24zM781 2834h24v24h-24zM1197 2834h244v24h-244zM1685 2834h25v24h-25zM781 2858h24v25h-24zM903 2858h25v25h-25zM1197 2858h24v25h-24zM1245 2858h74v25h-74zM1392 2858h73v25h-73zM854 2883h49v25h-49zM977 2883h48v25h-48zM1245 2883h25v25h-25zM1392 2883h24v25h-24zM1441 2883h24v25h-24zM830 2908h24v24h-24zM952 2908h49v24h-49zM1050 2908h49v24h-49zM1148 2908h49v24h-49zM1392 2908h24v24h-24zM1465 2908h25v24h-25zM732 2932h98v25h-98zM928 2932h49v25h-49zM1099 2932h24v25h-24zM1148 2932h49v25h-49zM1221 2932h24v25h-24zM1319 2932h122v25h-122zM634 2957h25v24h-25zM708 2957h97v24h-97zM1221 2957h24v24h-24zM1319 2957h24v24h-24zM659 2981h24v25h-24zM781 2981h24v25h-24zM1245 2981h98v25h-98zM414 3006h25v25h-25zM659 3006h24v25h-24zM732 3006h49v25h-49zM952 3006h73v25h-73zM1197 3006h24v25h-24zM1245 3006h25v25h-25zM1294 3006h147v25h-147zM1661 3006h49v25h-49zM732 3031h49v24h-49zM1172 3031h49v24h-49zM1294 3031h147v24h-147zM1465 3031h25v24h-25zM1636 3031h25v24h-25zM659 3055h24v25h-24zM1319 3055h73v25h-73zM1465 3055h25v25h-25zM708 3080h49v24h-49zM903 3080h25v24h-25zM1172 3080h25v24h-25zM1319 3080h24v24h-24zM1490 3080h24v24h-24zM1685 3080h25v24h-25zM708 3104h49v25h-49zM1148 3104h24v25h-24zM1319 3104h49v25h-49zM708 3129h73v25h-73zM1221 3129h24v25h-24zM1392 3129h24v25h-24zM1465 3129h25v25h-25zM683 3154h74v24h-74zM879 3154h24v24h-24zM1221 3154h49v24h-49zM1343 3154h25v24h-25zM708 3178h73v25h-73zM805 3178h25v25h-25zM903 3178h25v25h-25zM1001 3178h24v25h-24zM1221 3178h73v25h-73zM1368 3178h24v25h-24zM1441 3178h24v25h-24zM586 3203h48v24h-48zM732 3203h98v24h-98zM977 3203h48v24h-48zM1148 3203h24v24h-24zM1221 3203h49v24h-49zM1368 3203h73v24h-73zM1514 3203h25v24h-25zM830 3227h24v25h-24zM879 3227h24v25h-24zM1001 3227h73v25h-73zM1221 3227h24v25h-24zM1392 3227h49v25h-49zM830 3252h24v27h-24zM977 3252h48v27h-48zM1148 3252h24v27h-24zM1416 3252h49v27h-49zM1539 3252h24v27h-24z"/>
<path fill="#ff1a00" d="M903 1948h49v24h-49zM1343 1948h25v24h-25zM1685 1948h49v24h-49zM463 1972h49v25h-49zM928 1972h24v25h-24zM439 1997h73v25h-73zM732 1997h25v25h-25zM805 1997h25v25h-25zM854 1997h25v25h-25zM928 1997h24v25h-24zM1221 1997h24v25h-24zM439 2022h49v24h-49zM512 2022h74v24h-74zM805 2022h25v24h-25zM1197 2022h24v24h-24zM439 2046h24v25h-24zM488 2046h24v25h-24zM537 2046h49v25h-49zM757 2046h24v25h-24zM1197 2046h24v25h-24zM1465 2046h25v25h-25zM488 2071h98v24h-98zM1441 2071h24v24h-24zM488 2095h24v25h-24zM537 2095h24v25h-24zM1197 2095h24v25h-24zM1441 2095h24v25h-24zM1270 2120h24v25h-24zM1392 2120h24v25h-24zM1661 2120h24v25h-24zM561 2145h25v24h-25zM1270 2145h24v24h-24zM1514 2145h25v24h-25zM488 2169h24v25h-24zM561 2169h25v25h-25zM1490 2169h24v25h-24zM561 2194h25v24h-25zM781 2194h49v24h-49zM488 2218h24v25h-24zM561 2218h25v25h-25zM610 2218h73v25h-73zM1074 2218h25v25h-25zM488 2243h24v25h-24zM634 2243h25v25h-25zM781 2243h24v25h-24zM928 2243h49v25h-49zM1099 2243h24v25h-24zM977 2268h48v24h-48zM463 2292h25v25h-25zM1001 2292h24v25h-24zM1759 2292h24v25h-24zM1734 2317h25v24h-25zM341 2341h25v25h-25zM463 2341h25v25h-25zM1710 2341h24v25h-24zM610 2366h24v25h-24zM659 2366h24v25h-24zM610 2391h24v24h-24zM659 2391h24v24h-24zM1148 2391h24v24h-24zM610 2415h49v25h-49zM1148 2415h24v25h-24zM1612 2415h24v25h-24zM488 2440h24v25h-24zM708 2465h24v24h-24zM659 2489h24v25h-24zM708 2489h24v25h-24zM1197 2514h73v24h-73zM463 2538h25v25h-25zM512 2538h25v25h-25zM1197 2538h24v25h-24zM1783 2538h25v25h-25zM488 2563h98v25h-98zM952 2563h25v25h-25zM1588 2563h24v25h-24zM512 2588h49v24h-49zM1001 2588h24v24h-24zM1074 2588h25v24h-25zM488 2612h49v25h-49zM903 2612h25v25h-25zM952 2612h73v25h-73zM1074 2612h25v25h-25zM1514 2612h49v25h-49zM1612 2612h24v25h-24zM952 2637h25v24h-25zM1074 2637h49v24h-49zM1539 2637h24v24h-24zM1588 2637h24v24h-24zM1636 2637h25v24h-25zM1685 2637h49v24h-49zM1025 2661h49v25h-49zM1588 2661h24v25h-24zM1172 2686h25v25h-25zM1612 2686h49v25h-49zM561 2711h25v24h-25zM1392 2711h24v24h-24zM1588 2711h24v24h-24zM586 2735h24v25h-24zM1294 2760h74v24h-74zM488 2784h24v25h-24zM708 2784h24v25h-24zM1294 2784h25v25h-25zM1343 2784h25v25h-25zM1636 2784h25v25h-25zM488 2809h24v25h-24zM1197 2809h48v25h-48zM1294 2809h122v25h-122zM1636 2809h25v25h-25zM805 2834h25v24h-25zM1172 2834h25v24h-25zM1636 2834h49v24h-49zM1368 2858h24v25h-24zM708 2883h24v25h-24zM1050 2883h24v25h-24zM1368 2883h24v25h-24zM732 2908h49v24h-49zM879 2908h49v24h-49zM1099 2908h24v24h-24zM830 2932h24v25h-24zM903 2932h25v25h-25zM1197 2932h24v25h-24zM659 2957h24v24h-24zM1148 2957h24v24h-24zM1294 2957h25v24h-25zM414 2981h25v25h-25zM903 2981h25v25h-25zM1221 2981h24v25h-24zM781 3006h24v25h-24zM903 3006h49v25h-49zM1221 3006h24v25h-24zM1270 3006h24v25h-24zM1710 3006h24v25h-24zM781 3031h24v24h-24zM1221 3031h73v24h-73zM1441 3031h24v24h-24zM830 3055h73v25h-73zM1197 3055h97v25h-97zM1392 3055h73v25h-73zM830 3080h24v24h-24zM928 3080h24v24h-24zM1294 3080h25v24h-25zM1416 3104h25v25h-25zM1465 3104h25v25h-25zM1148 3129h49v25h-49zM1294 3129h25v25h-25zM1441 3129h24v25h-24zM1197 3154h24v24h-24zM1319 3154h24v24h-24zM1368 3154h24v24h-24zM1416 3154h25v24h-25zM830 3178h73v25h-73zM1025 3178h25v25h-25zM1197 3178h24v25h-24zM1392 3178h49v25h-49zM830 3203h73v24h-73zM1025 3203h25v24h-25zM1197 3203h24v24h-24zM1441 3203h24v24h-24zM1490 3203h24v24h-24zM781 3227h49v25h-49zM1197 3227h24v25h-24zM1441 3227h24v25h-24zM1514 3227h25v25h-25zM805 3252h25v27h-25zM1490 3252h49v27h-49z"/>
<path fill="#cc0000" d="M952 1948h25v24h-25zM610 2022h24v24h-24zM512 2046h25v25h-25zM512 2095h25v25h-25zM537 2120h24v25h-24zM537 2218h24v25h-24zM1392 2243h24v25h-24zM977 2292h24v25h-24zM1172 2391h25v24h-25zM1783 2563h25v25h-25zM1563 2588h25v24h-25zM1025 2612h49v25h-49zM1563 2612h25v25h-25zM1563 2637h25v24h-25zM1612 2637h24v24h-24zM1661 2637h24v24h-24zM1490 2661h24v25h-24zM1636 2661h49v25h-49zM586 2711h24v24h-24zM1319 2784h24v25h-24zM1368 2784h24v25h-24zM805 2858h25v25h-25zM903 2883h25v25h-25zM854 2908h25v24h-25zM928 2908h24v24h-24zM879 2932h24v25h-24zM830 2957h24v24h-24zM903 2957h25v24h-25zM830 2981h24v25h-24zM1148 2981h24v25h-24zM830 3006h24v25h-24zM879 3006h24v25h-24zM830 3031h122v24h-122zM805 3055h25v25h-25zM903 3055h49v25h-49zM1197 3080h24v24h-24zM1270 3080h24v24h-24zM1221 3104h24v25h-24zM1294 3104h25v25h-25zM1197 3129h24v25h-24zM1245 3129h25v25h-25zM1319 3129h24v25h-24zM1172 3154h25v24h-25zM1294 3154h25v24h-25zM1392 3154h24v24h-24zM732 3227h49v25h-49zM1148 3227h49v25h-49zM1563 3227h25v25h-25zM781 3252h24v27h-24zM1172 3252h25v27h-25z"/>
<path fill="#800000" d="M414 2022h25v24h-25zM586 2046h24v25h-24zM1368 2095h48v25h-48zM488 2120h49v25h-49zM1099 2120h49v25h-49zM1685 2120h25v25h-25zM488 2145h73v24h-73zM1685 2145h25v24h-25zM512 2169h49v25h-49zM1514 2169h25v25h-25zM488 2194h73v24h-73zM512 2218h25v25h-25zM512 2243h25v25h-25zM659 2243h24v25h-24zM977 2243h24v25h-24zM952 2268h25v24h-25zM1734 2292h25v25h-25zM634 2366h25v25h-25zM1710 2366h24v25h-24zM634 2391h25v24h-25zM928 2538h24v25h-24zM928 2563h24v25h-24zM1563 2563h25v25h-25zM1050 2588h24v24h-24zM1588 2588h24v24h-24zM1588 2612h24v25h-24zM977 2637h97v24h-97zM977 2661h48v25h-48zM1099 2661h24v25h-24zM1612 2661h24v25h-24zM1685 2661h25v25h-25zM537 2686h24v25h-24zM537 2711h24v24h-24zM1392 2784h24v25h-24zM1612 2809h24v25h-24zM1612 2834h24v24h-24zM928 2883h24v25h-24zM1368 2908h24v24h-24zM854 2932h25v25h-25zM805 2957h25v24h-25zM854 2957h49v24h-49zM1172 2957h49v24h-49zM854 2981h49v25h-49zM1172 2981h49v25h-49zM805 3006h25v25h-25zM854 3006h25v25h-25zM1148 3006h49v25h-49zM805 3031h25v24h-25zM952 3031h25v24h-25zM952 3055h25v25h-25zM1685 3055h25v25h-25zM1221 3080h49v24h-49zM1416 3080h49v24h-49zM1172 3104h49v25h-49zM1245 3104h49v25h-49zM1441 3104h24v25h-24zM1270 3129h24v25h-24zM1343 3129h49v25h-49zM1270 3154h24v24h-24zM1148 3178h49v25h-49zM1172 3203h25v24h-25zM1465 3227h49v25h-49zM708 3252h73v27h-73zM1197 3252h24v27h-24z"/>
</g>
<clipPath id="cpf"><rect x="256.0" y="1889.5" width="1581.8" height="1389.8000000000002"/></clipPath>
<g clip-path="url(#cpf)"><path d="M390 1923l0 -1M415 1923l0 -2M439 1923l-3 -17M464 1923l-3 -17M488 1923l-4 -17M513 1923l-3 -14M537 1923l-3 -17M562 1923l-4 -15M586 1923l-2 -9M610 1923l0 -1M635 1923l-1 -4M659 1923l0 -1M684 1923l0 -1M708 1923l0 -2M733 1923l-2 -7M757 1923l0 -1M782 1923l0 -1M806 1923l0 -2M830 1923l-1 -4M904 1923l0 -1M928 1923l0 -2M953 1923l-1 -10M977 1923l0 -1M1002 1923l0 -1M1075 1923l0 -1M1099 1923l-1 -4M1124 1923l-3 -9M1148 1923l-3 -9M1173 1923l-2 -7M1197 1923l0 -2M1295 1923l0 -2M1319 1923l-1 -7M1344 1923l-1 -10M1368 1923l-2 -9M1417 1923l-1 -4M1441 1923l-1 -5M1466 1923l-2 -9M1490 1923l-4 -15M1515 1923l-3 -14M1539 1923l-1 -5M1564 1923l-1 -4M1588 1923l-2 -5M1612 1923l0 -1M1686 1923l-2 -9M1710 1923l0 -2M1735 1923l-1 -4M1759 1923l-2 -9M1784 1923l-1 -4M268 1948l-1 -5M293 1948l-1 -6M317 1948l0 -1M390 1948l0 -1M415 1948l-1 -6M439 1948l-3 -12M464 1948l-3 -18M488 1948l-4 -18M513 1948l-3 -17M537 1948l-3 -17M562 1948l-4 -18M586 1948l-2 -9M610 1948l-1 -7M635 1948l-4 -16M659 1948l-5 -16M684 1948l-1 -4M708 1948l-1 -2M733 1948l-4 -15M757 1948l-5 -18M782 1948l-4 -16M806 1948l-4 -16M830 1948l-4 -16M855 1948l-1 -6M879 1948l-1 -7M904 1948l-3 -21M928 1948l-2 -21M953 1948l-2 -24M977 1948l-1 -10M1002 1948l-2 -17M1026 1948l-3 -18M1050 1948l-1 -5M1075 1948l-1 -5M1099 1948l-4 -13M1124 1948l-5 -18M1148 1948l-3 -9M1173 1948l-2 -7M1197 1948l-1 -4M1221 1948l-1 -4M1246 1948l-1 -2M1270 1948l-2 -7M1295 1948l-1 -5M1319 1948l0 -2M1344 1948l-4 -21M1368 1948l-4 -16M1393 1948l-1 -4M1417 1948l-1 -4M1441 1948l-1 -5M1466 1948l-3 -9M1490 1948l-4 -18M1515 1948l-4 -16M1539 1948l0 -2M1564 1948l-1 -2M1588 1948l0 -2M1612 1948l-4 -16M1637 1948l-4 -16M1661 1948l-4 -16M1686 1948l-4 -21M1710 1948l-5 -21M1735 1948l-3 -15M1759 1948l-3 -15M1784 1948l-3 -15M1808 1948l-1 -5M1832 1948l-1 -5M268 1972l-1 -6M293 1972l-1 -4M317 1972l0 -4M342 1972l0 -1M390 1972l0 -2M415 1972l-1 -10M439 1972l-3 -18M464 1972l-3 -21M488 1972l-3 -21M513 1972l-3 -18M537 1972l-3 -18M562 1972l-4 -15M586 1972l-3 -15M610 1972l-2 -12M635 1972l-3 -14M659 1972l-4 -16M684 1972l-2 -9M708 1972l-3 -12M733 1972l-4 -15M757 1972l-5 -18M782 1972l-5 -16M806 1972l-4 -18M830 1972l-4 -18M855 1972l-3 -15M879 1972l-2 -17M904 1972l-3 -18M928 1972l-3 -21M953 1972l-1 -17M977 1972l-2 -9M1002 1972l-1 -7M1026 1972l-1 -10M1050 1972l-1 -4M1075 1972l-3 -9M1099 1972l-5 -16M1124 1972l-3 -9M1148 1972l-3 -9M1173 1972l-2 -7M1197 1972l-3 -9M1221 1972l-4 -18M1246 1972l-2 -7M1270 1972l-1 -7M1295 1972l-2 -9M1319 1972l-1 -7M1344 1972l-1 -7M1368 1972l0 -2M1393 1972l-1 -4M1417 1972l-1 -4M1441 1972l-1 -5M1466 1972l-1 -5M1490 1972l0 -2M1539 1972l-1 -2M1588 1972l-1 -2M1612 1972l0 -1M1637 1972l0 -2M1661 1972l0 -2M1686 1972l-2 -9M1710 1972l-1 -7M1735 1972l-1 -5M1759 1972l-2 -9M1784 1972l-1 -7M1808 1972l-3 -17M1832 1972l-4 -16M268 1997l-1 -4M293 1997l-1 -6M317 1997l-1 -6M342 1997l0 -4M390 1997l0 -4M415 1997l-3 -15M439 1997l-4 -21M464 1997l-4 -21M488 1997l-3 -21M513 1997l-4 -18M537 1997l-5 -18M562 1997l-4 -18M586 1997l-4 -16M610 1997l-3 -17M635 1997l-5 -16M659 1997l-5 -18M684 1997l-5 -18M708 1997l-5 -18M733 1997l-6 -21M757 1997l-5 -16M782 1997l-4 -16M806 1997l-4 -21M830 1997l-4 -18M855 1997l-4 -21M879 1997l-3 -17M904 1997l-3 -17M928 1997l-2 -21M953 1997l-2 -17M977 1997l-2 -12M1002 1997l-2 -17M1026 1997l-1 -5M1050 1997l-2 -7M1075 1997l-2 -7M1099 1997l-5 -18M1124 1997l-3 -12M1148 1997l-3 -9M1173 1997l-3 -12M1197 1997l-5 -16M1221 1997l-5 -21M1246 1997l-4 -18M1270 1997l-2 -9M1295 1997l-2 -9M1319 1997l-1 -7M1344 1997l-1 -5M1368 1997l0 -2M1417 1997l-1 -4M1441 1997l-1 -5M1466 1997l-1 -5M1490 1997l-1 -4M1515 1997l0 -1M1588 1997l0 -1M1612 1997l0 -1M1637 1997l0 -1M1686 1997l-1 -4M1710 1997l-1 -5M1735 1997l-1 -7M1759 1997l-2 -7M1784 1997l-4 -18M1808 1997l-3 -18M1832 1997l-3 -18M268 2022l-1 -4M293 2022l-1 -5M317 2022l0 -1M342 2022l0 -1M366 2022l0 -2M390 2022l-4 -18M415 2022l-6 -28M439 2022l-3 -21M464 2022l-3 -21M488 2022l-3 -18M513 2022l-4 -21M537 2022l-5 -21M562 2022l-4 -21M586 2022l-3 -17M610 2022l-5 -23M635 2022l-4 -18M659 2022l-4 -16M684 2022l-4 -16M708 2022l-5 -18M733 2022l-5 -18M757 2022l-4 -16M782 2022l-4 -18M806 2022l-6 -21M830 2022l-4 -18M855 2022l-4 -18M879 2022l-2 -17M904 2022l-2 -17M928 2022l-2 -18M953 2022l-1 -19M977 2022l-1 -15M1002 2022l-1 -6M1026 2022l-1 -7M1050 2022l-1 -5M1075 2022l-2 -7M1099 2022l-3 -12M1124 2022l-5 -18M1148 2022l-2 -7M1173 2022l-4 -15M1197 2022l-5 -21M1221 2022l-4 -18M1246 2022l-4 -16M1270 2022l-3 -12M1295 2022l-1 -10M1319 2022l-2 -7M1344 2022l-1 -7M1368 2022l-1 -5M1393 2022l-1 -5M1417 2022l-1 -5M1441 2022l-1 -5M1466 2022l-4 -16M1490 2022l-2 -7M1515 2022l0 -1M1564 2022l0 -1M1588 2022l0 -1M1612 2022l0 -1M1637 2022l0 -1M1661 2022l0 -1M1686 2022l0 -2M1710 2022l0 -2M1735 2022l-2 -9M1759 2022l-3 -14M1784 2022l-5 -18M1808 2022l-3 -15M1832 2022l-3 -15M268 2046l-1 -4M293 2046l-1 -7M317 2046l0 -2M342 2046l0 -2M366 2046l0 -2M390 2046l-4 -18M415 2046l-4 -18M439 2046l-4 -21M464 2046l-4 -18M488 2046l-5 -21M513 2046l-5 -23M537 2046l-5 -21M562 2046l-5 -21M586 2046l-7 -30M610 2046l-4 -18M635 2046l-4 -18M659 2046l-4 -16M684 2046l-3 -12M708 2046l-5 -18M733 2046l-5 -18M757 2046l-5 -21M782 2046l-4 -18M806 2046l-5 -18M830 2046l-4 -18M855 2046l-2 -14M879 2046l-2 -14M904 2046l-2 -14M928 2046l-1 -12M953 2046l-1 -12M977 2046l-1 -17M1002 2046l-1 -6M1026 2046l-1 -4M1050 2046l0 -2M1075 2046l-1 -5M1099 2046l-1 -7M1124 2046l-4 -18M1148 2046l-1 -4M1173 2046l-4 -16M1197 2046l-5 -21M1221 2046l-5 -18M1246 2046l-4 -16M1270 2046l-2 -12M1295 2046l-2 -9M1319 2046l-2 -12M1344 2046l-3 -17M1368 2046l-3 -18M1393 2046l-1 -7M1417 2046l-1 -4M1441 2046l-2 -7M1466 2046l-4 -21M1490 2046l-1 -7M1515 2046l-1 -2M1564 2046l0 -1M1588 2046l-1 -2M1612 2046l-1 -4M1637 2046l-1 -4M1661 2046l0 -2M1686 2046l0 -2M1710 2046l-1 -4M1735 2046l-4 -16M1759 2046l-3 -17M1784 2046l-1 -5M1808 2046l-1 -5M1832 2046l-1 -5M268 2071l-1 -5M293 2071l-2 -7M317 2071l-1 -5M342 2071l-1 -2M366 2071l0 -1M390 2071l-2 -7M415 2071l-1 -5M439 2071l-4 -17M464 2071l-5 -18M488 2071l-6 -21M513 2071l-5 -21M537 2071l-4 -21M562 2071l-4 -21M586 2071l-4 -18M610 2071l-4 -16M635 2071l-5 -18M659 2071l-2 -9M684 2071l-2 -9M708 2071l-1 -4M733 2071l-2 -9M757 2071l-4 -15M782 2071l-5 -18M806 2071l-4 -16M830 2071l-2 -12M855 2071l-2 -9M879 2071l-1 -10M904 2071l-1 -12M928 2071l-1 -14M953 2071l-2 -12M977 2071l-1 -7M1002 2071l-1 -5M1026 2071l-1 -6M1050 2071l-1 -7M1075 2071l-1 -7M1099 2071l-1 -7M1124 2071l-3 -12M1148 2071l-3 -15M1173 2071l-3 -12M1197 2071l-4 -18M1221 2071l-4 -18M1246 2071l-2 -17M1270 2071l-3 -17M1295 2071l-1 -6M1319 2071l-1 -5M1344 2071l-2 -12M1368 2071l-3 -18M1393 2071l-3 -17M1417 2071l-3 -13M1441 2071l-5 -21M1466 2071l-1 -4M1490 2071l-2 -7M1515 2071l0 -1M1539 2071l-1 -4M1564 2071l0 -1M1588 2071l-1 -2M1612 2071l0 -2M1637 2071l-1 -5M1661 2071l-2 -7M1686 2071l-2 -7M1710 2071l-2 -7M1735 2071l0 -2M1759 2071l-2 -7M1784 2071l-1 -7M1808 2071l-1 -5M1832 2071l-1 -5M268 2095l-1 -2M293 2095l-2 -7M317 2095l-5 -16M342 2095l0 -1M366 2095l0 -1M390 2095l-1 -4M415 2095l-4 -13M439 2095l-2 -7M464 2095l-5 -16M488 2095l-5 -21M513 2095l-6 -23M537 2095l-5 -21M562 2095l-4 -18M586 2095l-4 -15M610 2095l-2 -12M635 2095l-4 -15M659 2095l-2 -7M684 2095l-1 -5M708 2095l-1 -5M733 2095l-2 -7M757 2095l-3 -12M782 2095l-3 -9M806 2095l-3 -14M830 2095l-3 -12M855 2095l0 -2M879 2095l0 -2M904 2095l-2 -12M928 2095l-2 -17M953 2095l-1 -10M977 2095l0 -4M1002 2095l-1 -7M1026 2095l-1 -7M1050 2095l-2 -9M1075 2095l-3 -15M1099 2095l-4 -18M1124 2095l-3 -18M1148 2095l-3 -17M1173 2095l-4 -16M1197 2095l-4 -21M1221 2095l-3 -18M1246 2095l-3 -17M1270 2095l-2 -15M1295 2095l0 -2M1319 2095l0 -1M1344 2095l0 -1M1368 2095l-4 -31M1393 2095l-4 -30M1417 2095l-4 -18M1441 2095l-4 -21M1466 2095l-4 -18M1490 2095l-1 -5M1515 2095l0 -1M1539 2095l-1 -5M1564 2095l-1 -5M1588 2095l-1 -4M1612 2095l0 -1M1637 2095l-2 -9M1661 2095l-3 -17M1686 2095l-4 -16M1710 2095l-2 -7M1735 2095l0 -1M1759 2095l-1 -5M1784 2095l-1 -4M1808 2095l-1 -4M1832 2095l-1 -4M268 2120l0 -1M293 2120l-2 -5M317 2120l-6 -18M342 2120l-1 -2M366 2120l-1 -1M390 2120l-1 -2M415 2120l-1 -5M439 2120l-2 -7M464 2120l-4 -15M488 2120l-8 -26M513 2120l-8 -28M537 2120l-5 -23M562 2120l-5 -18M586 2120l-3 -17M610 2120l-3 -9M635 2120l-4 -15M659 2120l-2 -5M684 2120l-3 -9M708 2120l-3 -9M733 2120l-4 -15M757 2120l-4 -12M782 2120l-3 -12M806 2120l-2 -12M830 2120l-4 -16M855 2120l-3 -15M879 2120l-3 -17M904 2120l-2 -17M928 2120l-1 -12M953 2120l-2 -17M977 2120l-2 -17M1002 2120l-1 -10M1026 2120l-2 -10M1050 2120l-1 -10M1075 2120l-2 -12M1099 2120l-4 -30M1124 2120l-4 -27M1148 2120l-2 -15M1173 2120l-2 -15M1197 2120l-3 -18M1221 2120l-2 -17M1246 2120l-2 -14M1270 2120l-4 -21M1295 2120l-1 -7M1319 2120l-1 -6M1344 2120l-1 -7M1368 2120l-3 -18M1393 2120l-4 -21M1417 2120l-4 -17M1441 2120l-3 -18M1466 2120l-3 -15M1490 2120l-1 -4M1515 2120l-3 -17M1539 2120l-3 -12M1564 2120l-1 -4M1588 2120l-2 -9M1612 2120l-1 -5M1637 2120l-3 -17M1661 2120l-4 -21M1686 2120l-6 -30M1710 2120l-3 -12M1735 2120l-1 -4M1759 2120l-1 -4M1784 2120l-1 -4M1808 2120l-4 -16M1832 2120l-4 -16M268 2145l-1 -2M293 2145l-1 -2M317 2145l-4 -12M342 2145l-4 -9M366 2145l-1 -2M390 2145l-2 -5M415 2145l-3 -9M439 2145l-3 -7M464 2145l-4 -16M488 2145l-7 -26M513 2145l-7 -27M537 2145l-7 -26M562 2145l-5 -21M586 2145l-4 -16M610 2145l-4 -13M635 2145l-4 -12M659 2145l-3 -12M684 2145l-5 -16M708 2145l-1 -5M733 2145l-3 -12M757 2145l-3 -12M782 2145l-4 -12M806 2145l-3 -15M830 2145l-3 -14M855 2145l-1 -10M879 2145l-2 -12M904 2145l-2 -12M928 2145l-1 -12M953 2145l-2 -15M977 2145l-1 -17M1002 2145l-1 -14M1026 2145l-1 -12M1050 2145l-1 -7M1075 2145l0 -2M1099 2145l-2 -9M1124 2145l-2 -17M1148 2145l-3 -17M1173 2145l-2 -15M1197 2145l-2 -17M1221 2145l-2 -12M1246 2145l0 -2M1270 2145l-3 -21M1295 2145l-1 -7M1319 2145l-1 -7M1344 2145l-1 -5M1368 2145l-1 -12M1393 2145l-3 -17M1417 2145l-2 -17M1441 2145l-3 -18M1466 2145l-3 -17M1490 2145l-4 -18M1515 2145l-5 -21M1539 2145l-4 -15M1564 2145l0 -2M1588 2145l0 -2M1612 2145l-4 -16M1637 2145l-3 -17M1661 2145l-4 -16M1686 2145l-6 -29M1710 2145l-3 -12M1735 2145l-1 -4M1759 2145l-1 -4M1784 2145l-1 -7M1808 2145l-2 -9M1832 2145l-2 -9M268 2169l-1 -2M293 2169l-1 -1M317 2169l-3 -7M342 2169l-2 -5M366 2169l-2 -5M390 2169l-3 -7M415 2169l-5 -14M439 2169l-4 -12M464 2169l-4 -13M488 2169l-6 -21M513 2169l-8 -27M537 2169l-7 -27M562 2169l-4 -21M586 2169l-4 -18M610 2169l-4 -16M635 2169l-4 -16M659 2169l-4 -16M684 2169l-4 -12M708 2169l-3 -12M733 2169l-3 -9M757 2169l-2 -5M782 2169l-3 -12M806 2169l-4 -16M830 2169l-4 -15M855 2169l-2 -12M879 2169l-2 -18M904 2169l-1 -17M928 2169l-1 -17M953 2169l-1 -19M977 2169l-1 -17M1002 2169l-2 -17M1026 2169l-1 -15M1050 2169l0 -4M1075 2169l0 -4M1099 2169l-1 -6M1124 2169l-1 -12M1148 2169l-1 -14M1173 2169l-1 -12M1197 2169l-1 -12M1221 2169l-1 -10M1246 2169l-1 -10M1270 2169l-1 -10M1295 2169l-1 -7M1319 2169l0 -2M1344 2169l-1 -10M1368 2169l-3 -18M1393 2169l-2 -15M1417 2169l-2 -17M1441 2169l-3 -17M1466 2169l-2 -17M1490 2169l-4 -21M1515 2169l-4 -28M1539 2169l-3 -14M1564 2169l-1 -5M1588 2169l-1 -5M1612 2169l-2 -14M1637 2169l-1 -5M1661 2169l-1 -4M1686 2169l-2 -9M1710 2169l-2 -9M1735 2169l-1 -5M1759 2169l-1 -4M1784 2169l0 -1M1808 2169l-1 -7M1832 2169l-1 -7M268 2194l-1 -2M293 2194l-3 -6M317 2194l-2 -3M342 2194l-2 -5M366 2194l-1 -2M390 2194l-4 -9M415 2194l-5 -14M439 2194l-5 -13M464 2194l-6 -17M488 2194l-8 -28M513 2194l-7 -26M537 2194l-9 -31M562 2194l-4 -21M586 2194l-4 -18M610 2194l-4 -18M635 2194l-4 -18M659 2194l-5 -16M684 2194l-2 -7M708 2194l-3 -9M733 2194l-2 -9M757 2194l-4 -13M782 2194l-6 -21M806 2194l-5 -21M830 2194l-3 -18M855 2194l-3 -18M879 2194l-2 -17M904 2194l-2 -17M928 2194l-2 -14M953 2194l-1 -12M977 2194l-2 -15M1002 2194l-1 -19M1026 2194l-2 -18M1050 2194l-1 -12M1075 2194l0 -10M1099 2194l-1 -12M1124 2194l0 -12M1148 2194l-1 -14M1173 2194l-1 -12M1197 2194l0 -4M1221 2194l-1 -7M1246 2194l-1 -10M1270 2194l-1 -7M1295 2194l0 -6M1319 2194l-1 -6M1344 2194l-2 -15M1368 2194l-1 -14M1393 2194l-1 -15M1417 2194l-2 -15M1441 2194l-2 -12M1466 2194l-2 -14M1490 2194l-2 -14M1515 2194l-2 -9M1564 2194l-1 -4M1588 2194l-1 -5M1612 2194l-3 -17M1637 2194l-3 -18M1661 2194l-2 -10M1686 2194l-1 -4M1710 2194l-1 -4M1735 2194l-1 -4M1759 2194l-1 -7M1784 2194l-3 -13M1808 2194l-1 -4M1832 2194l-1 -4M268 2218l-1 -2M293 2218l-2 -3M317 2218l-3 -5M342 2218l-2 -3M366 2218l-3 -5M390 2218l-6 -13M415 2218l-5 -11M439 2218l-5 -12M464 2218l-5 -14M488 2218l-6 -20M513 2218l-8 -28M537 2218l-5 -23M562 2218l-5 -21M586 2218l-4 -18M610 2218l-5 -21M635 2218l-5 -21M659 2218l-6 -21M684 2218l-2 -7M708 2218l-1 -5M733 2218l-2 -9M757 2218l-5 -16M782 2218l-5 -18M806 2218l-4 -16M830 2218l-4 -18M855 2218l-3 -18M879 2218l-3 -17M904 2218l-2 -17M928 2218l-1 -15M953 2218l-1 -19M977 2218l-1 -19M1002 2218l-1 -10M1026 2218l-2 -17M1050 2218l-1 -17M1075 2218l-2 -21M1099 2218l-1 -17M1124 2218l-1 -12M1148 2218l0 -12M1173 2218l-1 -12M1197 2218l0 -7M1221 2218l-1 -6M1246 2218l-1 -7M1270 2218l0 -4M1295 2218l0 -4M1319 2218l-1 -6M1344 2218l-1 -12M1368 2218l-2 -15M1393 2218l-2 -17M1417 2218l-2 -12M1441 2218l-1 -10M1466 2218l-1 -6M1490 2218l-1 -4M1515 2218l0 -1M1539 2218l0 -1M1564 2218l0 -2M1612 2218l-2 -7M1637 2218l-2 -9M1661 2218l-1 -7M1686 2218l-1 -4M1710 2218l-1 -5M1735 2218l-2 -7M1759 2218l-2 -9M1784 2218l-3 -15M1808 2218l-1 -7M1832 2218l-1 -7M268 2243l-2 -3M293 2243l-3 -5M317 2243l-4 -6M342 2243l-4 -6M366 2243l-4 -6M390 2243l-6 -12M415 2243l-6 -13M439 2243l-5 -12M464 2243l-1 -1M488 2243l-6 -21M513 2243l-7 -26M537 2243l-5 -16M562 2243l-4 -13M586 2243l-4 -16M610 2243l-5 -18M635 2243l-6 -21M659 2243l-7 -28M684 2243l-4 -15M708 2243l-4 -16M733 2243l-1 -4M757 2243l-5 -18M782 2243l-5 -21M806 2243l-3 -14M830 2243l-2 -9M855 2243l-2 -15M879 2243l-1 -15M904 2243l-2 -17M928 2243l-2 -21M953 2243l-1 -21M977 2243l-3 -29M1002 2243l-1 -19M1026 2243l-1 -17M1050 2243l-1 -19M1075 2243l0 -19M1099 2243l0 -21M1124 2243l-1 -12M1148 2243l-1 -17M1173 2243l0 -15M1197 2243l0 -12M1221 2243l-1 -7M1246 2243l-2 -17M1270 2243l0 -2M1319 2243l0 -1M1344 2243l0 -2M1368 2243l-1 -17M1393 2243l-2 -24M1417 2243l-1 -10M1441 2243l0 -2M1466 2243l-1 -6M1490 2243l-1 -6M1515 2243l-1 -4M1539 2243l0 -1M1564 2243l0 -2M1588 2243l0 -2M1612 2243l0 -2M1637 2243l0 -2M1661 2243l0 -2M1686 2243l-1 -4M1710 2243l-1 -5M1735 2243l-1 -7M1759 2243l-3 -12M1784 2243l-2 -12M1808 2243l-2 -9M1832 2243l-2 -9M268 2268l-3 -5M293 2268l-2 -4M317 2268l-3 -5M342 2268l-3 -5M366 2268l-2 -3M390 2268l-6 -13M415 2268l-6 -13M439 2268l-5 -12M464 2268l-5 -12M488 2268l-2 -5M513 2268l0 -1M537 2268l-1 -2M562 2268l-2 -9M586 2268l-4 -15M610 2268l-4 -16M635 2268l-4 -16M659 2268l-5 -16M684 2268l-3 -12M708 2268l-6 -18M733 2268l-2 -7M757 2268l-2 -7M782 2268l-2 -9M806 2268l-2 -10M830 2268l-1 -10M855 2268l-2 -14M879 2268l-2 -17M904 2268l-1 -15M928 2268l-1 -19M953 2268l-2 -28M977 2268l-1 -21M1002 2268l-2 -21M1026 2268l0 -19M1050 2268l-1 -19M1075 2268l-1 -15M1099 2268l0 -17M1124 2268l-1 -14M1148 2268l0 -19M1173 2268l-1 -17M1197 2268l0 -15M1221 2268l0 -15M1246 2268l-1 -12M1270 2268l-1 -12M1295 2268l0 -2M1319 2268l0 -7M1344 2268l-1 -14M1368 2268l-1 -17M1393 2268l-1 -15M1417 2268l-1 -12M1441 2268l-1 -7M1466 2268l-1 -6M1490 2268l-1 -6M1515 2268l-1 -4M1539 2268l-1 -4M1564 2268l0 -2M1588 2268l0 -2M1612 2268l0 -2M1637 2268l0 -2M1661 2268l0 -2M1686 2268l0 -1M1710 2268l-1 -4M1735 2268l-3 -12M1759 2268l-3 -15M1784 2268l-3 -17M1808 2268l0 -2M1832 2268l0 -2M268 2292l-3 -5M293 2292l-4 -6M317 2292l-3 -5M342 2292l-2 -4M366 2292l-3 -6M390 2292l-5 -8M415 2292l-7 -15M439 2292l-8 -17M464 2292l-8 -20M488 2292l-1 -4M513 2292l-2 -7M537 2292l-2 -7M562 2292l-3 -12M586 2292l-4 -15M610 2292l-4 -15M635 2292l-4 -13M659 2292l-2 -9M684 2292l-1 -2M708 2292l-4 -16M733 2292l-2 -7M757 2292l-2 -7M782 2292l-2 -7M806 2292l-1 -7M830 2292l-2 -9M855 2292l-2 -12M879 2292l-1 -17M904 2292l-1 -17M928 2292l-1 -19M953 2292l-1 -19M977 2292l-1 -24M1002 2292l-1 -21M1026 2292l-1 -19M1050 2292l0 -17M1075 2292l-1 -17M1099 2292l-1 -17M1124 2292l-1 -15M1148 2292l-1 -17M1173 2292l0 -15M1197 2292l0 -15M1221 2292l-1 -15M1246 2292l-1 -14M1270 2292l-1 -14M1295 2292l0 -14M1319 2292l-1 -12M1344 2292l0 -17M1368 2292l-2 -17M1393 2292l-1 -14M1417 2292l-1 -10M1441 2292l0 -6M1466 2292l-1 -4M1490 2292l0 -4M1515 2292l-2 -10M1539 2292l-1 -4M1564 2292l0 -2M1588 2292l0 -2M1612 2292l-1 -4M1637 2292l0 -2M1661 2292l0 -1M1686 2292l0 -1M1710 2292l-1 -4M1735 2292l-7 -27M1759 2292l-4 -21M1784 2292l-3 -17M1808 2292l0 -2M1832 2292l0 -2M268 2317l-3 -5M293 2317l-4 -6M317 2317l-9 -16M342 2317l-5 -8M366 2317l-3 -5M390 2317l-3 -7M415 2317l-4 -9M439 2317l-8 -17M464 2317l-7 -15M488 2317l-7 -16M513 2317l-4 -12M537 2317l-4 -12M562 2317l-4 -16M586 2317l-5 -16M610 2317l-5 -16M635 2317l-5 -16M659 2317l-1 -4M684 2317l0 -2M708 2317l-1 -4M733 2317l-1 -5M757 2317l0 -2M782 2317l-2 -7M806 2317l-1 -7M830 2317l-2 -9M855 2317l-2 -12M879 2317l-2 -18M904 2317l-1 -17M928 2317l0 -19M953 2317l-1 -17M977 2317l0 -17M1002 2317l-1 -12M1026 2317l-1 -17M1050 2317l0 -17M1075 2317l-1 -17M1099 2317l0 -17M1124 2317l0 -17M1148 2317l0 -15M1173 2317l-1 -15M1197 2317l0 -17M1221 2317l0 -15M1246 2317l0 -15M1270 2317l0 -17M1295 2317l-1 -19M1319 2317l-1 -17M1344 2317l-1 -17M1368 2317l0 -17M1393 2317l0 -14M1417 2317l-1 -12M1441 2317l-1 -7M1466 2317l0 -2M1490 2317l0 -4M1515 2317l-1 -7M1564 2317l0 -1M1588 2317l0 -2M1612 2317l-1 -7M1637 2317l-1 -4M1661 2317l0 -2M1686 2317l-1 -4M1710 2317l-2 -12M1735 2317l-5 -21M1759 2317l-1 -7M1784 2317l-2 -12M1808 2317l-1 -5M1832 2317l-1 -5M268 2341l-1 -2M293 2341l-3 -5M317 2341l-9 -16M342 2341l-11 -18M366 2341l-4 -9M390 2341l-4 -6M415 2341l-5 -11M439 2341l-8 -17M464 2341l-8 -20M488 2341l-7 -17M513 2341l-3 -9M537 2341l-4 -15M562 2341l-5 -16M586 2341l-4 -15M610 2341l-5 -16M635 2341l-5 -16M659 2341l-5 -18M684 2341l-5 -16M708 2341l-2 -9M733 2341l-2 -7M757 2341l-2 -7M782 2341l-1 -5M806 2341l-1 -6M830 2341l-1 -6M855 2341l-1 -10M879 2341l-1 -19M904 2341l-1 -19M928 2341l-1 -17M953 2341l0 -14M977 2341l0 -17M1002 2341l0 -17M1026 2341l0 -15M1050 2341l0 -17M1075 2341l0 -17M1099 2341l0 -19M1124 2341l0 -17M1148 2341l0 -17M1173 2341l-1 -17M1197 2341l1 -17M1221 2341l-1 -17M1246 2341l0 -17M1270 2341l1 -17M1295 2341l0 -17M1319 2341l0 -19M1344 2341l0 -17M1368 2341l0 -14M1393 2341l-1 -17M1417 2341l-1 -17M1441 2341l-1 -10M1466 2341l0 -4M1490 2341l0 -2M1515 2341l-1 -12M1539 2341l-1 -6M1588 2341l0 -2M1637 2341l0 -2M1661 2341l-3 -17M1686 2341l-3 -17M1710 2341l-5 -21M1735 2341l-3 -17M1759 2341l-4 -15M1784 2341l-3 -12M1808 2341l-2 -9M1832 2341l-2 -9M293 2366l-1 -2M317 2366l-4 -6M342 2366l-4 -6M366 2366l-4 -6M390 2366l-4 -9M415 2366l-6 -12M439 2366l-7 -15M464 2366l-8 -17M488 2366l-7 -17M513 2366l-6 -18M537 2366l-5 -16M562 2366l-4 -16M586 2366l-5 -16M610 2366l-5 -21M635 2366l-9 -29M659 2366l-7 -20M684 2366l-4 -16M708 2366l-4 -18M733 2366l-5 -18M757 2366l-2 -9M782 2366l-1 -5M806 2366l-1 -5M830 2366l-1 -10M855 2366l-1 -17M879 2366l-2 -18M904 2366l-1 -17M928 2366l0 -17M953 2366l0 -15M977 2366l-1 -19M1002 2366l-1 -17M1026 2366l0 -19M1050 2366l0 -17M1075 2366l0 -17M1099 2366l-1 -17M1124 2366l0 -17M1148 2366l0 -12M1173 2366l0 -17M1197 2366l0 -19M1221 2366l0 -17M1246 2366l1 -17M1270 2366l0 -17M1295 2366l0 -17M1319 2366l1 -17M1344 2366l0 -15M1368 2366l0 -14M1393 2366l-1 -17M1417 2366l0 -10M1441 2366l0 -4M1466 2366l0 -2M1490 2366l0 -4M1515 2366l-1 -10M1539 2366l-1 -7M1564 2366l-1 -6M1588 2366l-1 -4M1612 2366l0 -2M1661 2366l-1 -4M1686 2366l-4 -18M1710 2366l-5 -30M1735 2366l-4 -18M1759 2366l-3 -15M1784 2366l-3 -12M1808 2366l-2 -9M1832 2366l-2 -9M268 2391l-1 -2M293 2391l-3 -5M317 2391l-2 -3M342 2391l-3 -5M366 2391l-4 -6M390 2391l-5 -8M415 2391l-7 -14M439 2391l-8 -17M464 2391l-7 -17M488 2391l-4 -9M513 2391l-6 -18M537 2391l-6 -17M562 2391l-5 -16M586 2391l-4 -16M610 2391l-6 -21M635 2391l-8 -28M659 2391l-5 -21M684 2391l-4 -16M708 2391l-4 -15M733 2391l-3 -9M757 2391l0 -2M782 2391l0 -2M806 2391l-1 -6M830 2391l0 -1M855 2391l-1 -12M879 2391l-2 -18M904 2391l-1 -17M928 2391l0 -15M953 2391l0 -15M977 2391l0 -19M1002 2391l0 -17M1026 2391l1 -19M1050 2391l0 -19M1075 2391l-1 -17M1099 2391l0 -17M1124 2391l0 -17M1148 2391l-1 -21M1173 2391l1 -24M1197 2391l1 -15M1221 2391l0 -15M1246 2391l0 -17M1270 2391l0 -17M1295 2391l0 -19M1319 2391l1 -17M1344 2391l0 -17M1368 2391l0 -10M1393 2391l0 -6M1417 2391l0 -2M1441 2391l0 -2M1466 2391l0 -4M1490 2391l0 -6M1515 2391l0 -2M1539 2391l0 -4M1564 2391l-1 -7M1588 2391l-1 -10M1612 2391l-1 -7M1637 2391l-1 -5M1661 2391l-2 -17M1686 2391l-3 -15M1710 2391l-3 -15M1735 2391l-3 -15M1759 2391l-2 -14M1784 2391l-2 -12M1808 2391l-3 -14M1832 2391l-2 -14M268 2415l-1 -2M293 2415l-1 -2M317 2415l-1 -1M342 2415l-1 -2M366 2415l-1 -2M390 2415l-1 -2M415 2415l-7 -15M439 2415l-8 -17M464 2415l-5 -11M488 2415l-5 -13M513 2415l-2 -5M537 2415l-2 -7M562 2415l-6 -16M586 2415l-5 -16M610 2415l-6 -20M635 2415l-7 -20M659 2415l-4 -18M684 2415l-4 -16M708 2415l-4 -13M733 2415l-2 -9M757 2415l0 -2M782 2415l0 -1M806 2415l0 -1M830 2415l-2 -15M855 2415l-2 -18M879 2415l-1 -19M904 2415l-1 -15M928 2415l0 -12M953 2415l0 -15M977 2415l0 -19M1002 2415l0 -17M1026 2415l-1 -19M1050 2415l0 -19M1075 2415l0 -17M1099 2415l0 -17M1124 2415l0 -17M1148 2415l0 -21M1173 2415l0 -14M1197 2415l0 -10M1221 2415l0 -12M1246 2415l0 -17M1270 2415l1 -17M1295 2415l0 -17M1319 2415l0 -17M1344 2415l0 -15M1368 2415l0 -2M1393 2415l0 -2M1417 2415l0 -2M1441 2415l0 -2M1466 2415l0 -4M1490 2415l-1 -6M1539 2415l0 -1M1564 2415l-1 -6M1588 2415l-2 -18M1612 2415l-4 -21M1637 2415l-2 -15M1661 2415l-2 -17M1686 2415l0 -2M1710 2415l-2 -14M1735 2415l-2 -12M1759 2415l-2 -7M1784 2415l-2 -9M1808 2415l-2 -9M1832 2415l-2 -9M268 2440l-1 -2M293 2440l-1 -1M342 2440l-1 -1M366 2440l-1 -1M390 2440l-1 -1M415 2440l-2 -4M439 2440l-8 -17M464 2440l-7 -17M488 2440l-9 -20M513 2440l-4 -9M537 2440l-3 -9M562 2440l-4 -12M586 2440l-6 -18M610 2440l-5 -18M635 2440l-4 -16M659 2440l-6 -18M684 2440l-5 -16M708 2440l-5 -16M733 2440l-5 -18M757 2440l-2 -7M782 2440l-1 -4M806 2440l-1 -4M830 2440l-2 -12M855 2440l-2 -17M879 2440l-2 -18M904 2440l-2 -17M928 2440l-1 -10M977 2440l-1 -14M1002 2440l0 -19M1026 2440l0 -17M1050 2440l0 -17M1075 2440l-1 -17M1099 2440l-1 -17M1124 2440l-1 -17M1148 2440l-1 -19M1173 2440l0 -2M1221 2440l0 -7M1246 2440l0 -19M1270 2440l0 -19M1295 2440l0 -17M1319 2440l0 -14M1344 2440l0 -7M1393 2440l0 -1M1417 2440l0 -2M1441 2440l0 -1M1490 2440l0 -1M1564 2440l0 -2M1588 2440l-2 -17M1612 2440l-1 -17M1637 2440l-3 -17M1661 2440l-3 -18M1686 2440l-1 -6M1710 2440l-2 -9M1735 2440l-2 -12M1759 2440l-2 -12M1784 2440l-1 -6M1808 2440l-1 -6M1832 2440l-1 -5M268 2465l-1 -2M293 2465l-1 -1M317 2465l-1 -1M366 2465l-1 -1M390 2465l-1 -2M415 2465l-3 -5M439 2465l-6 -11M464 2465l-7 -17M488 2465l-7 -15M513 2465l-6 -18M537 2465l-1 -4M562 2465l-4 -12M586 2465l-4 -13M610 2465l-4 -13M635 2465l-6 -18M659 2465l-4 -16M684 2465l-5 -18M708 2465l-5 -21M733 2465l-4 -15M757 2465l-3 -12M782 2465l-4 -16M806 2465l-3 -17M830 2465l-3 -17M855 2465l-2 -17M879 2465l-2 -15M904 2465l-2 -17M928 2465l-1 -17M953 2465l0 -2M977 2465l0 -2M1002 2465l-1 -12M1026 2465l-1 -17M1050 2465l0 -15M1075 2465l-1 -15M1099 2465l-1 -14M1124 2465l-2 -14M1148 2465l-1 -12M1173 2465l-1 -7M1197 2465l-1 -7M1221 2465l-1 -19M1246 2465l-1 -19M1270 2465l-1 -17M1295 2465l-1 -17M1319 2465l0 -14M1344 2465l0 -10M1368 2465l0 -6M1393 2465l0 -6M1417 2465l0 -2M1441 2465l0 -1M1466 2465l0 -1M1490 2465l0 -2M1515 2465l0 -2M1539 2465l0 -1M1588 2465l-1 -6M1612 2465l0 -2M1637 2465l-1 -6M1661 2465l-2 -9M1686 2465l-2 -12M1710 2465l-2 -17M1735 2465l-4 -17M1759 2465l-3 -18M1784 2465l-2 -18M1808 2465l-1 -7M1832 2465l-1 -7M268 2489l-1 -2M293 2489l-1 -1M317 2489l-1 -1M342 2489l-1 -1M366 2489l-1 -2M390 2489l-4 -6M415 2489l-3 -6M439 2489l-5 -11M464 2489l-7 -16M488 2489l-7 -16M513 2489l-5 -14M537 2489l-6 -16M562 2489l-4 -12M586 2489l-4 -13M610 2489l-4 -12M635 2489l-3 -9M659 2489l-6 -21M684 2489l-4 -13M708 2489l-5 -21M733 2489l-3 -15M757 2489l-2 -12M782 2489l-3 -17M806 2489l-4 -16M830 2489l-3 -15M855 2489l-3 -17M879 2489l-2 -14M904 2489l-2 -17M928 2489l-1 -14M953 2489l0 -14M977 2489l-1 -12M1002 2489l-1 -12M1026 2489l-1 -17M1050 2489l-1 -14M1075 2489l-1 -15M1099 2489l-1 -14M1124 2489l-1 -12M1148 2489l-1 -15M1173 2489l-1 -15M1197 2489l-2 -17M1221 2489l-2 -18M1246 2489l-2 -18M1270 2489l-1 -19M1295 2489l-1 -17M1319 2489l-2 -17M1344 2489l-2 -17M1368 2489l-2 -17M1393 2489l0 -10M1417 2489l-1 -6M1441 2489l0 -2M1466 2489l0 -2M1490 2489l0 -4M1515 2489l-1 -7M1539 2489l-1 -6M1564 2489l0 -6M1588 2489l-2 -17M1612 2489l-1 -6M1637 2489l-1 -6M1661 2489l-2 -10M1686 2489l-2 -14M1710 2489l-2 -17M1735 2489l-3 -17M1759 2489l-3 -17M1784 2489l-2 -15M1808 2489l-1 -5M1832 2489l-1 -6M268 2514l-1 -1M293 2514l-1 -1M317 2514l-1 -1M342 2514l-1 -1M366 2514l-4 -6M390 2514l-3 -5M415 2514l-3 -6M439 2514l-7 -14M464 2514l-8 -17M488 2514l-7 -17M513 2514l-7 -17M537 2514l-6 -16M562 2514l-5 -16M586 2514l-5 -15M610 2514l-4 -12M635 2514l-1 -4M659 2514l-2 -5M684 2514l-1 -4M708 2514l-3 -9M733 2514l-4 -12M757 2514l-2 -7M782 2514l-3 -12M806 2514l-2 -14M830 2514l-3 -15M855 2514l-2 -17M879 2514l-2 -18M904 2514l-1 -17M928 2514l-1 -17M953 2514l-2 -15M977 2514l-1 -15M1002 2514l-2 -15M1026 2514l-1 -17M1050 2514l-2 -15M1075 2514l-1 -12M1099 2514l-2 -15M1124 2514l-3 -18M1148 2514l-2 -17M1173 2514l-2 -18M1197 2514l-3 -21M1221 2514l-3 -21M1246 2514l-2 -21M1270 2514l-2 -18M1295 2514l-2 -18M1319 2514l-2 -17M1344 2514l-1 -19M1368 2514l-2 -17M1393 2514l-1 -14M1417 2514l-1 -12M1441 2514l-1 -7M1466 2514l0 -10M1490 2514l-1 -19M1515 2514l-1 -19M1539 2514l-1 -12M1564 2514l-1 -17M1588 2514l-2 -18M1612 2514l-1 -6M1637 2514l-1 -7M1661 2514l-1 -7M1686 2514l-2 -12M1710 2514l-2 -17M1735 2514l-3 -17M1759 2514l-3 -18M1784 2514l-2 -18M1808 2514l-2 -14M1832 2514l-2 -14M268 2538l-1 -1M293 2538l-3 -5M317 2538l-3 -5M342 2538l-1 -1M366 2538l-3 -5M390 2538l-4 -6M415 2538l-3 -6M439 2538l-6 -12M464 2538l-9 -19M488 2538l-8 -17M513 2538l-8 -20M537 2538l-7 -17M562 2538l-7 -17M586 2538l-5 -15M610 2538l-5 -14M635 2538l-2 -7M659 2538l-2 -7M684 2538l-2 -7M708 2538l-1 -5M733 2538l-3 -12M757 2538l-3 -13M782 2538l-2 -9M806 2538l-3 -12M830 2538l-3 -12M855 2538l-2 -14M879 2538l-2 -17M904 2538l-2 -17M928 2538l-3 -27M953 2538l-2 -18M977 2538l-1 -19M1002 2538l-1 -17M1026 2538l-2 -18M1050 2538l-3 -17M1075 2538l-2 -17M1099 2538l-3 -17M1124 2538l-2 -14M1148 2538l-2 -18M1173 2538l-3 -18M1197 2538l-4 -21M1221 2538l-2 -18M1246 2538l-2 -18M1270 2538l-3 -18M1295 2538l-2 -18M1319 2538l-2 -17M1344 2538l-1 -15M1368 2538l-2 -17M1393 2538l-2 -17M1417 2538l-2 -14M1441 2538l-1 -12M1466 2538l-1 -10M1490 2538l-1 -17M1515 2538l-1 -19M1539 2538l-1 -15M1564 2538l0 -1M1588 2538l0 -2M1612 2538l-1 -6M1637 2538l-1 -6M1661 2538l-2 -17M1686 2538l-1 -12M1710 2538l-1 -7M1735 2538l-2 -15M1759 2538l-2 -18M1784 2538l-3 -21M1808 2538l-2 -18M1832 2538l-2 -18M268 2563l-1 -2M293 2563l-1 -2M317 2563l-2 -3M342 2563l-3 -5M366 2563l-3 -5M390 2563l-5 -8M415 2563l-5 -8M439 2563l-1 -2M464 2563l-7 -15M488 2563l-9 -19M513 2563l-7 -20M537 2563l-7 -20M562 2563l-6 -20M586 2563l-6 -18M610 2563l-3 -9M635 2563l-1 -2M659 2563l-2 -7M684 2563l-3 -9M708 2563l-3 -9M733 2563l-4 -16M757 2563l-4 -13M782 2563l-1 -4M806 2563l-2 -12M830 2563l-2 -12M855 2563l0 -2M879 2563l-2 -12M904 2563l-2 -12M928 2563l-2 -30M953 2563l-2 -21M977 2563l-2 -18M1002 2563l-2 -18M1026 2563l-2 -18M1050 2563l-3 -17M1075 2563l-4 -18M1099 2563l-4 -16M1124 2563l-3 -17M1148 2563l-4 -16M1173 2563l-3 -18M1197 2563l-4 -18M1221 2563l-4 -18M1246 2563l-4 -18M1270 2563l-3 -18M1295 2563l-3 -15M1319 2563l-2 -14M1344 2563l-3 -15M1368 2563l-3 -17M1393 2563l-2 -15M1417 2563l-3 -17M1441 2563l-1 -15M1466 2563l-2 -15M1490 2563l-1 -14M1515 2563l-1 -15M1539 2563l-1 -17M1564 2563l-3 -31M1588 2563l-1 -21M1612 2563l-2 -14M1637 2563l-1 -14M1661 2563l-2 -17M1686 2563l-1 -15M1710 2563l-1 -12M1735 2563l-2 -15M1759 2563l-3 -18M1784 2563l-3 -24M1808 2563l-1 -12M1832 2563l-1 -12M268 2588l-1 -1M293 2588l-1 -2M317 2588l-3 -5M342 2588l-3 -5M366 2588l-3 -5M390 2588l-3 -5M415 2588l-7 -14M439 2588l-5 -11M464 2588l-7 -16M488 2588l-8 -17M513 2588l-8 -20M537 2588l-8 -20M562 2588l-6 -18M586 2588l-5 -16M610 2588l-2 -5M635 2588l-1 -4M659 2588l-2 -7M684 2588l-3 -9M708 2588l-4 -13M733 2588l-4 -18M757 2588l-4 -18M782 2588l-2 -12M806 2588l-2 -12M830 2588l-3 -12M855 2588l-3 -14M879 2588l-2 -12M904 2588l-3 -17M928 2588l-2 -18M953 2588l-2 -18M977 2588l-2 -18M1002 2588l-2 -21M1026 2588l-2 -18M1050 2588l-6 -30M1075 2588l-4 -21M1099 2588l-4 -18M1124 2588l-4 -16M1148 2588l-4 -18M1173 2588l-3 -17M1197 2588l-4 -18M1221 2588l-4 -18M1246 2588l-3 -17M1270 2588l-3 -17M1295 2588l-3 -17M1319 2588l-2 -15M1344 2588l-3 -14M1368 2588l-3 -17M1393 2588l-1 -6M1417 2588l-2 -14M1441 2588l-2 -18M1466 2588l-2 -18M1490 2588l-1 -17M1515 2588l-2 -17M1539 2588l-2 -19M1564 2588l-3 -24M1588 2588l-3 -28M1612 2588l-2 -18M1637 2588l-2 -18M1661 2588l-1 -17M1686 2588l-2 -18M1710 2588l-1 -17M1735 2588l-2 -14M1759 2588l-1 -10M1784 2588l0 -1M293 2612l-1 -2M317 2612l-2 -3M342 2612l-2 -5M366 2612l-3 -5M390 2612l-3 -5M415 2612l-2 -4M439 2612l-7 -15M464 2612l-7 -17M488 2612l-8 -20M513 2612l-8 -20M537 2612l-6 -16M562 2612l-5 -14M586 2612l-3 -9M610 2612l-1 -1M635 2612l-2 -7M659 2612l-3 -9M684 2612l-6 -16M708 2612l-4 -13M733 2612l-5 -16M757 2612l-3 -15M782 2612l-4 -15M806 2612l-3 -17M830 2612l-3 -15M855 2612l-2 -14M879 2612l-3 -17M904 2612l-3 -21M928 2612l-2 -17M953 2612l-3 -21M977 2612l-3 -21M1002 2612l-4 -21M1026 2612l-4 -24M1050 2612l-4 -24M1075 2612l-5 -21M1099 2612l-3 -17M1124 2612l-3 -13M1148 2612l-3 -15M1173 2612l-4 -16M1197 2612l-4 -16M1221 2612l-4 -16M1246 2612l-4 -16M1270 2612l-4 -16M1295 2612l-4 -15M1319 2612l-3 -15M1344 2612l-3 -18M1368 2612l-1 -5M1393 2612l0 -1M1417 2612l-1 -4M1441 2612l-1 -12M1466 2612l-2 -15M1490 2612l-2 -17M1515 2612l-2 -21M1539 2612l-2 -21M1564 2612l-3 -24M1588 2612l-2 -30M1612 2612l-2 -21M1637 2612l-1 -19M1661 2612l-2 -18M1686 2612l-1 -19M1710 2612l-1 -19M1735 2612l-1 -17M1808 2612l0 -1M1832 2612l0 -1M268 2637l-1 -1M293 2637l-1 -2M317 2637l-2 -4M342 2637l-2 -4M366 2637l-2 -5M390 2637l-1 -2M415 2637l-1 -2M439 2637l-1 -4M464 2637l-6 -16M488 2637l-6 -16M513 2637l-5 -14M537 2637l-6 -16M562 2637l-5 -13M586 2637l-3 -9M610 2637l-3 -7M635 2637l-1 -4M659 2637l-3 -12M684 2637l-6 -16M708 2637l-5 -16M733 2637l-5 -16M757 2637l-3 -13M782 2637l-3 -12M806 2637l-3 -15M830 2637l-3 -15M855 2637l-3 -17M879 2637l-3 -17M904 2637l-3 -18M928 2637l-2 -14M953 2637l-3 -21M977 2637l-6 -31M1002 2637l-6 -28M1026 2637l-6 -31M1050 2637l-6 -29M1075 2637l-4 -21M1099 2637l-6 -21M1124 2637l-4 -16M1148 2637l-4 -16M1173 2637l-5 -16M1197 2637l-5 -16M1221 2637l-3 -17M1246 2637l-4 -16M1270 2637l-3 -17M1295 2637l-3 -17M1319 2637l-3 -13M1344 2637l-1 -7M1368 2637l0 -2M1393 2637l0 -1M1417 2637l0 -2M1441 2637l-1 -4M1466 2637l-2 -15M1490 2637l-3 -17M1515 2637l-2 -18M1539 2637l-3 -21M1564 2637l-2 -24M1588 2637l-2 -21M1612 2637l-2 -24M1637 2637l-1 -21M1661 2637l-2 -24M1686 2637l-1 -21M1710 2637l-2 -21M1735 2637l0 -14M1784 2637l0 -1M1808 2637l0 -2M1832 2637l0 -2M268 2661l-1 -1M293 2661l-1 -1M317 2661l-1 -1M342 2661l-2 -4M366 2661l-1 -2M390 2661l-1 -2M415 2661l-2 -4M439 2661l-2 -5M464 2661l-3 -7M488 2661l-5 -13M513 2661l-6 -16M537 2661l-6 -14M562 2661l-5 -14M586 2661l-6 -16M610 2661l-6 -16M635 2661l-5 -14M659 2661l-4 -12M684 2661l-4 -15M708 2661l-5 -14M733 2661l-4 -15M757 2661l-6 -16M782 2661l-2 -5M806 2661l-3 -12M830 2661l-5 -16M855 2661l-4 -16M879 2661l-4 -16M904 2661l-3 -17M928 2661l-3 -15M953 2661l-3 -18M977 2661l-6 -31M1002 2661l-6 -31M1026 2661l-5 -21M1050 2661l-4 -21M1075 2661l-5 -18M1099 2661l-8 -26M1124 2661l-5 -16M1148 2661l-4 -16M1173 2661l-5 -16M1197 2661l-5 -16M1221 2661l-5 -18M1246 2661l-3 -17M1270 2661l-4 -18M1295 2661l-4 -16M1319 2661l-3 -14M1344 2661l-1 -7M1368 2661l-1 -5M1393 2661l-1 -4M1417 2661l0 -2M1441 2661l0 -2M1466 2661l-1 -7M1490 2661l-3 -24M1515 2661l-3 -17M1539 2661l-2 -17M1564 2661l-2 -18M1588 2661l-2 -21M1612 2661l-4 -32M1637 2661l-2 -24M1661 2661l-1 -24M1686 2661l-3 -32M1710 2661l-1 -19M1735 2661l0 -6M1759 2661l0 -4M1784 2661l0 -4M1808 2661l0 -4M1832 2661l0 -4M268 2686l-1 -2M342 2686l-1 -2M366 2686l-1 -2M415 2686l-2 -5M439 2686l-2 -5M464 2686l-3 -7M488 2686l-4 -9M513 2686l-6 -16M537 2686l-11 -27M562 2686l-6 -18M586 2686l-6 -16M610 2686l-6 -17M635 2686l-6 -16M659 2686l-5 -16M684 2686l-5 -14M708 2686l-5 -14M733 2686l-5 -13M757 2686l-6 -16M782 2686l-2 -5M806 2686l-4 -12M830 2686l-6 -18M855 2686l-4 -16M879 2686l-3 -14M904 2686l-4 -16M928 2686l-3 -15M953 2686l-3 -15M977 2686l-3 -15M1002 2686l-3 -15M1026 2686l-4 -13M1050 2686l-4 -16M1075 2686l-5 -16M1099 2686l-5 -16M1124 2686l-3 -9M1148 2686l-5 -15M1173 2686l-5 -21M1197 2686l-5 -16M1221 2686l-4 -17M1246 2686l-4 -18M1270 2686l-4 -18M1295 2686l-4 -18M1319 2686l-2 -17M1344 2686l-2 -15M1368 2686l-2 -12M1393 2686l-2 -9M1417 2686l-2 -7M1441 2686l-1 -7M1466 2686l-1 -4M1490 2686l-1 -6M1515 2686l-4 -18M1539 2686l-2 -9M1564 2686l-2 -12M1588 2686l-3 -18M1612 2686l-3 -21M1637 2686l-2 -21M1661 2686l-2 -18M1686 2686l-1 -14M1710 2686l0 -2M1735 2686l0 -7M1759 2686l0 -4M1784 2686l0 -4M1808 2686l0 -2M1832 2686l0 -2M293 2711l-1 -4M317 2711l-3 -7M342 2711l-3 -7M366 2711l-1 -4M390 2711l-1 -2M415 2711l-1 -4M439 2711l-2 -5M464 2711l-2 -4M488 2711l-3 -9M513 2711l-4 -12M537 2711l-11 -29M562 2711l-8 -20M586 2711l-9 -22M610 2711l-6 -17M635 2711l-5 -14M659 2711l-4 -13M684 2711l-6 -14M708 2711l-6 -14M733 2711l-4 -12M757 2711l-3 -9M782 2711l-2 -7M806 2711l-5 -18M830 2711l-6 -16M855 2711l-5 -16M879 2711l-4 -16M904 2711l-4 -18M928 2711l-3 -12M953 2711l-3 -9M977 2711l-2 -7M1002 2711l-1 -4M1026 2711l-4 -16M1050 2711l-4 -12M1075 2711l-4 -13M1099 2711l-5 -16M1124 2711l-4 -16M1148 2711l-5 -16M1173 2711l-5 -16M1197 2711l-4 -13M1221 2711l-4 -16M1246 2711l-3 -18M1270 2711l-3 -18M1295 2711l-4 -18M1319 2711l-2 -18M1344 2711l-3 -17M1368 2711l-3 -17M1393 2711l-4 -21M1417 2711l-3 -12M1441 2711l-1 -5M1466 2711l0 -1M1490 2711l0 -1M1515 2711l-1 -4M1564 2711l-2 -15M1588 2711l-4 -21M1612 2711l-2 -14M1637 2711l-1 -14M1661 2711l-1 -14M1686 2711l-1 -10M1710 2711l0 -4M1735 2711l0 -6M1759 2711l0 -4M1784 2711l0 -4M1808 2711l0 -2M1832 2711l0 -2M268 2735l-1 -2M293 2735l-1 -2M317 2735l-3 -7M342 2735l-3 -9M366 2735l-3 -7M390 2735l-2 -5M415 2735l-1 -4M439 2735l-2 -5M464 2735l-3 -7M488 2735l-3 -9M513 2735l-4 -13M537 2735l-5 -14M562 2735l-6 -16M586 2735l-7 -20M610 2735l-3 -9M635 2735l-3 -7M659 2735l-4 -9M684 2735l-6 -16M708 2735l-6 -16M733 2735l-6 -16M757 2735l-3 -7M782 2735l-2 -4M806 2735l-5 -16M830 2735l-4 -13M855 2735l-4 -12M879 2735l-3 -9M904 2735l-4 -16M928 2735l-2 -7M953 2735l0 -2M977 2735l0 -2M1002 2735l-1 -5M1026 2735l0 -1M1050 2735l-2 -7M1075 2735l-5 -16M1099 2735l-4 -13M1124 2735l-5 -15M1148 2735l-6 -18M1173 2735l-5 -16M1197 2735l-4 -16M1221 2735l-5 -16M1246 2735l-4 -18M1270 2735l-2 -9M1295 2735l-3 -18M1319 2735l-3 -18M1344 2735l-2 -18M1368 2735l-2 -17M1393 2735l-3 -18M1417 2735l-2 -9M1441 2735l0 -1M1539 2735l0 -1M1564 2735l0 -1M1588 2735l0 -2M1612 2735l-2 -9M1637 2735l-2 -12M1661 2735l-1 -12M1686 2735l-1 -12M1710 2735l0 -4M1735 2735l0 -2M1759 2735l0 -4M1784 2735l0 -2M1808 2735l0 -2M1832 2735l0 -2M268 2760l-1 -2M293 2760l-1 -2M317 2760l-2 -5M342 2760l-2 -7M366 2760l-2 -5M390 2760l-2 -5M439 2760l-1 -4M464 2760l-5 -12M488 2760l-5 -12M513 2760l-4 -12M537 2760l-4 -12M562 2760l-5 -13M586 2760l-6 -16M610 2760l-4 -9M635 2760l-4 -9M659 2760l-5 -12M684 2760l-6 -16M708 2760l-6 -16M733 2760l-3 -7M757 2760l-1 -2M782 2760l-1 -4M806 2760l-2 -7M830 2760l-6 -14M855 2760l-2 -7M879 2760l-1 -4M904 2760l-2 -5M928 2760l-2 -5M953 2760l-1 -4M977 2760l-1 -4M1002 2760l-1 -2M1026 2760l-1 -2M1050 2760l-1 -4M1075 2760l-2 -5M1099 2760l-6 -16M1124 2760l-4 -12M1148 2760l-6 -18M1173 2760l-5 -16M1197 2760l-5 -18M1221 2760l-4 -18M1246 2760l-2 -9M1270 2760l-3 -18M1295 2760l-4 -21M1319 2760l-3 -21M1344 2760l-2 -21M1368 2760l-3 -18M1393 2760l-3 -17M1417 2760l0 -2M1441 2760l0 -2M1539 2760l0 -2M1564 2760l0 -2M1588 2760l-1 -4M1612 2760l-1 -10M1637 2760l-2 -15M1661 2760l-1 -15M1686 2760l-1 -12M1710 2760l0 -7M1735 2760l0 -4M1759 2760l0 -6M1784 2760l0 -1M1808 2760l0 -1M1832 2760l0 -1M293 2784l0 -1M317 2784l0 -1M342 2784l-2 -5M366 2784l-1 -2M390 2784l-1 -2M439 2784l-1 -4M464 2784l-4 -12M488 2784l-7 -20M513 2784l-4 -9M537 2784l-3 -7M562 2784l-3 -7M586 2784l-3 -9M610 2784l-3 -7M635 2784l-5 -12M659 2784l-6 -16M684 2784l-6 -16M708 2784l-9 -20M733 2784l-5 -12M757 2784l-5 -11M782 2784l-3 -7M806 2784l-3 -7M830 2784l-2 -5M855 2784l-1 -1M879 2784l-2 -7M904 2784l-3 -9M928 2784l-6 -16M953 2784l-2 -5M977 2784l-1 -2M1002 2784l-1 -2M1026 2784l-1 -2M1050 2784l-1 -4M1075 2784l-1 -2M1099 2784l-2 -7M1124 2784l-1 -2M1148 2784l-3 -9M1173 2784l-3 -9M1197 2784l-4 -16M1221 2784l-4 -18M1246 2784l-4 -18M1270 2784l-3 -18M1295 2784l-4 -21M1319 2784l-4 -24M1344 2784l-3 -21M1368 2784l-4 -24M1393 2784l-4 -28M1417 2784l-4 -18M1441 2784l-2 -9M1466 2784l-1 -4M1490 2784l0 -1M1539 2784l-2 -7M1564 2784l-1 -5M1588 2784l-2 -9M1612 2784l-2 -15M1637 2784l-3 -21M1661 2784l-2 -18M1686 2784l-2 -19M1710 2784l-1 -19M1735 2784l0 -6M1759 2784l0 -4M1784 2784l0 -2M1808 2784l0 -2M1832 2784l0 -2M268 2809l0 -1M293 2809l-1 -4M317 2809l-4 -16M342 2809l-5 -16M366 2809l-2 -5M390 2809l-1 -5M415 2809l-1 -4M439 2809l-1 -4M464 2809l-3 -9M488 2809l-6 -20M513 2809l-3 -7M537 2809l-1 -1M562 2809l-1 -2M586 2809l-3 -7M610 2809l-5 -13M635 2809l-3 -7M659 2809l-6 -16M684 2809l-7 -15M708 2809l-5 -13M733 2809l-4 -9M757 2809l-3 -7M830 2809l-3 -7M855 2809l-1 -2M879 2809l-3 -9M904 2809l-5 -16M928 2809l-5 -16M953 2809l-3 -7M977 2809l-1 -4M1002 2809l-1 -2M1026 2809l-1 -4M1050 2809l-1 -4M1075 2809l-1 -4M1099 2809l-1 -4M1148 2809l0 -1M1173 2809l-1 -4M1197 2809l-5 -21M1221 2809l-6 -21M1246 2809l-4 -18M1270 2809l-4 -18M1295 2809l-3 -21M1319 2809l-3 -21M1344 2809l-2 -21M1368 2809l-4 -21M1393 2809l-3 -21M1417 2809l-4 -18M1441 2809l-4 -16M1466 2809l-2 -9M1490 2809l-1 -4M1515 2809l-1 -2M1539 2809l-2 -5M1564 2809l-2 -5M1588 2809l-2 -12M1612 2809l-6 -31M1637 2809l-3 -21M1661 2809l-3 -18M1686 2809l-1 -19M1710 2809l0 -10M1735 2809l0 -6M1759 2809l0 -4M1784 2809l0 -1M1808 2809l0 -1M1832 2809l0 -1M268 2834l0 -2M293 2834l0 -2M317 2834l-4 -18M342 2834l-5 -16M366 2834l-1 -5M390 2834l-1 -5M415 2834l-1 -4M439 2834l-1 -2M464 2834l-1 -4M488 2834l-2 -5M513 2834l-2 -7M537 2834l-1 -4M562 2834l-2 -5M586 2834l-3 -7M610 2834l-3 -9M635 2834l-3 -7M659 2834l-5 -11M684 2834l-5 -12M708 2834l-4 -9M733 2834l-2 -7M757 2834l-2 -7M782 2834l-7 -17M806 2834l-7 -20M830 2834l-3 -9M855 2834l-1 -2M879 2834l-3 -7M904 2834l-4 -9M928 2834l-1 -4M953 2834l-3 -9M977 2834l-2 -7M1002 2834l-2 -5M1026 2834l-1 -4M1050 2834l-2 -5M1075 2834l-2 -5M1099 2834l-2 -5M1124 2834l-1 -2M1148 2834l-1 -4M1173 2834l-6 -21M1197 2834l-5 -18M1221 2834l-5 -18M1246 2834l-4 -18M1270 2834l-3 -18M1295 2834l-3 -18M1319 2834l-2 -18M1344 2834l-1 -19M1368 2834l-2 -18M1393 2834l-3 -18M1417 2834l-3 -18M1441 2834l-3 -13M1466 2834l-4 -16M1490 2834l-2 -7M1515 2834l0 -1M1539 2834l-1 -4M1588 2834l-2 -9M1612 2834l-8 -30M1637 2834l-3 -21M1661 2834l-3 -21M1686 2834l-2 -18M1710 2834l-1 -6M1735 2834l0 -2M1759 2834l0 -2M1784 2834l0 -2M1808 2834l0 -1M1832 2834l0 -1M268 2858l-1 -2M293 2858l-1 -2M317 2858l0 -1M342 2858l-2 -7M366 2858l-2 -5M390 2858l-1 -4M415 2858l-1 -4M439 2858l-1 -2M464 2858l-1 -4M488 2858l-1 -4M513 2858l-1 -4M537 2858l-1 -4M562 2858l0 -1M586 2858l-1 -1M610 2858l-2 -7M635 2858l-3 -7M659 2858l-2 -7M684 2858l-4 -12M708 2858l-6 -16M733 2858l-1 -2M757 2858l-3 -9M782 2858l-6 -18M806 2858l-8 -23M830 2858l-6 -16M855 2858l-5 -12M879 2858l-6 -16M904 2858l-6 -18M928 2858l-4 -12M953 2858l-4 -12M977 2858l-4 -13M1002 2858l-3 -9M1026 2858l-3 -9M1050 2858l-4 -12M1075 2858l-3 -9M1099 2858l-2 -5M1124 2858l-1 -4M1148 2858l-2 -5M1173 2858l-2 -7M1197 2858l-5 -18M1221 2858l-3 -17M1246 2858l-4 -18M1270 2858l-3 -18M1295 2858l-2 -18M1319 2858l-1 -17M1344 2858l-2 -17M1368 2858l-3 -21M1393 2858l-3 -18M1417 2858l-3 -18M1441 2858l-4 -18M1466 2858l-3 -12M1490 2858l-3 -14M1515 2858l0 -2M1564 2858l0 -1M1588 2858l0 -1M1612 2858l-2 -9M1637 2858l-1 -5M1661 2858l-1 -4M1686 2858l-1 -5M1710 2858l-1 -5M1735 2858l0 -2M1784 2858l0 -2M1808 2858l0 -1M1832 2858l0 -1M268 2883l-1 -4M293 2883l-1 -2M317 2883l-1 -2M342 2883l-3 -9M366 2883l-2 -5M390 2883l-1 -4M415 2883l-1 -4M439 2883l-1 -4M464 2883l-1 -2M488 2883l-2 -5M513 2883l-1 -4M537 2883l-1 -4M562 2883l-1 -2M586 2883l-1 -2M610 2883l-2 -5M635 2883l-2 -5M659 2883l-3 -9M684 2883l-2 -7M708 2883l-7 -20M733 2883l-2 -7M757 2883l-2 -7M782 2883l-2 -7M806 2883l-5 -16M830 2883l-5 -16M855 2883l-6 -17M879 2883l-5 -18M904 2883l-7 -23M928 2883l-9 -29M953 2883l-4 -12M977 2883l-6 -18M1002 2883l-7 -17M1026 2883l-5 -16M1050 2883l-6 -20M1075 2883l-5 -16M1099 2883l-4 -13M1124 2883l-3 -9M1148 2883l0 -1M1173 2883l0 -2M1197 2883l-3 -9M1221 2883l-3 -17M1246 2883l-3 -18M1270 2883l-3 -17M1295 2883l-2 -17M1319 2883l-2 -17M1344 2883l-1 -14M1368 2883l-3 -21M1393 2883l-3 -18M1417 2883l-2 -17M1441 2883l-2 -18M1466 2883l-3 -15M1490 2883l-1 -5M1515 2883l0 -1M1564 2883l0 -1M1588 2883l0 -2M1612 2883l-1 -4M1637 2883l0 -1M1661 2883l0 -1M1686 2883l-1 -2M268 2908l-1 -4M293 2908l-1 -2M317 2908l-1 -2M342 2908l-1 -2M366 2908l-1 -4M390 2908l-1 -4M415 2908l-1 -4M439 2908l-1 -2M464 2908l-2 -7M488 2908l-2 -7M513 2908l-1 -4M537 2908l-1 -4M586 2908l0 -1M610 2908l-1 -4M635 2908l-5 -16M659 2908l-4 -13M684 2908l-4 -13M708 2908l-4 -15M733 2908l-5 -21M757 2908l-5 -21M782 2908l-3 -13M806 2908l-2 -5M830 2908l-5 -18M855 2908l-7 -23M879 2908l-7 -20M904 2908l-6 -21M928 2908l-8 -23M953 2908l-6 -18M977 2908l-6 -17M1002 2908l-5 -16M1026 2908l-5 -16M1050 2908l-6 -18M1075 2908l-5 -18M1099 2908l-7 -20M1124 2908l-4 -13M1148 2908l-5 -18M1173 2908l-4 -18M1197 2908l-4 -16M1221 2908l-3 -17M1246 2908l-2 -17M1270 2908l-1 -10M1295 2908l-2 -12M1319 2908l-2 -15M1344 2908l-1 -15M1368 2908l-3 -31M1393 2908l-2 -18M1417 2908l-2 -17M1441 2908l0 -2M1466 2908l-4 -18M1490 2908l-1 -4M1564 2908l0 -2M1588 2908l0 -2M1612 2908l0 -1M1686 2908l0 -1M1710 2908l-2 -5M1735 2908l-1 -2M1759 2908l-1 -1M1808 2908l0 -1M1832 2908l0 -1M268 2932l0 -1M317 2932l-1 -4M342 2932l-2 -5M366 2932l-2 -5M390 2932l-2 -7M415 2932l-2 -5M439 2932l-1 -5M464 2932l-2 -5M488 2932l-1 -2M513 2932l-1 -2M537 2932l-2 -7M562 2932l-1 -4M586 2932l0 -1M610 2932l-2 -9M635 2932l-4 -13M659 2932l-5 -16M684 2932l-4 -16M708 2932l-4 -16M733 2932l-5 -18M757 2932l-4 -18M782 2932l-4 -18M806 2932l-4 -18M830 2932l-6 -20M855 2932l-8 -28M879 2932l-7 -23M904 2932l-6 -21M928 2932l-6 -18M953 2932l-6 -18M977 2932l-6 -16M1002 2932l-6 -16M1026 2932l-4 -16M1050 2932l-4 -13M1075 2932l-3 -9M1099 2932l-5 -18M1124 2932l-2 -7M1148 2932l-6 -18M1173 2932l-4 -18M1197 2932l-5 -21M1221 2932l-3 -18M1246 2932l-4 -16M1270 2932l-2 -14M1295 2932l-2 -15M1319 2932l-2 -18M1344 2932l-2 -18M1368 2932l-2 -19M1393 2932l-2 -18M1417 2932l-3 -18M1441 2932l0 -2M1466 2932l0 -2M1490 2932l0 -2M1564 2932l0 -2M1588 2932l0 -2M1612 2932l0 -1M1661 2932l0 -1M1686 2932l-2 -5M1710 2932l-1 -2M1735 2932l-1 -1M1759 2932l-1 -1M1808 2932l-1 -1M1832 2932l-1 -1M268 2957l-1 -2M293 2957l-2 -5M317 2957l-1 -4M342 2957l-5 -16M366 2957l-5 -13M390 2957l-5 -16M415 2957l-5 -16M439 2957l-2 -9M464 2957l-1 -4M513 2957l0 -1M537 2957l-1 -5M562 2957l-2 -9M586 2957l-1 -5M610 2957l-2 -12M635 2957l-4 -18M659 2957l-5 -21M684 2957l-3 -17M708 2957l-4 -18M733 2957l-4 -18M757 2957l-4 -18M782 2957l-4 -18M806 2957l-7 -31M830 2957l-5 -24M855 2957l-9 -31M879 2957l-6 -27M904 2957l-6 -23M928 2957l-5 -16M953 2957l-4 -13M977 2957l-4 -16M1002 2957l-5 -16M1026 2957l-4 -16M1050 2957l-3 -12M1075 2957l-3 -12M1099 2957l-4 -16M1124 2957l-4 -16M1148 2957l-5 -21M1173 2957l-6 -27M1197 2957l-6 -28M1221 2957l-3 -18M1246 2957l-2 -17M1270 2957l-3 -17M1295 2957l-3 -21M1319 2957l-2 -18M1344 2957l-1 -17M1368 2957l-1 -17M1393 2957l-2 -17M1417 2957l-2 -17M1441 2957l-1 -7M1466 2957l0 -2M1515 2957l0 -1M1539 2957l0 -1M1564 2957l0 -2M1588 2957l0 -1M1637 2957l-1 -2M1661 2957l-2 -4M1686 2957l-2 -4M1710 2957l-3 -5M1735 2957l-1 -2M1759 2957l-1 -2M1784 2957l-1 -2M1808 2957l-1 -2M1832 2957l-1 -2M268 2981l-1 -4M293 2981l-1 -4M317 2981l-2 -5M342 2981l-3 -9M366 2981l-3 -9M390 2981l-5 -16M415 2981l-7 -20M439 2981l-2 -7M464 2981l-1 -2M488 2981l0 -1M513 2981l0 -1M537 2981l0 -1M562 2981l0 -1M586 2981l0 -2M610 2981l-1 -5M635 2981l-2 -9M659 2981l-3 -18M684 2981l-3 -17M708 2981l-2 -17M733 2981l-2 -15M757 2981l-2 -17M782 2981l-4 -18M806 2981l-4 -17M830 2981l-5 -23M855 2981l-8 -31M879 2981l-7 -27M904 2981l-5 -21M928 2981l-3 -13M953 2981l-4 -16M977 2981l-4 -16M1002 2981l-4 -16M1026 2981l-3 -9M1050 2981l-3 -9M1075 2981l-2 -9M1099 2981l-2 -9M1124 2981l-4 -13M1148 2981l-6 -23M1173 2981l-5 -26M1197 2981l-6 -29M1221 2981l-3 -21M1246 2981l-3 -18M1270 2981l-2 -18M1295 2981l-2 -18M1319 2981l-2 -18M1344 2981l-1 -17M1368 2981l-2 -17M1393 2981l-1 -15M1417 2981l-1 -15M1441 2981l-1 -15M1466 2981l0 -4M1490 2981l0 -2M1515 2981l0 -4M1539 2981l-1 -6M1564 2981l-1 -5M1588 2981l-1 -2M1612 2981l-1 -2M1637 2981l-1 -2M1661 2981l-1 -2M1686 2981l-4 -9M1710 2981l-4 -6M1735 2981l-2 -3M1759 2981l-2 -3M1784 2981l-4 -6M1808 2981l-2 -3M1832 2981l-2 -3M268 3006l-1 -4M293 3006l-1 -4M317 3006l-1 -4M342 3006l-1 -4M366 3006l-2 -5M390 3006l-6 -16M415 3006l-6 -18M439 3006l-2 -9M464 3006l0 -1M488 3006l0 -1M562 3006l0 -2M586 3006l-1 -4M610 3006l-1 -4M635 3006l-3 -15M659 3006l-3 -18M684 3006l-2 -14M708 3006l-2 -17M733 3006l-2 -18M757 3006l-2 -18M782 3006l-3 -21M806 3006l-5 -28M830 3006l-5 -23M855 3006l-5 -28M879 3006l-5 -24M904 3006l-6 -21M928 3006l-7 -20M953 3006l-5 -18M977 3006l-5 -18M1002 3006l-5 -18M1026 3006l-5 -16M1050 3006l-1 -5M1075 3006l-1 -4M1099 3006l-1 -4M1124 3006l-3 -15M1148 3006l-6 -27M1173 3006l-6 -28M1197 3006l-4 -18M1221 3006l-4 -21M1246 3006l-3 -18M1270 3006l-4 -21M1295 3006l-2 -18M1319 3006l-2 -18M1344 3006l-2 -18M1368 3006l-1 -19M1393 3006l-1 -19M1417 3006l-2 -18M1441 3006l-1 -12M1466 3006l-2 -17M1490 3006l-1 -12M1515 3006l-1 -10M1539 3006l-2 -17M1564 3006l-2 -9M1588 3006l-3 -13M1637 3006l-1 -4M1661 3006l-8 -17M1686 3006l-10 -16M1710 3006l-11 -18M1735 3006l-2 -3M1784 3006l-2 -3M1808 3006l-3 -5M1832 3006l-3 -5M268 3031l-1 -4M293 3031l-2 -5M317 3031l-2 -7M342 3031l-2 -5M366 3031l-1 -4M390 3031l-2 -7M415 3031l-2 -7M439 3031l-2 -5M464 3031l-1 -4M488 3031l0 -1M562 3031l-1 -5M586 3031l-1 -6M610 3031l-1 -6M635 3031l-1 -7M659 3031l-2 -17M684 3031l-2 -17M708 3031l-3 -17M733 3031l-3 -18M757 3031l-3 -18M782 3031l-3 -21M806 3031l-5 -29M830 3031l-4 -24M855 3031l-5 -23M879 3031l-7 -23M904 3031l-7 -23M928 3031l-7 -23M953 3031l-9 -29M977 3031l-5 -16M1002 3031l-5 -16M1026 3031l-2 -7M1050 3031l-2 -7M1075 3031l-1 -5M1099 3031l-1 -5M1124 3031l-1 -4M1148 3031l-3 -15M1173 3031l-4 -18M1197 3031l-3 -18M1221 3031l-4 -21M1246 3031l-3 -21M1270 3031l-3 -21M1295 3031l-2 -18M1319 3031l-2 -18M1344 3031l-2 -18M1368 3031l-3 -18M1393 3031l-3 -18M1417 3031l-3 -18M1441 3031l-1 -21M1466 3031l-2 -18M1490 3031l-2 -15M1515 3031l-1 -14M1539 3031l-3 -17M1564 3031l-1 -5M1588 3031l-2 -7M1612 3031l-6 -16M1637 3031l-8 -17M1661 3031l-7 -13M1686 3031l-8 -13M1710 3031l-5 -8M1735 3031l-1 -2M1784 3031l-1 -1M1808 3031l-1 -1M1832 3031l-1 -1M268 3055l-1 -4M293 3055l-2 -5M317 3055l-2 -7M342 3055l-2 -5M366 3055l-1 -4M390 3055l-2 -5M415 3055l-2 -5M439 3055l-1 -5M464 3055l-1 -5M488 3055l0 -1M513 3055l0 -1M562 3055l0 -1M586 3055l-1 -7M610 3055l-1 -7M635 3055l-1 -7M659 3055l-3 -18M684 3055l-2 -17M708 3055l-2 -17M733 3055l-2 -17M757 3055l-2 -17M782 3055l-3 -17M806 3055l-4 -24M830 3055l-4 -21M855 3055l-5 -21M879 3055l-5 -21M904 3055l-5 -23M928 3055l-6 -23M953 3055l-7 -26M977 3055l0 -1M1002 3055l-5 -16M1026 3055l-4 -12M1050 3055l-3 -9M1075 3055l-1 -7M1099 3055l-1 -5M1124 3055l-1 -4M1148 3055l-1 -5M1173 3055l-3 -13M1197 3055l-4 -21M1221 3055l-3 -21M1246 3055l-3 -21M1270 3055l-2 -21M1295 3055l-2 -17M1319 3055l-2 -18M1344 3055l-3 -18M1368 3055l-1 -19M1393 3055l-2 -21M1417 3055l-3 -21M1441 3055l-2 -21M1466 3055l-2 -18M1490 3055l-3 -17M1515 3055l-2 -17M1539 3055l-2 -9M1564 3055l0 -2M1588 3055l0 -1M1612 3055l-2 -5M1637 3055l-3 -7M1661 3055l-7 -13M1686 3055l-16 -25M1784 3055l-1 -1M1808 3055l-1 -1M1832 3055l-1 -1M268 3080l-1 -4M293 3080l-2 -7M317 3080l-1 -4M342 3080l-1 -4M366 3080l-1 -4M390 3080l-1 -4M415 3080l-1 -4M439 3080l-1 -4M464 3080l0 -2M513 3080l0 -1M537 3080l0 -2M562 3080l0 -2M586 3080l-1 -6M610 3080l-1 -6M635 3080l-1 -6M659 3080l-1 -10M684 3080l-2 -17M708 3080l-3 -18M733 3080l-2 -19M757 3080l-2 -17M782 3080l-2 -17M806 3080l-3 -14M830 3080l-5 -21M855 3080l-3 -12M879 3080l-4 -15M904 3080l-4 -18M928 3080l-6 -21M953 3080l-5 -16M977 3080l-5 -16M1002 3080l-3 -12M1026 3080l-3 -12M1050 3080l-4 -16M1075 3080l-3 -12M1099 3080l-1 -5M1124 3080l0 -1M1148 3080l-2 -9M1173 3080l-4 -18M1197 3080l-4 -24M1221 3080l-5 -27M1246 3080l-5 -26M1270 3080l-4 -24M1295 3080l-3 -21M1319 3080l-2 -18M1344 3080l-2 -17M1368 3080l-2 -17M1393 3080l-2 -17M1417 3080l-5 -31M1441 3080l-3 -30M1466 3080l-2 -17M1490 3080l-2 -18M1515 3080l-2 -17M1539 3080l-1 -7M1564 3080l0 -2M1637 3080l-1 -1M1661 3080l-7 -13M1686 3080l-10 -16M1710 3080l-3 -5M1808 3080l-1 -1M1832 3080l-1 -1M268 3104l0 -1M293 3104l-1 -2M317 3104l-1 -2M342 3104l-1 -2M366 3104l-1 -2M390 3104l-1 -2M415 3104l0 -2M488 3104l0 -1M513 3104l0 -2M537 3104l-1 -4M562 3104l-1 -6M586 3104l-2 -14M610 3104l-2 -9M635 3104l-1 -10M659 3104l-1 -10M684 3104l-1 -15M708 3104l-3 -18M733 3104l-2 -18M757 3104l-2 -17M782 3104l-3 -17M806 3104l-1 -4M830 3104l0 -2M855 3104l0 -2M879 3104l-3 -9M904 3104l-3 -15M928 3104l-5 -16M953 3104l-5 -16M977 3104l-4 -16M1002 3104l-3 -13M1026 3104l-2 -7M1050 3104l-2 -9M1075 3104l-2 -12M1099 3104l-2 -10M1124 3104l0 -1M1148 3104l-4 -18M1173 3104l-6 -30M1197 3104l-5 -27M1221 3104l-3 -24M1246 3104l-4 -28M1270 3104l-3 -29M1295 3104l-4 -24M1319 3104l-3 -18M1344 3104l-3 -18M1368 3104l-3 -17M1393 3104l-2 -14M1417 3104l-4 -21M1441 3104l-6 -29M1466 3104l-3 -21M1490 3104l-2 -17M1515 3104l-2 -9M1539 3104l-2 -12M1564 3104l-1 -4M1588 3104l-3 -9M1612 3104l-4 -9M1637 3104l-4 -9M1661 3104l-5 -9M1686 3104l-4 -6M1710 3104l-1 -1M1808 3104l-1 -1M1832 3104l-1 -1M268 3129l0 -1M293 3129l-1 -2M317 3129l-1 -2M342 3129l-1 -4M366 3129l-1 -4M390 3129l-1 -4M415 3129l0 -2M464 3129l0 -1M488 3129l0 -1M513 3129l0 -2M537 3129l0 -2M562 3129l-1 -7M586 3129l-1 -15M610 3129l-2 -12M635 3129l-2 -12M659 3129l-1 -12M684 3129l-2 -17M708 3129l-2 -18M733 3129l-2 -18M757 3129l-3 -18M782 3129l-2 -17M806 3129l-1 -6M830 3129l0 -2M855 3129l-2 -7M879 3129l-2 -9M904 3129l-5 -16M928 3129l-5 -16M953 3129l-5 -16M977 3129l-5 -16M1002 3129l-3 -15M1026 3129l-2 -9M1050 3129l0 -2M1075 3129l-2 -7M1099 3129l-4 -16M1124 3129l-2 -9M1148 3129l-3 -21M1173 3129l-4 -21M1197 3129l-3 -24M1221 3129l-3 -18M1246 3129l-4 -24M1270 3129l-5 -30M1295 3129l-3 -21M1319 3129l-5 -24M1344 3129l-6 -29M1368 3129l-5 -31M1393 3129l-3 -18M1417 3129l-3 -17M1441 3129l-3 -21M1466 3129l-4 -18M1490 3129l-3 -15M1515 3129l-2 -14M1539 3129l-3 -12M1564 3129l-4 -12M1588 3129l-4 -12M1612 3129l-5 -13M1637 3129l-6 -11M1661 3129l-4 -6M1686 3129l-3 -5M1710 3129l-1 -2M1808 3129l-1 -1M1832 3129l-1 -1M268 3154l-1 -2M293 3154l0 -2M317 3154l-1 -2M342 3154l-1 -4M366 3154l-1 -5M390 3154l-1 -5M415 3154l-1 -4M439 3154l0 -1M464 3154l0 -1M488 3154l0 -1M562 3154l-1 -7M586 3154l-2 -15M610 3154l-2 -15M635 3154l-1 -12M659 3154l-2 -15M684 3154l-2 -18M708 3154l-2 -18M733 3154l-2 -18M757 3154l-2 -17M782 3154l-1 -7M806 3154l-2 -9M830 3154l0 -2M855 3154l-3 -17M879 3154l-4 -18M904 3154l-5 -16M928 3154l-5 -16M953 3154l-5 -16M977 3154l-4 -16M1002 3154l-3 -15M1026 3154l-4 -16M1050 3154l-1 -5M1075 3154l-1 -7M1099 3154l-1 -7M1124 3154l0 -2M1148 3154l-3 -17M1173 3154l-3 -24M1197 3154l-3 -21M1221 3154l-3 -18M1246 3154l-2 -18M1270 3154l-6 -30M1295 3154l-5 -23M1319 3154l-4 -21M1344 3154l-4 -18M1368 3154l-4 -21M1393 3154l-4 -24M1417 3154l-5 -21M1441 3154l-4 -17M1466 3154l-3 -17M1490 3154l-3 -15M1515 3154l-3 -17M1539 3154l-3 -12M1564 3154l-3 -12M1588 3154l-5 -12M1612 3154l-6 -13M1637 3154l-4 -9M1661 3154l-3 -5M1686 3154l-2 -3M1710 3154l-2 -3M1735 3154l-1 -2M1759 3154l-1 -2M1784 3154l-1 -1M1808 3154l-1 -1M1832 3154l-1 -1M268 3178l-2 -5M293 3178l-1 -4M317 3178l-1 -4M342 3178l-1 -4M366 3178l-1 -5M390 3178l-3 -9M415 3178l-2 -9M439 3178l0 -2M464 3178l0 -1M488 3178l0 -1M513 3178l-1 -7M537 3178l0 -4M562 3178l0 -2M586 3178l-1 -15M610 3178l-1 -15M635 3178l-2 -12M659 3178l-1 -15M684 3178l-2 -17M708 3178l-1 -19M733 3178l-2 -18M757 3178l-2 -18M782 3178l-2 -17M806 3178l-3 -18M830 3178l-5 -21M855 3178l-5 -21M879 3178l-5 -21M904 3178l-5 -18M928 3178l-5 -16M953 3178l-5 -16M977 3178l-5 -16M1002 3178l-4 -18M1026 3178l-4 -21M1050 3178l-3 -14M1075 3178l-2 -15M1099 3178l-1 -4M1124 3178l-1 -7M1148 3178l-3 -30M1173 3178l-4 -32M1197 3178l-3 -21M1221 3178l-3 -18M1246 3178l-3 -18M1270 3178l-3 -18M1295 3178l-3 -15M1319 3178l-3 -14M1344 3178l-4 -16M1368 3178l-3 -18M1393 3178l-4 -21M1417 3178l-4 -21M1441 3178l-4 -18M1466 3178l-4 -16M1490 3178l-3 -17M1515 3178l-3 -17M1539 3178l-2 -12M1564 3178l-3 -12M1588 3178l-3 -9M1612 3178l-4 -9M1637 3178l-2 -4M1661 3178l-3 -5M1686 3178l-2 -3M1710 3178l-3 -4M1735 3178l-5 -6M1759 3178l-3 -4M1784 3178l-2 -3M1808 3178l-1 -1M1832 3178l-1 -1M268 3203l-1 -5M293 3203l-2 -5M317 3203l-1 -2M342 3203l-1 -4M366 3203l-2 -7M390 3203l-2 -9M415 3203l-1 -7M439 3203l0 -2M464 3203l0 -2M488 3203l0 -2M537 3203l0 -1M562 3203l0 -6M586 3203l-2 -18M610 3203l-2 -18M635 3203l-1 -17M659 3203l-1 -15M684 3203l-2 -17M708 3203l-1 -17M733 3203l-1 -19M757 3203l-2 -19M782 3203l-3 -18M806 3203l-3 -18M830 3203l-5 -21M855 3203l-6 -21M879 3203l-6 -21M904 3203l-5 -15M928 3203l-5 -16M953 3203l-4 -16M977 3203l-4 -18M1002 3203l-5 -18M1026 3203l-5 -21M1050 3203l-3 -17M1075 3203l-3 -17M1099 3203l-2 -14M1124 3203l-2 -17M1148 3203l-1 -19M1173 3203l-3 -30M1197 3203l-2 -21M1221 3203l-3 -18M1246 3203l-3 -18M1270 3203l-4 -17M1295 3203l-2 -14M1319 3203l-3 -14M1344 3203l-3 -15M1368 3203l-4 -18M1393 3203l-3 -18M1417 3203l-4 -18M1441 3203l-5 -21M1466 3203l-3 -14M1490 3203l-4 -21M1515 3203l-4 -18M1539 3203l-4 -16M1564 3203l-4 -12M1588 3203l-5 -13M1612 3203l-1 -2M1637 3203l-3 -5M1661 3203l-3 -5M1686 3203l-3 -5M1710 3203l-5 -6M1735 3203l-4 -6M1759 3203l-3 -4M1784 3203l-3 -3M1808 3203l-3 -3M1832 3203l-2 -3M268 3227l-1 -2M293 3227l-2 -5M317 3227l-1 -5M342 3227l-1 -5M366 3227l-2 -7M390 3227l-2 -7M415 3227l-1 -5M439 3227l-1 -5M464 3227l-1 -4M488 3227l-1 -6M513 3227l0 -1M562 3227l-1 -6M586 3227l-2 -15M610 3227l-1 -17M635 3227l-1 -12M659 3227l-1 -12M684 3227l-1 -17M708 3227l-1 -17M733 3227l-3 -24M757 3227l-2 -24M782 3227l-3 -21M806 3227l-3 -21M830 3227l-3 -18M855 3227l-3 -17M879 3227l-5 -18M904 3227l-5 -16M928 3227l-6 -16M953 3227l-5 -16M977 3227l-5 -16M1002 3227l-4 -18M1026 3227l-5 -18M1050 3227l-4 -18M1075 3227l-3 -15M1099 3227l-2 -17M1124 3227l-2 -17M1148 3227l-3 -24M1173 3227l-2 -24M1197 3227l-3 -21M1221 3227l-2 -18M1246 3227l-3 -17M1270 3227l-3 -17M1295 3227l-3 -12M1319 3227l-1 -7M1344 3227l-3 -12M1368 3227l-4 -16M1393 3227l-4 -18M1417 3227l-5 -18M1441 3227l-4 -21M1466 3227l-6 -30M1490 3227l-8 -31M1515 3227l-5 -21M1539 3227l-4 -16M1564 3227l-7 -23M1588 3227l-1 -2M1612 3227l-2 -4M1637 3227l-2 -3M1661 3227l-3 -5M1686 3227l-4 -6M1710 3227l-5 -6M1735 3227l-6 -7M1759 3227l-5 -5M1784 3227l-3 -3M1808 3227l-5 -6M1832 3227l-5 -5M268 3252l0 -1M293 3252l-2 -7M317 3252l-2 -5M342 3252l-1 -5M366 3252l-1 -5M390 3252l-1 -5M415 3252l-1 -4M439 3252l-1 -5M464 3252l-1 -6M488 3252l-1 -5M513 3252l-2 -17M537 3252l0 -6M562 3252l-1 -7M586 3252l-1 -7M610 3252l-1 -7M635 3252l0 -2M659 3252l-1 -12M684 3252l-2 -17M708 3252l-3 -29M733 3252l-3 -29M757 3252l-3 -31M782 3252l-4 -24M806 3252l-4 -21M830 3252l-4 -18M855 3252l-3 -13M879 3252l-1 -4M904 3252l-3 -12M928 3252l-4 -16M953 3252l-5 -16M977 3252l-6 -18M1002 3252l-5 -18M1026 3252l-3 -17M1050 3252l-4 -16M1075 3252l-3 -17M1099 3252l-2 -17M1124 3252l-3 -17M1148 3252l-2 -19M1173 3252l-3 -24M1197 3252l-5 -29M1221 3252l-2 -14M1246 3252l-2 -17M1270 3252l-3 -17M1295 3252l-2 -9M1319 3252l-1 -7M1344 3252l-3 -14M1368 3252l-3 -17M1393 3252l-4 -16M1417 3252l-4 -18M1441 3252l-4 -18M1466 3252l-4 -17M1490 3252l-4 -21M1515 3252l-5 -21M1539 3252l-4 -18M1564 3252l-3 -9M1588 3252l-1 -1M1612 3252l-1 -2M1637 3252l-2 -4M1661 3252l-1 -1M1686 3252l-1 -1M1710 3252l-1 -1M1735 3252l-1 -1M1759 3252l-1 -1M1784 3252l-1 -2M1808 3252l-1 -1M1832 3252l-1 -2M268 3277l0 -1M293 3277l-2 -7M317 3277l-1 -5M342 3277l-1 -5M366 3277l-1 -5M390 3277l-1 -5M415 3277l-1 -4M439 3277l-1 -5M464 3277l-1 -6M488 3277l-1 -6M513 3277l-2 -17M537 3277l-1 -6M562 3277l-1 -7M586 3277l-1 -7M610 3277l-1 -7M635 3277l0 -2M659 3277l-1 -12M684 3277l-2 -17M708 3277l-2 -31M733 3277l-2 -29M757 3277l-4 -29M782 3277l-4 -24M806 3277l-4 -21M830 3277l-4 -18M855 3277l-3 -14M879 3277l-1 -4M904 3277l-3 -12M928 3277l-5 -16M953 3277l-5 -16M977 3277l-5 -18M1002 3277l-4 -18M1026 3277l-4 -16M1050 3277l-3 -17M1075 3277l-3 -17M1099 3277l-3 -17M1124 3277l-3 -17M1148 3277l-2 -18M1173 3277l-4 -24M1197 3277l-5 -26M1221 3277l-2 -14M1246 3277l-2 -17M1270 3277l-3 -17M1295 3277l-2 -10M1319 3277l-2 -7M1344 3277l-2 -14M1368 3277l-3 -17M1393 3277l-3 -17M1417 3277l-3 -18M1441 3277l-4 -18M1466 3277l-3 -17M1490 3277l-5 -21M1515 3277l-4 -21M1539 3277l-5 -18M1564 3277l-3 -9M1588 3277l0 -1M1612 3277l-1 -2M1637 3277l-2 -3M1661 3277l-1 -1M1686 3277l-1 -1M1710 3277l-1 -2M1735 3277l-1 -1M1759 3277l-1 -1M1784 3277l-1 -2M1808 3277l-1 -1M1832 3277l-1 -2" stroke="#000" stroke-width="3.6" stroke-linecap="round" fill="none"/><path d="M268 1923l-0 -3M293 1923l-1 -5M317 1923l-0 -2M342 1923l-1 -5M366 1923l-1 -5M855 1923l-1 -5M879 1923l-1 -5M1026 1923l-1 -5M1050 1923l-1 -5M1221 1923l-1 -2M1246 1923l-1 -2M1270 1923l-0 -1M1393 1923l-1 -5M1637 1923l-1 -5M1661 1923l-1 -5M1808 1923l-1 -5M1832 1923l-1 -5M342 1948l-1 -5M366 1948l-1 -5M366 1972l-0 -2M1515 1972l-1 -5M1564 1972l-2 -5M366 1997l-0 -2M1393 1997l-1 -5M1539 1997l-1 -5M1564 1997l-1 -5M1661 1997l-1 -5M1539 2022l-1 -5M1539 2046l-1 -5M1539 2194l-1 -2M1588 2218l-1 -5M1295 2243l-0 -5M1539 2317l-1 -5M1564 2341l-0 -2M1612 2341l-1 -5M268 2366l-3 -5M1637 2366l-1 -5M1515 2415l-1 -5M317 2440l-3 -5M953 2440l-0 -5M1197 2440l-0 -5M1368 2440l0 -3M1466 2440l-0 -5M1515 2440l-0 -5M1539 2440l-0 -3M342 2465l-3 -5M1564 2465l-0 -3M1808 2588l-0 -3M1832 2588l-0 -3M268 2612l-3 -5M1759 2612l-0 -5M1784 2612l-0 -5M1759 2637l-0 -5M293 2686l-2 -5M317 2686l-2 -5M390 2686l-2 -5M268 2711l-1 -2M1539 2711l-1 -5M1466 2735l-1 -2M1490 2735l-1 -2M1515 2735l-1 -5M415 2760l-1 -2M1466 2760l-1 -5M1490 2760l-1 -5M1515 2760l-1 -2M268 2784l-1 -5M415 2784l-1 -2M1515 2784l-1 -5M782 2809l-2 -5M806 2809l-2 -5M1124 2809l-2 -5M1564 2834l-1 -5M1539 2858l-1 -5M1759 2858l-1 -5M1539 2883l-1 -5M1710 2883l-2 -5M1735 2883l-2 -5M1759 2883l-1 -5M1784 2883l-1 -5M1808 2883l-1 -5M1832 2883l-2 -5M562 2908l-1 -5M1515 2908l-1 -5M1539 2908l-1 -5M1637 2908l-0 -1M1661 2908l-2 -5M1784 2908l-2 -5M293 2932l-2 -5M1515 2932l-1 -5M1539 2932l-1 -5M1637 2932l-1 -5M1784 2932l-2 -5M488 2957l-2 -5M1490 2957l-1 -5M1612 2957l-1 -2M513 3006l-1 -5M537 3006l-1 -2M1612 3006l-2 -5M1759 3006l-3 -4M513 3031l-1 -5M537 3031l-1 -2M1759 3031l-3 -4M537 3055l-1 -5M1710 3055l-1 -2M1735 3055l-1 -2M1759 3055l-3 -4M488 3080l-1 -5M1588 3080l-2 -5M1612 3080l-2 -5M1735 3080l-3 -4M1759 3080l-3 -4M1784 3080l-3 -4M439 3104l-1 -5M464 3104l-1 -5M1735 3104l-3 -4M1759 3104l-2 -2M1784 3104l-3 -4M439 3129l-1 -5M1735 3129l-3 -4M1759 3129l-3 -4M1784 3129l-2 -2M513 3154l-1 -5M537 3154l-1 -5M513 3203l-0 -3M537 3227l-0 -5" stroke="#000" stroke-width="3.5" stroke-linecap="round" fill="none"/>
<path d="M389 1913l2 5 -1 4 -2 -3zM413 1910l3 7 -1 4 -3 -4zM433 1890l5 10 -2 6 -4 -5zM457 1890l5 10 -1 6 -4 -5zM481 1891l5 9 -2 6 -4 -5zM508 1894l4 9 -2 6 -3 -5zM530 1890l5 10 -1 6 -4 -5zM554 1893l5 9 -1 6 -4 -5zM580 1900l4 8 0 6 -4 -5zM608 1913l2 5 0 4 -3 -3zM632 1907l3 7 -1 5 -3 -4zM657 1913l2 5 0 4 -3 -3zM681 1913l3 5 0 4 -3 -3zM705 1910l3 7 0 4 -3 -4zM728 1903l4 8 -1 5 -3 -4zM754 1913l3 5 0 4 -3 -3zM779 1913l3 5 0 4 -3 -3zM804 1910l3 7 -1 4 -3 -4zM827 1907l3 7 -1 5 -3 -4zM903 1913l2 5 -1 4 -2 -4zM926 1910l3 7 -1 4 -2 -4zM950 1900l3 8 -1 5 -3 -4zM976 1913l2 5 -1 4 -2 -3zM1001 1913l2 5 -1 4 -2 -4zM1072 1913l3 5 0 4 -3 -3zM1095 1907l4 7 -1 5 -3 -4zM1117 1900l5 8 -1 6 -3 -5zM1140 1901l5 7 0 6 -4 -4zM1168 1903l4 8 -1 5 -3 -4zM1194 1910l3 7 0 4 -3 -4zM1292 1910l3 7 0 4 -3 -4zM1316 1903l3 8 -1 5 -3 -5zM1340 1900l4 8 -1 5 -4 -4zM1363 1900l4 8 -1 6 -3 -5zM1414 1907l3 7 -1 5 -3 -4zM1438 1905l3 7 -1 6 -3 -5zM1461 1900l4 8 -1 6 -3 -5zM1481 1893l6 9 -1 6 -5 -5zM1509 1895l4 8 -1 6 -4 -5zM1535 1905l4 7 -1 6 -3 -5zM1560 1908l4 6 -1 5 -3 -4zM1583 1906l4 7 -1 5 -3 -4zM1609 1913l3 5 0 4 -3 -3zM1681 1900l4 8 -1 6 -4 -5zM1707 1910l4 7 -1 4 -3 -4zM1732 1907l3 7 -1 5 -3 -4zM1754 1900l4 8 -1 6 -4 -5zM1780 1907l4 7 -1 5 -3 -4zM265 1930l3 7 -1 6 -3 -5zM291 1930l3 8 -2 4 -2 -4zM315 1938l3 5 -1 4 -2 -3zM389 1938l2 5 -1 4 -2 -3zM412 1930l3 7 -1 5 -3 -4zM433 1921l5 9 -2 6 -3 -5zM459 1913l4 10 -2 7 -4 -6zM480 1913l6 10 -2 7 -4 -6zM507 1915l5 10 -2 6 -4 -5zM531 1915l5 10 -2 6 -4 -5zM554 1914l5 9 -1 7 -5 -6zM581 1925l4 8 -1 6 -3 -5zM606 1928l4 8 -1 5 -4 -5zM627 1916l6 9 -2 7 -4 -6zM650 1916l6 9 -2 7 -4 -5zM679 1933l4 6 0 5 -3 -4zM704 1935l4 7 -1 4 -2 -3zM726 1918l5 9 -2 6 -4 -5zM747 1914l6 9 -1 7 -5 -5zM774 1916l5 9 -1 7 -5 -6zM798 1916l5 9 -1 7 -5 -6zM822 1916l5 9 -1 7 -4 -6zM852 1930l3 7 -1 5 -3 -4zM875 1928l4 8 -1 5 -3 -5zM898 1909l5 11 -2 7 -4 -6zM925 1909l4 11 -3 7 -3 -7zM949 1906l5 11 -3 7 -4 -7zM974 1925l4 8 -2 5 -3 -5zM997 1915l5 10 -2 6 -4 -5zM1020 1913l5 10 -2 7 -4 -6zM1047 1930l3 7 -1 6 -3 -5zM1071 1930l4 7 -1 6 -3 -5zM1090 1920l6 8 -1 7 -5 -5zM1114 1914l6 9 -1 7 -5 -5zM1141 1926l5 7 -1 6 -4 -4zM1167 1929l4 7 0 5 -4 -4zM1192 1933l4 6 0 5 -3 -4zM1217 1932l4 7 -1 5 -3 -4zM1243 1935l3 7 -1 4 -2 -3zM1265 1928l4 8 -1 5 -3 -4zM1291 1930l3 7 0 6 -3 -5zM1316 1935l3 7 0 4 -3 -4zM1336 1910l6 10 -2 7 -5 -6zM1361 1916l5 9 -2 7 -4 -6zM1390 1932l3 7 -1 5 -2 -4zM1413 1932l4 7 -1 5 -3 -4zM1437 1930l4 7 -1 6 -3 -5zM1460 1925l4 8 -1 6 -3 -5zM1482 1913l6 10 -2 7 -4 -6zM1506 1916l6 9 -1 7 -5 -6zM1536 1935l3 7 0 4 -3 -4zM1560 1935l4 7 -1 4 -2 -3zM1585 1935l3 7 0 4 -3 -4zM1603 1916l6 9 -1 7 -5 -5zM1628 1916l6 9 -1 7 -5 -6zM1653 1916l5 9 -1 7 -5 -6zM1679 1909l5 11 -2 7 -4 -6zM1700 1910l6 10 -1 7 -5 -6zM1728 1918l5 9 -1 6 -5 -5zM1752 1918l5 9 -1 6 -4 -5zM1777 1918l5 9 -1 6 -4 -5zM1805 1930l3 7 -1 6 -3 -5zM1828 1930l4 7 -1 6 -3 -5zM265 1954l4 7 -2 5 -3 -4zM291 1956l3 7 -2 5 -2 -4zM315 1956l3 7 -1 5 -3 -4zM340 1962l3 5 -1 4 -2 -3zM388 1959l3 7 -1 4 -3 -4zM412 1949l3 8 -1 5 -3 -4zM433 1937l5 10 -2 7 -4 -6zM458 1933l5 11 -2 7 -5 -6zM482 1933l5 11 -2 7 -5 -6zM507 1937l5 10 -2 7 -5 -6zM531 1937l5 10 -2 7 -4 -6zM555 1942l5 9 -2 6 -4 -5zM580 1942l5 9 -2 6 -4 -5zM605 1945l4 9 -1 6 -4 -5zM629 1943l5 9 -2 6 -4 -5zM650 1940l6 9 -1 7 -5 -5zM679 1949l4 8 -1 6 -4 -5zM701 1946l5 8 -1 6 -4 -5zM725 1942l5 9 -1 6 -4 -5zM747 1938l6 9 -1 7 -5 -5zM773 1940l5 9 -1 7 -4 -5zM799 1937l5 10 -2 7 -4 -6zM823 1937l5 10 -2 7 -4 -6zM849 1942l4 9 -1 6 -4 -5zM874 1939l5 10 -2 6 -4 -5zM898 1937l5 10 -2 7 -4 -6zM923 1933l5 11 -3 7 -4 -7zM950 1939l4 10 -2 6 -4 -6zM973 1949l4 8 -2 6 -3 -5zM999 1952l3 8 -1 5 -3 -5zM1022 1949l4 8 -1 5 -4 -4zM1046 1956l4 7 -1 5 -3 -4zM1069 1949l4 8 -1 6 -3 -5zM1090 1940l6 9 -2 7 -4 -5zM1117 1950l5 7 -1 6 -4 -5zM1141 1950l5 7 -1 6 -4 -5zM1167 1953l4 7 0 5 -4 -4zM1190 1949l5 8 -1 6 -3 -5zM1213 1937l5 10 -1 7 -5 -6zM1241 1952l4 8 -1 5 -3 -4zM1266 1952l4 8 -1 5 -4 -5zM1289 1949l5 8 -1 6 -4 -5zM1315 1952l4 8 -1 5 -4 -5zM1341 1952l3 8 -1 5 -3 -5zM1365 1959l3 7 0 4 -3 -4zM1390 1956l4 7 -2 5 -2 -4zM1414 1956l3 7 -1 5 -3 -4zM1437 1954l4 7 -1 6 -3 -5zM1461 1954l4 7 0 6 -4 -4zM1487 1959l3 7 0 4 -3 -4zM1536 1959l3 7 -1 4 -2 -3zM1585 1959l3 7 -1 4 -2 -3zM1610 1962l2 5 0 4 -3 -3zM1634 1959l3 7 0 4 -3 -4zM1658 1959l3 7 0 4 -3 -4zM1680 1949l5 8 -1 6 -4 -5zM1706 1952l4 8 -1 5 -3 -5zM1731 1954l4 7 -1 6 -3 -5zM1753 1949l5 8 -1 6 -4 -5zM1780 1952l4 8 -1 5 -4 -5zM1801 1939l5 10 -1 6 -4 -5zM1825 1940l5 9 -2 7 -4 -6zM265 1981l3 7 -1 5 -2 -4zM291 1979l3 7 -2 5 -2 -4zM315 1979l3 7 -2 5 -2 -4zM340 1981l3 7 -1 5 -3 -4zM388 1981l3 7 -1 5 -3 -4zM410 1966l4 10 -2 6 -3 -5zM432 1958l5 11 -2 7 -4 -6zM456 1958l6 11 -2 7 -5 -6zM482 1958l5 11 -2 7 -5 -6zM505 1963l5 9 -1 7 -5 -6zM528 1963l6 9 -2 7 -4 -5zM554 1962l6 10 -2 7 -4 -6zM578 1965l5 9 -1 7 -5 -6zM603 1965l5 9 -1 6 -5 -5zM626 1965l6 9 -2 7 -4 -5zM650 1963l6 9 -2 7 -4 -5zM674 1963l6 9 -1 7 -5 -5zM698 1963l6 9 -1 7 -5 -5zM723 1959l6 10 -2 7 -4 -5zM747 1965l6 9 -1 7 -5 -5zM775 1965l5 9 -2 7 -4 -6zM799 1958l5 11 -2 7 -4 -6zM823 1962l5 10 -2 7 -4 -6zM847 1959l5 10 -1 7 -5 -6zM873 1964l5 10 -2 6 -4 -5zM899 1964l4 10 -2 6 -4 -5zM924 1958l4 11 -2 7 -4 -7zM948 1964l5 10 -2 6 -4 -5zM973 1970l4 9 -2 6 -3 -6zM998 1964l4 10 -2 6 -4 -6zM1022 1979l4 7 -1 6 -3 -5zM1045 1977l4 8 -1 5 -3 -4zM1070 1977l4 8 -1 5 -3 -4zM1089 1963l6 9 -1 7 -5 -5zM1116 1971l5 8 0 6 -4 -5zM1141 1974l5 8 -1 6 -3 -5zM1165 1971l5 8 0 6 -5 -5zM1188 1965l6 9 -2 7 -4 -5zM1211 1959l6 10 -1 7 -5 -6zM1239 1962l5 10 -2 7 -4 -6zM1266 1974l4 8 -2 6 -3 -5zM1291 1974l4 8 -2 6 -3 -5zM1315 1977l4 8 -1 5 -4 -5zM1340 1979l4 7 -1 6 -3 -5zM1366 1984l3 7 -1 4 -3 -4zM1414 1981l3 7 -1 5 -3 -4zM1437 1979l4 7 -1 6 -3 -5zM1462 1979l3 7 0 6 -3 -5zM1486 1982l3 6 0 5 -3 -4zM1513 1987l2 5 0 4 -3 -3zM1585 1987l3 5 0 4 -3 -3zM1609 1987l3 5 0 4 -3 -3zM1635 1987l2 5 0 4 -3 -3zM1682 1982l4 6 -1 5 -3 -4zM1706 1979l3 7 0 6 -4 -5zM1732 1977l3 8 -1 5 -3 -5zM1754 1977l4 8 -1 5 -3 -4zM1777 1962l5 10 -2 7 -4 -6zM1802 1962l5 10 -2 7 -4 -6zM1826 1962l5 10 -2 7 -4 -6zM265 2006l3 7 -1 5 -2 -4zM290 2004l3 7 -1 6 -3 -5zM316 2012l2 5 -1 4 -2 -3zM340 2012l3 5 -1 4 -2 -3zM364 2009l3 7 -1 4 -3 -4zM382 1987l6 10 -2 7 -4 -6zM405 1974l7 12 -3 8 -5 -7zM433 1983l5 11 -2 7 -5 -6zM458 1983l5 11 -2 7 -5 -6zM482 1987l5 10 -2 7 -4 -6zM505 1983l6 11 -2 7 -5 -6zM529 1984l5 10 -2 7 -4 -6zM554 1984l6 10 -2 7 -5 -6zM580 1989l4 10 -1 6 -4 -5zM601 1980l6 11 -2 8 -5 -7zM628 1987l5 10 -2 7 -4 -6zM652 1990l5 9 -2 7 -4 -6zM676 1990l5 9 -1 7 -4 -6zM699 1988l5 9 -1 7 -5 -5zM724 1988l6 9 -2 7 -4 -5zM748 1990l6 9 -1 7 -5 -5zM774 1988l5 9 -1 7 -5 -6zM796 1984l6 10 -2 7 -4 -5zM823 1987l5 10 -2 7 -4 -6zM848 1987l5 10 -2 7 -4 -6zM874 1989l5 10 -2 6 -4 -5zM901 1989l4 10 -3 6 -3 -6zM924 1987l4 10 -2 7 -4 -7zM951 1987l3 10 -2 6 -4 -6zM974 1991l4 10 -2 6 -4 -6zM1000 2004l3 7 -2 5 -2 -4zM1022 2002l4 8 -1 5 -4 -5zM1046 2004l3 7 0 6 -4 -5zM1070 2002l4 8 -1 5 -3 -4zM1092 1995l5 9 -1 6 -4 -5zM1114 1988l6 9 -1 7 -5 -5zM1142 2002l5 8 -1 5 -3 -4zM1164 1992l6 9 -1 6 -5 -5zM1187 1984l6 10 -1 7 -5 -6zM1214 1987l5 10 -2 7 -4 -6zM1238 1990l5 9 -1 7 -5 -6zM1264 1995l5 9 -2 6 -3 -5zM1291 1999l4 8 -1 5 -4 -4zM1315 2002l4 8 -2 5 -3 -5zM1340 2002l4 8 -1 5 -4 -5zM1365 2004l3 7 -1 6 -3 -5zM1389 2004l4 7 -1 6 -3 -5zM1413 2004l3 7 0 6 -3 -5zM1437 2004l4 7 -1 6 -3 -5zM1459 1990l5 9 -2 7 -4 -6zM1486 2002l3 8 -1 5 -3 -4zM1512 2012l3 5 0 4 -3 -3zM1561 2012l3 5 0 4 -3 -3zM1585 2012l3 5 0 4 -3 -3zM1610 2012l3 5 -1 4 -3 -3zM1635 2012l3 5 -1 4 -3 -3zM1658 2012l3 5 0 4 -3 -3zM1683 2009l3 7 0 4 -3 -4zM1707 2009l3 7 0 4 -3 -4zM1730 1999l4 8 -1 6 -4 -5zM1753 1993l5 9 -2 6 -3 -5zM1775 1988l6 9 -2 7 -4 -5zM1801 1992l5 9 -1 6 -4 -5zM1826 1992l5 9 -2 6 -4 -5zM265 2030l3 7 -1 5 -2 -4zM290 2026l3 8 -1 5 -3 -5zM314 2033l3 7 0 4 -3 -4zM339 2033l3 7 0 4 -3 -4zM364 2033l3 7 -1 4 -3 -4zM383 2011l5 10 -2 7 -4 -6zM408 2011l5 10 -2 7 -4 -6zM431 2008l5 10 -1 7 -5 -6zM457 2011l5 10 -2 7 -4 -6zM478 2008l6 10 -1 7 -5 -6zM505 2004l5 11 -2 8 -5 -7zM529 2008l5 10 -2 7 -4 -6zM552 2008l6 10 -1 7 -5 -5zM575 1996l6 12 -2 8 -5 -6zM602 2011l6 10 -2 7 -4 -6zM627 2012l5 9 -1 7 -5 -6zM650 2014l6 9 -1 7 -5 -6zM676 2020l5 8 0 6 -5 -5zM699 2012l6 9 -2 7 -4 -5zM724 2012l5 9 -1 7 -4 -5zM747 2008l6 10 -1 7 -5 -5zM774 2012l5 9 -1 7 -5 -6zM797 2012l6 9 -2 7 -4 -5zM823 2011l5 10 -2 7 -4 -6zM851 2017l4 9 -2 6 -4 -5zM875 2017l4 9 -2 6 -3 -5zM900 2017l4 9 -2 6 -4 -5zM926 2019l3 9 -2 6 -3 -6zM950 2019l3 9 -1 6 -4 -6zM974 2013l4 10 -2 6 -4 -6zM1000 2028l3 7 -2 5 -2 -4zM1024 2030l3 7 -2 5 -2 -4zM1047 2033l3 7 0 4 -3 -4zM1072 2028l3 7 -1 6 -3 -5zM1095 2026l4 8 -1 5 -4 -5zM1116 2011l6 10 -2 7 -4 -6zM1144 2030l4 7 -1 5 -3 -4zM1164 2014l6 9 -1 7 -5 -5zM1187 2008l6 10 -1 7 -5 -5zM1212 2012l6 9 -2 7 -4 -5zM1238 2014l5 9 -1 7 -4 -6zM1265 2019l4 9 -1 6 -4 -5zM1290 2023l4 8 -1 6 -4 -5zM1315 2019l4 9 -2 6 -3 -6zM1337 2014l5 9 -1 6 -5 -5zM1362 2011l5 10 -2 7 -4 -6zM1390 2026l3 8 -1 5 -3 -5zM1414 2030l3 7 -1 5 -3 -4zM1436 2026l4 8 -1 5 -3 -4zM1458 2008l5 10 -1 7 -5 -6zM1486 2026l4 8 -1 5 -4 -5zM1511 2033l4 7 -1 4 -2 -3zM1562 2036l2 5 0 4 -3 -3zM1584 2033l4 7 -1 4 -2 -3zM1609 2030l3 7 -1 5 -3 -4zM1634 2030l3 7 -1 5 -2 -4zM1659 2033l3 7 -1 4 -3 -4zM1684 2033l3 7 -1 4 -3 -4zM1706 2030l4 7 -1 5 -3 -4zM1728 2014l5 9 -2 7 -4 -6zM1753 2013l5 10 -2 6 -4 -5zM1781 2028l3 7 -1 6 -3 -5zM1805 2028l3 7 -1 6 -3 -5zM1828 2028l4 7 -1 6 -3 -5zM263 2054l4 6 0 6 -4 -4zM287 2051l5 8 -1 5 -4 -4zM313 2053l4 7 -1 6 -3 -5zM338 2059l4 6 -1 4 -2 -3zM364 2061l2 5 0 4 -3 -3zM385 2051l4 8 -1 5 -3 -4zM411 2053l4 7 -1 6 -3 -5zM432 2039l5 9 -2 6 -4 -5zM455 2037l5 9 -1 7 -5 -5zM478 2033l6 10 -2 7 -5 -5zM504 2033l6 10 -2 7 -5 -6zM530 2032l5 11 -2 7 -5 -6zM555 2032l5 11 -2 7 -5 -6zM579 2036l5 10 -2 7 -4 -6zM603 2039l5 9 -2 7 -4 -6zM626 2037l5 9 -1 7 -4 -5zM654 2048l4 8 -1 6 -3 -5zM678 2048l4 8 0 6 -4 -5zM704 2056l3 6 0 5 -3 -4zM728 2048l4 8 -1 6 -4 -5zM749 2041l5 9 -1 6 -4 -5zM773 2037l5 9 -1 7 -5 -5zM799 2039l5 9 -2 7 -4 -6zM825 2044l4 9 -1 6 -4 -5zM850 2048l4 8 -1 6 -3 -5zM875 2048l4 8 -1 5 -4 -4zM901 2044l4 9 -2 6 -4 -6zM925 2042l4 9 -2 6 -3 -5zM949 2044l4 9 -2 6 -3 -6zM974 2051l3 8 -1 5 -3 -5zM999 2053l3 7 -1 6 -3 -5zM1023 2053l3 7 -1 5 -3 -4zM1047 2051l3 8 -1 5 -3 -5zM1072 2051l3 8 -1 5 -3 -5zM1095 2051l4 8 -1 5 -4 -5zM1118 2044l4 9 -1 6 -4 -5zM1142 2041l5 9 -2 6 -4 -5zM1166 2044l5 9 -1 6 -4 -5zM1189 2037l5 9 -1 7 -5 -6zM1214 2036l5 10 -2 7 -4 -6zM1241 2038l5 10 -2 6 -4 -5zM1263 2039l5 9 -1 6 -5 -5zM1292 2053l3 7 -1 5 -3 -4zM1316 2053l3 7 -1 6 -3 -5zM1340 2044l4 9 -2 6 -4 -5zM1361 2036l5 10 -1 7 -5 -6zM1387 2038l5 10 -2 6 -4 -5zM1410 2043l5 8 -1 7 -4 -6zM1432 2033l6 10 -2 7 -5 -6zM1462 2055l4 7 -1 5 -3 -4zM1485 2051l4 8 -1 5 -3 -4zM1513 2061l3 5 -1 4 -3 -3zM1535 2055l4 7 -1 5 -3 -4zM1562 2061l3 5 -1 4 -3 -3zM1585 2058l3 7 -1 4 -2 -3zM1609 2058l3 7 0 4 -3 -4zM1633 2053l3 7 0 6 -4 -5zM1656 2051l4 8 -1 5 -3 -4zM1681 2051l4 8 -1 5 -3 -4zM1705 2051l4 8 -1 5 -3 -4zM1732 2058l4 7 -1 4 -3 -4zM1754 2051l4 8 -1 5 -3 -4zM1780 2051l4 8 -1 5 -3 -5zM1804 2053l4 7 -1 6 -3 -5zM1829 2053l3 7 -1 6 -3 -5zM264 2083l4 6 -1 4 -3 -3zM287 2076l5 7 -1 5 -4 -4zM308 2063l6 9 -2 7 -4 -5zM339 2086l3 4 0 4 -3 -3zM364 2085l2 5 0 4 -3 -3zM385 2080l4 6 0 5 -3 -4zM407 2067l5 8 -1 7 -4 -5zM434 2075l4 8 -1 5 -3 -4zM455 2063l6 9 -2 7 -4 -5zM478 2057l6 10 -1 7 -5 -6zM502 2054l6 10 -1 8 -6 -6zM528 2057l6 10 -2 7 -5 -6zM554 2060l6 10 -2 7 -4 -6zM578 2065l5 9 -1 6 -4 -5zM605 2068l4 9 -1 6 -4 -5zM627 2065l5 9 -1 6 -4 -5zM655 2075l3 8 -1 5 -3 -4zM680 2077l4 7 -1 6 -3 -5zM704 2077l4 7 -1 6 -3 -5zM727 2076l4 7 0 5 -4 -4zM750 2069l5 8 -1 6 -4 -5zM776 2072l4 8 -1 6 -3 -5zM800 2066l5 9 -2 6 -4 -5zM824 2068l5 9 -2 6 -3 -5zM853 2082l3 7 -1 4 -3 -4zM878 2082l2 7 -1 4 -2 -4zM901 2068l3 9 -2 6 -3 -6zM924 2062l4 10 -2 6 -4 -6zM951 2072l3 8 -2 5 -2 -5zM975 2079l3 7 -1 5 -3 -4zM1000 2075l3 8 -2 5 -2 -5zM1023 2075l4 8 -2 5 -3 -5zM1046 2072l4 8 -2 6 -3 -5zM1069 2065l4 9 -1 6 -4 -5zM1091 2060l5 10 -1 7 -4 -6zM1117 2060l5 10 -1 7 -5 -6zM1141 2063l5 9 -1 6 -5 -5zM1166 2063l5 9 -2 7 -4 -6zM1189 2057l5 10 -1 7 -5 -6zM1215 2060l5 10 -2 7 -4 -6zM1239 2062l5 10 -1 6 -4 -5zM1265 2064l5 10 -2 6 -4 -6zM1292 2082l4 7 -1 4 -3 -4zM1318 2085l2 5 -1 4 -2 -3zM1343 2085l2 5 -1 4 -2 -4zM1361 2043l6 13 -3 8 -5 -7zM1386 2044l6 12 -3 9 -5 -8zM1409 2060l5 10 -1 7 -4 -6zM1433 2056l6 11 -2 7 -5 -6zM1458 2060l6 10 -2 7 -4 -6zM1487 2077l3 7 -1 6 -3 -5zM1513 2085l2 5 0 4 -3 -3zM1535 2077l4 7 -1 6 -3 -5zM1560 2077l4 7 -1 6 -3 -5zM1584 2079l4 7 -1 5 -3 -4zM1610 2085l3 5 -1 4 -2 -3zM1632 2072l4 8 -1 6 -3 -5zM1655 2062l5 10 -2 6 -4 -5zM1678 2063l5 9 -1 7 -4 -6zM1705 2075l4 8 -1 5 -3 -4zM1733 2085l3 5 -1 4 -2 -3zM1755 2077l4 7 -1 6 -3 -5zM1781 2079l3 7 -1 5 -3 -4zM1804 2079l4 7 -1 5 -3 -4zM1828 2079l4 7 -1 5 -3 -4zM265 2111l3 4 0 4 -3 -3zM286 2103l5 7 0 5 -4 -4zM306 2086l6 9 -1 7 -4 -5zM338 2108l4 6 -1 4 -3 -3zM363 2111l3 4 -1 4 -2 -3zM386 2107l4 7 -1 4 -2 -3zM410 2103l4 6 0 6 -4 -4zM433 2100l5 8 -1 5 -4 -4zM456 2090l5 9 -1 6 -4 -5zM474 2075l7 10 -1 9 -6 -6zM500 2072l7 11 -2 9 -6 -7zM528 2078l6 11 -2 8 -5 -7zM553 2086l6 9 -2 7 -4 -5zM579 2088l5 9 -1 6 -5 -5zM604 2097l4 8 -1 6 -3 -5zM627 2090l5 9 -1 6 -4 -5zM654 2103l4 7 -1 5 -3 -4zM677 2097l5 8 -1 6 -3 -5zM702 2097l4 8 -1 6 -3 -5zM724 2090l6 9 -1 6 -5 -5zM749 2094l5 8 -1 6 -4 -5zM776 2093l4 9 -1 6 -4 -5zM801 2093l4 9 -1 6 -4 -5zM822 2088l6 9 -2 7 -4 -6zM849 2090l5 9 -2 6 -4 -5zM874 2087l4 10 -2 6 -4 -5zM899 2087l5 10 -2 6 -4 -5zM926 2093l3 9 -2 6 -3 -6zM950 2087l4 10 -3 6 -3 -6zM973 2087l4 10 -2 6 -4 -5zM998 2097l4 8 -1 5 -4 -4zM1022 2097l4 8 -2 5 -3 -4zM1048 2097l3 8 -2 5 -3 -5zM1071 2093l4 9 -2 6 -3 -5zM1092 2070l5 12 -2 8 -5 -7zM1118 2073l5 12 -3 8 -4 -7zM1143 2089l4 10 -1 6 -4 -6zM1168 2089l4 10 -1 6 -4 -6zM1192 2085l5 10 -3 7 -3 -6zM1216 2087l5 10 -2 6 -4 -5zM1242 2091l4 9 -2 6 -4 -5zM1263 2081l6 11 -3 7 -4 -6zM1292 2100l3 8 -1 5 -3 -5zM1317 2102l3 8 -2 4 -2 -4zM1340 2100l4 8 -1 5 -3 -5zM1363 2085l5 10 -3 7 -3 -6zM1385 2082l6 10 -2 7 -5 -6zM1410 2088l5 9 -2 6 -4 -5zM1436 2085l4 10 -2 7 -4 -6zM1460 2090l5 9 -2 6 -4 -5zM1486 2104l4 7 -1 5 -3 -4zM1508 2087l5 10 -1 6 -4 -5zM1533 2093l5 9 -2 6 -3 -5zM1561 2104l3 7 -1 5 -3 -4zM1584 2097l4 8 -2 6 -3 -5zM1609 2102l3 7 -1 6 -3 -5zM1631 2087l5 10 -2 6 -4 -5zM1654 2081l5 11 -2 7 -5 -6zM1675 2070l7 12 -2 8 -6 -6zM1703 2094l5 8 -1 6 -4 -5zM1731 2104l4 7 -1 5 -3 -4zM1756 2104l3 7 -1 5 -3 -4zM1780 2105l4 6 -1 5 -3 -4zM1801 2088l5 9 -2 7 -4 -6zM1825 2088l5 9 -2 7 -4 -6zM263 2133l4 6 0 4 -3 -3zM288 2133l4 6 0 4 -3 -3zM307 2119l6 8 0 6 -5 -4zM333 2123l6 7 -1 6 -4 -4zM362 2133l4 6 -1 4 -3 -3zM383 2128l5 7 0 5 -4 -4zM408 2123l5 7 -1 6 -4 -4zM432 2126l5 7 -1 5 -3 -4zM456 2113l5 9 -1 7 -5 -6zM475 2101l7 10 -1 8 -6 -6zM501 2099l7 11 -2 8 -5 -6zM525 2100l7 11 -2 8 -6 -7zM553 2107l5 10 -1 7 -5 -6zM578 2113l5 9 -1 7 -5 -6zM602 2117l5 8 -1 7 -4 -5zM627 2119l5 8 -1 6 -4 -5zM652 2119l5 8 -1 6 -4 -5zM675 2113l5 9 -1 7 -4 -5zM704 2127l4 7 -1 6 -3 -5zM727 2118l4 9 -1 6 -4 -5zM750 2119l5 8 -1 6 -4 -5zM774 2119l5 8 -1 6 -4 -5zM800 2115l4 9 -1 6 -4 -5zM824 2116l5 9 -2 6 -4 -5zM852 2122l3 8 -1 5 -3 -4zM875 2118l4 9 -2 6 -3 -6zM900 2118l4 9 -2 6 -3 -5zM925 2118l4 9 -2 6 -4 -6zM949 2114l4 10 -2 6 -3 -6zM975 2112l4 10 -3 6 -3 -6zM1000 2116l3 9 -2 6 -3 -5zM1024 2118l3 9 -2 6 -3 -6zM1047 2125l3 8 -1 5 -3 -5zM1074 2132l2 7 -1 4 -2 -4zM1095 2122l4 8 -2 6 -3 -5zM1120 2112l4 10 -2 6 -3 -6zM1142 2112l5 10 -2 6 -4 -5zM1169 2114l4 10 -2 6 -4 -6zM1193 2112l4 10 -2 6 -4 -6zM1216 2118l4 9 -1 6 -4 -5zM1244 2132l3 7 -1 4 -2 -4zM1264 2106l5 11 -2 7 -4 -6zM1293 2125l3 8 -2 5 -2 -5zM1316 2125l3 8 -1 5 -3 -5zM1341 2127l3 7 -1 6 -3 -5zM1365 2118l4 9 -2 6 -4 -6zM1387 2112l5 10 -2 6 -4 -5zM1412 2112l5 10 -2 6 -4 -5zM1436 2110l5 10 -3 7 -3 -6zM1461 2112l4 10 -2 6 -4 -5zM1483 2110l5 10 -2 7 -4 -6zM1506 2107l6 10 -2 7 -5 -6zM1531 2115l6 9 -2 6 -4 -5zM1561 2132l3 7 0 4 -3 -4zM1585 2132l3 7 0 4 -3 -4zM1605 2113l5 9 -2 7 -4 -6zM1631 2112l5 10 -2 6 -4 -5zM1654 2113l5 9 -2 7 -4 -6zM1676 2096l7 11 -3 9 -5 -7zM1703 2118l5 9 -1 6 -4 -5zM1732 2129l3 7 -1 5 -2 -4zM1756 2129l3 7 -1 5 -2 -4zM1780 2125l4 8 -1 5 -3 -5zM1804 2122l4 8 -2 6 -3 -5zM1827 2122l4 8 -1 6 -4 -5zM262 2157l5 6 0 4 -3 -3zM289 2160l4 4 -1 4 -2 -3zM309 2150l5 7 0 5 -4 -3zM334 2153l6 6 0 5 -4 -4zM359 2152l5 7 0 5 -4 -4zM382 2150l6 7 -1 5 -4 -4zM404 2140l6 8 0 7 -5 -5zM431 2143l5 8 -1 6 -4 -5zM456 2141l5 8 -1 7 -4 -5zM477 2131l6 10 -1 7 -5 -5zM500 2123l7 11 -2 8 -6 -6zM524 2123l7 11 -1 8 -6 -6zM554 2131l5 10 -1 7 -5 -6zM579 2134l5 10 -2 7 -4 -6zM602 2137l5 9 -1 7 -4 -6zM627 2137l5 9 -1 7 -4 -6zM651 2137l5 9 -1 7 -4 -6zM676 2143l5 8 -1 6 -4 -5zM701 2142l5 9 -1 6 -4 -5zM726 2146l5 8 -1 6 -4 -5zM752 2152l4 7 -1 5 -3 -4zM776 2142l4 9 -1 6 -4 -5zM799 2137l5 9 -2 7 -4 -6zM823 2139l5 9 -2 6 -4 -5zM850 2142l4 9 -1 6 -4 -5zM875 2134l4 10 -2 7 -4 -6zM901 2136l4 10 -2 6 -4 -6zM926 2136l3 10 -2 6 -3 -6zM950 2134l4 10 -2 6 -4 -6zM975 2136l4 10 -3 6 -3 -6zM999 2136l3 10 -2 6 -3 -6zM1023 2138l4 10 -2 6 -4 -6zM1049 2153l2 7 -1 5 -3 -4zM1073 2153l3 7 -1 5 -3 -4zM1097 2151l3 7 -2 5 -2 -4zM1122 2142l3 9 -2 6 -3 -6zM1146 2140l3 9 -2 6 -3 -5zM1171 2142l3 9 -2 6 -3 -6zM1195 2142l3 9 -2 6 -3 -6zM1218 2146l3 8 -1 5 -3 -4zM1243 2146l3 8 -1 5 -3 -4zM1268 2146l3 8 -2 5 -3 -5zM1293 2149l3 8 -2 5 -2 -5zM1318 2156l2 7 -1 4 -2 -4zM1342 2146l3 8 -2 5 -3 -5zM1362 2134l5 10 -2 7 -4 -6zM1388 2138l5 10 -2 6 -4 -6zM1413 2136l4 10 -2 6 -4 -6zM1435 2136l5 10 -2 6 -4 -5zM1462 2136l4 10 -2 6 -4 -6zM1483 2130l5 11 -2 7 -4 -6zM1508 2121l5 12 -2 8 -5 -7zM1533 2141l4 8 -1 6 -4 -5zM1560 2151l4 7 -1 6 -3 -5zM1584 2151l4 7 -1 6 -3 -5zM1607 2140l4 9 -1 6 -4 -5zM1633 2151l4 7 -1 6 -3 -5zM1658 2153l3 7 -1 5 -3 -4zM1681 2146l4 8 -1 6 -4 -5zM1706 2146l4 8 -2 6 -3 -5zM1731 2151l3 7 0 6 -3 -5zM1756 2153l3 7 -1 5 -2 -4zM1782 2159l3 5 -1 4 -2 -3zM1804 2149l4 8 -1 5 -4 -5zM1828 2149l4 8 -1 5 -3 -5zM263 2182l4 6 0 4 -3 -3zM284 2176l5 6 1 6 -5 -4zM309 2180l6 6 0 5 -4 -4zM334 2178l5 6 1 5 -4 -3zM361 2182l4 6 0 4 -3 -3zM380 2173l6 7 0 5 -4 -4zM404 2165l6 8 0 7 -5 -5zM429 2167l6 8 -1 6 -4 -5zM452 2161l6 8 0 8 -5 -5zM475 2146l7 11 -2 9 -6 -6zM500 2149l7 11 -1 8 -6 -6zM522 2142l8 12 -2 9 -6 -7zM554 2155l6 11 -2 7 -5 -6zM578 2160l5 9 -1 7 -5 -6zM602 2160l5 9 -1 7 -5 -6zM627 2159l5 10 -1 7 -4 -6zM650 2162l6 9 -2 7 -4 -5zM679 2174l4 8 -1 5 -3 -4zM701 2172l5 7 -1 6 -4 -5zM727 2171l4 8 0 6 -4 -5zM748 2166l6 8 -1 7 -4 -5zM772 2156l6 10 -2 7 -5 -5zM798 2156l5 10 -2 7 -4 -6zM824 2159l5 10 -2 7 -4 -6zM849 2159l5 10 -2 7 -4 -6zM875 2161l4 10 -2 6 -4 -6zM899 2161l5 10 -2 6 -4 -5zM925 2165l3 9 -2 6 -3 -5zM950 2167l4 9 -2 6 -3 -6zM973 2163l4 10 -2 6 -3 -6zM1001 2159l3 10 -3 6 -3 -6zM1023 2159l4 10 -3 7 -3 -7zM1047 2167l4 9 -2 6 -3 -6zM1074 2171l3 8 -2 5 -3 -5zM1097 2167l4 9 -3 6 -3 -6zM1123 2167l3 9 -2 6 -3 -6zM1146 2165l3 9 -2 6 -3 -5zM1170 2167l4 9 -2 6 -3 -6zM1196 2178l2 7 -1 5 -3 -4zM1219 2174l3 8 -2 5 -2 -5zM1244 2171l3 8 -2 5 -3 -5zM1268 2174l3 8 -2 5 -3 -5zM1294 2176l2 8 -1 4 -3 -4zM1316 2176l4 7 -2 5 -3 -4zM1341 2163l3 10 -2 6 -3 -6zM1366 2165l3 9 -2 6 -3 -5zM1390 2163l4 10 -2 6 -4 -6zM1412 2163l4 10 -1 6 -4 -6zM1436 2167l4 9 -1 6 -4 -5zM1461 2165l4 9 -1 6 -4 -5zM1486 2165l4 9 -2 6 -3 -5zM1510 2171l4 8 -1 6 -3 -5zM1562 2178l3 7 -2 5 -2 -4zM1585 2176l3 7 -1 6 -3 -5zM1605 2162l5 9 -1 6 -5 -5zM1632 2159l4 10 -2 7 -4 -6zM1657 2171l4 8 -2 5 -3 -4zM1683 2178l3 7 -1 5 -3 -4zM1706 2178l4 7 -1 5 -3 -4zM1731 2179l4 6 -1 5 -3 -4zM1755 2174l4 8 -1 5 -3 -5zM1777 2166l5 8 -1 7 -4 -5zM1804 2178l4 7 -1 5 -3 -4zM1828 2178l4 7 -1 5 -3 -4zM262 2207l5 5 0 4 -3 -3zM285 2204l5 6 1 5 -4 -3zM308 2202l6 6 0 5 -4 -3zM334 2204l5 6 1 5 -4 -3zM358 2202l5 6 0 5 -4 -3zM378 2191l6 8 0 6 -4 -4zM404 2193l6 7 0 7 -5 -5zM429 2193l6 7 -1 6 -4 -4zM454 2189l6 8 -1 7 -5 -5zM476 2181l7 9 -1 8 -6 -6zM499 2170l7 11 -1 9 -6 -7zM528 2176l5 11 -1 8 -5 -7zM554 2180l5 10 -2 7 -4 -6zM578 2184l5 9 -1 7 -5 -6zM600 2180l6 10 -1 7 -5 -6zM625 2180l6 10 -1 7 -5 -6zM648 2180l7 10 -2 7 -5 -5zM679 2198l4 8 -1 5 -3 -4zM703 2201l4 6 0 6 -4 -4zM727 2195l5 8 -1 6 -4 -5zM748 2186l5 9 -1 7 -4 -5zM773 2184l6 9 -2 7 -4 -5zM798 2186l5 9 -1 7 -4 -6zM823 2183l5 10 -2 7 -4 -6zM850 2183l4 10 -2 7 -4 -6zM873 2185l5 10 -2 6 -4 -5zM900 2185l4 10 -2 6 -4 -6zM925 2187l4 10 -2 6 -4 -6zM951 2183l4 10 -3 6 -4 -6zM975 2183l3 10 -2 6 -4 -6zM1000 2195l3 8 -2 5 -3 -5zM1023 2185l4 10 -3 6 -3 -6zM1048 2185l3 10 -2 6 -3 -6zM1072 2179l4 11 -3 7 -4 -7zM1098 2185l3 10 -3 6 -3 -6zM1123 2191l3 9 -3 6 -2 -6zM1147 2191l3 9 -2 6 -3 -6zM1172 2191l3 9 -3 6 -2 -6zM1196 2198l3 8 -2 5 -3 -5zM1219 2200l3 8 -2 4 -2 -4zM1244 2198l3 8 -2 5 -2 -5zM1269 2202l2 7 -1 5 -2 -4zM1294 2202l2 7 -1 5 -2 -4zM1317 2200l3 7 -2 5 -2 -4zM1341 2191l4 9 -2 6 -4 -6zM1364 2187l4 10 -2 6 -3 -6zM1389 2185l4 10 -2 6 -4 -5zM1413 2191l4 9 -2 6 -3 -6zM1438 2195l4 8 -2 5 -3 -5zM1464 2200l3 8 -2 4 -2 -4zM1488 2202l3 7 -2 5 -2 -4zM1514 2208l2 5 -1 4 -2 -3zM1537 2208l3 5 -1 4 -3 -3zM1562 2205l3 7 -1 4 -3 -4zM1607 2198l4 8 -1 5 -3 -4zM1632 2195l4 8 -1 6 -4 -5zM1657 2198l4 8 -1 5 -3 -5zM1683 2202l3 7 -1 5 -2 -4zM1707 2200l3 7 -1 6 -3 -5zM1730 2198l4 8 -1 5 -3 -4zM1754 2195l4 8 -1 6 -4 -5zM1778 2188l4 9 -1 6 -4 -5zM1804 2198l4 8 -1 5 -4 -5zM1828 2198l4 8 -1 5 -3 -5zM260 2229l6 6 0 5 -4 -4zM284 2227l6 6 0 5 -4 -3zM307 2226l6 5 0 6 -4 -3zM332 2225l6 6 0 6 -4 -3zM356 2225l6 6 0 6 -4 -4zM377 2217l7 7 0 7 -5 -5zM403 2216l7 8 -1 6 -4 -4zM429 2218l6 7 -1 6 -4 -4zM460 2234l4 4 -1 4 -2 -3zM477 2205l6 10 -1 7 -5 -5zM500 2197l7 11 -1 9 -6 -7zM527 2211l6 9 -1 7 -5 -5zM554 2215l5 8 -1 7 -4 -5zM578 2211l5 9 -1 7 -4 -6zM600 2209l6 9 -1 7 -5 -5zM624 2205l6 10 -1 7 -5 -5zM648 2195l6 11 -2 9 -5 -7zM675 2213l6 9 -1 6 -5 -5zM700 2211l5 9 -1 7 -5 -6zM729 2227l4 7 -1 5 -3 -4zM747 2209l6 9 -1 7 -5 -5zM773 2205l6 10 -2 7 -5 -6zM800 2214l5 9 -2 6 -4 -5zM825 2220l4 8 -1 6 -3 -5zM851 2212l4 10 -2 6 -4 -6zM876 2212l4 10 -2 6 -4 -6zM901 2210l4 10 -3 6 -3 -6zM925 2204l4 11 -3 7 -3 -7zM952 2204l4 11 -4 7 -3 -7zM973 2194l5 12 -4 8 -4 -7zM1000 2208l4 10 -3 6 -3 -6zM1024 2210l3 10 -2 6 -4 -6zM1048 2208l3 10 -2 6 -4 -6zM1074 2208l3 10 -2 6 -4 -6zM1099 2204l3 11 -3 7 -3 -7zM1122 2216l4 9 -3 6 -3 -6zM1146 2210l4 10 -3 6 -3 -6zM1172 2212l3 10 -2 6 -3 -6zM1196 2216l3 9 -2 6 -3 -6zM1219 2223l3 8 -2 5 -2 -5zM1243 2210l4 10 -3 6 -3 -6zM1269 2230l2 7 -1 4 -2 -4zM1318 2233l2 5 -1 4 -2 -4zM1343 2230l2 7 -1 4 -2 -4zM1366 2210l4 10 -3 6 -3 -6zM1389 2201l5 11 -3 7 -4 -7zM1414 2220l4 8 -2 5 -3 -4zM1439 2230l3 7 -1 4 -3 -4zM1464 2225l3 7 -2 5 -2 -4zM1488 2225l3 8 -2 4 -2 -4zM1513 2227l3 7 -2 5 -2 -4zM1538 2233l2 5 -1 4 -2 -3zM1562 2230l3 7 -1 4 -3 -4zM1586 2230l3 7 -1 4 -3 -4zM1609 2230l3 7 0 4 -3 -4zM1635 2230l3 7 -1 4 -3 -4zM1658 2230l3 7 0 4 -3 -4zM1683 2227l3 7 -1 5 -2 -4zM1706 2225l4 7 -1 6 -3 -5zM1731 2223l4 8 -1 5 -3 -5zM1753 2216l5 9 -2 6 -3 -5zM1779 2216l4 9 -1 6 -4 -5zM1804 2220l4 8 -2 6 -3 -5zM1827 2220l4 8 -1 6 -4 -5zM259 2252l5 6 1 5 -4 -3zM285 2254l6 6 0 4 -4 -3zM308 2252l5 6 1 5 -4 -3zM333 2252l6 6 0 5 -4 -3zM358 2254l5 6 1 5 -4 -3zM378 2241l6 8 0 6 -5 -4zM403 2241l6 8 0 6 -4 -4zM429 2243l6 7 -1 6 -4 -4zM454 2243l6 7 -1 6 -4 -4zM482 2251l4 7 0 5 -4 -4zM510 2259l3 4 0 4 -3 -3zM533 2255l4 7 -1 4 -2 -3zM556 2245l5 8 -1 6 -4 -5zM577 2238l6 9 -1 6 -5 -5zM603 2236l5 9 -2 7 -4 -6zM627 2236l5 9 -1 7 -4 -6zM650 2236l5 9 -1 7 -4 -5zM677 2242l5 8 -1 6 -4 -5zM697 2234l6 9 -1 7 -4 -5zM728 2248l4 8 -1 5 -3 -4zM752 2248l4 8 -1 5 -3 -4zM777 2245l4 8 -1 6 -3 -5zM802 2245l4 8 -2 5 -3 -4zM827 2245l3 8 -1 5 -3 -4zM852 2239l3 9 -2 6 -3 -5zM875 2235l4 10 -2 6 -4 -6zM901 2237l4 10 -2 6 -4 -6zM925 2233l4 10 -2 6 -4 -6zM949 2220l5 12 -3 8 -5 -7zM975 2229l4 11 -3 7 -4 -7zM998 2229l5 11 -3 7 -4 -7zM1025 2233l4 10 -3 6 -4 -6zM1048 2233l4 10 -3 6 -3 -6zM1074 2237l3 10 -3 6 -3 -6zM1098 2235l3 10 -2 6 -4 -6zM1122 2239l3 9 -2 6 -3 -5zM1148 2233l3 10 -3 6 -3 -6zM1171 2235l3 10 -2 6 -4 -6zM1196 2237l3 10 -2 6 -3 -6zM1220 2237l3 10 -2 6 -3 -6zM1244 2241l4 9 -3 6 -3 -6zM1268 2241l4 9 -3 6 -3 -6zM1295 2255l2 7 -2 4 -2 -4zM1319 2248l2 8 -2 5 -2 -5zM1341 2239l4 9 -2 6 -4 -5zM1366 2235l4 10 -3 6 -3 -6zM1391 2237l4 10 -3 6 -3 -6zM1414 2241l4 9 -2 6 -4 -6zM1439 2248l3 8 -2 5 -3 -5zM1464 2250l3 8 -2 4 -2 -4zM1488 2250l3 7 -2 5 -2 -4zM1512 2252l3 7 -1 5 -2 -4zM1537 2252l3 7 -2 5 -2 -4zM1562 2255l3 7 -1 4 -3 -4zM1585 2255l3 7 0 4 -3 -4zM1610 2255l3 7 -1 4 -3 -4zM1635 2255l3 7 -1 4 -3 -4zM1659 2255l3 7 -1 4 -3 -4zM1684 2258l3 5 -1 4 -3 -3zM1707 2252l3 7 -1 5 -3 -4zM1729 2241l5 9 -2 6 -3 -5zM1753 2238l4 9 -1 6 -4 -5zM1778 2235l5 10 -2 6 -4 -5zM1805 2255l3 7 0 4 -3 -4zM1829 2255l3 7 0 4 -3 -4zM259 2277l5 5 1 5 -4 -3zM283 2274l6 6 0 6 -4 -4zM308 2276l5 6 1 5 -4 -3zM335 2278l5 6 0 4 -4 -3zM357 2274l5 6 1 6 -5 -4zM378 2272l7 6 0 6 -4 -4zM400 2262l7 8 1 7 -6 -4zM424 2260l8 8 -1 7 -5 -5zM450 2255l7 10 -1 7 -5 -5zM483 2277l4 6 0 5 -4 -3zM507 2272l5 8 -1 5 -4 -4zM532 2272l4 8 -1 5 -3 -4zM555 2266l5 8 -1 6 -4 -5zM577 2262l6 9 -1 6 -5 -5zM603 2262l5 9 -2 6 -4 -5zM627 2264l5 8 -1 7 -4 -5zM654 2269l4 8 -1 6 -4 -5zM680 2279l4 7 -1 4 -2 -3zM700 2260l5 9 -1 7 -4 -6zM728 2272l4 8 -1 5 -3 -4zM752 2272l4 8 -1 5 -3 -4zM777 2272l4 8 -1 5 -3 -4zM803 2272l3 8 -1 5 -3 -5zM826 2269l4 8 -2 6 -3 -5zM851 2265l4 9 -2 6 -3 -6zM876 2259l4 10 -2 6 -4 -6zM902 2259l3 10 -2 6 -4 -6zM925 2257l4 10 -2 6 -4 -6zM951 2257l4 10 -3 6 -3 -6zM975 2249l4 12 -3 7 -4 -7zM999 2253l4 11 -2 7 -4 -7zM1024 2257l4 10 -3 6 -3 -6zM1050 2259l3 10 -3 6 -3 -6zM1074 2259l3 10 -3 6 -3 -6zM1097 2259l3 10 -2 6 -3 -6zM1123 2261l3 10 -3 6 -3 -6zM1146 2259l4 10 -3 6 -3 -6zM1172 2261l3 10 -2 6 -3 -6zM1196 2261l3 10 -2 6 -3 -6zM1219 2261l3 10 -2 6 -3 -6zM1244 2263l3 9 -2 6 -3 -5zM1269 2263l3 9 -3 6 -3 -6zM1295 2263l3 9 -3 6 -3 -6zM1318 2265l3 9 -3 6 -2 -6zM1344 2259l3 10 -3 6 -3 -6zM1365 2259l4 10 -3 6 -3 -6zM1390 2263l4 9 -2 6 -4 -5zM1415 2269l3 8 -2 5 -3 -5zM1440 2274l2 8 -1 4 -3 -4zM1464 2276l3 7 -2 5 -2 -4zM1489 2276l2 7 -1 5 -3 -4zM1511 2269l4 8 -2 5 -3 -4zM1537 2276l3 7 -2 5 -2 -4zM1563 2279l2 7 -1 4 -2 -4zM1586 2279l3 7 -1 4 -3 -4zM1609 2276l4 7 -2 5 -2 -4zM1634 2279l3 7 0 4 -3 -4zM1659 2282l3 5 -1 4 -3 -3zM1684 2282l3 5 -1 4 -2 -3zM1706 2276l4 7 -1 5 -3 -4zM1723 2246l7 11 -2 8 -5 -6zM1751 2253l6 11 -2 7 -5 -6zM1778 2259l5 10 -2 6 -4 -5zM1805 2279l4 7 -1 4 -3 -4zM1830 2279l3 7 -1 4 -3 -4zM259 2301l6 6 0 5 -4 -3zM283 2300l6 5 0 6 -4 -3zM300 2286l8 8 0 7 -6 -5zM331 2296l6 7 0 6 -4 -4zM357 2301l6 6 0 5 -4 -3zM381 2299l6 6 0 5 -4 -3zM404 2296l6 7 1 5 -5 -3zM423 2285l8 8 0 7 -6 -4zM451 2287l6 8 0 7 -5 -5zM475 2286l7 9 -1 6 -5 -4zM504 2291l6 8 -1 6 -4 -4zM528 2291l6 8 -1 6 -4 -4zM554 2285l5 9 -1 7 -5 -6zM576 2285l6 9 -1 7 -5 -5zM600 2285l6 9 -1 7 -5 -5zM626 2285l5 9 -1 7 -4 -5zM655 2301l4 7 -1 5 -3 -4zM681 2304l3 7 0 4 -3 -4zM703 2302l4 6 0 5 -3 -4zM728 2300l4 6 0 6 -4 -4zM754 2304l3 7 0 4 -3 -4zM777 2297l4 8 -1 5 -3 -4zM803 2297l3 8 -1 5 -3 -5zM826 2294l4 8 -2 6 -3 -5zM851 2290l4 9 -2 6 -3 -6zM874 2282l5 10 -2 7 -4 -6zM901 2284l4 10 -2 6 -4 -6zM927 2282l3 10 -2 6 -4 -6zM950 2284l4 10 -2 6 -4 -6zM976 2284l4 10 -3 6 -3 -6zM1001 2290l3 9 -3 6 -3 -6zM1024 2284l4 10 -3 6 -3 -6zM1050 2284l3 10 -3 6 -3 -6zM1074 2284l3 10 -3 6 -3 -6zM1098 2284l4 10 -3 6 -3 -6zM1124 2284l3 10 -3 6 -3 -6zM1148 2286l3 10 -3 6 -3 -6zM1171 2286l3 10 -2 6 -3 -6zM1197 2284l3 10 -3 6 -3 -6zM1220 2286l3 10 -2 6 -3 -6zM1245 2286l3 10 -2 6 -3 -6zM1271 2284l2 10 -3 6 -2 -6zM1294 2282l3 10 -3 6 -3 -6zM1318 2284l3 10 -3 6 -3 -6zM1342 2284l4 10 -3 6 -3 -6zM1367 2284l3 10 -2 6 -3 -6zM1392 2288l3 9 -2 6 -3 -6zM1416 2290l3 9 -3 6 -3 -6zM1439 2297l3 8 -2 5 -2 -5zM1465 2304l2 7 -1 4 -2 -4zM1488 2301l3 7 -1 5 -3 -4zM1513 2297l3 8 -2 5 -3 -5zM1562 2307l3 5 -1 4 -2 -3zM1586 2304l3 7 -1 4 -3 -4zM1609 2297l3 8 -1 5 -3 -5zM1634 2301l3 7 -1 5 -3 -4zM1659 2304l3 7 -1 4 -3 -4zM1683 2301l3 7 -1 5 -3 -4zM1705 2290l4 9 -1 6 -4 -5zM1726 2279l6 10 -2 7 -5 -6zM1755 2297l4 8 -1 5 -3 -5zM1779 2290l4 9 -1 6 -4 -5zM1804 2299l4 7 -1 6 -3 -5zM1828 2299l4 7 -1 6 -3 -5zM261 2330l5 5 1 4 -4 -2zM284 2326l5 5 1 5 -4 -3zM300 2310l7 8 1 7 -6 -4zM322 2307l9 8 0 8 -6 -5zM355 2320l6 7 1 5 -5 -3zM380 2323l6 6 0 6 -4 -4zM403 2316l7 7 0 7 -5 -4zM423 2309l8 8 0 7 -6 -4zM449 2305l7 9 0 7 -6 -5zM475 2308l7 9 -1 7 -5 -5zM505 2319l5 7 0 6 -4 -4zM529 2311l5 9 -1 6 -4 -5zM552 2309l6 9 -1 7 -5 -5zM578 2311l5 9 -1 6 -4 -5zM600 2309l6 9 -1 7 -5 -5zM625 2309l6 9 -1 7 -5 -5zM649 2307l6 9 -1 7 -5 -5zM674 2309l6 9 -1 7 -4 -5zM702 2318l5 8 -1 6 -4 -5zM728 2321l4 8 -1 5 -3 -4zM751 2321l5 8 -1 5 -3 -4zM779 2323l3 7 -1 6 -3 -5zM803 2323l3 7 -1 5 -3 -4zM827 2323l4 7 -2 5 -3 -4zM852 2318l3 8 -1 5 -3 -4zM877 2306l3 10 -2 6 -4 -6zM902 2306l4 10 -3 6 -3 -6zM926 2308l3 10 -2 6 -4 -6zM953 2312l2 9 -2 6 -3 -6zM977 2308l3 10 -3 6 -3 -6zM1002 2308l3 10 -3 6 -3 -6zM1025 2310l3 10 -2 6 -3 -6zM1050 2308l3 10 -3 6 -3 -6zM1074 2308l4 10 -3 6 -3 -6zM1098 2306l4 10 -3 6 -4 -6zM1124 2308l3 10 -3 6 -3 -6zM1147 2308l4 10 -3 6 -3 -6zM1172 2308l3 10 -3 6 -3 -6zM1198 2308l3 10 -3 6 -3 -6zM1219 2308l4 10 -3 6 -3 -6zM1247 2308l2 10 -3 6 -2 -6zM1271 2308l3 10 -3 6 -3 -6zM1294 2308l3 10 -2 6 -3 -6zM1319 2306l3 10 -3 6 -3 -6zM1344 2308l3 10 -3 6 -3 -6zM1368 2312l3 9 -3 6 -3 -6zM1391 2308l4 10 -3 6 -3 -6zM1416 2308l3 10 -3 6 -3 -6zM1439 2318l3 8 -2 5 -3 -5zM1465 2325l2 7 -1 5 -2 -4zM1489 2328l2 7 -1 4 -2 -4zM1512 2314l3 9 -1 6 -4 -6zM1537 2323l3 8 -2 4 -2 -4zM1587 2328l2 7 -1 4 -2 -4zM1635 2328l3 7 -1 4 -3 -4zM1656 2308l4 10 -2 6 -3 -5zM1680 2308l4 10 -1 6 -4 -5zM1701 2303l6 10 -2 7 -4 -6zM1729 2308l5 10 -2 6 -4 -5zM1752 2311l5 9 -2 6 -4 -5zM1777 2314l5 9 -1 6 -4 -5zM1804 2318l4 8 -2 6 -3 -5zM1828 2318l4 8 -2 6 -3 -5zM286 2355l5 5 1 4 -4 -2zM307 2348l6 6 0 6 -4 -4zM331 2349l7 5 0 6 -4 -3zM356 2348l6 6 0 6 -4 -4zM379 2345l6 7 1 5 -5 -3zM402 2340l7 7 0 7 -5 -4zM425 2336l7 8 0 7 -5 -5zM449 2334l7 8 0 7 -5 -4zM474 2333l7 9 0 7 -5 -5zM502 2332l6 9 -1 7 -5 -5zM528 2334l5 9 -1 7 -4 -5zM554 2334l5 9 -1 7 -5 -6zM577 2334l6 9 -2 7 -4 -5zM600 2328l6 10 -1 7 -5 -6zM620 2317l7 11 -1 9 -6 -7zM647 2329l6 9 -1 8 -5 -6zM676 2334l5 9 -1 7 -4 -6zM700 2331l6 10 -2 7 -4 -6zM723 2332l6 9 -1 7 -5 -5zM752 2343l4 8 -1 6 -4 -5zM778 2348l3 7 0 6 -3 -5zM803 2348l3 7 -1 6 -3 -5zM827 2343l3 8 -1 5 -3 -4zM852 2333l4 10 -2 6 -4 -6zM874 2331l5 10 -2 7 -4 -6zM902 2333l4 10 -3 6 -3 -6zM927 2333l3 10 -2 6 -4 -6zM953 2335l3 10 -3 6 -3 -6zM976 2331l3 10 -3 6 -3 -6zM1001 2333l3 10 -3 6 -3 -6zM1026 2331l3 10 -3 6 -3 -6zM1051 2333l2 10 -3 6 -3 -6zM1075 2333l3 10 -3 6 -3 -6zM1098 2333l3 10 -3 6 -3 -6zM1124 2333l3 10 -3 6 -3 -6zM1147 2339l3 9 -2 6 -3 -6zM1173 2333l3 10 -3 6 -3 -6zM1197 2331l3 10 -3 6 -3 -6zM1221 2333l3 10 -3 6 -3 -6zM1247 2333l3 10 -3 6 -3 -6zM1270 2333l3 10 -3 6 -3 -6zM1295 2333l3 10 -3 6 -3 -6zM1321 2333l2 10 -3 6 -3 -6zM1345 2335l2 10 -3 6 -2 -6zM1367 2337l3 9 -2 6 -3 -6zM1391 2333l4 10 -3 6 -3 -6zM1417 2343l3 8 -3 5 -2 -5zM1440 2350l2 7 -1 5 -2 -4zM1465 2353l2 7 -1 4 -2 -4zM1488 2350l3 7 -1 5 -3 -4zM1513 2343l3 8 -2 5 -3 -5zM1537 2346l3 8 -2 5 -2 -5zM1562 2348l3 8 -2 4 -2 -4zM1586 2350l3 7 -2 5 -2 -4zM1610 2353l3 7 -1 4 -3 -4zM1658 2350l3 7 -1 5 -2 -4zM1679 2331l5 10 -2 7 -4 -6zM1702 2315l6 13 -3 8 -5 -7zM1728 2331l5 10 -2 7 -4 -6zM1753 2336l5 9 -2 6 -4 -5zM1778 2339l5 9 -2 6 -3 -5zM1803 2343l4 8 -1 6 -3 -5zM1828 2343l4 8 -2 6 -3 -5zM261 2380l5 5 1 4 -4 -2zM284 2375l5 6 1 5 -4 -3zM308 2378l6 5 1 5 -4 -3zM333 2375l5 6 1 5 -4 -3zM355 2374l7 5 0 6 -4 -3zM378 2371l6 6 1 6 -5 -4zM402 2363l6 8 0 6 -5 -4zM423 2359l7 8 1 7 -6 -4zM451 2358l7 9 -1 7 -5 -5zM478 2370l6 6 0 6 -4 -4zM502 2357l6 9 -1 7 -5 -5zM525 2358l6 8 0 8 -5 -5zM552 2359l6 9 -1 7 -4 -5zM577 2359l6 9 -1 7 -5 -5zM599 2353l6 10 -1 7 -5 -5zM621 2343l8 11 -2 9 -6 -7zM650 2353l5 10 -1 7 -5 -6zM675 2359l6 9 -1 7 -5 -5zM701 2361l5 9 -2 6 -4 -5zM726 2368l5 8 -1 6 -4 -5zM754 2378l3 7 0 4 -3 -4zM779 2378l4 7 -1 4 -3 -4zM803 2373l4 7 -2 5 -3 -4zM828 2381l3 5 -1 4 -2 -3zM852 2364l4 9 -2 6 -3 -6zM876 2356l4 10 -3 7 -3 -7zM901 2358l4 10 -2 6 -4 -6zM928 2360l3 10 -3 6 -3 -6zM952 2360l3 10 -2 6 -3 -6zM978 2356l2 10 -3 6 -3 -6zM1003 2358l3 10 -4 6 -2 -6zM1027 2356l3 10 -3 6 -3 -6zM1050 2356l3 10 -3 6 -3 -6zM1074 2358l3 10 -3 6 -3 -6zM1100 2358l2 10 -3 6 -2 -6zM1124 2358l3 10 -3 6 -3 -6zM1147 2352l4 11 -4 7 -3 -7zM1174 2348l3 12 -3 7 -4 -7zM1198 2360l3 10 -3 6 -3 -6zM1221 2360l3 10 -3 6 -2 -6zM1247 2358l3 10 -4 6 -2 -6zM1270 2358l3 10 -3 6 -3 -6zM1295 2356l3 10 -3 6 -3 -6zM1321 2358l2 10 -3 6 -2 -6zM1345 2358l3 10 -4 6 -2 -6zM1369 2368l2 8 -3 5 -2 -5zM1394 2373l1 8 -2 4 -2 -4zM1417 2378l2 7 -2 4 -2 -4zM1440 2378l2 7 -1 4 -2 -4zM1465 2375l3 7 -2 5 -2 -4zM1489 2373l2 8 -1 4 -3 -4zM1514 2378l2 7 -1 4 -2 -4zM1538 2375l2 7 -1 5 -2 -4zM1561 2371l3 8 -1 5 -3 -5zM1586 2368l3 8 -2 5 -3 -5zM1609 2371l4 8 -2 5 -3 -5zM1634 2373l3 7 -1 6 -3 -5zM1657 2358l4 10 -2 6 -4 -5zM1681 2360l4 10 -2 6 -3 -5zM1705 2360l4 10 -2 6 -3 -5zM1729 2361l4 9 -1 6 -4 -5zM1754 2362l4 9 -1 6 -4 -5zM1779 2364l4 9 -1 6 -4 -5zM1803 2362l4 9 -2 6 -3 -5zM1827 2362l4 9 -1 6 -4 -5zM262 2404l4 5 1 4 -4 -2zM286 2404l5 5 1 4 -4 -2zM312 2407l4 3 0 4 -3 -2zM335 2404l5 5 1 4 -4 -2zM359 2404l5 5 1 4 -4 -2zM384 2404l5 5 0 4 -4 -3zM400 2385l7 8 1 7 -6 -4zM424 2383l7 8 0 7 -5 -4zM452 2390l6 8 1 6 -5 -4zM478 2388l6 8 -1 6 -4 -5zM506 2398l5 7 0 5 -4 -4zM531 2396l5 7 -1 5 -4 -4zM551 2384l6 8 -1 7 -5 -5zM576 2383l6 9 -1 7 -5 -5zM598 2378l7 9 -1 8 -6 -6zM623 2378l6 9 -1 8 -5 -6zM651 2381l5 9 -1 7 -5 -6zM676 2383l6 9 -2 7 -4 -6zM700 2387l5 8 -1 7 -4 -5zM727 2392l4 8 0 6 -4 -5zM754 2402l3 7 0 4 -3 -4zM780 2405l3 5 -1 4 -2 -3zM804 2405l3 5 -1 4 -2 -3zM826 2384l4 10 -2 6 -3 -6zM851 2380l4 10 -2 7 -4 -7zM877 2380l3 10 -2 6 -4 -6zM902 2384l4 10 -3 6 -3 -6zM928 2388l3 9 -3 6 -3 -6zM953 2384l3 10 -3 6 -3 -6zM976 2380l4 10 -3 6 -4 -6zM1003 2382l3 10 -4 6 -2 -6zM1025 2380l3 10 -3 6 -3 -6zM1050 2380l3 10 -3 6 -3 -6zM1075 2382l3 10 -3 6 -3 -6zM1100 2382l2 10 -3 6 -2 -6zM1123 2382l4 10 -3 6 -3 -6zM1148 2376l3 11 -3 7 -4 -7zM1172 2386l3 9 -2 6 -3 -6zM1197 2392l3 8 -3 5 -2 -5zM1221 2388l3 9 -3 6 -2 -6zM1245 2382l3 10 -2 6 -3 -6zM1271 2382l3 10 -3 6 -3 -6zM1294 2382l4 10 -3 6 -3 -6zM1319 2382l3 10 -3 6 -3 -6zM1344 2384l2 10 -2 6 -3 -6zM1368 2402l2 7 -2 4 -2 -4zM1393 2402l2 7 -2 4 -2 -4zM1416 2402l2 7 -1 4 -2 -4zM1440 2402l2 7 -1 4 -2 -4zM1466 2399l2 7 -2 5 -2 -5zM1488 2397l3 8 -2 4 -2 -4zM1538 2405l2 5 -1 4 -2 -4zM1562 2397l3 7 -2 5 -2 -4zM1585 2380l4 10 -3 7 -3 -7zM1605 2376l5 11 -2 7 -4 -6zM1633 2384l4 10 -2 6 -3 -6zM1656 2382l5 10 -2 6 -4 -5zM1684 2402l3 7 -1 4 -3 -4zM1705 2386l4 9 -1 6 -4 -5zM1730 2388l4 9 -1 6 -4 -5zM1755 2395l3 8 -1 5 -3 -4zM1780 2392l4 8 -2 6 -3 -5zM1803 2392l4 8 -1 6 -3 -5zM1828 2392l4 8 -2 6 -3 -5zM261 2429l5 5 1 4 -4 -2zM288 2432l4 3 0 4 -3 -2zM337 2431l4 4 0 4 -3 -2zM361 2431l4 4 0 4 -3 -2zM385 2431l4 4 0 4 -3 -2zM408 2426l5 6 0 4 -4 -3zM424 2408l7 8 0 7 -5 -4zM450 2408l7 8 0 7 -6 -5zM472 2404l8 9 -1 7 -5 -5zM504 2418l6 7 -1 6 -4 -4zM529 2418l5 7 0 6 -4 -4zM554 2414l5 8 -1 6 -4 -4zM575 2406l6 9 -1 7 -5 -5zM600 2406l6 9 -1 7 -5 -5zM626 2408l6 9 -1 7 -5 -6zM648 2406l6 9 -1 7 -5 -5zM674 2408l6 9 -1 7 -5 -5zM699 2408l5 9 -1 7 -4 -5zM723 2406l6 9 -1 7 -5 -5zM752 2420l4 8 -1 5 -3 -4zM778 2424l4 7 -1 5 -3 -4zM804 2424l3 7 -2 5 -2 -4zM825 2413l4 9 -1 6 -4 -5zM850 2407l5 10 -2 6 -4 -5zM874 2405l5 10 -2 7 -4 -6zM901 2407l4 10 -3 6 -3 -6zM926 2417l3 8 -2 5 -2 -5zM976 2411l3 9 -3 6 -3 -5zM1001 2405l3 10 -2 6 -4 -6zM1026 2407l3 10 -3 6 -3 -6zM1049 2407l3 10 -2 6 -3 -6zM1073 2407l3 10 -2 6 -3 -6zM1097 2407l3 10 -2 6 -4 -6zM1122 2407l3 10 -2 6 -4 -6zM1146 2405l4 10 -3 6 -3 -6zM1173 2427l2 7 -2 4 -2 -4zM1220 2420l3 8 -2 5 -3 -5zM1246 2405l3 10 -3 6 -3 -6zM1270 2405l3 10 -3 6 -3 -6zM1296 2407l3 10 -4 6 -2 -6zM1320 2411l2 9 -3 6 -2 -6zM1344 2420l2 8 -2 5 -2 -5zM1392 2430l2 5 -1 4 -2 -4zM1417 2427l2 7 -2 4 -2 -4zM1440 2430l2 5 -1 4 -2 -4zM1490 2430l1 5 -1 4 -2 -4zM1563 2427l2 7 -1 4 -2 -4zM1584 2407l4 10 -2 6 -3 -6zM1609 2407l4 10 -2 6 -4 -6zM1631 2407l5 10 -2 6 -4 -5zM1656 2405l4 10 -2 7 -4 -6zM1684 2422l3 7 -2 5 -2 -4zM1705 2417l4 8 -1 6 -4 -5zM1731 2413l4 9 -2 6 -3 -5zM1755 2413l4 9 -2 6 -4 -5zM1781 2422l4 7 -2 5 -3 -4zM1805 2422l3 7 -1 5 -3 -4zM1828 2422l4 7 -1 6 -3 -5zM261 2454l5 5 1 4 -4 -2zM288 2456l4 4 0 4 -3 -2zM312 2456l4 4 0 4 -3 -2zM361 2457l4 3 0 4 -3 -2zM384 2454l5 5 0 4 -3 -3zM406 2449l6 6 0 5 -4 -3zM426 2441l7 7 0 6 -5 -4zM451 2432l6 9 0 7 -5 -5zM474 2435l7 8 0 7 -5 -5zM502 2431l6 9 -1 7 -5 -5zM531 2450l5 6 0 5 -4 -3zM553 2439l5 8 0 6 -5 -4zM577 2437l5 9 0 6 -5 -5zM601 2437l6 8 -1 7 -4 -5zM624 2431l6 9 -1 7 -5 -5zM651 2433l5 9 -1 7 -5 -6zM674 2431l6 9 -1 7 -5 -5zM699 2427l5 10 -1 7 -5 -6zM725 2435l6 9 -2 6 -4 -5zM751 2438l5 9 -2 6 -3 -5zM775 2433l5 9 -2 7 -4 -6zM800 2432l5 10 -2 6 -4 -5zM824 2432l5 10 -2 6 -4 -5zM850 2432l5 10 -2 6 -4 -5zM876 2434l3 10 -2 6 -3 -6zM900 2432l4 10 -2 6 -3 -6zM926 2432l3 10 -2 6 -4 -6zM952 2452l2 7 -1 4 -2 -4zM977 2452l2 7 -2 4 -2 -4zM1000 2438l3 9 -2 6 -3 -6zM1025 2432l3 10 -3 6 -3 -6zM1049 2434l3 10 -2 6 -3 -6zM1074 2434l3 10 -3 6 -3 -6zM1096 2436l4 9 -2 6 -3 -5zM1121 2436l3 9 -2 6 -3 -5zM1146 2438l3 9 -2 6 -3 -6zM1171 2445l3 8 -2 5 -2 -5zM1195 2445l3 8 -2 5 -2 -5zM1218 2430l4 10 -2 6 -4 -6zM1244 2430l4 10 -3 6 -3 -6zM1269 2432l3 10 -3 6 -3 -6zM1293 2432l4 10 -3 6 -3 -6zM1319 2436l2 9 -2 6 -3 -6zM1344 2442l2 8 -2 5 -2 -5zM1367 2447l3 8 -2 4 -3 -4zM1392 2447l2 8 -1 4 -3 -4zM1417 2452l2 7 -2 4 -2 -4zM1440 2455l2 5 -1 4 -2 -4zM1465 2455l2 5 -1 4 -2 -4zM1489 2452l2 7 -1 4 -2 -4zM1514 2452l2 7 -1 4 -2 -4zM1538 2455l2 5 -1 4 -2 -4zM1585 2447l3 7 -1 5 -3 -4zM1610 2452l3 7 -1 4 -3 -4zM1635 2447l3 7 -2 5 -2 -4zM1657 2442l4 8 -2 6 -3 -5zM1681 2438l5 9 -2 6 -4 -5zM1705 2432l5 10 -2 6 -4 -5zM1728 2433l5 9 -2 6 -4 -5zM1754 2430l4 10 -2 7 -4 -6zM1779 2430l5 10 -2 7 -4 -6zM1805 2445l3 8 -1 5 -3 -5zM1829 2445l4 8 -2 5 -3 -5zM261 2478l5 5 1 4 -4 -2zM288 2480l4 4 0 4 -3 -2zM311 2481l5 3 0 4 -3 -2zM337 2480l4 4 0 4 -3 -2zM359 2478l5 5 1 4 -4 -2zM380 2471l6 6 0 6 -4 -3zM406 2471l5 6 1 6 -5 -4zM428 2464l6 7 0 7 -5 -4zM451 2459l7 8 -1 6 -5 -4zM475 2458l7 9 -1 6 -5 -4zM502 2460l6 8 0 7 -5 -5zM525 2458l7 8 -1 7 -5 -5zM553 2463l6 8 -1 6 -4 -4zM577 2461l6 8 -1 7 -4 -5zM602 2463l5 8 -1 6 -4 -4zM627 2467l5 7 0 6 -4 -4zM649 2451l6 10 -2 7 -4 -5zM676 2461l6 8 -2 7 -4 -5zM699 2451l6 10 -2 7 -4 -6zM726 2459l5 9 -1 6 -4 -5zM752 2462l4 9 -1 6 -4 -5zM775 2457l5 9 -1 6 -5 -5zM799 2457l5 9 -2 7 -4 -6zM824 2458l5 10 -2 6 -4 -5zM849 2456l5 10 -2 6 -4 -5zM875 2460l4 9 -2 6 -3 -5zM901 2456l4 10 -3 6 -3 -6zM926 2460l3 9 -2 6 -3 -5zM953 2460l3 9 -3 6 -3 -6zM976 2462l3 9 -3 6 -2 -6zM1001 2462l3 9 -3 6 -2 -6zM1023 2456l4 10 -2 6 -4 -6zM1049 2460l3 9 -3 6 -3 -6zM1072 2458l4 10 -2 6 -4 -6zM1097 2460l3 9 -2 6 -3 -5zM1121 2462l4 9 -2 6 -3 -6zM1145 2458l4 10 -2 6 -4 -6zM1171 2458l3 10 -2 6 -3 -6zM1193 2456l4 10 -2 6 -4 -6zM1217 2454l4 10 -2 7 -4 -6zM1243 2454l4 10 -3 7 -3 -7zM1268 2454l4 10 -3 6 -3 -6zM1292 2456l4 10 -2 6 -4 -6zM1316 2456l4 10 -3 6 -3 -6zM1340 2456l4 10 -2 6 -3 -6zM1365 2456l4 10 -3 6 -3 -6zM1392 2466l3 8 -2 5 -3 -5zM1415 2471l3 8 -2 4 -2 -4zM1440 2476l2 7 -1 4 -2 -4zM1465 2476l2 7 -1 4 -2 -4zM1488 2473l3 7 -1 5 -3 -4zM1513 2469l3 8 -2 5 -3 -5zM1537 2471l3 7 -2 5 -2 -4zM1563 2471l2 8 -1 4 -3 -4zM1584 2456l4 10 -2 6 -4 -6zM1610 2471l3 8 -2 4 -2 -4zM1635 2471l3 8 -2 4 -2 -4zM1657 2466l4 8 -2 5 -3 -4zM1682 2460l4 9 -2 6 -4 -5zM1705 2456l5 10 -2 6 -4 -5zM1730 2456l4 10 -2 6 -4 -5zM1753 2456l4 10 -1 6 -4 -5zM1779 2458l4 10 -1 6 -4 -6zM1805 2471l3 7 -1 6 -3 -5zM1829 2471l3 7 -1 5 -3 -4zM263 2506l4 3 0 4 -3 -2zM288 2505l4 4 0 4 -3 -2zM312 2505l4 4 0 4 -3 -2zM337 2505l4 4 0 4 -3 -2zM355 2497l7 5 0 6 -4 -3zM381 2498l5 6 1 5 -4 -3zM406 2496l5 6 1 6 -5 -4zM426 2486l6 8 0 6 -5 -4zM449 2482l7 8 0 7 -5 -4zM474 2481l7 9 0 7 -6 -5zM500 2481l6 9 0 7 -5 -5zM525 2483l6 9 0 6 -5 -4zM553 2482l5 9 -1 7 -4 -5zM577 2484l5 9 -1 6 -4 -4zM601 2488l5 8 0 6 -5 -4zM631 2499l4 6 -1 5 -3 -4zM653 2497l5 7 -1 5 -3 -4zM680 2498l4 7 -1 5 -3 -4zM701 2491l5 8 -1 6 -3 -5zM725 2488l5 8 -1 6 -4 -5zM753 2494l3 8 -1 5 -3 -4zM776 2487l5 9 -2 6 -3 -5zM801 2485l4 9 -1 6 -4 -5zM824 2484l5 9 -2 6 -4 -5zM850 2481l5 10 -2 6 -4 -5zM874 2479l5 10 -2 7 -4 -6zM901 2481l4 10 -2 6 -4 -6zM925 2481l4 10 -2 6 -4 -6zM950 2483l4 10 -3 6 -3 -6zM974 2483l4 10 -2 6 -4 -6zM998 2483l4 10 -2 6 -3 -6zM1024 2481l3 10 -2 6 -4 -6zM1047 2483l4 10 -3 6 -3 -6zM1072 2487l4 9 -2 6 -3 -6zM1096 2483l3 10 -2 6 -3 -6zM1118 2479l5 10 -2 7 -4 -6zM1144 2481l4 10 -2 6 -3 -6zM1168 2479l5 10 -2 7 -4 -6zM1191 2475l5 11 -2 7 -4 -6zM1215 2475l5 11 -2 7 -5 -6zM1243 2475l4 11 -3 7 -3 -7zM1267 2479l4 10 -3 7 -3 -7zM1291 2479l4 10 -2 7 -4 -7zM1315 2481l4 10 -2 6 -4 -5zM1342 2479l3 10 -2 6 -4 -6zM1364 2481l4 10 -2 6 -4 -6zM1391 2485l3 9 -2 6 -3 -5zM1414 2487l4 9 -2 6 -3 -6zM1438 2494l4 8 -2 5 -3 -5zM1465 2491l3 8 -2 5 -3 -5zM1487 2479l4 10 -2 6 -4 -6zM1513 2479l4 10 -3 6 -3 -6zM1537 2487l4 9 -3 6 -3 -6zM1561 2481l4 10 -2 6 -4 -6zM1584 2479l4 10 -2 7 -4 -6zM1610 2496l3 7 -2 5 -2 -4zM1635 2494l3 8 -2 5 -2 -5zM1658 2494l3 8 -1 5 -3 -5zM1682 2487l4 9 -2 6 -3 -6zM1706 2481l4 10 -2 6 -3 -6zM1729 2481l5 10 -2 6 -4 -5zM1753 2479l5 10 -2 7 -4 -6zM1780 2479l4 10 -2 7 -4 -6zM1803 2485l4 9 -1 6 -4 -5zM1827 2485l4 9 -1 6 -4 -5zM263 2529l4 4 0 4 -3 -2zM284 2522l6 6 0 5 -4 -3zM307 2523l6 5 1 5 -4 -3zM337 2530l4 3 0 4 -3 -2zM358 2522l5 6 0 5 -4 -3zM380 2520l6 6 0 6 -4 -4zM405 2520l6 6 1 6 -5 -4zM426 2512l7 7 0 7 -5 -4zM447 2503l8 8 0 8 -6 -5zM473 2506l7 8 0 7 -5 -4zM499 2501l7 9 -1 8 -5 -5zM524 2505l7 9 -1 7 -5 -5zM549 2505l7 9 -1 7 -5 -5zM577 2508l5 9 -1 6 -4 -4zM600 2509l6 8 -1 7 -5 -5zM629 2519l4 7 0 5 -4 -4zM653 2519l4 7 0 5 -4 -4zM678 2518l5 8 -1 5 -4 -4zM703 2520l4 7 0 6 -4 -4zM727 2511l4 9 -1 6 -4 -5zM750 2510l5 8 -1 7 -4 -5zM778 2515l4 8 -2 6 -3 -5zM800 2511l4 9 -1 6 -4 -5zM824 2511l5 9 -2 6 -3 -5zM851 2509l4 9 -2 6 -3 -5zM874 2505l5 10 -2 6 -4 -5zM900 2505l4 10 -2 6 -4 -6zM923 2491l5 12 -3 8 -4 -7zM949 2503l5 10 -3 7 -4 -7zM974 2503l4 10 -2 6 -4 -6zM1000 2505l3 10 -2 6 -3 -6zM1023 2503l4 10 -3 7 -3 -7zM1045 2505l4 10 -2 6 -3 -5zM1071 2505l4 10 -2 6 -4 -5zM1093 2505l5 10 -2 6 -4 -5zM1120 2509l4 9 -2 6 -3 -5zM1143 2503l5 10 -2 7 -4 -6zM1168 2503l4 10 -2 7 -4 -6zM1190 2499l5 11 -2 7 -5 -6zM1217 2503l4 10 -2 7 -4 -6zM1242 2503l4 10 -2 7 -4 -6zM1264 2503l5 10 -2 7 -4 -6zM1291 2503l5 10 -3 7 -4 -7zM1314 2505l5 10 -2 6 -4 -5zM1341 2507l4 10 -2 6 -4 -6zM1365 2505l4 10 -3 6 -3 -6zM1389 2505l4 10 -2 6 -4 -6zM1413 2509l4 9 -2 6 -3 -5zM1438 2511l4 9 -2 6 -3 -6zM1464 2515l3 8 -2 5 -3 -5zM1488 2505l4 10 -3 6 -3 -6zM1512 2503l4 10 -2 6 -4 -6zM1537 2507l3 10 -2 6 -3 -6zM1563 2528l2 5 -1 4 -2 -4zM1586 2525l3 7 -1 4 -2 -4zM1610 2520l3 7 -2 5 -2 -4zM1635 2520l3 8 -2 4 -2 -4zM1657 2505l4 10 -2 6 -4 -5zM1684 2511l3 9 -2 6 -3 -6zM1708 2518l3 8 -2 5 -3 -5zM1732 2507l4 10 -3 6 -3 -6zM1755 2503l4 10 -2 7 -4 -7zM1778 2499l5 11 -2 7 -4 -6zM1804 2503l5 10 -3 7 -4 -7zM1828 2503l4 10 -2 7 -4 -6zM262 2552l5 5 0 4 -4 -3zM286 2552l5 5 1 4 -4 -2zM309 2549l5 6 1 5 -4 -3zM333 2547l6 6 0 5 -4 -3zM357 2547l6 6 0 5 -4 -3zM378 2543l6 6 1 6 -5 -4zM404 2542l6 7 0 6 -4 -4zM433 2551l5 6 0 4 -3 -3zM450 2533l7 8 0 7 -5 -5zM472 2527l7 9 0 8 -6 -5zM499 2526l7 9 0 8 -6 -5zM524 2526l7 9 -1 8 -5 -6zM550 2526l7 9 -1 8 -6 -6zM575 2529l6 9 -1 7 -5 -5zM602 2541l5 7 0 6 -4 -4zM631 2550l4 7 -1 4 -2 -3zM653 2543l5 8 -1 5 -4 -4zM676 2541l5 7 0 6 -4 -4zM702 2540l4 8 -1 6 -3 -5zM725 2531l5 9 -1 7 -5 -6zM749 2535l5 8 -1 7 -4 -5zM778 2548l4 6 -1 5 -3 -4zM801 2536l4 9 -1 6 -4 -5zM826 2536l4 9 -2 6 -3 -6zM853 2550l3 7 -1 4 -3 -4zM875 2536l4 9 -2 6 -3 -5zM900 2536l4 9 -2 6 -3 -6zM924 2512l5 12 -3 9 -5 -8zM949 2524l5 11 -3 7 -4 -7zM974 2528l4 10 -3 7 -3 -7zM998 2528l4 10 -2 7 -4 -6zM1021 2528l5 10 -2 7 -4 -6zM1044 2530l5 10 -2 6 -4 -5zM1068 2528l5 10 -2 7 -4 -6zM1092 2531l5 9 -2 7 -4 -6zM1118 2530l5 10 -2 6 -4 -5zM1140 2531l5 9 -1 7 -4 -6zM1167 2528l5 10 -2 7 -4 -6zM1189 2528l5 10 -1 7 -5 -6zM1214 2528l5 10 -2 7 -4 -6zM1239 2528l5 10 -2 7 -4 -6zM1264 2528l5 10 -2 7 -4 -6zM1289 2533l4 9 -1 6 -4 -5zM1315 2534l4 9 -2 6 -3 -5zM1338 2533l5 9 -2 6 -4 -5zM1362 2530l5 10 -2 6 -4 -5zM1389 2532l4 10 -2 6 -3 -6zM1412 2530l4 10 -2 6 -3 -5zM1438 2532l4 10 -2 6 -4 -6zM1462 2532l4 10 -2 6 -4 -6zM1487 2534l4 9 -2 6 -4 -5zM1512 2532l4 10 -2 6 -4 -6zM1537 2530l3 10 -2 6 -3 -6zM1558 2511l6 12 -3 9 -5 -8zM1586 2524l4 11 -3 7 -4 -7zM1608 2534l4 9 -2 6 -3 -5zM1635 2534l3 9 -2 6 -3 -5zM1658 2530l4 10 -3 6 -3 -6zM1683 2532l4 10 -2 6 -4 -6zM1707 2536l3 9 -1 6 -4 -6zM1731 2532l4 10 -2 6 -4 -6zM1754 2528l4 10 -2 7 -4 -6zM1779 2521l5 11 -3 7 -4 -6zM1805 2536l4 9 -2 6 -3 -6zM1830 2536l3 9 -2 6 -3 -6zM263 2579l4 4 0 4 -3 -2zM286 2577l5 5 1 4 -4 -2zM308 2572l6 6 0 5 -4 -3zM333 2572l6 6 0 5 -4 -3zM356 2573l6 5 1 5 -4 -3zM382 2572l5 6 0 5 -4 -3zM401 2560l7 8 0 6 -5 -4zM427 2563l7 7 0 7 -5 -4zM451 2557l7 9 -1 6 -5 -4zM473 2556l7 8 0 7 -5 -4zM498 2552l7 9 0 7 -6 -5zM523 2551l7 9 -1 8 -5 -5zM550 2555l7 8 -1 7 -5 -5zM576 2556l6 9 -1 7 -5 -5zM605 2571l4 7 -1 5 -3 -4zM630 2573l4 6 0 5 -3 -4zM653 2569l5 7 -1 5 -4 -4zM676 2566l5 7 0 6 -4 -4zM700 2560l5 8 -1 7 -4 -5zM725 2554l5 9 -1 7 -5 -6zM750 2553l5 10 -2 7 -4 -6zM777 2561l4 9 -1 6 -4 -5zM801 2561l4 9 -1 6 -4 -5zM824 2561l5 9 -2 6 -3 -5zM849 2559l5 9 -2 6 -4 -5zM876 2561l3 9 -2 6 -3 -6zM899 2555l4 10 -2 6 -3 -5zM924 2553l4 10 -2 7 -4 -7zM949 2553l4 10 -2 7 -4 -6zM973 2553l4 10 -2 7 -4 -6zM998 2549l4 11 -2 7 -4 -7zM1022 2553l4 10 -2 7 -4 -6zM1040 2538l7 12 -3 8 -5 -7zM1068 2549l5 11 -2 7 -4 -6zM1091 2554l5 9 -1 7 -5 -6zM1116 2556l5 9 -1 7 -5 -6zM1141 2553l5 10 -2 7 -4 -6zM1167 2555l5 10 -2 6 -4 -5zM1189 2553l5 10 -1 7 -4 -6zM1213 2553l5 10 -1 7 -5 -6zM1240 2555l5 10 -2 6 -4 -5zM1265 2555l4 10 -2 6 -4 -5zM1288 2555l5 10 -1 6 -4 -5zM1314 2557l4 10 -1 6 -4 -6zM1338 2559l5 9 -2 6 -4 -5zM1362 2555l5 10 -2 6 -4 -5zM1390 2570l4 7 -2 5 -2 -4zM1413 2559l4 9 -2 6 -3 -5zM1437 2553l4 10 -2 7 -4 -6zM1463 2553l4 10 -3 7 -3 -7zM1487 2555l4 10 -2 6 -4 -6zM1511 2555l4 10 -2 6 -4 -6zM1536 2553l4 10 -3 6 -3 -6zM1559 2546l5 11 -3 7 -4 -7zM1582 2540l6 12 -3 8 -5 -8zM1608 2553l5 10 -3 7 -4 -7zM1633 2553l4 10 -2 7 -4 -7zM1658 2555l4 10 -2 6 -4 -6zM1683 2553l4 10 -3 7 -4 -7zM1708 2555l3 10 -2 6 -3 -6zM1731 2559l4 9 -2 6 -3 -5zM1756 2565l4 8 -2 5 -3 -5zM1783 2578l2 5 -1 4 -2 -4zM287 2600l5 6 0 4 -3 -3zM309 2598l5 6 1 5 -4 -3zM334 2596l5 6 1 5 -4 -3zM357 2596l6 6 0 5 -4 -3zM381 2596l6 6 0 5 -4 -3zM408 2598l5 6 0 4 -4 -3zM424 2582l7 8 1 7 -6 -4zM450 2579l7 9 0 7 -6 -5zM474 2576l7 9 -1 7 -5 -5zM498 2576l7 9 0 7 -6 -5zM526 2581l6 8 -1 7 -5 -5zM551 2583l6 8 0 7 -5 -5zM579 2590l5 7 -1 6 -4 -4zM607 2603l3 4 -1 4 -2 -3zM629 2593l4 7 0 5 -4 -4zM651 2590l5 7 0 6 -4 -4zM673 2581l6 8 -1 7 -4 -5zM700 2584l5 8 -1 7 -4 -5zM723 2581l6 8 -1 7 -5 -5zM750 2582l5 9 -1 6 -4 -5zM774 2582l5 9 -1 6 -5 -5zM800 2579l5 10 -2 6 -4 -5zM824 2582l4 9 -1 6 -4 -5zM850 2583l4 9 -1 6 -4 -5zM873 2579l4 10 -1 6 -4 -5zM899 2573l5 11 -3 7 -4 -7zM925 2579l4 10 -3 6 -3 -6zM947 2573l5 11 -2 7 -5 -6zM971 2573l5 11 -2 7 -4 -6zM995 2573l5 11 -2 7 -4 -6zM1019 2570l5 11 -2 7 -5 -6zM1043 2570l6 11 -3 7 -4 -6zM1066 2574l6 10 -2 7 -5 -6zM1092 2579l5 10 -1 6 -4 -5zM1117 2584l5 8 -1 7 -4 -5zM1142 2582l4 9 -1 6 -4 -5zM1166 2580l5 9 -2 7 -4 -6zM1189 2580l5 9 -1 7 -5 -6zM1213 2580l5 9 -1 7 -5 -6zM1238 2580l5 9 -1 7 -4 -6zM1263 2580l5 9 -2 7 -4 -6zM1288 2582l5 9 -2 6 -4 -5zM1312 2582l5 9 -1 6 -4 -5zM1338 2577l5 10 -2 7 -4 -6zM1365 2594l3 7 -1 6 -3 -5zM1391 2602l3 5 -1 4 -2 -3zM1414 2596l3 7 -1 5 -2 -4zM1438 2585l3 9 -1 6 -4 -6zM1462 2581l4 10 -2 6 -3 -6zM1486 2579l4 10 -2 6 -3 -6zM1512 2573l4 11 -3 7 -3 -7zM1536 2573l4 11 -3 7 -4 -7zM1559 2570l5 11 -3 7 -4 -6zM1585 2561l4 13 -3 8 -4 -7zM1608 2573l4 11 -2 7 -4 -7zM1635 2577l4 10 -3 6 -3 -6zM1657 2577l4 10 -2 7 -4 -6zM1684 2577l4 10 -3 6 -3 -6zM1708 2577l4 10 -3 6 -3 -6zM1733 2579l4 10 -3 6 -3 -6zM1807 2602l2 5 -1 4 -2 -4zM1831 2602l2 5 -1 4 -2 -4zM264 2628l3 4 0 4 -3 -3zM287 2626l5 5 0 4 -3 -3zM309 2623l6 6 0 4 -4 -3zM335 2623l5 6 0 4 -4 -3zM358 2621l5 6 1 5 -4 -3zM384 2626l5 5 0 4 -3 -3zM409 2625l5 6 0 4 -3 -3zM433 2622l5 6 0 5 -4 -3zM451 2606l7 9 0 6 -6 -4zM476 2606l6 8 0 7 -5 -4zM502 2608l6 8 0 7 -5 -5zM525 2606l7 8 -1 7 -5 -5zM551 2610l6 8 0 6 -5 -4zM579 2615l5 7 -1 6 -4 -5zM603 2618l5 7 -1 5 -3 -4zM630 2622l4 6 0 5 -3 -4zM651 2611l5 8 0 6 -4 -5zM673 2606l6 8 -1 7 -5 -5zM699 2605l5 9 -1 7 -4 -5zM724 2605l6 9 -2 7 -4 -5zM750 2609l5 8 -1 7 -5 -5zM775 2611l5 8 -1 6 -4 -5zM799 2607l5 9 -1 6 -4 -5zM824 2607l4 9 -1 6 -4 -5zM849 2604l4 10 -1 6 -4 -5zM872 2605l5 9 -1 6 -5 -5zM898 2602l5 10 -2 7 -4 -6zM924 2608l4 9 -2 6 -3 -5zM947 2598l5 11 -2 7 -5 -6zM967 2586l7 12 -3 8 -5 -7zM991 2589l7 12 -2 8 -6 -6zM1015 2586l7 12 -2 8 -6 -7zM1040 2588l6 12 -2 8 -5 -7zM1067 2599l6 10 -2 7 -5 -6zM1088 2599l6 10 -1 7 -5 -5zM1115 2605l6 9 -1 7 -5 -5zM1141 2605l5 9 -2 7 -4 -6zM1164 2605l5 9 -1 7 -4 -5zM1188 2605l6 9 -2 7 -4 -5zM1215 2604l4 10 -1 6 -4 -5zM1238 2605l5 9 -1 7 -4 -6zM1264 2604l5 10 -2 6 -4 -5zM1288 2605l5 9 -1 6 -5 -5zM1313 2609l4 8 -1 7 -4 -6zM1340 2617l4 8 -1 5 -3 -5zM1366 2624l3 7 -1 4 -3 -4zM1391 2627l3 5 -1 4 -2 -3zM1415 2624l3 7 -1 4 -3 -4zM1438 2621l3 7 -1 5 -2 -4zM1462 2606l4 10 -2 6 -4 -6zM1484 2604l5 10 -2 6 -4 -5zM1511 2602l4 10 -2 7 -4 -7zM1533 2598l5 11 -2 7 -4 -6zM1561 2595l4 11 -3 7 -4 -7zM1584 2598l5 11 -3 7 -4 -7zM1609 2594l4 12 -3 7 -4 -7zM1634 2598l4 11 -2 7 -4 -7zM1657 2595l5 11 -3 7 -4 -7zM1684 2598l4 11 -3 7 -4 -7zM1706 2598l4 11 -2 7 -4 -7zM1734 2608l3 9 -2 6 -3 -6zM1783 2627l2 5 -1 4 -2 -4zM1808 2624l2 7 -2 4 -2 -4zM1831 2624l2 7 -1 4 -2 -4zM264 2652l3 4 0 4 -3 -3zM289 2652l3 4 0 4 -2 -3zM312 2652l4 4 0 4 -3 -2zM335 2646l5 6 0 5 -3 -3zM361 2649l4 6 0 4 -3 -3zM384 2649l5 6 0 4 -3 -3zM409 2646l4 6 0 5 -3 -3zM431 2645l5 6 1 5 -4 -3zM456 2643l5 6 0 5 -4 -3zM478 2634l6 8 -1 6 -4 -4zM501 2630l6 8 0 7 -5 -4zM525 2632l6 8 0 7 -5 -4zM552 2632l6 8 -1 7 -4 -5zM574 2630l6 9 0 6 -5 -4zM598 2630l6 8 0 7 -5 -4zM624 2632l6 8 0 7 -5 -5zM650 2635l5 8 0 6 -5 -4zM675 2631l5 9 0 6 -5 -5zM697 2632l6 8 0 7 -5 -5zM724 2631l6 9 -1 6 -5 -5zM746 2630l6 8 -1 7 -4 -5zM776 2644l5 7 -1 5 -3 -4zM799 2635l5 8 -1 6 -4 -5zM821 2629l6 9 -2 7 -4 -5zM847 2629l6 9 -2 7 -4 -6zM871 2629l5 9 -1 7 -4 -6zM898 2628l5 10 -2 6 -4 -5zM921 2631l5 9 -1 6 -5 -5zM947 2626l5 10 -2 7 -4 -6zM967 2610l6 12 -2 8 -6 -7zM992 2609l6 13 -2 8 -6 -7zM1017 2623l6 10 -2 7 -5 -6zM1042 2622l6 11 -2 7 -5 -6zM1066 2627l6 9 -2 7 -4 -5zM1086 2616l7 11 -2 8 -5 -6zM1115 2629l5 9 -1 7 -4 -5zM1139 2629l6 9 -1 7 -5 -6zM1163 2629l6 9 -1 7 -5 -5zM1188 2629l5 9 -1 7 -4 -5zM1211 2627l6 9 -1 7 -5 -5zM1240 2628l5 10 -2 6 -4 -5zM1262 2626l5 10 -1 7 -5 -6zM1288 2629l5 9 -2 7 -4 -6zM1313 2632l5 9 -2 6 -3 -5zM1341 2641l4 8 -2 5 -3 -5zM1364 2643l4 7 -1 6 -3 -5zM1390 2645l3 7 -1 5 -2 -4zM1415 2648l3 7 -1 4 -3 -4zM1438 2648l4 7 -1 4 -3 -4zM1463 2641l3 8 -1 5 -3 -5zM1485 2619l5 11 -3 7 -4 -6zM1509 2628l4 10 -1 6 -4 -5zM1535 2628l4 10 -2 6 -4 -5zM1560 2626l5 10 -3 7 -4 -7zM1584 2622l5 11 -3 7 -4 -7zM1605 2608l6 12 -3 9 -6 -8zM1634 2619l4 11 -3 7 -4 -7zM1658 2618l5 12 -3 7 -4 -7zM1681 2608l5 13 -3 8 -5 -7zM1707 2626l4 10 -2 6 -4 -6zM1734 2643l3 8 -2 4 -2 -4zM1758 2645l2 7 -1 5 -2 -4zM1782 2645l3 7 -1 5 -3 -4zM1808 2645l2 7 -2 5 -2 -5zM1831 2645l2 7 -1 5 -2 -4zM263 2674l4 6 0 4 -3 -3zM336 2674l5 6 0 4 -3 -3zM361 2674l4 6 0 4 -3 -3zM409 2669l4 7 0 5 -4 -4zM432 2669l5 7 0 5 -4 -4zM456 2667l5 7 0 5 -4 -4zM479 2664l6 7 -1 6 -4 -4zM502 2655l6 8 -1 7 -4 -5zM518 2640l8 10 0 9 -7 -6zM551 2652l6 9 -1 7 -5 -5zM573 2655l7 9 0 6 -6 -4zM598 2653l6 8 0 8 -5 -5zM624 2655l6 8 -1 7 -4 -5zM648 2655l6 8 0 7 -5 -5zM674 2657l5 8 0 7 -5 -5zM697 2657l6 8 0 7 -5 -5zM723 2659l6 8 -1 6 -4 -5zM745 2655l7 8 -1 7 -5 -5zM776 2669l5 7 -1 5 -3 -4zM798 2660l5 8 -1 6 -4 -5zM819 2652l6 9 -1 7 -5 -5zM847 2654l5 9 -1 7 -4 -6zM873 2658l5 8 -2 6 -4 -5zM897 2654l5 9 -2 7 -4 -6zM922 2656l4 9 -1 6 -4 -5zM947 2656l5 9 -2 6 -4 -5zM970 2656l5 9 -1 6 -4 -5zM996 2656l5 9 -2 6 -4 -5zM1018 2658l5 8 -1 7 -4 -5zM1042 2654l5 9 -1 7 -5 -6zM1065 2654l6 9 -1 7 -5 -5zM1089 2654l6 9 -1 7 -4 -5zM1117 2664l5 7 -1 6 -4 -4zM1139 2656l5 9 -1 6 -4 -4zM1163 2648l6 10 -1 7 -5 -6zM1188 2654l6 9 -2 7 -4 -5zM1214 2654l5 9 -2 6 -4 -5zM1238 2651l5 10 -1 7 -5 -6zM1263 2651l5 10 -2 7 -4 -6zM1288 2651l5 10 -2 7 -4 -6zM1314 2653l5 10 -2 6 -4 -5zM1339 2655l5 10 -2 6 -4 -6zM1363 2659l4 9 -1 6 -4 -5zM1388 2663l4 8 -1 6 -3 -5zM1413 2666l4 8 -2 5 -3 -4zM1438 2666l3 8 -1 5 -3 -5zM1464 2670l3 7 -2 5 -2 -4zM1487 2668l4 7 -2 5 -3 -4zM1508 2651l5 10 -2 7 -4 -6zM1534 2663l4 8 -1 6 -3 -5zM1559 2659l4 9 -1 6 -4 -5zM1582 2651l5 10 -2 7 -4 -6zM1607 2647l5 11 -3 7 -4 -7zM1633 2647l4 11 -2 7 -4 -7zM1656 2651l5 10 -2 7 -4 -6zM1683 2657l4 9 -2 6 -3 -5zM1709 2673l2 7 -1 4 -2 -4zM1734 2666l2 8 -1 5 -3 -5zM1758 2670l3 7 -2 5 -2 -4zM1783 2670l2 7 -1 5 -3 -4zM1807 2673l2 7 -1 4 -2 -4zM1832 2673l2 7 -2 4 -2 -4zM287 2696l5 6 0 5 -4 -3zM310 2692l5 7 -1 5 -3 -4zM334 2692l5 7 0 5 -4 -4zM360 2696l5 6 0 5 -4 -3zM385 2699l4 6 0 4 -3 -3zM409 2696l5 6 0 5 -4 -3zM433 2694l4 7 0 5 -4 -4zM458 2696l4 6 0 5 -3 -3zM480 2689l5 7 0 6 -4 -4zM504 2685l6 8 -1 6 -4 -4zM519 2663l8 10 -1 9 -6 -6zM548 2674l7 9 -1 8 -5 -5zM570 2671l8 10 -1 8 -6 -6zM598 2678l6 9 0 7 -6 -5zM625 2682l6 8 -1 7 -5 -5zM650 2683l5 9 0 6 -5 -5zM672 2682l6 8 0 7 -5 -5zM696 2682l6 8 0 7 -5 -4zM724 2685l5 8 0 6 -5 -4zM749 2689l5 7 0 6 -4 -4zM776 2692l4 7 0 5 -4 -4zM796 2677l6 9 -1 7 -5 -5zM819 2680l6 8 -1 7 -5 -5zM844 2680l6 8 0 7 -5 -5zM871 2679l5 9 -1 7 -5 -6zM895 2677l6 9 -1 7 -5 -6zM921 2685l5 8 -1 6 -4 -5zM947 2688l4 8 -1 6 -3 -5zM972 2691l4 8 -1 5 -3 -4zM998 2696l4 6 -1 5 -3 -4zM1018 2679l5 9 -1 7 -4 -6zM1042 2685l5 8 -1 6 -4 -5zM1066 2683l5 8 0 7 -5 -5zM1088 2680l6 8 0 7 -5 -5zM1115 2679l6 9 -1 7 -5 -5zM1138 2679l6 9 -1 7 -5 -5zM1163 2679l6 9 -1 7 -5 -5zM1189 2683l5 8 -1 7 -4 -5zM1213 2679l6 9 -2 7 -4 -6zM1239 2676l5 10 -1 7 -5 -6zM1264 2676l5 10 -2 7 -4 -6zM1288 2676l5 10 -2 7 -4 -6zM1315 2676l4 10 -2 7 -4 -6zM1338 2678l5 10 -2 6 -4 -5zM1362 2678l5 10 -2 6 -4 -5zM1386 2672l6 11 -3 7 -4 -6zM1411 2684l5 9 -2 6 -3 -5zM1437 2693l4 7 -1 6 -3 -5zM1464 2701l3 5 -1 4 -3 -3zM1488 2701l3 5 -1 4 -2 -3zM1512 2695l3 7 -1 5 -3 -4zM1559 2680l4 10 -1 6 -4 -6zM1580 2673l6 10 -2 7 -5 -6zM1607 2682l5 9 -2 6 -4 -5zM1635 2682l3 9 -2 6 -3 -5zM1659 2682l3 9 -2 6 -3 -5zM1685 2688l3 8 -3 5 -2 -5zM1709 2695l2 7 -1 5 -2 -4zM1735 2693l2 8 -2 4 -2 -4zM1758 2695l3 7 -2 5 -2 -4zM1783 2695l2 7 -1 5 -2 -4zM1808 2698l2 7 -2 4 -2 -4zM1831 2698l2 7 -1 4 -2 -4zM264 2723l4 6 -1 4 -3 -3zM288 2723l4 6 0 4 -3 -3zM309 2716l5 7 0 5 -4 -4zM334 2713l5 7 0 6 -4 -4zM359 2716l5 7 -1 5 -3 -4zM384 2718l5 7 -1 5 -3 -4zM410 2720l4 6 0 5 -4 -3zM433 2718l4 7 0 5 -4 -4zM457 2716l5 7 -1 5 -3 -4zM480 2713l5 7 0 6 -4 -4zM504 2707l5 9 0 6 -5 -5zM527 2706l6 8 -1 7 -5 -5zM550 2704l6 8 0 7 -5 -4zM573 2698l7 9 -1 8 -6 -5zM602 2713l5 7 0 6 -4 -4zM627 2716l5 7 0 5 -4 -4zM650 2713l5 7 0 6 -4 -4zM672 2704l6 8 0 7 -5 -4zM696 2704l7 8 -1 7 -5 -5zM720 2704l7 9 0 6 -5 -4zM750 2716l5 7 -1 5 -3 -4zM776 2720l5 6 -1 5 -3 -3zM796 2703l6 9 -1 7 -5 -5zM821 2707l6 8 -1 7 -5 -5zM847 2709l5 8 -1 6 -4 -4zM871 2713l5 7 0 6 -4 -4zM895 2703l6 9 -1 7 -5 -6zM923 2715l4 8 -1 5 -3 -4zM950 2722l3 7 0 4 -3 -4zM974 2722l3 7 0 4 -3 -4zM997 2718l4 6 0 6 -4 -4zM1023 2725l3 5 0 4 -3 -3zM1044 2716l4 7 0 5 -4 -4zM1065 2703l6 9 -1 7 -4 -5zM1090 2707l6 8 -1 7 -4 -5zM1115 2705l5 9 -1 6 -4 -4zM1137 2701l6 9 -1 7 -5 -5zM1163 2703l6 9 -1 7 -5 -5zM1189 2703l5 9 -1 7 -5 -6zM1212 2703l6 9 -2 7 -4 -5zM1239 2700l5 10 -2 7 -4 -6zM1265 2712l4 8 -1 6 -4 -5zM1289 2700l5 10 -2 7 -4 -6zM1313 2700l5 10 -2 7 -4 -6zM1339 2700l5 10 -2 7 -4 -6zM1363 2702l5 10 -2 6 -4 -5zM1388 2700l5 10 -3 7 -3 -6zM1412 2712l4 8 -1 6 -4 -5zM1439 2725l3 5 -1 4 -2 -3zM1537 2725l3 5 -1 4 -3 -3zM1562 2725l3 5 -1 4 -2 -3zM1586 2722l3 7 -1 4 -3 -4zM1608 2712l4 8 -2 6 -3 -5zM1634 2708l3 9 -2 6 -3 -6zM1660 2708l3 9 -3 6 -3 -6zM1684 2708l3 9 -2 6 -3 -6zM1709 2719l3 7 -2 5 -2 -4zM1735 2722l2 7 -2 4 -2 -4zM1759 2719l2 7 -2 5 -2 -5zM1784 2722l2 7 -2 4 -2 -4zM1807 2722l2 7 -1 4 -2 -4zM1832 2722l2 7 -2 4 -2 -4zM264 2748l4 6 -1 4 -2 -3zM289 2748l4 6 -1 4 -2 -3zM312 2743l4 7 -1 5 -3 -4zM336 2741l5 7 -1 5 -4 -4zM361 2743l4 7 -1 5 -3 -4zM384 2743l4 7 0 5 -3 -4zM433 2745l5 6 0 5 -4 -3zM454 2735l6 7 -1 6 -4 -4zM478 2735l6 7 -1 6 -4 -4zM504 2734l6 8 -1 6 -4 -4zM528 2734l6 8 -1 6 -4 -4zM552 2733l6 8 -1 6 -4 -5zM574 2729l7 8 -1 7 -5 -5zM601 2738l6 7 -1 6 -4 -4zM625 2739l6 6 0 6 -4 -4zM648 2735l6 7 0 6 -4 -4zM671 2729l7 9 0 6 -5 -4zM696 2729l6 8 0 7 -5 -4zM724 2742l6 6 0 5 -4 -3zM752 2748l4 6 0 4 -3 -3zM776 2745l5 6 0 5 -4 -3zM799 2741l5 7 0 5 -4 -4zM818 2731l6 8 0 7 -5 -4zM848 2741l5 7 0 5 -4 -4zM873 2745l5 6 0 5 -4 -3zM899 2743l4 7 -1 5 -3 -4zM922 2743l5 7 -1 5 -3 -4zM948 2745l4 6 0 5 -3 -4zM972 2745l4 6 0 5 -4 -3zM998 2748l4 6 -1 4 -2 -3zM1022 2747l4 7 -1 4 -2 -3zM1045 2745l4 6 0 5 -3 -4zM1069 2743l4 7 0 5 -3 -4zM1087 2729l6 8 0 7 -5 -4zM1115 2734l5 8 0 6 -4 -4zM1136 2727l7 8 -1 7 -5 -5zM1164 2728l6 9 -2 7 -4 -5zM1188 2726l6 9 -2 7 -4 -5zM1214 2725l5 10 -2 7 -4 -6zM1240 2737l5 8 -1 6 -4 -5zM1265 2725l4 10 -2 7 -4 -6zM1288 2721l5 11 -2 7 -4 -6zM1314 2721l5 11 -3 7 -4 -7zM1340 2721l4 11 -2 7 -4 -7zM1363 2725l4 10 -2 7 -4 -6zM1386 2728l5 9 -1 6 -5 -5zM1415 2747l3 7 -1 4 -3 -4zM1439 2747l3 7 -1 4 -3 -4zM1536 2747l3 7 0 4 -3 -4zM1561 2747l3 7 0 4 -3 -4zM1585 2744l4 7 -2 5 -2 -4zM1609 2737l3 8 -1 5 -3 -4zM1634 2729l4 10 -3 6 -3 -6zM1658 2729l4 10 -2 6 -4 -6zM1684 2733l3 9 -2 6 -3 -6zM1709 2740l3 8 -2 5 -3 -5zM1734 2744l3 7 -2 5 -2 -4zM1758 2742l3 8 -2 4 -3 -4zM1784 2750l2 5 -2 4 -2 -4zM1808 2750l2 5 -2 4 -1 -4zM1832 2750l1 5 -1 4 -2 -4zM290 2774l3 5 0 4 -3 -3zM315 2774l2 5 0 4 -3 -3zM337 2767l4 7 -1 5 -3 -4zM362 2772l4 6 -1 4 -3 -3zM387 2771l3 7 -1 4 -2 -3zM433 2769l5 6 0 5 -4 -3zM455 2758l5 8 0 6 -5 -4zM476 2747l6 9 -1 8 -5 -6zM504 2762l6 7 -1 6 -4 -4zM529 2765l5 7 0 5 -4 -3zM555 2765l5 7 -1 5 -4 -4zM578 2762l5 7 0 6 -4 -4zM602 2765l5 7 0 5 -4 -3zM625 2759l6 7 -1 6 -4 -4zM647 2753l6 8 0 7 -5 -4zM672 2753l6 9 0 6 -5 -4zM692 2748l8 9 -1 7 -5 -5zM723 2759l5 7 0 6 -4 -4zM746 2759l6 7 0 7 -5 -5zM774 2765l5 7 0 5 -4 -3zM798 2765l5 7 0 5 -4 -3zM823 2767l5 7 0 5 -4 -4zM851 2775l4 4 -1 4 -2 -3zM872 2765l5 7 0 5 -4 -4zM896 2762l5 7 0 6 -4 -4zM916 2753l6 8 0 7 -5 -4zM947 2767l4 7 0 5 -4 -4zM972 2772l4 6 0 4 -3 -3zM997 2772l4 6 0 4 -3 -3zM1022 2772l4 6 -1 4 -3 -3zM1044 2769l5 6 0 5 -4 -3zM1071 2772l4 6 -1 4 -3 -3zM1093 2765l4 7 0 5 -4 -4zM1120 2772l4 6 -1 4 -3 -3zM1141 2762l5 7 -1 6 -4 -5zM1165 2762l5 7 0 6 -4 -4zM1189 2752l5 9 -1 7 -5 -6zM1213 2750l5 9 -1 7 -5 -6zM1238 2749l6 10 -2 7 -4 -6zM1265 2749l4 10 -2 7 -4 -6zM1288 2745l5 11 -2 7 -4 -6zM1313 2742l5 11 -3 7 -4 -6zM1338 2745l5 11 -2 7 -4 -6zM1360 2742l6 11 -2 7 -5 -6zM1386 2736l6 12 -3 8 -5 -7zM1409 2749l6 10 -2 7 -4 -6zM1436 2761l4 8 -1 6 -4 -5zM1462 2768l4 7 -1 5 -3 -4zM1488 2774l2 5 0 4 -3 -3zM1533 2765l4 7 0 5 -4 -4zM1560 2766l4 7 -1 6 -3 -5zM1583 2761l4 8 -1 6 -4 -5zM1607 2753l4 10 -1 6 -4 -6zM1632 2745l5 11 -3 7 -4 -7zM1658 2749l4 10 -3 7 -3 -7zM1683 2749l4 10 -3 6 -3 -6zM1708 2749l4 10 -3 6 -3 -6zM1735 2766l2 8 -2 4 -2 -4zM1759 2768l2 7 -2 5 -2 -5zM1784 2771l2 7 -2 4 -2 -4zM1808 2771l2 7 -2 4 -2 -4zM1832 2771l2 7 -2 4 -2 -4zM265 2799l3 5 0 4 -3 -3zM289 2794l4 6 -1 5 -3 -4zM309 2777l5 9 -1 7 -4 -6zM332 2777l6 9 -1 7 -5 -5zM361 2792l4 7 -1 5 -3 -4zM385 2792l4 6 0 6 -4 -4zM411 2794l4 6 -1 5 -3 -4zM434 2794l4 6 0 5 -3 -4zM456 2787l5 7 0 6 -5 -4zM476 2772l7 9 -1 8 -5 -6zM505 2790l5 7 0 5 -4 -4zM533 2800l4 4 -1 4 -2 -3zM557 2797l4 6 0 4 -3 -3zM578 2790l5 7 0 5 -4 -4zM599 2782l6 8 0 6 -5 -4zM627 2790l5 7 0 5 -4 -3zM647 2778l7 8 -1 7 -5 -5zM670 2779l7 8 0 7 -5 -5zM697 2782l6 8 0 6 -5 -4zM724 2787l6 7 -1 6 -4 -4zM749 2790l5 7 0 5 -4 -3zM822 2790l5 7 0 5 -4 -3zM850 2797l4 6 0 4 -3 -3zM871 2787l5 7 0 6 -4 -4zM894 2777l6 9 -1 7 -5 -5zM917 2778l6 8 0 7 -5 -5zM946 2790l5 7 -1 5 -3 -4zM972 2794l4 6 0 5 -3 -4zM998 2797l4 6 -1 4 -3 -3zM1020 2794l5 6 0 5 -4 -3zM1045 2794l4 6 0 5 -3 -4zM1070 2794l4 6 0 5 -4 -3zM1093 2794l5 6 0 5 -4 -3zM1145 2800l3 4 0 4 -3 -3zM1168 2794l4 6 0 5 -3 -4zM1187 2771l6 10 -1 7 -5 -6zM1210 2771l6 10 -1 7 -5 -5zM1238 2775l5 9 -1 7 -5 -6zM1263 2774l5 10 -2 7 -4 -6zM1290 2770l5 11 -3 7 -4 -7zM1314 2770l4 11 -2 7 -4 -6zM1340 2770l4 11 -2 7 -4 -7zM1362 2770l5 11 -3 7 -4 -6zM1387 2770l5 11 -2 7 -5 -6zM1409 2774l5 10 -1 7 -4 -6zM1433 2777l6 9 -2 7 -4 -6zM1461 2786l4 8 -1 6 -4 -5zM1486 2794l4 6 -1 5 -3 -4zM1511 2797l4 6 -1 4 -3 -3zM1534 2792l4 7 -1 5 -3 -4zM1559 2792l4 7 -1 5 -3 -4zM1583 2782l4 9 -1 6 -4 -5zM1601 2757l7 12 -2 9 -6 -7zM1631 2770l5 11 -2 7 -5 -6zM1656 2774l4 10 -2 7 -4 -6zM1684 2774l4 10 -3 6 -3 -6zM1709 2786l3 8 -2 5 -3 -5zM1734 2791l2 8 -1 4 -3 -4zM1758 2793l2 7 -1 5 -2 -4zM1784 2799l1 5 -1 4 -2 -4zM1807 2799l2 5 -1 4 -2 -4zM1831 2799l2 5 -1 4 -2 -4zM265 2821l3 7 0 4 -3 -4zM290 2821l3 7 0 4 -3 -4zM309 2800l5 9 -1 7 -5 -6zM333 2802l5 9 -1 7 -4 -5zM361 2817l4 6 0 6 -4 -4zM385 2817l4 6 0 6 -4 -4zM410 2819l4 6 0 5 -3 -4zM435 2821l4 7 -1 4 -2 -3zM458 2819l5 6 0 5 -4 -3zM482 2817l4 7 0 5 -4 -4zM506 2815l5 7 0 5 -4 -4zM532 2819l4 6 0 5 -4 -3zM556 2817l5 7 -1 5 -3 -4zM579 2815l5 7 -1 5 -3 -4zM602 2812l5 7 0 6 -4 -4zM627 2815l5 7 0 5 -4 -3zM648 2809l6 7 0 7 -5 -5zM674 2809l5 7 0 6 -4 -4zM699 2812l5 7 0 6 -4 -4zM726 2815l5 7 0 5 -4 -4zM750 2815l5 7 0 5 -4 -4zM770 2801l6 9 -1 7 -5 -5zM793 2797l7 9 -1 8 -5 -6zM822 2812l5 7 0 6 -4 -4zM850 2822l4 6 0 4 -3 -3zM871 2815l5 7 0 5 -4 -4zM895 2812l6 7 -1 6 -4 -4zM923 2819l4 6 0 5 -3 -4zM946 2812l5 7 -1 6 -4 -4zM971 2815l5 7 -1 5 -4 -4zM996 2817l5 7 -1 5 -3 -4zM1021 2819l4 6 0 5 -3 -4zM1044 2817l5 7 -1 5 -3 -4zM1069 2817l5 7 -1 5 -3 -4zM1093 2817l4 7 0 5 -3 -4zM1120 2822l4 6 -1 4 -3 -3zM1143 2819l4 6 0 5 -4 -3zM1162 2796l7 10 -2 7 -5 -5zM1187 2800l6 9 -1 7 -5 -5zM1212 2800l6 9 -2 7 -4 -5zM1238 2799l6 10 -2 7 -4 -6zM1264 2799l5 10 -2 7 -4 -6zM1290 2799l5 10 -3 7 -3 -6zM1316 2799l4 10 -3 7 -3 -7zM1342 2799l3 10 -2 6 -4 -6zM1363 2799l5 10 -2 7 -4 -6zM1387 2799l5 10 -2 7 -4 -6zM1412 2799l4 10 -2 7 -4 -6zM1434 2806l5 8 -1 7 -4 -6zM1458 2802l5 9 -1 7 -5 -6zM1485 2814l4 8 -1 5 -3 -4zM1512 2824l3 5 0 4 -3 -3zM1535 2819l4 6 -1 5 -3 -4zM1583 2811l4 8 -1 6 -3 -5zM1599 2784l7 11 -2 9 -5 -7zM1631 2795l5 11 -2 7 -4 -6zM1656 2795l5 11 -3 7 -4 -7zM1681 2799l5 10 -2 7 -4 -6zM1708 2816l3 8 -2 4 -2 -4zM1733 2821l3 7 -1 4 -2 -4zM1758 2821l2 7 -1 4 -2 -4zM1782 2821l3 7 -1 4 -3 -4zM1807 2824l2 5 -1 4 -2 -4zM1831 2824l2 5 -1 4 -2 -3zM264 2845l4 7 -1 4 -2 -3zM290 2845l3 7 -1 4 -2 -3zM314 2848l3 5 0 4 -3 -3zM335 2839l5 7 0 5 -4 -4zM361 2841l4 7 -1 5 -3 -4zM385 2843l4 6 0 5 -4 -3zM411 2843l4 6 -1 5 -3 -4zM435 2846l4 6 -1 4 -3 -3zM459 2843l4 6 0 5 -4 -3zM482 2843l5 6 0 5 -4 -3zM507 2843l5 6 0 5 -4 -3zM532 2843l4 6 0 5 -3 -4zM559 2849l3 4 0 4 -3 -3zM582 2849l4 4 -1 4 -2 -3zM603 2839l5 7 0 5 -4 -4zM628 2839l5 7 -1 5 -4 -4zM653 2839l4 7 0 5 -4 -4zM676 2832l5 8 -1 6 -4 -5zM696 2827l6 8 0 7 -5 -4zM729 2846l4 6 -1 4 -3 -3zM749 2836l5 7 0 6 -4 -4zM771 2824l6 9 -1 7 -5 -5zM792 2818l7 10 -1 7 -6 -5zM818 2827l6 8 0 7 -5 -4zM845 2833l6 7 -1 6 -4 -4zM867 2827l6 8 0 7 -5 -5zM893 2824l6 9 -1 7 -5 -5zM918 2832l6 8 0 6 -5 -4zM945 2832l5 8 -1 6 -4 -5zM968 2830l5 8 0 7 -5 -5zM994 2836l5 7 0 6 -5 -4zM1019 2836l5 7 -1 6 -4 -5zM1042 2832l5 8 -1 6 -4 -4zM1067 2836l5 7 0 6 -4 -4zM1094 2841l4 7 -1 5 -3 -4zM1119 2843l4 6 0 5 -4 -3zM1142 2841l5 7 -1 5 -3 -4zM1168 2838l4 8 -1 5 -3 -4zM1187 2824l6 9 -1 7 -5 -5zM1215 2825l5 10 -2 6 -4 -5zM1239 2823l5 10 -2 7 -4 -6zM1265 2823l4 10 -2 7 -4 -6zM1291 2823l4 10 -2 7 -4 -7zM1317 2825l3 10 -2 6 -4 -6zM1339 2825l5 10 -2 6 -4 -5zM1362 2819l5 11 -2 7 -4 -6zM1388 2823l5 10 -3 7 -3 -6zM1410 2823l5 10 -1 7 -5 -6zM1433 2823l6 10 -2 7 -4 -6zM1460 2831l4 9 -1 6 -4 -5zM1484 2830l4 8 -1 6 -4 -5zM1512 2845l3 7 0 4 -3 -4zM1561 2848l3 5 0 4 -3 -3zM1586 2848l2 5 0 4 -3 -3zM1607 2835l4 8 -1 6 -4 -5zM1633 2840l3 7 0 6 -3 -5zM1658 2842l3 7 -1 5 -3 -4zM1682 2840l4 7 -1 6 -3 -5zM1706 2840l4 7 -1 6 -3 -5zM1733 2845l3 7 -1 4 -3 -4zM1782 2845l3 7 -1 4 -3 -4zM1806 2848l3 5 -1 4 -2 -3zM1830 2848l3 5 -1 4 -2 -3zM264 2868l4 6 -1 5 -3 -4zM289 2871l4 6 -1 4 -3 -3zM313 2871l4 6 -1 4 -2 -3zM336 2860l4 8 -1 6 -3 -5zM361 2866l4 7 -1 5 -3 -4zM385 2868l4 6 0 5 -3 -4zM410 2868l4 6 0 5 -3 -4zM435 2868l4 6 -1 5 -3 -4zM461 2870l3 7 -1 4 -2 -3zM482 2866l5 7 -1 5 -3 -4zM509 2868l4 6 -1 5 -3 -4zM532 2868l4 6 0 5 -3 -4zM558 2871l4 6 -1 4 -3 -3zM582 2871l4 6 -1 4 -3 -3zM604 2866l4 7 0 5 -3 -4zM630 2866l4 7 -1 5 -3 -4zM653 2860l4 8 -1 6 -3 -5zM677 2864l5 7 0 5 -4 -4zM696 2846l6 9 -1 8 -5 -6zM727 2864l5 7 -1 5 -4 -4zM752 2863l4 8 -1 5 -3 -4zM776 2864l4 7 0 5 -4 -4zM797 2851l5 9 -1 7 -4 -5zM820 2852l6 8 -1 7 -5 -5zM843 2850l6 9 0 7 -6 -5zM869 2849l6 9 -1 7 -5 -5zM892 2842l7 10 -2 8 -5 -6zM914 2834l7 11 -2 9 -6 -7zM945 2857l5 8 -1 6 -4 -5zM966 2849l6 9 -1 7 -5 -5zM990 2850l6 9 -1 7 -5 -5zM1016 2851l6 9 -1 7 -5 -5zM1038 2845l7 10 -1 8 -5 -6zM1065 2851l6 9 -1 7 -5 -5zM1091 2855l5 8 -1 7 -4 -5zM1117 2861l5 7 -1 6 -4 -5zM1145 2873l3 5 0 4 -3 -3zM1170 2870l3 7 0 4 -3 -4zM1191 2860l4 8 -1 6 -3 -5zM1215 2850l5 10 -2 6 -4 -5zM1241 2848l4 10 -2 7 -4 -6zM1264 2850l5 10 -2 6 -4 -5zM1291 2850l4 10 -2 6 -4 -6zM1314 2850l5 10 -2 6 -4 -5zM1342 2854l3 9 -2 6 -3 -5zM1363 2844l4 11 -2 7 -4 -7zM1388 2848l4 10 -2 7 -4 -6zM1413 2850l4 10 -2 6 -4 -5zM1436 2848l5 10 -2 7 -4 -6zM1460 2853l5 9 -2 6 -4 -5zM1486 2865l4 7 -1 6 -3 -5zM1513 2873l3 5 -1 4 -3 -3zM1562 2873l2 5 0 4 -3 -3zM1585 2870l3 7 0 4 -3 -4zM1608 2867l4 7 -1 5 -3 -4zM1635 2873l3 5 -1 4 -3 -3zM1659 2873l2 5 0 4 -3 -3zM1683 2870l3 7 -1 4 -2 -3zM263 2893l4 6 0 5 -4 -3zM289 2896l4 6 -1 4 -2 -3zM313 2896l4 6 -1 4 -3 -3zM337 2896l5 6 -1 4 -3 -3zM361 2893l4 6 0 5 -3 -4zM385 2893l4 6 0 5 -4 -3zM410 2893l4 6 0 5 -3 -4zM435 2896l4 6 -1 4 -3 -3zM457 2889l5 7 0 5 -4 -4zM483 2888l4 8 -1 5 -3 -4zM509 2893l4 6 -1 5 -3 -4zM532 2893l4 6 0 5 -4 -3zM583 2898l3 5 0 4 -3 -3zM606 2893l4 6 -1 5 -3 -4zM625 2876l6 9 -1 7 -5 -5zM651 2880l5 8 -1 7 -4 -5zM675 2880l6 8 -1 7 -5 -5zM699 2878l6 9 -1 6 -5 -5zM724 2870l6 10 -2 7 -5 -6zM748 2870l6 10 -2 7 -5 -6zM775 2880l5 8 -1 7 -4 -5zM801 2891l4 6 -1 6 -3 -4zM821 2874l6 9 -2 7 -4 -5zM843 2867l6 10 -1 8 -5 -6zM867 2871l7 9 -2 8 -5 -6zM893 2870l6 10 -1 7 -5 -5zM914 2868l7 10 -1 7 -6 -5zM942 2874l6 9 -1 7 -4 -5zM965 2875l6 8 0 8 -5 -5zM992 2876l6 9 -1 7 -4 -5zM1016 2876l6 9 -1 7 -5 -5zM1039 2874l6 9 -1 7 -4 -5zM1065 2874l6 9 -1 7 -5 -5zM1086 2871l7 9 -1 8 -5 -6zM1117 2880l5 8 -2 7 -4 -5zM1139 2874l5 9 -1 7 -4 -5zM1164 2874l6 9 -1 7 -5 -5zM1188 2876l6 9 -1 7 -5 -5zM1214 2876l5 9 -1 6 -5 -5zM1241 2875l5 10 -2 6 -4 -5zM1267 2885l3 8 -1 5 -3 -4zM1291 2881l4 9 -2 6 -3 -6zM1315 2877l4 10 -2 6 -3 -6zM1342 2877l4 10 -3 6 -3 -6zM1363 2856l5 13 -3 8 -5 -8zM1389 2873l4 10 -2 7 -4 -6zM1413 2875l4 10 -2 6 -4 -6zM1439 2895l3 7 -1 4 -3 -4zM1459 2873l5 10 -2 7 -4 -6zM1487 2892l3 7 -1 5 -3 -4zM1561 2895l3 7 0 4 -3 -4zM1585 2895l3 7 0 4 -3 -4zM1610 2898l3 5 -1 4 -3 -3zM1683 2899l3 4 0 4 -3 -3zM1704 2891l5 7 -1 5 -3 -4zM1731 2896l4 6 -1 4 -3 -3zM1755 2899l4 4 -1 4 -2 -3zM1805 2898l3 5 0 4 -3 -3zM1829 2899l3 4 0 4 -3 -3zM265 2922l3 5 0 4 -3 -3zM311 2917l5 6 0 5 -4 -3zM336 2915l4 7 0 5 -4 -4zM360 2915l4 7 0 5 -3 -4zM385 2912l4 8 -1 5 -3 -4zM410 2915l4 7 -1 5 -3 -4zM434 2915l4 6 0 6 -4 -4zM458 2915l5 7 -1 5 -3 -4zM484 2920l4 6 -1 4 -3 -3zM509 2920l4 6 -1 4 -2 -3zM531 2913l5 7 -1 5 -4 -4zM558 2916l4 7 -1 5 -3 -4zM584 2922l3 5 -1 4 -3 -3zM605 2909l4 8 -1 6 -4 -5zM627 2904l5 8 -1 7 -4 -5zM650 2900l6 9 -2 7 -4 -5zM676 2900l5 9 -1 7 -4 -6zM701 2900l5 9 -2 7 -4 -6zM724 2898l5 9 -1 7 -5 -5zM750 2897l5 10 -2 7 -4 -6zM774 2898l5 9 -1 7 -5 -6zM799 2897l5 10 -2 7 -4 -6zM818 2895l7 9 -1 8 -6 -6zM841 2885l7 11 -1 8 -6 -6zM866 2891l7 10 -1 8 -6 -6zM893 2894l6 10 -1 7 -5 -5zM916 2899l7 8 -1 7 -5 -5zM942 2898l6 9 -1 7 -5 -5zM966 2901l6 8 -1 7 -4 -5zM991 2901l6 8 -1 7 -4 -5zM1017 2900l6 9 -1 7 -5 -6zM1041 2904l5 8 0 7 -5 -5zM1069 2909l4 8 -1 6 -3 -5zM1089 2898l6 9 -1 7 -5 -5zM1118 2912l5 8 -1 5 -3 -4zM1137 2898l6 9 -1 7 -5 -5zM1166 2897l5 10 -2 7 -4 -6zM1189 2894l5 10 -2 7 -4 -6zM1215 2897l5 10 -2 7 -4 -6zM1239 2900l5 9 -2 7 -4 -6zM1266 2903l4 9 -2 6 -4 -5zM1291 2901l4 10 -2 6 -4 -6zM1316 2897l4 10 -3 7 -3 -7zM1340 2897l4 10 -2 7 -4 -6zM1365 2897l4 10 -3 6 -3 -6zM1390 2897l4 10 -3 7 -3 -7zM1412 2897l5 10 -3 7 -3 -6zM1439 2919l3 7 -1 4 -3 -4zM1464 2919l3 7 -1 4 -3 -4zM1488 2919l3 7 -1 4 -3 -4zM1561 2919l3 7 0 4 -3 -4zM1585 2919l3 7 0 4 -3 -4zM1609 2922l3 5 0 4 -3 -3zM1658 2922l3 5 0 4 -3 -3zM1680 2915l4 7 0 5 -4 -4zM1705 2920l4 6 0 4 -3 -3zM1731 2923l4 4 -1 4 -2 -3zM1755 2923l3 4 0 4 -2 -3zM1804 2923l3 4 0 4 -2 -3zM1828 2923l4 4 -1 4 -2 -3zM264 2945l4 6 -1 4 -3 -3zM287 2940l4 7 0 5 -4 -4zM312 2942l4 6 0 5 -4 -3zM332 2925l6 9 -1 7 -5 -5zM356 2929l6 9 -1 6 -4 -5zM380 2925l6 9 -1 7 -5 -5zM406 2925l5 9 -1 7 -4 -5zM433 2934l4 8 0 6 -4 -5zM459 2942l4 6 0 5 -3 -4zM510 2947l3 5 0 4 -3 -3zM533 2939l4 7 -1 6 -3 -5zM557 2934l4 8 -1 6 -4 -5zM582 2939l4 7 -1 6 -3 -5zM605 2930l4 9 -1 6 -4 -5zM628 2922l5 10 -2 7 -4 -6zM650 2919l6 10 -2 7 -4 -6zM677 2925l5 9 -1 6 -5 -5zM700 2923l5 9 -1 7 -5 -6zM726 2922l5 10 -2 7 -4 -6zM750 2922l5 10 -2 7 -4 -6zM774 2922l6 10 -2 7 -4 -6zM795 2906l7 12 -3 8 -5 -6zM822 2915l5 11 -2 7 -4 -6zM840 2905l8 12 -2 9 -6 -7zM868 2911l7 11 -2 8 -5 -6zM893 2916l7 10 -2 8 -5 -6zM918 2925l6 9 -1 7 -5 -5zM946 2929l5 8 -2 7 -4 -5zM969 2925l5 9 -1 7 -4 -6zM993 2925l5 9 -1 7 -4 -5zM1018 2925l5 9 -1 7 -4 -6zM1043 2931l5 8 -1 6 -4 -5zM1068 2931l5 8 -1 6 -4 -5zM1091 2925l5 9 -1 7 -5 -6zM1116 2925l5 9 -1 7 -4 -6zM1138 2919l6 10 -1 7 -5 -6zM1162 2910l7 11 -2 9 -6 -7zM1187 2909l6 11 -2 9 -5 -7zM1215 2922l5 10 -2 7 -4 -6zM1242 2924l4 10 -2 6 -4 -6zM1264 2924l5 10 -2 6 -4 -5zM1290 2918l4 11 -2 7 -4 -7zM1316 2922l4 10 -3 7 -3 -7zM1343 2924l3 10 -3 6 -3 -6zM1366 2924l3 10 -2 6 -3 -6zM1389 2924l4 10 -2 6 -4 -6zM1414 2924l4 10 -3 6 -3 -6zM1439 2937l3 8 -2 5 -2 -5zM1464 2944l3 7 -1 4 -3 -4zM1514 2947l2 5 -1 4 -2 -4zM1537 2947l3 5 -1 4 -2 -3zM1561 2944l3 7 0 4 -3 -4zM1586 2947l3 5 -1 4 -3 -3zM1633 2945l4 6 -1 4 -3 -3zM1655 2942l4 6 0 5 -3 -3zM1679 2943l5 5 0 5 -3 -3zM1702 2941l5 6 0 5 -4 -3zM1729 2945l5 6 0 4 -3 -3zM1753 2945l5 6 0 4 -3 -3zM1778 2945l5 6 0 4 -3 -3zM1801 2946l5 5 1 4 -4 -2zM1825 2946l5 5 1 4 -4 -2zM262 2966l5 6 0 5 -4 -3zM288 2966l4 6 0 5 -3 -4zM311 2964l4 7 0 5 -4 -4zM335 2959l5 7 -1 6 -4 -4zM359 2959l5 7 -1 6 -4 -4zM380 2949l6 9 -1 7 -4 -5zM402 2944l7 9 -1 8 -5 -6zM433 2962l4 7 0 5 -4 -4zM460 2969l4 6 -1 4 -3 -3zM486 2971l2 5 0 4 -3 -3zM510 2971l3 5 0 4 -3 -3zM535 2971l3 5 -1 4 -3 -3zM560 2971l2 5 0 4 -3 -3zM583 2968l3 7 0 4 -3 -4zM607 2963l3 7 -1 6 -3 -5zM631 2958l4 8 -2 6 -3 -5zM654 2946l4 10 -2 7 -4 -6zM677 2949l5 9 -1 6 -5 -5zM703 2948l5 10 -2 6 -4 -5zM729 2950l4 10 -2 6 -4 -6zM752 2948l5 10 -2 6 -4 -5zM775 2946l5 10 -2 7 -4 -6zM799 2949l5 9 -2 6 -4 -5zM821 2939l6 11 -2 8 -5 -7zM842 2930l7 12 -2 8 -6 -6zM867 2935l7 11 -2 8 -5 -6zM895 2943l6 10 -2 7 -5 -6zM921 2953l5 8 -1 7 -5 -5zM945 2949l5 9 -1 7 -5 -6zM969 2949l5 9 -1 7 -4 -6zM993 2949l6 9 -1 7 -5 -5zM1019 2959l5 7 -1 6 -4 -4zM1043 2958l5 8 -1 6 -3 -5zM1069 2958l5 8 -1 6 -4 -5zM1093 2958l5 8 -1 6 -4 -5zM1116 2953l5 8 -1 7 -4 -5zM1137 2940l6 10 -1 8 -5 -6zM1164 2936l6 11 -2 8 -5 -7zM1186 2932l7 11 -2 9 -6 -7zM1215 2942l5 11 -2 7 -4 -6zM1240 2946l5 10 -2 7 -5 -6zM1266 2946l4 10 -2 7 -4 -6zM1291 2946l4 10 -2 7 -4 -6zM1316 2946l4 10 -3 7 -3 -7zM1342 2948l4 10 -3 6 -3 -6zM1364 2948l4 10 -2 6 -4 -6zM1391 2950l3 10 -2 6 -3 -6zM1415 2950l3 10 -2 6 -3 -6zM1438 2950l4 10 -2 6 -4 -6zM1464 2965l3 7 -1 5 -3 -4zM1488 2968l3 7 -1 4 -3 -4zM1513 2965l3 7 -1 5 -3 -4zM1537 2963l3 7 -2 5 -2 -4zM1560 2963l4 7 -1 6 -3 -5zM1585 2968l3 7 -1 4 -2 -3zM1608 2969l4 6 -1 4 -3 -3zM1632 2969l4 6 0 4 -3 -3zM1655 2969l5 6 0 4 -3 -3zM1676 2960l6 7 0 5 -5 -3zM1699 2964l6 5 1 6 -4 -3zM1726 2968l6 5 1 5 -4 -3zM1751 2967l5 6 1 5 -4 -3zM1773 2964l6 6 1 5 -5 -3zM1800 2967l5 6 1 5 -4 -3zM1823 2968l6 5 1 5 -4 -3zM263 2991l4 6 0 5 -4 -3zM288 2991l4 6 0 5 -4 -3zM311 2991l5 6 0 5 -4 -3zM336 2991l5 6 0 5 -4 -3zM359 2989l5 7 0 5 -4 -4zM378 2975l7 8 -1 7 -5 -5zM404 2972l6 9 -1 7 -5 -5zM433 2983l4 8 0 6 -4 -5zM461 2996l3 5 0 4 -3 -3zM486 2996l2 5 0 4 -3 -3zM560 2993l3 7 -1 4 -3 -4zM584 2990l3 7 -2 5 -2 -4zM607 2990l3 7 -1 5 -2 -4zM630 2975l4 10 -2 6 -3 -5zM654 2971l4 10 -2 7 -4 -6zM680 2977l4 9 -2 6 -3 -5zM703 2973l4 10 -1 6 -4 -5zM729 2971l4 10 -2 7 -4 -7zM753 2971l4 10 -2 7 -4 -6zM776 2967l5 11 -2 7 -5 -6zM797 2958l6 12 -2 8 -5 -7zM821 2964l6 11 -2 8 -5 -7zM846 2958l6 11 -2 9 -6 -7zM871 2964l5 11 -2 7 -4 -6zM894 2968l6 10 -2 7 -4 -5zM916 2969l6 9 -1 8 -5 -6zM944 2972l6 9 -2 7 -4 -5zM968 2972l5 9 -1 7 -4 -5zM993 2972l6 9 -2 7 -4 -5zM1017 2974l5 9 -1 7 -4 -5zM1045 2989l4 6 0 6 -4 -4zM1070 2991l4 6 0 5 -3 -4zM1096 2990l3 7 -1 5 -3 -4zM1117 2976l5 9 -1 6 -4 -5zM1137 2960l7 11 -2 8 -6 -7zM1163 2958l6 11 -2 9 -5 -7zM1189 2972l5 9 -1 7 -5 -6zM1214 2967l5 11 -2 7 -4 -6zM1240 2971l5 10 -2 7 -4 -6zM1263 2967l5 11 -2 7 -4 -6zM1291 2971l4 10 -2 7 -4 -6zM1316 2971l4 10 -3 7 -3 -7zM1340 2971l4 10 -2 7 -4 -6zM1366 2971l3 10 -2 6 -4 -6zM1391 2971l4 10 -3 6 -3 -6zM1413 2971l4 10 -2 7 -4 -6zM1439 2979l3 9 -2 6 -3 -6zM1463 2973l4 10 -3 6 -3 -6zM1489 2979l3 9 -3 6 -3 -6zM1512 2983l4 8 -2 5 -3 -5zM1535 2973l4 10 -2 6 -4 -6zM1559 2983l4 8 -1 6 -3 -5zM1581 2978l5 8 -1 7 -4 -5zM1631 2991l5 6 0 5 -4 -3zM1646 2974l7 8 0 7 -5 -4zM1667 2976l8 7 1 7 -6 -4zM1689 2973l9 7 1 8 -7 -4zM1726 2993l6 5 1 5 -4 -3zM1774 2993l6 5 2 5 -5 -3zM1798 2991l6 5 1 5 -4 -3zM1822 2991l6 5 1 5 -4 -2zM262 3016l5 6 0 5 -4 -3zM288 3014l4 7 -1 5 -3 -4zM310 3012l5 7 0 5 -4 -4zM336 3014l4 7 0 5 -4 -4zM361 3016l4 6 0 5 -4 -3zM383 3012l5 7 0 5 -4 -4zM410 3011l4 8 -1 5 -3 -4zM434 3014l4 7 -1 5 -3 -4zM460 3015l4 7 -1 5 -3 -4zM485 3021l3 5 0 4 -3 -3zM559 3013l3 7 -1 6 -3 -5zM583 3013l3 7 -1 5 -3 -4zM607 3013l4 7 -2 5 -2 -4zM632 3011l3 8 -1 5 -3 -5zM655 2998l4 10 -2 6 -4 -6zM680 2998l4 10 -2 6 -4 -6zM702 2998l5 10 -2 6 -4 -5zM728 2996l4 10 -2 7 -4 -6zM751 2996l5 10 -2 7 -4 -6zM777 2992l5 11 -3 7 -4 -7zM797 2982l6 12 -2 8 -5 -7zM823 2989l5 11 -2 7 -5 -6zM847 2989l5 11 -2 8 -5 -7zM867 2990l7 10 -2 8 -5 -6zM892 2990l7 10 -2 8 -5 -6zM916 2990l7 10 -2 8 -5 -6zM937 2983l8 11 -1 8 -7 -6zM967 2999l6 9 -1 7 -5 -5zM993 2999l5 9 -1 7 -4 -5zM1021 3011l4 8 -1 5 -3 -4zM1044 3011l5 8 -1 5 -4 -4zM1071 3013l4 7 -1 6 -3 -5zM1095 3013l4 7 -1 6 -3 -5zM1121 3015l3 7 -1 5 -3 -4zM1141 3001l5 9 -1 6 -4 -5zM1165 2996l6 10 -2 7 -4 -6zM1190 2996l5 10 -1 7 -5 -6zM1214 2992l5 11 -2 7 -4 -6zM1241 2992l5 11 -3 7 -4 -7zM1264 2992l5 11 -2 7 -5 -6zM1291 2996l4 10 -2 7 -4 -6zM1316 2996l4 10 -3 7 -3 -7zM1340 2996l4 10 -2 7 -4 -6zM1363 2996l5 10 -3 7 -3 -6zM1388 2996l5 10 -3 7 -3 -6zM1412 2996l4 10 -2 7 -4 -6zM1438 2992l4 11 -2 7 -4 -7zM1463 2996l4 10 -3 7 -3 -7zM1487 3000l4 10 -3 6 -3 -6zM1512 3002l4 9 -2 6 -3 -5zM1534 2998l4 10 -2 6 -4 -5zM1560 3013l4 7 -1 6 -3 -5zM1583 3011l4 8 -1 5 -3 -4zM1601 3000l6 8 -1 7 -4 -5zM1622 2999l7 8 0 7 -5 -4zM1646 3004l7 7 1 7 -6 -4zM1670 3004l8 7 0 7 -5 -4zM1698 3011l6 6 1 6 -5 -3zM1727 3020l6 5 1 4 -4 -2zM1778 3023l4 3 1 4 -3 -2zM1802 3023l5 3 0 4 -3 -2zM1826 3023l5 3 0 4 -3 -2zM262 3040l5 6 0 5 -4 -3zM288 3038l4 7 -1 5 -3 -4zM310 3036l5 7 0 5 -4 -4zM337 3038l4 7 -1 5 -3 -4zM361 3040l4 6 0 5 -4 -3zM385 3038l4 7 -1 5 -3 -4zM409 3038l5 7 -1 5 -3 -4zM435 3037l4 7 -1 6 -3 -5zM459 3038l4 6 0 6 -4 -4zM486 3045l3 5 -1 4 -2 -3zM511 3045l3 5 -1 4 -2 -3zM561 3045l2 5 -1 4 -2 -3zM583 3035l3 8 -1 5 -3 -5zM606 3035l4 8 -1 5 -4 -5zM632 3035l3 8 -1 5 -3 -5zM653 3020l5 10 -2 7 -4 -6zM681 3022l4 10 -3 6 -3 -6zM703 3022l5 10 -2 6 -4 -5zM729 3022l4 10 -2 6 -4 -5zM754 3022l4 10 -3 6 -3 -6zM777 3022l4 10 -2 6 -4 -5zM799 3013l5 11 -2 7 -5 -6zM823 3016l5 11 -2 7 -4 -6zM845 3017l6 10 -1 7 -5 -6zM869 3017l6 10 -1 7 -5 -5zM894 3013l6 11 -1 8 -5 -6zM918 3014l6 10 -2 8 -5 -6zM941 3010l7 11 -2 8 -6 -6zM974 3045l3 5 0 4 -3 -3zM992 3023l6 9 -1 7 -5 -5zM1018 3029l5 8 -1 6 -4 -5zM1044 3032l4 8 -1 6 -3 -5zM1071 3035l4 8 -1 5 -4 -5zM1094 3037l4 7 0 6 -4 -4zM1120 3039l4 7 -1 5 -3 -4zM1144 3037l4 7 -1 6 -3 -5zM1166 3027l5 8 -1 7 -4 -5zM1190 3016l5 11 -2 7 -5 -6zM1216 3016l4 11 -2 7 -4 -7zM1241 3016l5 11 -3 7 -4 -7zM1266 3016l4 11 -2 7 -4 -7zM1290 3022l5 10 -2 6 -4 -5zM1314 3020l5 10 -2 7 -4 -6zM1339 3020l4 10 -2 7 -4 -6zM1365 3020l4 10 -2 6 -4 -6zM1390 3016l4 11 -3 7 -3 -7zM1411 3016l5 11 -2 7 -5 -6zM1437 3016l4 11 -2 7 -4 -7zM1462 3020l5 10 -3 7 -4 -7zM1485 3022l4 10 -2 6 -3 -5zM1512 3022l4 10 -3 6 -3 -6zM1535 3032l4 8 -2 6 -3 -5zM1561 3042l3 7 0 4 -3 -4zM1585 3045l3 5 0 4 -3 -3zM1606 3038l4 7 0 5 -4 -4zM1630 3036l5 7 -1 5 -3 -4zM1646 3028l8 7 0 7 -5 -4zM1659 3012l10 9 1 9 -8 -5zM1778 3047l4 3 1 4 -3 -2zM1802 3047l5 3 0 4 -3 -2zM1826 3047l5 3 0 4 -3 -2zM263 3065l4 6 0 5 -3 -4zM286 3061l5 7 0 5 -4 -4zM312 3065l4 6 0 5 -3 -4zM337 3065l4 6 0 5 -3 -4zM361 3065l4 6 0 5 -4 -3zM385 3065l4 6 0 5 -3 -4zM411 3064l4 7 -1 5 -3 -4zM435 3065l4 6 -1 5 -3 -4zM461 3067l3 7 0 4 -3 -4zM511 3070l3 5 -1 4 -2 -3zM535 3067l3 7 -1 4 -3 -4zM559 3067l4 7 -1 4 -3 -4zM583 3062l3 7 -1 5 -3 -4zM608 3062l3 7 -2 5 -2 -4zM632 3062l3 7 -1 5 -3 -4zM656 3057l4 8 -2 5 -3 -4zM680 3047l4 10 -2 6 -4 -5zM703 3045l4 10 -2 7 -4 -6zM730 3045l4 10 -3 6 -3 -6zM753 3047l4 10 -2 6 -4 -5zM777 3047l5 10 -2 6 -4 -5zM801 3051l4 9 -2 6 -3 -5zM821 3042l6 10 -2 7 -5 -6zM849 3053l5 9 -2 6 -3 -5zM871 3050l5 9 -1 6 -4 -5zM895 3046l6 9 -1 7 -5 -5zM918 3042l6 10 -2 7 -4 -5zM944 3048l5 9 -1 7 -4 -5zM968 3048l5 9 -1 7 -4 -5zM996 3053l4 9 -1 6 -4 -5zM1019 3054l5 8 -1 6 -4 -5zM1042 3048l5 9 -1 7 -4 -6zM1069 3053l5 9 -2 6 -3 -5zM1096 3062l3 7 -1 6 -3 -5zM1122 3070l2 5 0 4 -3 -3zM1143 3057l4 8 -1 6 -4 -5zM1165 3045l6 10 -2 7 -4 -6zM1191 3038l5 11 -3 7 -4 -6zM1213 3034l6 11 -3 8 -5 -6zM1237 3035l6 11 -2 8 -5 -7zM1263 3038l5 11 -2 7 -5 -6zM1290 3041l5 11 -3 7 -4 -7zM1314 3045l5 10 -2 7 -4 -6zM1339 3047l5 10 -2 6 -4 -5zM1365 3047l4 10 -3 6 -3 -6zM1389 3047l4 10 -2 6 -4 -6zM1409 3028l6 13 -3 8 -5 -7zM1436 3030l5 12 -3 8 -5 -7zM1462 3047l4 10 -2 6 -4 -6zM1486 3045l4 10 -2 7 -4 -6zM1512 3047l4 10 -3 6 -3 -6zM1535 3060l4 8 -1 5 -3 -5zM1561 3067l3 7 0 4 -3 -4zM1633 3071l3 4 0 4 -3 -3zM1646 3053l8 7 0 7 -5 -4zM1667 3050l8 7 1 7 -6 -4zM1700 3065l6 5 1 5 -5 -2zM1802 3072l5 3 0 4 -3 -2zM1826 3072l4 3 1 4 -3 -2zM265 3094l3 5 0 4 -3 -3zM289 3092l4 6 -1 4 -3 -3zM313 3092l4 6 -1 4 -2 -3zM338 3092l4 6 -1 4 -2 -3zM362 3092l4 6 -1 4 -3 -3zM386 3092l4 6 -1 4 -2 -3zM412 3091l3 7 0 4 -3 -4zM486 3094l3 5 -1 4 -2 -3zM511 3091l3 7 -1 4 -3 -4zM535 3088l3 7 -2 5 -2 -4zM560 3086l3 8 -2 4 -2 -4zM582 3075l4 9 -2 6 -3 -5zM606 3081l4 8 -2 6 -3 -5zM632 3081l3 8 -1 5 -3 -4zM657 3081l3 8 -2 5 -3 -5zM681 3073l4 10 -2 6 -4 -6zM702 3069l5 10 -2 7 -4 -6zM729 3069l4 10 -2 7 -4 -6zM754 3071l4 10 -3 6 -3 -6zM776 3071l5 10 -2 6 -4 -5zM803 3088l3 7 -1 5 -3 -4zM827 3091l3 7 0 4 -3 -4zM852 3091l3 7 0 4 -3 -4zM873 3081l4 8 -1 6 -3 -5zM897 3074l5 9 -1 6 -5 -5zM919 3072l5 9 -1 7 -4 -5zM943 3072l6 9 -1 7 -5 -5zM968 3072l6 9 -1 7 -5 -6zM995 3076l5 8 -1 7 -4 -6zM1020 3084l5 8 -1 5 -3 -4zM1044 3081l5 8 -1 6 -4 -5zM1070 3077l4 9 -1 6 -4 -5zM1095 3081l4 8 -2 5 -3 -4zM1122 3094l3 5 -1 4 -2 -3zM1141 3069l5 10 -2 7 -4 -6zM1163 3054l6 12 -2 8 -5 -7zM1189 3058l6 11 -3 8 -5 -6zM1215 3062l5 11 -2 7 -5 -6zM1240 3056l5 12 -3 8 -4 -7zM1264 3055l6 12 -3 8 -5 -7zM1288 3062l5 11 -2 7 -5 -6zM1313 3069l5 10 -2 7 -4 -6zM1338 3069l4 10 -1 7 -5 -6zM1362 3071l5 10 -2 6 -4 -5zM1390 3075l3 9 -2 6 -3 -5zM1410 3065l5 11 -2 7 -4 -6zM1431 3055l7 11 -3 9 -5 -7zM1460 3065l5 11 -2 7 -5 -6zM1486 3071l4 10 -2 6 -4 -6zM1511 3081l4 8 -2 6 -3 -5zM1535 3077l4 9 -2 6 -3 -5zM1559 3089l4 6 0 5 -3 -4zM1581 3082l5 7 -1 6 -4 -4zM1603 3082l5 7 0 6 -4 -4zM1627 3083l6 7 0 5 -4 -3zM1650 3083l6 7 0 5 -4 -3zM1675 3087l6 6 1 5 -5 -3zM1704 3096l4 3 1 4 -3 -2zM1802 3096l4 3 1 4 -3 -2zM1826 3096l4 3 1 4 -3 -2zM265 3119l3 5 0 4 -3 -3zM289 3117l4 6 -1 4 -2 -3zM313 3117l4 6 -1 4 -3 -3zM338 3114l4 6 -1 5 -3 -4zM362 3114l4 6 -1 5 -3 -4zM385 3114l4 6 0 5 -3 -4zM412 3116l3 7 0 4 -3 -4zM462 3119l3 5 -1 4 -2 -3zM487 3119l2 5 -1 4 -2 -3zM511 3116l3 7 -1 4 -3 -4zM535 3116l3 7 -1 4 -3 -4zM559 3109l3 8 -1 5 -3 -5zM583 3098l4 10 -2 6 -4 -6zM606 3102l4 9 -2 6 -3 -6zM631 3102l4 9 -2 6 -3 -6zM656 3102l3 9 -1 6 -4 -6zM680 3096l4 10 -2 6 -4 -5zM704 3094l4 10 -2 7 -4 -6zM730 3094l4 10 -3 7 -3 -7zM752 3094l4 10 -2 7 -4 -6zM778 3096l4 10 -2 6 -4 -6zM803 3111l3 7 -1 5 -3 -4zM827 3116l3 7 0 4 -3 -4zM850 3109l4 8 -1 5 -3 -4zM873 3106l5 8 -1 6 -4 -5zM895 3097l5 9 -1 7 -4 -5zM918 3097l6 9 -1 7 -4 -5zM944 3097l5 9 -1 7 -4 -5zM968 3097l5 9 -1 7 -4 -5zM995 3099l5 9 -1 6 -4 -5zM1021 3106l4 8 -1 6 -4 -5zM1048 3116l3 7 -1 4 -3 -4zM1070 3109l4 8 -1 5 -3 -4zM1092 3097l5 9 -2 7 -4 -6zM1120 3106l4 8 -2 6 -3 -5zM1143 3090l5 11 -3 7 -4 -7zM1166 3090l5 11 -2 7 -4 -6zM1191 3087l5 11 -2 7 -5 -6zM1214 3094l5 10 -1 7 -5 -6zM1239 3087l5 11 -2 7 -5 -6zM1261 3079l6 12 -2 8 -6 -7zM1289 3090l5 11 -2 7 -4 -6zM1311 3087l5 11 -2 7 -4 -6zM1335 3080l6 11 -3 9 -5 -7zM1360 3077l6 12 -3 9 -5 -8zM1387 3094l5 10 -2 7 -4 -6zM1412 3096l4 10 -2 6 -3 -5zM1436 3090l5 11 -3 7 -4 -7zM1459 3094l5 10 -2 7 -4 -6zM1484 3099l5 9 -2 6 -4 -5zM1510 3100l4 9 -1 6 -4 -5zM1533 3102l5 9 -2 6 -3 -5zM1556 3103l5 8 -1 6 -4 -5zM1580 3103l5 8 -1 6 -4 -5zM1601 3102l6 8 0 6 -5 -4zM1625 3105l6 7 0 6 -4 -4zM1651 3111l6 6 0 6 -4 -4zM1676 3114l6 5 1 5 -4 -3zM1702 3118l6 5 1 4 -4 -2zM1801 3121l5 3 1 4 -3 -2zM1826 3121l4 3 1 4 -3 -2zM264 3142l4 6 -1 4 -3 -3zM290 3141l3 7 0 4 -3 -4zM313 3141l4 7 -1 4 -2 -3zM338 3138l4 7 -1 5 -3 -4zM361 3136l4 7 0 6 -4 -4zM386 3136l4 7 -1 6 -3 -5zM411 3138l4 7 -1 5 -3 -4zM437 3144l2 5 0 4 -3 -3zM462 3144l3 5 -1 4 -3 -3zM486 3144l3 5 -1 4 -2 -3zM561 3134l2 8 -2 5 -2 -5zM582 3123l4 10 -2 6 -4 -6zM606 3123l4 10 -2 6 -4 -6zM633 3127l3 9 -2 6 -3 -6zM654 3123l5 10 -2 6 -4 -6zM680 3119l4 10 -2 7 -4 -6zM704 3119l5 10 -3 7 -4 -7zM729 3119l4 10 -2 7 -4 -7zM753 3121l4 10 -2 6 -4 -5zM779 3134l3 8 -1 5 -3 -5zM801 3131l4 8 -1 6 -3 -5zM827 3141l3 7 0 4 -3 -4zM848 3122l5 9 -1 6 -5 -5zM872 3119l5 10 -2 7 -4 -6zM894 3122l6 9 -1 7 -5 -5zM918 3122l6 9 -1 7 -5 -5zM943 3122l6 9 -1 7 -5 -5zM969 3122l5 9 -1 7 -4 -6zM995 3124l5 9 -1 6 -4 -5zM1017 3122l6 9 -1 7 -5 -5zM1046 3136l4 7 -1 6 -3 -5zM1071 3134l4 8 -1 5 -3 -5zM1095 3134l4 8 -1 5 -4 -5zM1122 3141l3 7 -1 4 -2 -4zM1143 3121l4 10 -2 6 -3 -5zM1169 3112l4 11 -3 7 -4 -7zM1191 3115l5 11 -2 7 -5 -6zM1215 3119l5 10 -2 7 -4 -6zM1241 3119l5 10 -2 7 -4 -6zM1259 3103l7 12 -2 9 -6 -7zM1286 3112l6 11 -2 8 -5 -7zM1311 3116l5 10 -1 7 -5 -6zM1336 3119l5 10 -1 7 -4 -6zM1360 3116l6 10 -2 7 -5 -6zM1385 3112l6 11 -2 7 -5 -6zM1409 3116l5 10 -2 7 -4 -6zM1434 3122l5 9 -2 6 -4 -5zM1460 3121l4 10 -1 6 -4 -5zM1484 3124l5 9 -2 6 -4 -5zM1510 3121l4 10 -2 6 -4 -5zM1533 3127l5 9 -2 6 -3 -5zM1557 3128l5 8 -1 6 -4 -5zM1578 3129l6 7 -1 6 -4 -4zM1600 3127l6 8 0 6 -5 -4zM1627 3133l6 7 0 5 -5 -3zM1651 3139l6 5 1 5 -4 -3zM1678 3140l5 6 1 5 -4 -3zM1701 3141l6 5 1 5 -4 -3zM1727 3144l6 4 1 4 -4 -2zM1751 3144l6 4 1 4 -4 -2zM1777 3146l5 3 1 4 -3 -2zM1802 3146l4 3 1 4 -3 -2zM1826 3146l4 3 1 4 -3 -2zM263 3161l4 7 -1 5 -3 -4zM289 3163l4 6 -1 5 -3 -4zM313 3163l4 6 -1 5 -3 -4zM338 3163l4 6 -1 5 -3 -4zM361 3160l4 7 0 6 -4 -4zM384 3155l4 8 -1 6 -3 -5zM410 3155l4 8 -1 6 -3 -5zM436 3165l4 7 -1 4 -3 -4zM462 3168l3 5 -1 4 -2 -3zM487 3168l2 5 -1 4 -2 -4zM511 3158l3 8 -2 5 -2 -5zM535 3162l3 7 -1 5 -3 -4zM560 3165l3 7 -1 4 -2 -4zM583 3147l4 10 -2 6 -4 -6zM608 3147l4 10 -3 6 -3 -6zM631 3151l4 9 -2 6 -3 -6zM657 3147l3 10 -2 6 -3 -6zM679 3145l5 10 -2 6 -4 -5zM706 3143l3 10 -2 6 -4 -6zM729 3143l4 10 -2 7 -4 -6zM754 3143l4 10 -3 7 -3 -7zM778 3145l4 10 -2 6 -4 -6zM800 3143l5 10 -2 7 -4 -6zM821 3140l6 10 -2 7 -4 -6zM847 3140l5 10 -2 7 -4 -6zM870 3140l5 10 -1 7 -5 -6zM895 3144l5 9 -1 7 -4 -5zM918 3146l6 9 -1 7 -5 -5zM944 3146l5 9 -1 7 -4 -5zM967 3146l6 9 -1 7 -5 -5zM994 3143l5 10 -1 7 -5 -6zM1018 3139l6 11 -2 7 -5 -6zM1044 3149l5 9 -2 6 -4 -5zM1070 3147l4 10 -1 6 -4 -6zM1096 3162l3 7 -1 5 -2 -4zM1122 3158l3 8 -2 5 -2 -5zM1142 3127l6 12 -3 9 -5 -8zM1167 3125l6 13 -4 8 -5 -7zM1192 3139l4 11 -2 7 -4 -7zM1216 3143l5 10 -3 7 -3 -6zM1240 3143l5 10 -2 7 -4 -6zM1265 3143l4 10 -2 7 -4 -6zM1289 3148l5 9 -2 6 -4 -5zM1314 3149l4 9 -2 6 -3 -5zM1337 3146l5 9 -2 7 -4 -6zM1362 3143l4 10 -1 7 -5 -6zM1385 3140l6 10 -2 7 -5 -6zM1409 3140l5 10 -1 7 -5 -6zM1433 3143l6 10 -2 7 -4 -6zM1459 3146l5 9 -2 7 -4 -6zM1484 3145l4 10 -1 6 -4 -5zM1510 3145l4 10 -2 6 -4 -5zM1534 3151l4 9 -1 6 -4 -5zM1557 3152l5 8 -1 6 -4 -5zM1580 3156l5 7 0 6 -4 -4zM1603 3156l6 7 -1 6 -4 -4zM1629 3164l6 6 0 4 -4 -3zM1652 3162l6 6 0 5 -4 -3zM1677 3165l5 5 2 5 -5 -3zM1699 3163l6 5 2 6 -5 -3zM1722 3162l7 5 1 5 -4 -2zM1748 3164l6 5 2 5 -5 -3zM1774 3165l6 5 2 5 -5 -3zM1801 3170l5 3 1 4 -3 -2zM1826 3170l4 3 1 4 -3 -2zM264 3185l4 7 -1 6 -3 -5zM288 3186l4 7 -1 5 -3 -4zM313 3190l4 7 -1 4 -2 -3zM338 3188l4 6 -1 5 -3 -4zM361 3183l4 8 -1 5 -3 -4zM384 3180l5 8 -1 6 -4 -5zM411 3183l4 8 -1 5 -4 -5zM437 3190l3 7 -1 4 -3 -4zM462 3190l3 7 -1 4 -3 -4zM486 3190l3 7 -1 4 -3 -4zM536 3193l2 5 -1 4 -2 -4zM561 3185l3 8 -2 4 -3 -4zM582 3168l4 10 -2 7 -4 -6zM606 3168l4 10 -2 7 -4 -6zM632 3170l4 10 -2 6 -4 -6zM656 3172l4 10 -2 6 -4 -6zM681 3170l4 10 -3 6 -3 -6zM705 3170l4 10 -2 6 -4 -6zM730 3168l4 10 -2 6 -4 -6zM754 3168l4 10 -3 6 -3 -6zM776 3168l5 10 -2 7 -4 -6zM800 3168l5 10 -2 7 -4 -6zM821 3165l6 10 -2 7 -5 -6zM845 3165l6 10 -2 7 -4 -5zM868 3165l6 10 -1 7 -5 -5zM894 3173l6 9 -1 6 -4 -4zM917 3172l6 8 0 7 -5 -5zM944 3171l6 9 -1 7 -5 -6zM968 3169l6 9 -1 7 -5 -6zM992 3169l6 9 -1 7 -5 -5zM1016 3165l6 10 -1 7 -5 -5zM1043 3171l5 9 -1 6 -5 -5zM1069 3170l5 10 -2 6 -4 -5zM1095 3174l4 9 -2 6 -3 -5zM1120 3170l4 10 -2 6 -3 -6zM1145 3168l4 10 -2 6 -4 -6zM1168 3153l5 12 -3 8 -5 -7zM1193 3164l4 11 -2 7 -4 -7zM1215 3168l4 10 -1 7 -5 -6zM1240 3168l5 10 -2 7 -4 -6zM1263 3171l5 9 -2 6 -4 -5zM1290 3174l4 9 -1 6 -4 -5zM1313 3175l5 8 -2 6 -4 -5zM1338 3173l5 9 -2 6 -4 -5zM1360 3169l5 9 -1 7 -5 -6zM1387 3168l4 10 -1 7 -5 -6zM1409 3168l5 10 -1 7 -4 -6zM1433 3165l5 10 -2 7 -4 -6zM1460 3174l5 9 -2 6 -3 -5zM1483 3164l5 11 -2 7 -4 -6zM1508 3168l5 10 -2 7 -4 -6zM1531 3171l5 9 -1 7 -4 -6zM1555 3177l6 8 -1 6 -4 -4zM1578 3176l6 8 -1 6 -4 -5zM1607 3191l4 6 0 4 -3 -3zM1629 3187l5 6 0 5 -3 -3zM1651 3188l6 5 1 5 -4 -3zM1676 3188l6 5 1 5 -4 -2zM1697 3187l7 5 1 5 -4 -2zM1723 3187l6 5 2 5 -5 -2zM1748 3189l6 5 2 5 -5 -3zM1774 3191l6 4 1 5 -4 -2zM1798 3191l6 4 1 5 -4 -2zM1822 3190l6 5 2 5 -5 -3zM265 3214l3 7 -1 4 -2 -3zM288 3210l4 7 -1 5 -3 -4zM312 3209l4 7 0 6 -4 -4zM337 3210l4 6 0 6 -4 -4zM361 3207l4 8 -1 5 -3 -4zM385 3207l4 8 -1 5 -3 -4zM412 3209l3 7 -1 6 -3 -5zM435 3209l4 7 -1 6 -3 -5zM461 3211l3 7 -1 5 -2 -4zM486 3209l3 7 -2 5 -2 -4zM512 3217l2 5 -1 4 -2 -4zM560 3209l3 7 -2 5 -2 -4zM582 3196l4 10 -2 6 -3 -6zM607 3194l4 10 -2 6 -4 -6zM632 3200l4 9 -2 6 -3 -6zM656 3200l4 9 -2 6 -3 -6zM682 3194l3 10 -2 6 -4 -6zM706 3194l4 10 -3 6 -3 -6zM728 3185l5 11 -3 7 -4 -6zM753 3185l5 11 -3 7 -4 -7zM776 3188l5 11 -2 7 -4 -6zM801 3188l5 11 -3 7 -4 -7zM825 3192l4 10 -2 7 -4 -6zM849 3194l4 10 -1 6 -4 -5zM870 3193l5 9 -1 7 -4 -5zM895 3195l5 9 -1 7 -4 -5zM917 3196l6 8 -1 7 -5 -5zM943 3195l6 9 -1 7 -5 -5zM968 3195l6 9 -2 7 -4 -5zM995 3192l5 10 -2 7 -4 -6zM1017 3193l5 9 -1 7 -4 -5zM1043 3192l5 10 -2 7 -4 -6zM1069 3197l4 9 -1 6 -4 -5zM1096 3194l4 10 -3 6 -3 -6zM1119 3194l5 10 -2 6 -4 -5zM1143 3185l5 11 -3 7 -4 -6zM1169 3185l4 11 -2 7 -5 -7zM1192 3188l5 11 -3 7 -4 -7zM1217 3192l4 10 -2 7 -4 -6zM1240 3194l5 10 -2 6 -4 -5zM1265 3194l4 10 -2 6 -3 -5zM1289 3200l5 9 -2 6 -3 -5zM1315 3207l4 8 -1 5 -3 -5zM1338 3200l4 9 -1 6 -4 -5zM1361 3195l5 9 -2 7 -4 -6zM1385 3192l5 10 -1 7 -5 -6zM1408 3193l6 9 -2 7 -4 -5zM1434 3188l5 11 -2 7 -5 -6zM1456 3177l6 11 -2 9 -6 -7zM1477 3175l8 12 -3 9 -5 -7zM1506 3189l6 10 -2 7 -5 -6zM1531 3195l5 9 -1 7 -5 -6zM1552 3186l7 10 -2 8 -5 -6zM1583 3215l4 6 0 4 -3 -3zM1605 3213l5 5 0 5 -4 -3zM1629 3213l5 6 1 5 -4 -3zM1652 3211l6 6 0 5 -4 -3zM1674 3211l7 5 1 5 -5 -3zM1697 3211l7 5 1 5 -4 -2zM1719 3209l8 5 2 6 -6 -3zM1746 3212l7 4 1 6 -5 -3zM1774 3215l6 4 1 5 -4 -2zM1795 3211l7 5 1 5 -4 -2zM1819 3212l7 4 1 6 -5 -3zM265 3242l3 5 0 4 -3 -3zM288 3232l4 8 -1 5 -3 -4zM312 3235l4 7 -1 5 -3 -4zM338 3234l4 7 -1 6 -3 -5zM362 3234l4 7 -1 6 -3 -5zM386 3234l4 7 -1 6 -3 -5zM412 3236l3 7 -1 5 -2 -4zM435 3234l4 7 -1 6 -3 -5zM462 3234l3 7 -2 5 -2 -4zM485 3234l3 7 -1 6 -3 -5zM510 3219l4 10 -3 6 -3 -6zM536 3234l2 8 -1 4 -3 -4zM560 3232l3 8 -2 5 -3 -5zM584 3232l3 8 -2 5 -2 -5zM608 3232l3 8 -2 5 -2 -5zM634 3239l2 7 -1 4 -2 -4zM656 3225l4 9 -2 6 -3 -6zM679 3219l5 10 -2 6 -4 -5zM703 3202l5 12 -3 9 -5 -8zM728 3203l5 12 -3 8 -4 -7zM753 3201l5 12 -4 8 -4 -7zM775 3210l5 11 -2 7 -4 -6zM798 3214l5 10 -1 7 -5 -6zM822 3217l6 10 -2 7 -4 -6zM848 3224l5 8 -1 7 -4 -6zM875 3236l4 7 -1 5 -3 -4zM898 3225l4 9 -1 6 -4 -5zM919 3220l6 9 -1 7 -5 -5zM943 3220l6 9 -1 7 -5 -5zM966 3218l6 9 -1 7 -4 -5zM992 3218l6 9 -1 7 -5 -5zM1020 3219l4 10 -1 6 -4 -5zM1043 3220l5 9 -2 7 -4 -6zM1069 3219l4 10 -1 6 -4 -5zM1094 3219l5 10 -2 6 -4 -5zM1119 3219l4 10 -2 6 -3 -5zM1145 3217l4 10 -3 6 -3 -6zM1168 3210l5 11 -3 7 -4 -6zM1189 3203l6 11 -3 9 -5 -7zM1217 3223l4 9 -2 6 -4 -5zM1241 3219l5 10 -2 6 -4 -5zM1263 3220l5 9 -1 6 -5 -5zM1291 3229l4 8 -2 6 -3 -5zM1315 3232l4 8 -1 5 -4 -5zM1339 3223l4 9 -2 6 -3 -5zM1361 3220l5 9 -1 6 -5 -5zM1386 3220l5 9 -2 7 -4 -6zM1410 3217l5 10 -2 7 -4 -6zM1433 3217l5 10 -1 7 -5 -6zM1459 3220l5 9 -2 6 -4 -5zM1483 3213l6 11 -3 7 -4 -6zM1505 3214l6 10 -1 7 -5 -6zM1531 3217l5 10 -1 7 -4 -6zM1557 3230l5 7 -1 6 -4 -4zM1584 3243l4 4 -1 4 -2 -3zM1607 3240l4 6 0 4 -3 -3zM1630 3238l5 5 0 5 -3 -3zM1656 3243l4 4 0 4 -3 -2zM1681 3244l4 3 0 4 -3 -2zM1702 3242l5 4 2 5 -4 -3zM1729 3244l4 3 1 4 -3 -2zM1753 3244l4 3 1 4 -3 -2zM1776 3242l6 4 1 4 -4 -2zM1800 3242l5 4 2 5 -4 -3zM1824 3242l6 4 1 4 -4 -2zM266 3267l2 5 0 4 -3 -3zM287 3258l5 7 -1 5 -4 -4zM312 3259l4 7 0 6 -4 -4zM338 3259l4 7 -1 6 -3 -5zM361 3260l4 6 0 6 -4 -4zM386 3259l4 7 -1 6 -3 -5zM412 3261l3 7 -1 5 -3 -4zM435 3259l4 7 -1 6 -3 -5zM462 3259l3 7 -2 5 -2 -4zM485 3259l4 7 -2 5 -3 -4zM510 3244l4 10 -3 6 -3 -6zM535 3259l3 7 -2 5 -2 -4zM560 3257l3 8 -2 5 -2 -5zM583 3257l4 8 -2 5 -3 -5zM608 3257l3 8 -2 5 -2 -5zM634 3264l2 7 -1 4 -2 -4zM657 3250l3 9 -2 6 -3 -6zM680 3244l4 10 -2 6 -4 -6zM705 3225l5 12 -4 9 -5 -8zM729 3228l5 12 -3 8 -5 -7zM750 3228l5 12 -2 8 -5 -7zM776 3235l5 11 -3 7 -4 -6zM799 3238l5 11 -2 7 -5 -6zM822 3242l6 10 -2 7 -4 -6zM849 3248l5 9 -2 6 -4 -5zM875 3262l4 6 -1 5 -3 -4zM897 3251l5 8 -1 6 -4 -5zM918 3245l6 9 -1 7 -5 -5zM943 3245l6 9 -1 7 -5 -5zM967 3243l6 9 -1 7 -5 -5zM994 3242l6 10 -2 7 -4 -6zM1018 3245l5 9 -1 7 -5 -6zM1044 3244l5 10 -2 6 -4 -5zM1070 3244l4 10 -2 6 -3 -5zM1093 3244l5 10 -2 6 -4 -5zM1119 3244l4 10 -2 6 -4 -5zM1144 3242l5 10 -3 7 -4 -7zM1166 3235l5 11 -2 7 -4 -6zM1189 3231l6 12 -3 8 -5 -7zM1217 3248l4 9 -2 6 -3 -5zM1242 3244l4 10 -2 6 -4 -6zM1263 3244l5 10 -1 6 -4 -5zM1291 3254l4 8 -2 5 -3 -4zM1314 3257l4 8 -1 5 -3 -4zM1339 3248l4 9 -1 6 -4 -5zM1362 3244l5 10 -2 6 -4 -5zM1387 3244l4 10 -1 6 -4 -5zM1411 3242l5 10 -2 7 -4 -6zM1434 3242l5 10 -2 7 -4 -6zM1460 3244l4 10 -1 6 -4 -5zM1481 3239l6 10 -2 7 -5 -6zM1507 3239l5 10 -1 7 -5 -6zM1529 3243l6 9 -1 7 -5 -5zM1556 3255l5 7 0 6 -4 -4zM1585 3268l3 4 0 4 -3 -3zM1606 3265l5 6 0 4 -3 -3zM1629 3263l5 6 1 5 -4 -3zM1656 3268l4 4 0 4 -3 -2zM1680 3269l5 3 0 4 -3 -2zM1702 3267l6 4 1 4 -4 -2zM1729 3269l4 3 1 4 -3 -2zM1753 3269l4 3 1 4 -3 -2zM1776 3267l6 4 1 4 -4 -2zM1800 3267l5 4 2 5 -4 -3zM1824 3267l5 4 2 4 -4 -2z" fill="#000" stroke="#000" stroke-width="1.2" stroke-linejoin="round"/></g>
<path d="M259.0 3278.3V1892.5H1836.8" stroke="#262626" stroke-width="3.6" fill="none" stroke-linecap="square"/>
<path d="M1836.8 1892.5V3278.3H259.0" stroke="#262626" stroke-width="1.6" fill="none"/>
<text x="497.5" y="3344.8" text-anchor="middle" class="t">20</text>
<text x="753.9" y="3344.8" text-anchor="middle" class="t">40</text>
<text x="1010.3" y="3344.8" text-anchor="middle" class="t">60</text>
<text x="1266.7" y="3344.8" text-anchor="middle" class="t">80</text>
<text x="1523.1" y="3344.8" text-anchor="middle" class="t">100</text>
<text x="1779.5" y="3344.8" text-anchor="middle" class="t">120</text>
<text x="235.5" y="1906.6" text-anchor="end" class="t">0</text>
<text x="235.5" y="2035.4" text-anchor="end" class="t">10</text>
<text x="235.5" y="2164.2" text-anchor="end" class="t">20</text>
<text x="235.5" y="2293.0" text-anchor="end" class="t">30</text>
<text x="235.5" y="2421.8" text-anchor="end" class="t">40</text>
<text x="235.5" y="2550.6" text-anchor="end" class="t">50</text>
<text x="235.5" y="2679.5" text-anchor="end" class="t">60</text>
<text x="235.5" y="2808.3" text-anchor="end" class="t">70</text>
<text x="235.5" y="2937.1" text-anchor="end" class="t">80</text>
<text x="235.5" y="3065.9" text-anchor="end" class="t">90</text>
<text x="235.5" y="3194.7" text-anchor="end" class="t">100</text>
<text x="1046" y="3436.8" text-anchor="middle" class="l">x (mm)</text>
<text transform="translate(111 2587.4) rotate(-90)" text-anchor="middle" class="l">y (mm)</text>
<rect x="1880.0" y="1894.3" width="84.0" height="1384.7" fill="url(#jet)"/>
<text x="1986" y="3118.3" class="t">0.01</text>
<text x="1986" y="2916.1" class="t">0.02</text>
<text x="1986" y="2713.9" class="t">0.03</text>
<text x="1986" y="2511.7" class="t">0.04</text>
<text x="1986" y="2309.5" class="t">0.05</text>
<text x="1986" y="2107.3" class="t">0.06</text>
<text x="1986" y="1905.1" class="t">0.07</text>
<path d="M1964.0 3108.3h-14M1964.0 2906.1h-14M1964.0 2703.9h-14M1964.0 2501.7h-14M1964.0 2299.5h-14M1964.0 2097.3h-14" stroke="#262626" stroke-width="3.4" fill="none"/>
<rect x="1880.0" y="1895.8" width="84.0" height="1382.2" fill="none" stroke="#262626" stroke-width="3.6"/>
<text x="1917" y="1878.8" text-anchor="middle" class="m">m/s</text>
<text x="1132" y="3609.8" text-anchor="middle" class="c">(<tspan font-weight="bold">f</tspan>)</text>
</svg>
</body></html>
